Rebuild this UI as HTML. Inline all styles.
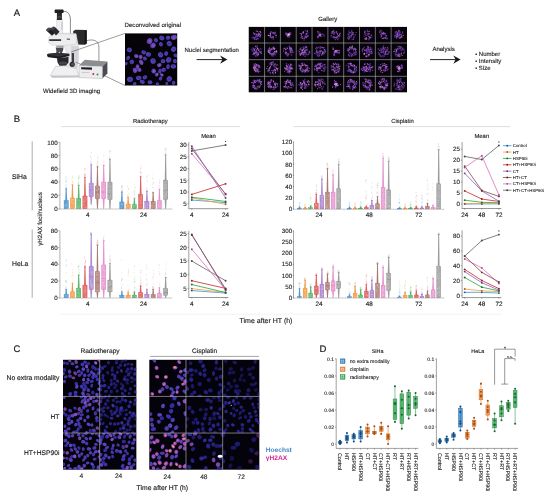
<!DOCTYPE html>
<html><head><meta charset="utf-8"><title>Figure</title>
<style>
html,body{margin:0;padding:0;background:#fff;}
svg{display:block;font-family:"Liberation Sans", sans-serif;text-rendering:geometricPrecision;}
</style></head>
<body>
<svg width="550" height="497" viewBox="0 0 550 497">
<defs>
<filter id="b1" x="-20%" y="-20%" width="140%" height="140%"><feGaussianBlur stdDeviation="0.45"/></filter>
<filter id="b2" x="-20%" y="-20%" width="140%" height="140%"><feGaussianBlur stdDeviation="0.7"/></filter>
<filter id="b3" x="-20%" y="-20%" width="140%" height="140%"><feGaussianBlur stdDeviation="0.3"/></filter>
</defs>
<rect x="0" y="0" width="550" height="497" fill="#fff"/>
<g id="panelA">
<text x="13.7" y="15.9" font-size="9.5" text-anchor="start" fill="#202020" stroke="#202020" stroke-width="0.19" >A</text>
<g id="scope">
<path d="M62.5 11.6 C67.5 10.5 70.4 14 70.4 20 L70.4 34" fill="none" stroke="#3a3a3a" stroke-width="0.6"/>
<path d="M86 41 C93 38.5 98.9 40.5 98.9 47 L98.9 61" fill="none" stroke="#6a6a6a" stroke-width="0.7"/>
<path d="M73.2 31 L75.6 29.7 L86.7 30 L86.7 43.6 L84.6 44.8 L73.2 44.4 Z" fill="#2a2a2c"/>
<path d="M84.6 31.2 L86.7 30 L86.7 43.6 L84.6 44.8 Z" fill="#18181a"/>
<path d="M62 33 L76 33.5 L78.6 46 L78.4 60 L76.8 70 L78.6 77 L52 77.3 L50.6 75.3 L55.6 66.5 L66 66 L68 56 L64.6 47 L60 45.6 Z" fill="#e9e9ec" stroke="#b9b9bf" stroke-width="0.35"/>
<path d="M71 46 L78.6 46 L78.4 60 L76.8 70 L73 70 Z" fill="#d4d4da"/>
<path d="M55.6 66.5 L66 66 L76.8 69 L78.8 77 L52 77.4 L50.4 75.4 Z" fill="#f0f0f2" stroke="#b5b5bb" stroke-width="0.35"/>
<path d="M50.4 75.4 L52 77.4 L78.8 77 L78.6 75.6 Z" fill="#c4c4ca"/>
<path d="M51 35.2 Q54 33.6 60 33.8 L76.2 34.2 L76.6 44 L62 45.8 L51 45 Q48.2 43.6 48.4 39.8 Q48.4 36.6 51 35.2 Z" fill="#ededf0" stroke="#b9b9bf" stroke-width="0.35"/>
<rect x="49.3" y="39.2" width="11.8" height="1.8" fill="#35353a"/>
<rect x="66.8" y="38.6" width="3.2" height="1.2" fill="#55555c"/>
<rect x="56.8" y="19.6" width="5.8" height="13.6" fill="#efeff2" stroke="#b9b9bf" stroke-width="0.35"/>
<rect x="61.3" y="22" width="1.3" height="8" fill="#c9c9cf"/>
<rect x="56.9" y="13" width="5" height="7" fill="#2b2b2e"/>
<rect x="54.6" y="9.6" width="9" height="3.4" rx="0.8" fill="#1f1f22"/>
<rect x="57.6" y="16.4" width="3.6" height="1.2" fill="#55555a"/>
<path d="M46 30.2 L50.4 27.8 L55.4 32.4 L52 35.8 Z" fill="#202024"/>
<path d="M50.6 29 L55 27 L59.6 31.8 L56 35.4 Z" fill="#2a2a2f"/>
<ellipse cx="48.4" cy="29.4" rx="2.3" ry="1.5" fill="#48484f" transform="rotate(-28 48.4 29.4)"/>
<ellipse cx="52.9" cy="28.2" rx="2.3" ry="1.5" fill="#48484f" transform="rotate(-28 52.9 28.2)"/>
<path d="M55.6 47.4 L63.4 47.6 L63.2 50 L61.8 53.6 L60 53.6 L59.6 51.4 L57.8 53.4 L56.2 53 L56.4 50.4 Z" fill="#4a4a50"/>
<rect x="56.2" y="45.6" width="7.4" height="2" fill="#a6a6ac"/>
<path d="M47 54.8 Q47 53.6 49 53.4 L58 52.8 L69.4 53.8 L69.4 56 L58.6 58.6 L48.4 57.2 Q46.8 56.6 47 54.8 Z" fill="#1f1f23"/>
<path d="M47.4 54.6 L58 52.9 L69.2 53.9 L58.8 56.6 Z" fill="#34343a"/>
<path d="M57 58 L68.6 57 L68.4 62.4 L66 65.6 L59.6 65.8 L57.6 62.6 Z" fill="#26262a"/>
<ellipse cx="62.8" cy="63" rx="4.2" ry="1.5" fill="#45454c"/>
<rect x="71.6" y="53" width="2.4" height="9" fill="#3c3c42"/>
<circle cx="72.2" cy="64.3" r="2.6" fill="#2a2a2e"/>
<circle cx="72.6" cy="64.3" r="1.4" fill="#55555c"/>
</g>
<line x1="71" y1="52" x2="125" y2="33.4" stroke="#4a4a4a" stroke-width="0.55" />
<line x1="75.7" y1="62" x2="125" y2="85.5" stroke="#4a4a4a" stroke-width="0.55" />
<g id="ctrl">
<path d="M79 65.6 L84.8 59.8 L107.4 61.4 L102.4 66.4 Z" fill="#8e8e92"/>
<path d="M102.4 66.4 L107.4 61.4 L107.4 73.4 L102.4 78.6 Z" fill="#4c4c50"/>
<path d="M79 65.6 L102.4 66.4 L102.4 78.6 L79 77.6 Z" fill="#ececee" stroke="#8a8a8e" stroke-width="0.35"/>
<rect x="81.2" y="67.2" width="10.8" height="2.1" fill="#1c1c1f" transform="rotate(2 81 67)"/>
<circle cx="93.3" cy="74" r="1" fill="#d02626"/>
<circle cx="97.5" cy="74.4" r="1" fill="#2d9a3c"/>
<rect x="81.6" y="72" width="8" height="0.5" fill="#aaa" transform="rotate(2 81 72)"/>
</g>
<text x="71.6" y="92.9" font-size="6.05" text-anchor="middle" fill="#202020" stroke="#202020" stroke-width="0.12" >Widefield 3D imaging</text>
<text x="152.8" y="26.8" font-size="6.08" text-anchor="middle" fill="#202020" stroke="#202020" stroke-width="0.12" >Deconvolved original</text>
<rect x="125" y="33.4" width="52.2" height="52.1" fill="#050208"/>
<g filter="url(#b1)" clip-path="url(#clipA)">
<ellipse cx="149.57" cy="41.1" rx="3.13" ry="2.68" fill="#6648be" opacity="0.92" transform="rotate(119 149.57 41.1)"/>
<circle cx="149.87" cy="41.3" r="1.47" fill="#a058c0" opacity="0.6"/>
<ellipse cx="155.93" cy="40.23" rx="2.19" ry="2" fill="#5444c0" opacity="0.92" transform="rotate(48 155.93 40.23)"/>
<circle cx="155.54" cy="40.24" r="0.78" fill="#2a1e80" opacity="0.4"/>
<ellipse cx="161.79" cy="37.98" rx="2.61" ry="2.26" fill="#5444c0" opacity="0.92" transform="rotate(24 161.79 37.98)"/>
<circle cx="161.72" cy="37.47" r="0.9" fill="#2a1e80" opacity="0.4"/>
<ellipse cx="168.03" cy="37.73" rx="2.24" ry="2.02" fill="#5444c0" opacity="0.92" transform="rotate(162 168.03 37.73)"/>
<circle cx="167.46" cy="38.33" r="0.78" fill="#2a1e80" opacity="0.4"/>
<ellipse cx="173.89" cy="37.36" rx="3.16" ry="2.47" fill="#6648be" opacity="0.92" transform="rotate(157 173.89 37.36)"/>
<circle cx="174.19" cy="37.56" r="1.32" fill="#a058c0" opacity="0.6"/>
<ellipse cx="153.06" cy="45.47" rx="2.95" ry="2.45" fill="#6648be" opacity="0.92" transform="rotate(135 153.06 45.47)"/>
<circle cx="153.36" cy="45.67" r="1.32" fill="#a058c0" opacity="0.6"/>
<ellipse cx="160.92" cy="44.22" rx="2.27" ry="1.9" fill="#5444c0" opacity="0.92" transform="rotate(61 160.92 44.22)"/>
<circle cx="161.06" cy="44.61" r="0.9" fill="#2a1e80" opacity="0.4"/>
<ellipse cx="169.28" cy="43.59" rx="2.73" ry="2.43" fill="#5444c0" opacity="0.92" transform="rotate(50 169.28 43.59)"/>
<circle cx="169.31" cy="43.82" r="1.01" fill="#2a1e80" opacity="0.4"/>
<ellipse cx="173.64" cy="49.21" rx="2.85" ry="2.47" fill="#5444c0" opacity="0.92" transform="rotate(117 173.64 49.21)"/>
<circle cx="173.89" cy="49.06" r="1.01" fill="#2a1e80" opacity="0.4"/>
<ellipse cx="129.36" cy="49.83" rx="2.56" ry="2.32" fill="#5444c0" opacity="0.92" transform="rotate(21 129.36 49.83)"/>
<circle cx="129.65" cy="49.57" r="0.9" fill="#2a1e80" opacity="0.4"/>
<ellipse cx="143.7" cy="52.33" rx="2.37" ry="2.02" fill="#5444c0" opacity="0.92" transform="rotate(17 143.7 52.33)"/>
<circle cx="143.79" cy="51.77" r="0.9" fill="#2a1e80" opacity="0.4"/>
<ellipse cx="148.44" cy="54.45" rx="2.59" ry="2.27" fill="#5444c0" opacity="0.92" transform="rotate(17 148.44 54.45)"/>
<circle cx="149.17" cy="55" r="1.01" fill="#2a1e80" opacity="0.4"/>
<ellipse cx="136.22" cy="56.07" rx="2.24" ry="1.98" fill="#6648be" opacity="0.92" transform="rotate(13 136.22 56.07)"/>
<circle cx="136.52" cy="56.27" r="1.18" fill="#a058c0" opacity="0.6"/>
<ellipse cx="140.58" cy="56.94" rx="2.2" ry="2.05" fill="#6648be" opacity="0.92" transform="rotate(101 140.58 56.94)"/>
<circle cx="140.88" cy="57.14" r="1.03" fill="#a058c0" opacity="0.6"/>
<ellipse cx="160.54" cy="54.82" rx="2.8" ry="2.42" fill="#5444c0" opacity="0.92" transform="rotate(50 160.54 54.82)"/>
<circle cx="160.99" cy="54.46" r="1.01" fill="#2a1e80" opacity="0.4"/>
<ellipse cx="166.16" cy="53.57" rx="2.29" ry="2.04" fill="#5444c0" opacity="0.92" transform="rotate(104 166.16 53.57)"/>
<circle cx="166.52" cy="53.03" r="0.9" fill="#2a1e80" opacity="0.4"/>
<ellipse cx="175.51" cy="55.45" rx="2.08" ry="1.69" fill="#5444c0" opacity="0.92" transform="rotate(15 175.51 55.45)"/>
<circle cx="175.47" cy="55.43" r="0.78" fill="#2a1e80" opacity="0.4"/>
<ellipse cx="128.11" cy="57.94" rx="2.31" ry="1.73" fill="#5444c0" opacity="0.92" transform="rotate(130 128.11 57.94)"/>
<circle cx="127.73" cy="58.23" r="0.78" fill="#2a1e80" opacity="0.4"/>
<ellipse cx="144.95" cy="58.56" rx="2.03" ry="1.91" fill="#5444c0" opacity="0.92" transform="rotate(29 144.95 58.56)"/>
<circle cx="144.82" cy="59.17" r="0.78" fill="#2a1e80" opacity="0.4"/>
<ellipse cx="131.85" cy="61.93" rx="2.24" ry="2.29" fill="#5444c0" opacity="0.92" transform="rotate(151 131.85 61.93)"/>
<circle cx="131.57" cy="62.48" r="0.9" fill="#2a1e80" opacity="0.4"/>
<ellipse cx="125.99" cy="63.55" rx="1.77" ry="1.55" fill="#5444c0" opacity="0.92" transform="rotate(154 125.99 63.55)"/>
<circle cx="126.14" cy="63.13" r="0.67" fill="#2a1e80" opacity="0.4"/>
<ellipse cx="141.21" cy="62.31" rx="2.82" ry="1.98" fill="#6648be" opacity="0.92" transform="rotate(66 141.21 62.31)"/>
<circle cx="141.51" cy="62.51" r="1.18" fill="#a058c0" opacity="0.6"/>
<ellipse cx="153.06" cy="61.06" rx="2.8" ry="2.71" fill="#5444c0" opacity="0.92" transform="rotate(75 153.06 61.06)"/>
<circle cx="152.86" cy="60.31" r="1.12" fill="#2a1e80" opacity="0.4"/>
<ellipse cx="163.04" cy="61.06" rx="2.36" ry="2.18" fill="#5444c0" opacity="0.92" transform="rotate(3 163.04 61.06)"/>
<circle cx="163.18" cy="60.88" r="0.9" fill="#2a1e80" opacity="0.4"/>
<ellipse cx="168.65" cy="59.81" rx="2.82" ry="2.63" fill="#5444c0" opacity="0.92" transform="rotate(123 168.65 59.81)"/>
<circle cx="169.18" cy="59.23" r="1.01" fill="#2a1e80" opacity="0.4"/>
<ellipse cx="174.89" cy="61.06" rx="2.16" ry="1.91" fill="#5444c0" opacity="0.92" transform="rotate(79 174.89 61.06)"/>
<circle cx="175.4" cy="61.45" r="0.78" fill="#2a1e80" opacity="0.4"/>
<ellipse cx="159.3" cy="65.05" rx="2.38" ry="1.97" fill="#6648be" opacity="0.92" transform="rotate(161 159.3 65.05)"/>
<circle cx="159.6" cy="65.25" r="1.18" fill="#a058c0" opacity="0.6"/>
<ellipse cx="168.03" cy="66.67" rx="2.44" ry="1.73" fill="#5444c0" opacity="0.92" transform="rotate(99 168.03 66.67)"/>
<circle cx="168.5" cy="66.8" r="0.78" fill="#2a1e80" opacity="0.4"/>
<ellipse cx="173.39" cy="66.42" rx="2.8" ry="2.17" fill="#5444c0" opacity="0.92" transform="rotate(9 173.39 66.42)"/>
<circle cx="173.41" cy="66.03" r="1.01" fill="#2a1e80" opacity="0.4"/>
<ellipse cx="137.47" cy="66.67" rx="2.34" ry="1.81" fill="#6648be" opacity="0.92" transform="rotate(107 137.47 66.67)"/>
<circle cx="137.77" cy="66.87" r="1.03" fill="#a058c0" opacity="0.6"/>
<ellipse cx="134.97" cy="70.42" rx="2.72" ry="2.17" fill="#6648be" opacity="0.92" transform="rotate(75 134.97 70.42)"/>
<circle cx="135.27" cy="70.62" r="1.18" fill="#a058c0" opacity="0.6"/>
<ellipse cx="139.34" cy="69.79" rx="2.23" ry="2.03" fill="#6648be" opacity="0.92" transform="rotate(17 139.34 69.79)"/>
<circle cx="139.64" cy="69.99" r="1.03" fill="#a058c0" opacity="0.6"/>
<ellipse cx="163.66" cy="69.79" rx="2.31" ry="2.11" fill="#5444c0" opacity="0.92" transform="rotate(167 163.66 69.79)"/>
<circle cx="164.16" cy="69.95" r="0.9" fill="#2a1e80" opacity="0.4"/>
<ellipse cx="153.68" cy="71.04" rx="2.4" ry="2.32" fill="#6648be" opacity="0.92" transform="rotate(52 153.68 71.04)"/>
<circle cx="153.98" cy="71.24" r="1.18" fill="#a058c0" opacity="0.6"/>
<ellipse cx="159.92" cy="71.04" rx="2.34" ry="1.68" fill="#5444c0" opacity="0.92" transform="rotate(105 159.92 71.04)"/>
<circle cx="159.85" cy="70.5" r="0.78" fill="#2a1e80" opacity="0.4"/>
<ellipse cx="156.8" cy="74.41" rx="2.05" ry="1.8" fill="#6648be" opacity="0.92" transform="rotate(146 156.8 74.41)"/>
<circle cx="157.1" cy="74.61" r="1.03" fill="#a058c0" opacity="0.6"/>
<ellipse cx="161.79" cy="74.78" rx="2.11" ry="1.45" fill="#6648be" opacity="0.92" transform="rotate(35 161.79 74.78)"/>
<circle cx="162.09" cy="74.98" r="0.88" fill="#a058c0" opacity="0.6"/>
<ellipse cx="129.98" cy="79.4" rx="3.11" ry="2.64" fill="#5444c0" opacity="0.92" transform="rotate(168 129.98 79.4)"/>
<circle cx="130.35" cy="79.43" r="1.01" fill="#2a1e80" opacity="0.4"/>
<ellipse cx="138.71" cy="77.9" rx="2.8" ry="2.16" fill="#5444c0" opacity="0.92" transform="rotate(4 138.71 77.9)"/>
<circle cx="138.68" cy="77.7" r="0.9" fill="#2a1e80" opacity="0.4"/>
<ellipse cx="144.95" cy="77.28" rx="2.42" ry="1.9" fill="#5444c0" opacity="0.92" transform="rotate(153 144.95 77.28)"/>
<circle cx="145.14" cy="77.25" r="0.9" fill="#2a1e80" opacity="0.4"/>
<ellipse cx="142.21" cy="81.89" rx="2.67" ry="2.03" fill="#5444c0" opacity="0.92" transform="rotate(18 142.21 81.89)"/>
<circle cx="141.61" cy="81.96" r="0.9" fill="#2a1e80" opacity="0.4"/>
<ellipse cx="149.94" cy="82.27" rx="2.34" ry="2.02" fill="#5444c0" opacity="0.92" transform="rotate(180 149.94 82.27)"/>
<circle cx="149.48" cy="82.84" r="0.78" fill="#2a1e80" opacity="0.4"/>
<ellipse cx="160.54" cy="78.52" rx="2.13" ry="1.68" fill="#5444c0" opacity="0.92" transform="rotate(121 160.54 78.52)"/>
<circle cx="161.04" cy="78.98" r="0.78" fill="#2a1e80" opacity="0.4"/>
<ellipse cx="169.28" cy="78.9" rx="2.79" ry="2.54" fill="#5444c0" opacity="0.92" transform="rotate(127 169.28 78.9)"/>
<circle cx="169.39" cy="79.1" r="1.01" fill="#2a1e80" opacity="0.4"/>
<ellipse cx="134.72" cy="83.76" rx="1.85" ry="1.62" fill="#5444c0" opacity="0.92" transform="rotate(155 134.72 83.76)"/>
<circle cx="134.27" cy="83.33" r="0.67" fill="#2a1e80" opacity="0.4"/>
<ellipse cx="173.64" cy="82.89" rx="2.02" ry="1.75" fill="#5444c0" opacity="0.92" transform="rotate(106 173.64 82.89)"/>
<circle cx="173.92" cy="82.75" r="0.78" fill="#2a1e80" opacity="0.4"/>
<ellipse cx="166.78" cy="83.51" rx="1.67" ry="1.35" fill="#5444c0" opacity="0.92" transform="rotate(112 166.78 83.51)"/>
<circle cx="166.75" cy="83.55" r="0.56" fill="#2a1e80" opacity="0.4"/>
<ellipse cx="157.43" cy="84.14" rx="1.91" ry="1.59" fill="#5444c0" opacity="0.92" transform="rotate(79 157.43 84.14)"/>
<circle cx="157.53" cy="84.12" r="0.67" fill="#2a1e80" opacity="0.4"/>
</g>
<defs><clipPath id="clipA"><rect x="125" y="33.4" width="52.2" height="52.1"/></clipPath></defs>
<text x="211.7" y="51.7" font-size="6" text-anchor="middle" fill="#202020" stroke="#202020" stroke-width="0.12" >Nuclei segmentation</text>
<line x1="196.6" y1="59.6" x2="224.4" y2="59.6" stroke="#1a1a1a" stroke-width="0.95" />
<path d="M227.4 59.6 L220.1 55.5 L222.4 59.6 L220.1 63.7 Z" fill="#1a1a1a"/>
<text x="443.6" y="51.2" font-size="6" text-anchor="middle" fill="#202020" stroke="#202020" stroke-width="0.12" >Analysis</text>
<line x1="430" y1="59.6" x2="457.6" y2="59.6" stroke="#1a1a1a" stroke-width="0.95" />
<path d="M460.6 59.6 L453.3 55.5 L455.6 59.6 L453.3 63.7 Z" fill="#1a1a1a"/>
<text x="475.2" y="55.5" font-size="5.5" text-anchor="start" fill="#202020" stroke="#202020" stroke-width="0.11" >•</text>
<text x="478.8" y="55.5" font-size="6" text-anchor="start" fill="#202020" stroke="#202020" stroke-width="0.12" >Number</text>
<text x="475.2" y="62.5" font-size="5.5" text-anchor="start" fill="#202020" stroke="#202020" stroke-width="0.11" >•</text>
<text x="478.8" y="62.5" font-size="6" text-anchor="start" fill="#202020" stroke="#202020" stroke-width="0.12" >Intensity</text>
<text x="475.2" y="69.5" font-size="5.5" text-anchor="start" fill="#202020" stroke="#202020" stroke-width="0.11" >•</text>
<text x="478.8" y="69.5" font-size="6" text-anchor="start" fill="#202020" stroke="#202020" stroke-width="0.12" >Size</text>
<text x="327.8" y="20.6" font-size="6" text-anchor="middle" fill="#202020" stroke="#202020" stroke-width="0.12" >Gallery</text>
<rect x="248.75" y="26.9" width="158.25" height="65.4" fill="#060309"/>
<g filter="url(#b3)" stroke-linecap="round" fill="none">
<path d="M258.29 35.43h0M259.2 34.17h0M254.16 37.39h0M252.27 37.64h0M256.79 35.32h0M255.76 34.08h0M257.96 38.68h0M254.28 38.71h0M252.49 37.58h0M257.12 36.15h0M255.9 35.96h0M256.38 39.28h0" stroke="#4a2a98" stroke-width="1.7" opacity="0.9"/>
<path d="M256.5 34.73h0M254.99 38.64h0M254.45 39.3h0M260.12 37.05h0M253.95 34.34h0M259.25 36.45h0M258.23 35.49h0M256.38 34.87h0M257.91 35.75h0M260.87 34.4h0M257.85 38.85h0M256.75 33.91h0M260.87 32.86h0M257.06 36.38h0M260.55 36.46h0M259.14 33.86h0" stroke="#6a3cb4" stroke-width="1.4" opacity="0.85"/>
<path d="M255.77 37.39h0M254.6 33.63h0M259.66 34.82h0M256.92 31.23h0M256.2 39.51h0M258.59 34.25h0" stroke="#9a55cc" stroke-width="1.15" opacity="0.85"/>
<path d="M254.35 33.85h0M260.51 31.65h0M258.78 33.09h0M257.04 34.48h0M257.58 31.56h0M258.45 35.12h0M257.09 38.28h0M253.96 37.71h0M256.2 30.82h0M260.44 32.27h0M258.91 33.51h0M259.9 35h0" stroke="#d070c4" stroke-width="1.0" opacity="0.9"/>
<path d="M260.7 35.44h0M259.24 31.67h0" stroke="#f09aa8" stroke-width="0.9" opacity="0.9"/>
<path d="M253.36 32.87h0" stroke="#fbd6dc" stroke-width="0.7" opacity="0.9"/>
<path d="M271.91 37.06h0M271.06 31.49h0M270.78 31.91h0M270.6 35.43h0M273.61 33.19h0M273.17 36.78h0M271.41 31.88h0" stroke="#4a2a98" stroke-width="1.7" opacity="0.9"/>
<path d="M270.88 37.58h0M273.15 38.95h0M272.37 32.93h0M276.08 36.99h0M275.01 34.28h0M270.07 36.82h0M269.39 35.57h0M275.43 32.32h0M272.66 36.94h0" stroke="#6a3cb4" stroke-width="1.4" opacity="0.85"/>
<path d="M273.99 32.39h0M270.53 33.81h0M270.72 32.77h0M270.41 35.9h0M275.55 35.47h0M271.38 37.85h0M270 33.3h0" stroke="#9a55cc" stroke-width="1.15" opacity="0.85"/>
<path d="M273.09 32.3h0M273.22 36.86h0M274.05 33.69h0M275.13 33.29h0M270.52 36.26h0M270.49 34.59h0M273.05 37.78h0" stroke="#d070c4" stroke-width="1.0" opacity="0.9"/>
<path d="M276.4 35.2h0M270.24 33.67h0M268.09 35.27h0M268.98 35.58h0" stroke="#f09aa8" stroke-width="0.9" opacity="0.9"/>
<path d="M268.55 35.58h0" stroke="#fbd6dc" stroke-width="0.7" opacity="0.9"/>
<path d="M289.56 34.48h0M287.99 35.3h0M286.45 33.38h0M286.43 34.37h0M288.01 35.31h0M288.13 34.38h0M289.31 34.4h0M288.24 34.98h0M288.99 35.04h0M289.01 33.6h0M288.25 37h0" stroke="#4a2a98" stroke-width="1.7" opacity="0.9"/>
<path d="M288.82 35.18h0M289.11 34.65h0M288.3 35.72h0M288.6 34.07h0M289.71 33.19h0M287.43 33.76h0M286.94 35.24h0M289.61 36.93h0" stroke="#6a3cb4" stroke-width="1.4" opacity="0.85"/>
<path d="M289.23 35.61h0M285.82 33.94h0M286.99 35.52h0M285.66 34.21h0M288.35 35.03h0M288.52 33.34h0M288.41 34.96h0M289.05 35.97h0" stroke="#9a55cc" stroke-width="1.15" opacity="0.85"/>
<path d="M290.64 34.16h0M286 33h0M290.85 33.04h0M289.79 32.75h0M287.57 36.64h0" stroke="#d070c4" stroke-width="1.0" opacity="0.9"/>
<path d="M288.67 34.97h0M288.11 35.56h0M288.32 34.34h0M288.43 34.92h0M289.39 34.66h0M288.44 35.13h0M287.4 35.26h0" stroke="#f09aa8" stroke-width="0.9" opacity="0.9"/>
<path d="M288.73 33.72h0M288.28 34.58h0M288.46 34.9h0M287.48 34h0M289.87 34.17h0M289.43 34.83h0" stroke="#fbd6dc" stroke-width="0.7" opacity="0.9"/>
<path d="M307.74 32.92h0M304.75 36.95h0M301.31 37.31h0M305.23 36.71h0M305.78 35.95h0M303.51 31.81h0M305.98 37.83h0M305.71 36.13h0M308.05 35.91h0M306.51 33.91h0" stroke="#4a2a98" stroke-width="1.7" opacity="0.9"/>
<path d="M306.77 33.42h0M301.29 34.8h0M308.02 36.2h0M305.32 30.67h0M306.11 34.29h0M307.63 35.46h0M302.26 33.12h0M304.06 39.92h0M302.97 32.2h0M307.78 36.56h0" stroke="#6a3cb4" stroke-width="1.4" opacity="0.85"/>
<path d="M301.68 33.57h0M301.18 37.91h0M306.05 36.96h0M303.2 38.07h0M302.55 36.69h0M303.31 32.82h0M307.01 31.27h0M302.44 38.43h0M307.41 30.93h0M305.53 36.3h0" stroke="#9a55cc" stroke-width="1.15" opacity="0.85"/>
<path d="M301.49 34.87h0M306.53 37.44h0M303.36 32.86h0M301.49 36.23h0M304.47 38.37h0M306.2 33.81h0M306.87 36.33h0" stroke="#d070c4" stroke-width="1.0" opacity="0.9"/>
<path d="M300.14 33.56h0M307.35 31.08h0" stroke="#f09aa8" stroke-width="0.9" opacity="0.9"/>
<path d="M303.52 31.97h0" stroke="#fbd6dc" stroke-width="0.7" opacity="0.9"/>
<path d="M318.81 35.87h0M323.73 34.68h0M319.79 34.94h0M320.16 34.77h0M320.42 33.93h0" stroke="#4a2a98" stroke-width="1.7" opacity="0.9"/>
<path d="M321.67 36.39h0M321.4 36.19h0M319 34.17h0M319.79 35.13h0M319.85 34.89h0M319.5 34.48h0M318.72 34.3h0M322.45 34.17h0M317.9 37.86h0M321.13 34.41h0M317.95 36.57h0M318.6 35.77h0M319.75 34.87h0M324.16 36.07h0M319.98 35.06h0M320.12 35.09h0" stroke="#6a3cb4" stroke-width="1.4" opacity="0.85"/>
<path d="M318.18 37.15h0M318.16 32.82h0M320.19 35.61h0M317.94 31.7h0M320.62 34.25h0M320.01 35.26h0" stroke="#9a55cc" stroke-width="1.15" opacity="0.85"/>
<path d="M320.11 35.93h0M320.03 34.8h0M319.38 34.88h0M320.34 34.79h0M317.5 36.65h0M319.93 35.68h0" stroke="#d070c4" stroke-width="1.0" opacity="0.9"/>
<path d="M320.21 35.82h0M317.91 31.61h0M319.87 33.03h0" stroke="#f09aa8" stroke-width="0.9" opacity="0.9"/>
<path d="M337.44 37.27h0M334.99 37.15h0M337.8 36.02h0M338.19 38.06h0M331.93 31.78h0M333.84 34.16h0" stroke="#4a2a98" stroke-width="1.7" opacity="0.9"/>
<path d="M336.36 32.72h0M339.68 33.61h0M336.92 37.06h0M337.13 36.55h0M336.33 31.88h0M339.77 36.17h0M334.26 33.05h0M331.33 33.27h0M334.78 38.05h0M337.38 33.64h0M338.77 35.56h0M334.82 32.83h0M339.59 36.49h0M333.2 36.64h0M332.25 32.1h0" stroke="#6a3cb4" stroke-width="1.4" opacity="0.85"/>
<path d="M336.77 37.59h0M335.3 37.62h0M336.2 31.73h0M332.22 33h0M336.93 32.05h0M333.13 33.23h0M335.25 39.56h0M333.69 30.41h0M333.09 37.42h0M331.43 35.68h0M333.84 36.89h0M334.83 37.4h0M331.1 35.9h0" stroke="#9a55cc" stroke-width="1.15" opacity="0.85"/>
<path d="M340.34 33.2h0M334.09 32.11h0M339.7 34.8h0M337.86 39.63h0M339.9 34.91h0" stroke="#d070c4" stroke-width="1.0" opacity="0.9"/>
<path d="M336.48 37.98h0M333.05 31.49h0M338.47 35.72h0" stroke="#f09aa8" stroke-width="0.9" opacity="0.9"/>
<path d="M337.66 34.18h0M332.84 31.92h0" stroke="#fbd6dc" stroke-width="0.7" opacity="0.9"/>
<path d="M349.25 33.06h0M351.33 36.34h0M348.55 36.46h0M355.39 34.87h0M354.12 36.73h0M348.07 34.47h0M351.65 30.75h0M351.94 32.37h0" stroke="#4a2a98" stroke-width="1.7" opacity="0.9"/>
<path d="M353.08 34.76h0M352.02 33.48h0M353.66 38.84h0M352.91 34.53h0M351.65 31.15h0M349.03 39.03h0M353.53 39.2h0M349.62 38.12h0M349.35 32.78h0M350.59 32.68h0" stroke="#6a3cb4" stroke-width="1.4" opacity="0.85"/>
<path d="M348.6 38.9h0M355.99 32.48h0M349.46 36.63h0M349.16 37.67h0M353.25 34.76h0M348.96 31.14h0M351.34 35.29h0M353.76 37.83h0" stroke="#9a55cc" stroke-width="1.15" opacity="0.85"/>
<path d="M350.92 35.54h0M352.94 32.67h0M350.91 37.04h0M352.13 39.28h0M348.96 34.8h0" stroke="#d070c4" stroke-width="1.0" opacity="0.9"/>
<path d="M353.23 33.09h0M352.02 34.55h0" stroke="#f09aa8" stroke-width="0.9" opacity="0.9"/>
<path d="M347.71 37.94h0" stroke="#fbd6dc" stroke-width="0.7" opacity="0.9"/>
<path d="M368.88 34.05h0M370.84 37.75h0M369.02 39.61h0M368.43 38.99h0M371.59 35.69h0M365.73 37.7h0M364.65 32.05h0M366.07 33.34h0M367.47 30.31h0" stroke="#4a2a98" stroke-width="1.7" opacity="0.9"/>
<path d="M369.59 38.14h0M367.41 31.59h0M369.33 38.25h0M368.21 34.91h0M364.84 31.67h0M364.98 34.37h0" stroke="#6a3cb4" stroke-width="1.4" opacity="0.85"/>
<path d="M366.17 39.24h0M367.65 34.84h0M364.96 33.84h0M364.91 31.15h0M365.72 39.14h0M371.22 35.1h0M363.97 36h0M369.38 33.46h0M368.44 36.32h0M364.53 32.45h0M369.8 36.35h0M368.24 31.69h0" stroke="#9a55cc" stroke-width="1.15" opacity="0.85"/>
<path d="M366.57 37.85h0M364.56 38.83h0M365.97 35.62h0M366.64 39.05h0M366.7 38.42h0M369.62 31.39h0" stroke="#d070c4" stroke-width="1.0" opacity="0.9"/>
<path d="M365.41 38.93h0M368.05 33.44h0M370.69 37.21h0" stroke="#f09aa8" stroke-width="0.9" opacity="0.9"/>
<path d="M369.32 37.56h0" stroke="#fbd6dc" stroke-width="0.7" opacity="0.9"/>
<path d="M387.17 38.45h0M385.74 38.19h0M383.37 34.07h0M381.07 32.84h0M384.96 33.27h0M382.27 33.96h0M386.49 38.41h0M380.04 31.15h0M385.92 35.73h0M384.06 34.49h0" stroke="#4a2a98" stroke-width="1.7" opacity="0.9"/>
<path d="M380.49 34.45h0M384.83 38.01h0M386.63 35.62h0M384.77 33.36h0M381.08 36.76h0M383.95 37.55h0M383.73 38.42h0M385.23 33.91h0" stroke="#6a3cb4" stroke-width="1.4" opacity="0.85"/>
<path d="M381.89 31.93h0M381.78 36.04h0M382.37 38.4h0M387.09 38.74h0M381.97 33.66h0M381.31 36.7h0M385.2 33.79h0M383.42 32.4h0" stroke="#9a55cc" stroke-width="1.15" opacity="0.85"/>
<path d="M382.54 33.64h0M383.46 33.29h0M386.07 36.01h0M384 33.19h0" stroke="#d070c4" stroke-width="1.0" opacity="0.9"/>
<path d="M381.01 30.35h0M383 38.62h0M379.44 32.18h0M381.71 35.23h0" stroke="#f09aa8" stroke-width="0.9" opacity="0.9"/>
<path d="M385.65 37.84h0" stroke="#fbd6dc" stroke-width="0.7" opacity="0.9"/>
<path d="M397.45 35.84h0M398.58 30.57h0M396.95 34.01h0M396.01 35.37h0M398.79 33h0M396.66 36.32h0M394.71 36.12h0M394.78 36.75h0M398.14 37.05h0M397.82 34.25h0" stroke="#4a2a98" stroke-width="1.7" opacity="0.9"/>
<path d="M400.91 34.26h0M402.44 31.91h0M400.8 37.33h0M401.08 36.9h0M399.13 34.48h0M398.25 35.28h0M396.62 34.31h0M397.9 32.4h0M400.14 37.92h0M397.07 35.33h0M399.74 38.4h0M397.18 33.01h0M400.36 32.12h0M399.86 34.68h0M395.19 32.96h0" stroke="#6a3cb4" stroke-width="1.4" opacity="0.85"/>
<path d="M402.29 36.99h0M400.96 34.27h0M396.64 31.84h0M401.49 37.15h0M397.55 33.36h0M399.12 37.87h0M401.76 35.41h0M403.31 35.38h0M399.03 36.84h0M399.07 35.02h0M398.28 31.77h0M396.22 37.39h0M399.94 35.87h0M399.47 33h0M402.73 32.91h0M395.1 35.06h0" stroke="#9a55cc" stroke-width="1.15" opacity="0.85"/>
<path d="M396.76 38.27h0M399.05 30.45h0M400.48 37.59h0M397.49 34.42h0M397.13 36.33h0" stroke="#d070c4" stroke-width="1.0" opacity="0.9"/>
<path d="M399.12 31.35h0M401.33 36.37h0M397.01 36.28h0" stroke="#f09aa8" stroke-width="0.9" opacity="0.9"/>
<path d="M395.92 31.84h0" stroke="#fbd6dc" stroke-width="0.7" opacity="0.9"/>
<path d="M255.16 52.21h0M260.8 48.89h0M255.91 46.31h0M253.76 52.47h0M255.89 51.57h0M258.89 52.87h0M260.75 52.29h0M257.16 53.28h0M253.34 51.11h0M253 54.35h0M257.77 55.39h0M255.98 46.77h0M252.47 50.72h0M258.46 53.64h0M251.83 49.36h0M254.35 49.14h0" stroke="#4a2a98" stroke-width="1.7" opacity="0.9"/>
<path d="M255.2 55.31h0M256.46 52.11h0M255.18 48.43h0M261.09 51.3h0M255.07 54.94h0M254.02 52.98h0M253.37 54.39h0M252.99 48.02h0M261.45 53.55h0M255.85 56.62h0M255.46 51.15h0M256.35 53.01h0M256.43 51.07h0M260.34 52.8h0M257.63 55.63h0" stroke="#6a3cb4" stroke-width="1.4" opacity="0.85"/>
<path d="M257.07 52.19h0M256.1 51.21h0M258.22 54.27h0M256.2 51.25h0M257.01 55.33h0M254.15 49.68h0M259.37 51.51h0M254.46 49.58h0M254.36 52.97h0M255.27 53.17h0M257.7 48.55h0M258.72 49.03h0M257.26 47.41h0" stroke="#9a55cc" stroke-width="1.15" opacity="0.85"/>
<path d="M253.27 49.01h0M256.65 54.4h0M255.4 46.32h0M259.1 50h0M258.36 50.5h0M257.99 53.13h0M256.61 49.77h0" stroke="#d070c4" stroke-width="1.0" opacity="0.9"/>
<path d="M257.67 48.44h0M255.89 52.39h0M257.36 48.93h0M258.25 49.91h0M254.39 50.45h0M258.21 54.51h0M253.82 53.6h0" stroke="#f09aa8" stroke-width="0.9" opacity="0.9"/>
<path d="M257.02 45.92h0M254.63 53.84h0M260.9 52.14h0" stroke="#fbd6dc" stroke-width="0.7" opacity="0.9"/>
<path d="M268.53 49.64h0M276.23 53.02h0M270.37 50.95h0M272.94 55.94h0M273.97 49.46h0M274.46 48.82h0M269.51 51.85h0M269.96 53h0M272.56 47.92h0M269.06 49.89h0M271.85 54.45h0M269.27 52.07h0M272.21 49.11h0M269.93 52.97h0M269.41 48.38h0" stroke="#4a2a98" stroke-width="1.7" opacity="0.9"/>
<path d="M274.36 53.98h0M272.04 53.67h0M270.1 54.22h0M273.73 53.86h0M274.89 48.19h0M269.64 49.96h0M269.69 53.43h0M270.91 50.01h0M274.9 52.23h0M274.47 52.09h0M273.92 54.68h0M269.34 50.85h0M275.48 54.89h0M273.59 53.06h0M273.91 53.33h0M273.36 47.47h0" stroke="#6a3cb4" stroke-width="1.4" opacity="0.85"/>
<path d="M276.6 51.1h0M270.81 53.39h0M276.5 51.76h0M273.18 48.76h0M271.68 55.77h0M274.75 53.05h0M268.72 50.11h0M268.81 52.39h0M268.69 50.44h0M276.18 51.11h0M272.55 53.66h0M273.6 53.96h0M270.19 53.48h0" stroke="#9a55cc" stroke-width="1.15" opacity="0.85"/>
<path d="M269.32 47.91h0M273.63 53.03h0M274.3 49.49h0M269.97 49.07h0M272.79 54.74h0M271.03 49.24h0M268.19 51.11h0M273.61 47.14h0M273.32 48.37h0M275.1 51.9h0M268.31 51.23h0M271.47 54.13h0M276.36 50.67h0M271.76 49.27h0M271.26 48.93h0" stroke="#d070c4" stroke-width="1.0" opacity="0.9"/>
<path d="M276.18 51.38h0M276.09 51.58h0M274.16 48.65h0M269.57 52.41h0M268.09 51.16h0M276.97 51.94h0" stroke="#f09aa8" stroke-width="0.9" opacity="0.9"/>
<path d="M268.59 51.94h0M270.08 51.03h0M274.28 48.23h0M274.79 51.5h0" stroke="#fbd6dc" stroke-width="0.7" opacity="0.9"/>
<path d="M289.86 49.96h0M286 48.23h0M291.51 54.95h0M291.07 49.41h0M291.4 52.02h0M292.48 51.32h0M287.9 55.67h0M291.21 49.78h0M289.55 46.9h0M290.57 51.85h0M292.71 51.96h0M286.31 54.3h0M291.15 47.84h0M287.06 48.2h0M290.87 52.44h0" stroke="#4a2a98" stroke-width="1.7" opacity="0.9"/>
<path d="M290.04 49.86h0M284.39 48.33h0M285.08 53.08h0M286.01 53.63h0M288.85 54.38h0M291.12 49.34h0M285.62 49.59h0M290.25 50.92h0M290.93 52.78h0M285.89 49.9h0M291.95 49.15h0M286.22 52.96h0M290.22 47.82h0" stroke="#6a3cb4" stroke-width="1.4" opacity="0.85"/>
<path d="M287.11 55.77h0M287.47 53.54h0M286.45 52.02h0M285.5 52.5h0M289.95 48.74h0M290.36 49.23h0M288.41 53.72h0M292.9 52.52h0M284.67 48.38h0M289.46 46.1h0M290.91 49.56h0M285.47 53.37h0M288.75 54.08h0M290.06 47.68h0M285.49 52.06h0" stroke="#9a55cc" stroke-width="1.15" opacity="0.85"/>
<path d="M290.87 50.72h0M287.82 54.92h0M283.86 48.99h0M289.32 48.28h0M283.62 51.12h0M290.15 52.2h0M286.59 52.78h0M290.76 48.34h0M287.68 48.28h0" stroke="#d070c4" stroke-width="1.0" opacity="0.9"/>
<path d="M285.91 49.52h0M292.11 50.57h0" stroke="#f09aa8" stroke-width="0.9" opacity="0.9"/>
<path d="M291.46 48.73h0" stroke="#fbd6dc" stroke-width="0.7" opacity="0.9"/>
<path d="M304.14 48.37h0M307.05 50.48h0M301.66 50.02h0M309.52 52.72h0M302.93 51.5h0M309.65 51.53h0M301.99 53.77h0M303.38 52.8h0M300.39 54.33h0M305.94 52.76h0M302.68 49.9h0M304.29 53.91h0M303.51 47.03h0M304.08 53.59h0M303.78 55h0M305.03 50.61h0M304.8 51.95h0M305.72 54.04h0" stroke="#4a2a98" stroke-width="1.7" opacity="0.9"/>
<path d="M303.7 53.16h0M302.42 50.64h0M301.66 50.24h0M305.71 47.54h0M307.05 54.69h0M301.44 52.89h0M306.68 54.01h0M301.86 51.73h0M305.5 46.53h0M305.16 52.31h0M298.5 50.88h0M301.12 52.62h0M302.05 50.51h0M307.26 49.25h0M309.53 52.88h0M303.7 53.03h0" stroke="#6a3cb4" stroke-width="1.4" opacity="0.85"/>
<path d="M300.58 53.65h0M309.16 51.34h0M306.19 49.64h0M300.2 48.53h0M300.58 54.43h0M301.15 47.85h0M304.41 47.96h0M302.04 50.58h0M303.03 54.87h0M300.6 55.35h0M305.19 50.57h0M302.72 52.78h0M308.6 52.95h0M300.14 49.19h0M300.4 53.81h0M305.76 47.83h0M299.31 53.71h0" stroke="#9a55cc" stroke-width="1.15" opacity="0.85"/>
<path d="M300.11 55.13h0M303.35 52.35h0M306.83 46.88h0M301.42 54.05h0M301.72 53.65h0" stroke="#d070c4" stroke-width="1.0" opacity="0.9"/>
<path d="M302.37 50.54h0M299.42 51.77h0M305.1 56.23h0M304.73 50.97h0M305.13 52.11h0M303.12 54.09h0M300.15 49.72h0M303.03 49.51h0" stroke="#f09aa8" stroke-width="0.9" opacity="0.9"/>
<path d="M303.79 49.69h0M303.24 48.24h0M302.48 52.35h0M308.21 54.73h0M306.49 47.22h0M305.97 49.87h0M304.73 52.19h0" stroke="#fbd6dc" stroke-width="0.7" opacity="0.9"/>
<path d="M319.51 53.94h0M321.56 55.09h0M319.56 53.64h0M320.8 51.08h0M315.86 53.18h0M316.79 51.61h0M320.43 53.02h0M323.52 53.61h0M318.2 54.8h0M321.11 47.42h0M317.17 51.18h0M323.25 52.11h0M317.63 48.07h0M320.45 50.45h0M320.53 47.25h0M320.6 46.51h0M324.62 49.63h0" stroke="#4a2a98" stroke-width="1.7" opacity="0.9"/>
<path d="M318.68 47.36h0M321.09 47.64h0M325.31 50.78h0M324.41 49.53h0M323.91 52.3h0M319.37 51.59h0M324.7 51.87h0M324.25 52.25h0M316.93 54.59h0M323.4 48.13h0M322.3 53.4h0M319.03 52.85h0M323.55 53.89h0M318.94 47.19h0M318.06 52.01h0M320.14 48.37h0M324.5 53.21h0" stroke="#6a3cb4" stroke-width="1.4" opacity="0.85"/>
<path d="M317.58 55.84h0M314.49 53.32h0M316.68 47.31h0M324.62 50.07h0M317.48 52.94h0M319.35 55.33h0M319.44 50.97h0M318.89 56.35h0M324.3 49.62h0" stroke="#9a55cc" stroke-width="1.15" opacity="0.85"/>
<path d="M316.48 51.24h0M317.02 52.46h0M325.6 51.96h0M321.51 50.8h0M323.96 47.44h0M321.99 54.8h0" stroke="#d070c4" stroke-width="1.0" opacity="0.9"/>
<path d="M322.58 47.52h0M320.33 51.61h0M316.48 50.01h0M322.46 51.98h0M322.59 53.75h0" stroke="#f09aa8" stroke-width="0.9" opacity="0.9"/>
<path d="M315.83 48.38h0M322.9 52.29h0" stroke="#fbd6dc" stroke-width="0.7" opacity="0.9"/>
<path d="M336.73 50.75h0M336.13 51.68h0M336.39 50.5h0M334.19 52.81h0M335.84 51.39h0M333.8 55.1h0M334.06 51.98h0M334.73 51.65h0" stroke="#4a2a98" stroke-width="1.7" opacity="0.9"/>
<path d="M336.16 50.95h0M337.52 52.43h0M339.3 53.35h0M334.6 55.44h0M336.03 51.68h0M336 52.86h0M336.86 51.21h0M335.69 51.34h0M335.91 50.69h0M339.35 52.47h0M335.83 51.21h0M335.84 51.19h0M338.86 50.81h0M335.1 51.44h0M336.28 50.78h0M335.44 51.73h0M332.96 48.95h0M335.94 51h0M333.6 54.18h0M339.01 52.85h0" stroke="#6a3cb4" stroke-width="1.4" opacity="0.85"/>
<path d="M339.53 50.59h0M335.15 50.43h0M337.79 50.19h0M335.67 52.38h0M335.3 51.41h0M339.2 52.47h0M332.97 47.92h0M335.93 51.05h0M337.76 53.04h0M337.72 52.21h0M333.2 49.04h0M334.81 52.52h0" stroke="#9a55cc" stroke-width="1.15" opacity="0.85"/>
<path d="M335.32 51.61h0M333.56 49.3h0M336.04 50.57h0M336.66 51.03h0M336.42 51.89h0M334.7 51.26h0M335.87 50.82h0M336 50.92h0" stroke="#d070c4" stroke-width="1.0" opacity="0.9"/>
<path d="M334.45 53.99h0M337.94 50.67h0M335.9 50.65h0M335.96 51.01h0" stroke="#f09aa8" stroke-width="0.9" opacity="0.9"/>
<path d="M349.77 53.02h0M350.22 46.67h0M356.3 52.57h0M354.61 54.86h0M347.66 49.17h0M355.66 54.55h0M351.48 56.13h0M351.31 54h0M348.72 51.12h0M353.86 53.34h0" stroke="#4a2a98" stroke-width="1.7" opacity="0.9"/>
<path d="M352.81 48.58h0M349.09 55.39h0M356.23 49.37h0M352.19 47.19h0M352.47 45.74h0M353.88 50.94h0M349.12 49.4h0M351.55 48.88h0M353.29 49.29h0M355.98 54.38h0M355.99 51.7h0M355.23 49.03h0M353.98 53.11h0M348.42 55.58h0M350.89 53.65h0M353.78 49.8h0M354.61 48.13h0M348.66 49.7h0M347.71 50.53h0M349.58 56.01h0M354.56 49.12h0M348.63 48.72h0" stroke="#6a3cb4" stroke-width="1.4" opacity="0.85"/>
<path d="M354.78 52.6h0M352.27 48.21h0M349.85 49.13h0M349.09 52.46h0M355.21 52.88h0M350.26 48.21h0M355.52 50.53h0" stroke="#9a55cc" stroke-width="1.15" opacity="0.85"/>
<path d="M351.18 55.69h0M355.51 49.17h0M353.67 49.03h0M355.03 48.75h0M348.19 50.55h0M349.56 48.07h0M349.1 49.76h0M353.01 55.62h0M351.3 47.08h0" stroke="#d070c4" stroke-width="1.0" opacity="0.9"/>
<path d="M352.42 54.3h0M348.77 54.35h0M351.03 47.89h0" stroke="#f09aa8" stroke-width="0.9" opacity="0.9"/>
<path d="M352.06 47.11h0M349.78 47.51h0M352.3 46.93h0" stroke="#fbd6dc" stroke-width="0.7" opacity="0.9"/>
<path d="M371.78 49.32h0M362.38 50.1h0M367.83 51.36h0M364.05 53.68h0M367.17 50.92h0M366.53 49.33h0M367.61 50.33h0M368.11 49.74h0M364.14 47.3h0M366.81 55.89h0M366.63 51.05h0M368.49 55.8h0M367.95 50.83h0M371.62 53.46h0M367.73 52.04h0M369.79 49.39h0M368.11 51.01h0M366.75 53.29h0M368.15 55.55h0M364.62 53.33h0M370.57 47.85h0" stroke="#4a2a98" stroke-width="1.7" opacity="0.9"/>
<path d="M367.76 47.83h0M363.08 48.69h0M366.73 49.22h0M369.11 51.89h0M370.06 50.9h0M362.33 50.86h0M369.07 52.36h0M363.9 54.01h0M370.43 53.04h0M370.32 51.35h0M368.47 54.85h0M368.29 47.42h0M368.77 54.9h0M369.22 54.81h0M366.16 49.76h0M369.71 52.29h0M369.23 50.61h0" stroke="#6a3cb4" stroke-width="1.4" opacity="0.85"/>
<path d="M370.04 47.77h0M366.86 56.83h0M368.23 47.29h0M364.94 50.22h0M366.28 50.66h0M368.54 49.64h0M365.9 56.44h0M365.67 56.08h0M371.55 51.27h0M362.72 51.77h0M371.75 53.34h0M372.22 52.23h0M369.12 53.89h0M368.04 46.49h0" stroke="#9a55cc" stroke-width="1.15" opacity="0.85"/>
<path d="M366.76 53.29h0M364.91 50.75h0M366.47 56.21h0M364.9 49.78h0M367.91 46.56h0M371.81 51.26h0" stroke="#d070c4" stroke-width="1.0" opacity="0.9"/>
<path d="M368.57 54.64h0M368 48.46h0M369.29 54.89h0M364.34 53.41h0M364.11 54.23h0M364.56 54.17h0M370.72 49.29h0" stroke="#f09aa8" stroke-width="0.9" opacity="0.9"/>
<path d="M363.1 49.07h0" stroke="#fbd6dc" stroke-width="0.7" opacity="0.9"/>
<path d="M383.03 47.62h0M382.86 51.91h0M379.05 54.28h0M380.91 56.32h0M385.88 53.92h0M388.19 53.37h0M385.11 52.94h0M383.64 47.96h0M387.03 49.45h0M383.31 51.5h0M381.84 50.01h0M381.24 49.15h0M380.57 51.98h0M384.65 54.42h0M381.22 56.33h0M380.86 48.65h0" stroke="#4a2a98" stroke-width="1.7" opacity="0.9"/>
<path d="M383.03 55.71h0M386.8 54h0M383.94 51.27h0M383.24 47.32h0M385.7 47.62h0M383.05 48.84h0M380.2 55.88h0M385.5 53.58h0M386.27 51.66h0M388.03 48.86h0M381.75 52.52h0M386.45 51.67h0M379.11 49.96h0M388.98 52.43h0M386.15 50.87h0M383.07 56.83h0M378.21 52.78h0" stroke="#6a3cb4" stroke-width="1.4" opacity="0.85"/>
<path d="M385.11 49.44h0M387.64 50.93h0M383.13 48.16h0M383.62 52.83h0M386.82 50.03h0M384.71 55.99h0M387.82 54.41h0M381.67 51.95h0M385.46 51.65h0M381.7 52.23h0M383.94 50.12h0M383.64 45.81h0M381.74 50.75h0M382.81 49.59h0M380.17 55.02h0" stroke="#9a55cc" stroke-width="1.15" opacity="0.85"/>
<path d="M385.04 54.22h0M378.15 48.8h0M379.27 53.77h0M387.44 47.66h0" stroke="#d070c4" stroke-width="1.0" opacity="0.9"/>
<path d="M385.42 52.11h0M389.04 51.75h0M384.13 48.24h0M379.87 50.51h0" stroke="#f09aa8" stroke-width="0.9" opacity="0.9"/>
<path d="M397.98 48.32h0M397.07 49.76h0M395.87 52.51h0M396.33 51.9h0M398.53 56.11h0M398.31 48.96h0M402.92 49.19h0M403.52 49.24h0M398.54 53.6h0M399.55 56.36h0M400.13 49.02h0M404.17 49.99h0M398.87 54.03h0" stroke="#4a2a98" stroke-width="1.7" opacity="0.9"/>
<path d="M402.61 48.24h0M397.23 55.85h0M399.86 48.04h0M404.41 51.91h0M399.95 48.03h0M394.79 51.13h0M401.15 46.82h0M399.74 48.39h0M395.67 55.07h0M396.97 49.46h0M396.86 51.89h0M393.73 51.51h0M402.57 48.78h0M401.66 53.2h0M395.95 48.83h0M397 54.39h0M404.06 52.64h0M398.67 54.63h0" stroke="#6a3cb4" stroke-width="1.4" opacity="0.85"/>
<path d="M396.85 56.22h0M398.5 55.76h0M399.25 46.63h0M399.99 56h0M401.1 54.36h0M403.7 53.27h0M397.43 48.22h0M401.82 47.81h0M401.15 50.58h0M395.13 53.88h0M400.37 48.03h0M396.98 54.65h0" stroke="#9a55cc" stroke-width="1.15" opacity="0.85"/>
<path d="M394.97 49.66h0M394.14 51.54h0M399.53 54.3h0M396.26 50.09h0M401.08 55.08h0M401.96 49.75h0M402.39 55.57h0M396.41 50.97h0M401.11 53.19h0M400.24 46.93h0" stroke="#d070c4" stroke-width="1.0" opacity="0.9"/>
<path d="M399.3 56.1h0M398.17 55.49h0M398.14 46.31h0" stroke="#f09aa8" stroke-width="0.9" opacity="0.9"/>
<path d="M396.54 50.47h0" stroke="#fbd6dc" stroke-width="0.7" opacity="0.9"/>
<path d="M254.9 70.42h0M254.69 66.12h0M257.95 64.93h0M258.44 72.35h0M256.5 65.17h0M255.85 64.85h0M257.88 70.56h0M253.53 67.85h0M257.77 71.51h0M256.65 71.16h0M258.39 65.14h0M259.13 67.33h0M254.51 67.33h0M254.81 64.56h0M255.49 70.76h0M256.3 70.96h0" stroke="#4a2a98" stroke-width="1.7" opacity="0.9"/>
<path d="M256.17 66.32h0M256.85 68.68h0M256.42 68.7h0M253.75 68.22h0M257.16 70.65h0M256.98 64.91h0M259.07 65.93h0M258.6 67.22h0M257.7 69.3h0M254.12 66.74h0M256.65 65.99h0M255.54 69.88h0M254.2 68.15h0M253.61 66.32h0M258.92 67.29h0M257.7 69.12h0" stroke="#6a3cb4" stroke-width="1.4" opacity="0.85"/>
<path d="M260.12 66.99h0M253.62 68.62h0M256.48 68.06h0M256.42 71.79h0M257.78 71.11h0M255.82 70.74h0M256.6 65.04h0M259.89 71.32h0M258.63 65.71h0M255.34 70.45h0" stroke="#9a55cc" stroke-width="1.15" opacity="0.85"/>
<path d="M259.5 65.81h0M255.65 67.03h0M254.23 67.97h0M254.04 68.83h0M258.26 71.25h0M254.96 70.47h0M254.22 70.5h0M253.93 64.07h0M253.41 67.42h0M256.47 64.43h0M255.71 67.78h0M255.74 63.68h0M256.07 69.18h0" stroke="#d070c4" stroke-width="1.0" opacity="0.9"/>
<path d="M259 66.76h0M257.15 70.31h0M254.33 65.81h0M255.01 68.7h0M255.27 65.98h0M254.56 67.23h0M254.53 69.56h0M257.27 66.03h0M258.15 69.16h0M255.46 71.73h0" stroke="#f09aa8" stroke-width="0.9" opacity="0.9"/>
<path d="M255.62 67.96h0" stroke="#fbd6dc" stroke-width="0.7" opacity="0.9"/>
<path d="M272.72 72.47h0M273.18 72.04h0M270.83 65.17h0M273.07 64.34h0M268.99 70.18h0M276.18 68.73h0M270.82 63.31h0M271.91 64.14h0M272.88 61.98h0M275.61 66.98h0M273.88 70.21h0M276.96 69.25h0M269.34 70.22h0M275.36 69.77h0M267.76 70.51h0M269.46 68.31h0M271.8 64.76h0M274.49 70.63h0" stroke="#4a2a98" stroke-width="1.7" opacity="0.9"/>
<path d="M270.07 67.54h0M273.51 65.71h0M273.33 61.97h0M271.5 62.36h0M276.16 65.61h0M275.07 67.22h0M269.18 70.75h0M271.71 63.39h0M270.35 73.39h0M270.56 73.06h0M273.16 62.76h0M270.17 66.94h0M275.04 67.34h0" stroke="#6a3cb4" stroke-width="1.4" opacity="0.85"/>
<path d="M275.8 64.33h0M275.34 70.45h0M275.91 64.41h0M277.53 68.9h0M274.76 69.3h0M270.08 72.23h0M273.49 70.81h0M272.58 70.74h0M267.64 66.51h0M274.2 66.08h0M276.45 67.94h0M275.32 73.28h0M271.96 62.55h0M269.96 67.61h0M271.75 70.49h0" stroke="#9a55cc" stroke-width="1.15" opacity="0.85"/>
<path d="M275.65 72.45h0M269.89 68.58h0M266.76 68.42h0M274.55 69.41h0M273.28 73.86h0M277.16 68.99h0M278.04 68.44h0M276.45 68.42h0M270.98 62.78h0M275.83 71.15h0M274.82 69.63h0M275.11 70.49h0M269.65 63.93h0" stroke="#d070c4" stroke-width="1.0" opacity="0.9"/>
<path d="M275.07 63.7h0M268.97 70.17h0M269.68 68.05h0M268.25 69.08h0M271.33 64.69h0M270.61 66.42h0M277.11 68.92h0M274.54 64.78h0M268.07 71.74h0" stroke="#f09aa8" stroke-width="0.9" opacity="0.9"/>
<path d="M277.29 64.86h0M272.45 72.69h0M275.19 72.76h0M277.44 70.88h0" stroke="#fbd6dc" stroke-width="0.7" opacity="0.9"/>
<path d="M291.66 64.96h0M290.88 71.6h0M290.7 65.61h0M290.29 67.99h0M286.58 63.68h0M285.45 68.4h0M286.47 67.98h0M289.14 68.92h0M290.71 68.68h0M288.51 66.46h0M288.58 70.93h0M286.57 69.91h0M288.64 71.49h0M286.7 66.67h0M288.21 71.77h0M287.54 65.99h0" stroke="#4a2a98" stroke-width="1.7" opacity="0.9"/>
<path d="M288.34 70.71h0M286.7 69.29h0M291.45 68.14h0M288.03 71.19h0M291.2 64.61h0M288.68 67.92h0M287.35 69.63h0M289.1 69.8h0M290.44 65.42h0M288.33 64.39h0M289.45 71.4h0M290.56 71.66h0" stroke="#6a3cb4" stroke-width="1.4" opacity="0.85"/>
<path d="M287 68.34h0M289.52 66.07h0M291.74 68.43h0M285.63 68.5h0M290.22 66.56h0M292.69 68.19h0M286.24 65.24h0M289.62 67.68h0M290 70.79h0M290.7 69.7h0M290.81 63.94h0M291.61 67.16h0M289.92 65.58h0M289.1 72.88h0" stroke="#9a55cc" stroke-width="1.15" opacity="0.85"/>
<path d="M290.28 67.54h0M289.02 68.98h0M286.63 65.39h0M284.43 67.65h0M287.61 69.72h0M284.71 71.29h0M285.77 69.98h0M290.43 64.62h0M289.05 72.12h0M287.85 67.71h0M291.95 69.45h0M291.84 68.47h0M286.93 68.88h0" stroke="#d070c4" stroke-width="1.0" opacity="0.9"/>
<path d="M290.3 68.58h0M287.43 66.6h0M287.15 72.14h0M289.15 71.84h0M286.58 68.13h0" stroke="#f09aa8" stroke-width="0.9" opacity="0.9"/>
<path d="M289.87 70.77h0M285.03 68.64h0M286.76 66.31h0" stroke="#fbd6dc" stroke-width="0.7" opacity="0.9"/>
<path d="M308.09 70.54h0M301.53 65.91h0M301.62 65.45h0M304.68 71.3h0M307.84 67.15h0M304.08 71.6h0M302.65 63.17h0M300.57 68.04h0M300.47 67.6h0M301.54 71.44h0M302.68 70.84h0M308.89 70.54h0M302.64 71.55h0" stroke="#4a2a98" stroke-width="1.7" opacity="0.9"/>
<path d="M307.38 65.38h0M307.39 68.62h0M305.46 65.92h0M300.57 65.74h0M299.51 68.97h0M299.93 68.09h0M301.26 70.4h0M307.25 67.18h0M301.27 63.5h0M300.78 69.1h0M303.59 70.47h0M307.83 68.35h0M304.64 70.57h0M306.73 68.41h0M302.33 63.84h0M304.78 72.24h0M306.51 70.5h0M306.93 65.72h0" stroke="#6a3cb4" stroke-width="1.4" opacity="0.85"/>
<path d="M302.52 65.23h0M298.86 65.77h0M305.1 64.56h0M305.1 71.51h0M299.39 65.55h0M305.85 67.01h0M304.2 65.02h0M307.82 67.8h0M302.45 63.97h0M299.04 65.03h0M307.41 69.17h0M305.18 70.02h0M303.35 69.85h0M299.1 66.13h0M305.71 65.35h0M305.86 70.44h0" stroke="#9a55cc" stroke-width="1.15" opacity="0.85"/>
<path d="M304.54 64.09h0M300.51 70.02h0M299.68 65.87h0M306.4 69.78h0M305.53 71.53h0M309.59 68.32h0M300.41 68.09h0M300.82 66.5h0M303.13 65.23h0M308.36 71.07h0" stroke="#d070c4" stroke-width="1.0" opacity="0.9"/>
<path d="M302.21 69.15h0M307.14 70.23h0M306.08 65.37h0M302 65.84h0M305.21 69.94h0M305.91 69.65h0" stroke="#f09aa8" stroke-width="0.9" opacity="0.9"/>
<path d="M302.65 71.71h0M307.07 71.94h0M306.79 65.49h0M301.26 67.52h0M300.78 68.71h0M302.89 64.85h0" stroke="#fbd6dc" stroke-width="0.7" opacity="0.9"/>
<path d="M316.58 67.31h0M325.07 69.32h0M317.38 65.11h0M323.73 68.36h0M314.89 66.13h0M320.18 68.14h0M318.47 64.93h0M321.61 63.3h0M320.32 63.56h0M324.64 68.1h0M320.82 65.87h0M318.95 67.2h0M317.4 67.8h0" stroke="#4a2a98" stroke-width="1.7" opacity="0.9"/>
<path d="M315.29 66.24h0M320.39 68.22h0M317.27 70.93h0M324.88 66.32h0M316.65 70.4h0M319.7 67.57h0M315.07 69.75h0M323.93 67.94h0M322.71 64.94h0M317.77 63.96h0M320.4 66.99h0M321.19 66.63h0M317.6 68.06h0M314.86 69.56h0M324.34 64.49h0M323.17 65.22h0M318.71 72.61h0M318.7 63.1h0M317.18 71.08h0M317.78 70.27h0M322.03 67.04h0M316.67 67.78h0M318.55 68.63h0M316.55 68.34h0" stroke="#6a3cb4" stroke-width="1.4" opacity="0.85"/>
<path d="M323.57 68.75h0M319.74 63.83h0M319.8 65.19h0M320.54 66.15h0M324.22 70.89h0M320.87 63.23h0M316.66 65.27h0M314.62 68.23h0M320.22 69.03h0M321.59 70.2h0M325.96 67.24h0M318.99 67.43h0M314.64 69.72h0M317.02 69.67h0" stroke="#9a55cc" stroke-width="1.15" opacity="0.85"/>
<path d="M316.45 68.46h0M318.96 64.37h0M315.91 65.14h0M318.76 68.59h0M324.03 71.07h0M317 69.02h0M322.06 70.8h0M320.5 64.96h0M317.78 64.43h0M324.91 64.75h0M322.1 66.21h0" stroke="#d070c4" stroke-width="1.0" opacity="0.9"/>
<path d="M316.12 66.52h0M319.83 64.17h0M317.83 68.27h0" stroke="#f09aa8" stroke-width="0.9" opacity="0.9"/>
<path d="M319.59 68.04h0" stroke="#fbd6dc" stroke-width="0.7" opacity="0.9"/>
<path d="M333.52 63.71h0M336.45 67.51h0M333.32 67.56h0M336.21 67.48h0M335.02 70.15h0M337.39 71.42h0M336.87 66.89h0M334.94 72.69h0M338.27 63.97h0M336.84 72.23h0" stroke="#4a2a98" stroke-width="1.7" opacity="0.9"/>
<path d="M336.79 64.2h0M337.32 66.14h0M339.6 69.71h0M337.95 68.55h0M335.03 72.97h0M335.57 63.26h0M333.72 67.77h0M338.04 66.98h0M331.96 66.44h0M335.24 72.92h0M338.27 64.4h0M338.42 71.89h0M331.9 65.98h0M331.2 67.73h0M331.45 65.42h0M333.54 69.93h0M336.03 69.93h0M335.48 63.88h0M331.79 65.78h0" stroke="#6a3cb4" stroke-width="1.4" opacity="0.85"/>
<path d="M337.71 69.92h0M333.4 69.44h0M333.94 64.66h0M334.34 70.63h0M338.29 71.43h0M335.78 63.29h0M332.18 70.21h0M338.83 71.89h0M334.72 68.17h0M334.71 71.95h0" stroke="#9a55cc" stroke-width="1.15" opacity="0.85"/>
<path d="M334.16 71.17h0M332.94 69.46h0M339.48 68.37h0M339.76 68.36h0M332.08 66.3h0M336.57 72.71h0M334.51 64.5h0M336.49 64.81h0M336.67 72.73h0M336.01 70.11h0M340.07 66.1h0M332.03 69.42h0" stroke="#d070c4" stroke-width="1.0" opacity="0.9"/>
<path d="M339.02 66.25h0M339.02 70.69h0M336.87 66.71h0M335.02 68.09h0M338.14 69.02h0M334.93 71.46h0M338.74 64.95h0M333.28 63.69h0" stroke="#f09aa8" stroke-width="0.9" opacity="0.9"/>
<path d="M333.42 66.38h0M338.06 67.53h0M338.92 66.3h0" stroke="#fbd6dc" stroke-width="0.7" opacity="0.9"/>
<path d="M354.96 67.94h0M356.1 66.68h0M354.21 66.99h0M349.36 66.96h0M349.13 69.31h0M348.58 71.17h0M351.28 65.38h0M348.53 68.77h0M352.1 65.65h0M355.57 68.85h0M351.29 63.94h0M347.41 70.85h0M353.31 66.2h0M350.21 63.2h0M354.51 70.86h0M350 70.94h0M346.57 65.52h0M350.05 70.33h0M353.82 71.64h0" stroke="#4a2a98" stroke-width="1.7" opacity="0.9"/>
<path d="M355.97 66.57h0M354.91 70.08h0M351.01 72.21h0M350.29 70.61h0M353.74 64.82h0M348.8 70.13h0M354.32 66.22h0M353.03 72.18h0M352.76 72.97h0M355.8 71.86h0M355.28 72.06h0M351.67 70.41h0M350.27 64.63h0M351.79 72.42h0M351.15 65.16h0M349.93 71.52h0M348.97 66.83h0" stroke="#6a3cb4" stroke-width="1.4" opacity="0.85"/>
<path d="M356.31 70.74h0M353.38 72.39h0M351.32 63.22h0M350.55 63.87h0M353.5 71.71h0M348.67 65.94h0M352.15 65.01h0M356.46 69.21h0M353.15 71.52h0M354.52 68.74h0M351.83 71.81h0M350.82 71.76h0M351.68 70.86h0M350.34 69.73h0M350.3 70.75h0M350.78 63.76h0" stroke="#9a55cc" stroke-width="1.15" opacity="0.85"/>
<path d="M349.91 69.55h0M349.17 63.88h0M354.24 72.21h0M350.1 63.5h0M354.47 65.66h0M352.44 65.86h0M356.44 67.62h0" stroke="#d070c4" stroke-width="1.0" opacity="0.9"/>
<path d="M354.62 69.12h0M350.41 63.84h0M353.4 72.56h0M348.27 67.08h0M351.31 65.48h0" stroke="#f09aa8" stroke-width="0.9" opacity="0.9"/>
<path d="M348.11 63.79h0M354.3 65.72h0" stroke="#fbd6dc" stroke-width="0.7" opacity="0.9"/>
<path d="M364.83 69.56h0M363.35 67.57h0M369.89 65.47h0M370.01 68.05h0M370.51 67.58h0M370.32 70.71h0M365.71 67.66h0M370.19 69.4h0M370.12 65.68h0M363.1 66.57h0M366.68 68.69h0M364.49 71.79h0M368.73 69.64h0M361.52 68.84h0M368.98 68.41h0M363.59 66.86h0M368.07 69.78h0M370.06 71.41h0M367.1 68.16h0M364.52 64.22h0" stroke="#4a2a98" stroke-width="1.7" opacity="0.9"/>
<path d="M370.7 69.14h0M369.17 64.12h0M365.06 63.62h0M366.3 70.79h0M364.18 69.69h0M369.72 68.64h0M370.35 63.83h0M369.12 64.83h0M367.31 63.58h0M371.43 67.27h0M366 70.12h0M372.64 67.87h0M366.96 68.5h0M366.61 68.09h0M365.12 71.31h0M361.4 68.9h0M364.3 70.26h0M366.72 67.9h0M365.91 70.77h0M366.72 67.96h0M363.09 68.29h0" stroke="#6a3cb4" stroke-width="1.4" opacity="0.85"/>
<path d="M367.69 67.92h0M366.63 69.5h0M364.06 67.71h0M366.07 66.73h0M364.76 68.93h0M367.85 71.26h0M362.49 70.21h0M368.26 64.67h0M364.61 67.1h0M363.69 69.94h0M372.59 70.36h0M369.01 67.59h0M372.03 67.06h0" stroke="#9a55cc" stroke-width="1.15" opacity="0.85"/>
<path d="M364.83 64.49h0M366.19 67.01h0M363.53 67.79h0M372.86 66.69h0M366.54 71.12h0M365.97 66.46h0M371.51 67.69h0M366.22 68.06h0M368.32 69.57h0M365.58 70.43h0M370.03 67.73h0M366.79 66.14h0M369.11 66.49h0" stroke="#d070c4" stroke-width="1.0" opacity="0.9"/>
<path d="M367.38 64.09h0M367.03 71.52h0M366.16 69.19h0" stroke="#f09aa8" stroke-width="0.9" opacity="0.9"/>
<path d="M362.12 70.07h0" stroke="#fbd6dc" stroke-width="0.7" opacity="0.9"/>
<path d="M379.46 67.26h0M384.04 65.01h0M379.01 67.32h0M381.91 70.37h0M385.35 65.16h0M380.57 66.56h0M388.13 69.1h0M380.78 67.66h0M386.24 67.41h0M382.73 65.79h0M384.95 69.57h0M384.97 69.15h0M381.22 67.13h0M385.57 70.17h0M379.01 66.79h0" stroke="#4a2a98" stroke-width="1.7" opacity="0.9"/>
<path d="M384.67 65.42h0M386.88 67.26h0M387.36 70.06h0M384.97 71.16h0M383.21 63.88h0M385.77 70.19h0M381.49 70.67h0M382.47 63.77h0M380.84 68.82h0" stroke="#6a3cb4" stroke-width="1.4" opacity="0.85"/>
<path d="M382.18 72.47h0M386.84 64.57h0M385.09 67.05h0M387.49 66.52h0M380.68 64.48h0M384 70.73h0M380.24 69.76h0M385.46 70.74h0M385.95 64.94h0M380.48 68.66h0M385.54 68.23h0M382.64 72.38h0M379.11 69.03h0" stroke="#9a55cc" stroke-width="1.15" opacity="0.85"/>
<path d="M381.6 70.34h0M385.69 66.25h0M378.51 69.11h0M386.4 66.75h0M380.31 71.81h0M386.23 68.6h0M380.42 67.84h0M384.5 63.52h0M385.35 67.16h0M386.36 66.47h0" stroke="#d070c4" stroke-width="1.0" opacity="0.9"/>
<path d="M383.51 70.07h0M382.77 65.93h0M383.96 65.57h0M380.09 67.36h0" stroke="#f09aa8" stroke-width="0.9" opacity="0.9"/>
<path d="M379.2 67.74h0" stroke="#fbd6dc" stroke-width="0.7" opacity="0.9"/>
<path d="M400.14 69.87h0M396.96 67.59h0M399.16 67.74h0M398.29 71.46h0M402.16 67.57h0M399.43 68.25h0M399.08 68.01h0M399.39 66.7h0M399.45 67.23h0M399.07 67.9h0M399.05 67.81h0M398.09 68.17h0M400.17 68.1h0M399.63 68.38h0M399.15 67.29h0M401.61 65.39h0M396.43 66.81h0M397.48 66.45h0" stroke="#4a2a98" stroke-width="1.7" opacity="0.9"/>
<path d="M401.08 67.36h0M399.35 67.71h0M401.43 65.12h0M399.3 67.36h0M402.12 66.06h0M399.73 71.15h0M398.18 68.29h0M402.52 67.77h0M398.72 66.71h0M398.87 68.72h0" stroke="#6a3cb4" stroke-width="1.4" opacity="0.85"/>
<path d="M401.33 65.7h0M400.12 68.32h0M399.39 66.72h0M399.2 66.92h0M399.34 67.97h0M402.04 65.82h0M401.18 67.82h0M398.93 68.16h0M399.12 68.02h0M400.06 68.45h0M399.2 68.36h0M399.08 67.83h0" stroke="#9a55cc" stroke-width="1.15" opacity="0.85"/>
<path d="M399.88 66.94h0M399.25 68.47h0M399.78 68.63h0M398.55 68.12h0M397.87 71.37h0M398.9 69.26h0M398.99 67.32h0M399.37 67.17h0M398.12 69.29h0M399.57 66.94h0" stroke="#d070c4" stroke-width="1.0" opacity="0.9"/>
<path d="M399.07 68.51h0M397.24 66.49h0M399.08 67.48h0M401.01 68.42h0M398.1 65.92h0" stroke="#f09aa8" stroke-width="0.9" opacity="0.9"/>
<path d="M399.5 68.31h0M398.14 67.94h0M397.99 71.34h0M399.21 69.67h0M399.37 70.24h0" stroke="#fbd6dc" stroke-width="0.7" opacity="0.9"/>
<path d="M254.26 87.59h0M257.21 80.64h0M255.73 89.12h0M258.74 80.77h0M259.54 81.03h0M254.37 81.9h0M259.39 86.08h0M261.1 81.65h0M253.16 86.73h0M257.63 79.49h0M253.34 87.48h0M253.55 80.56h0M254.58 81.53h0M258.12 87.74h0" stroke="#4a2a98" stroke-width="1.7" opacity="0.9"/>
<path d="M254.38 81.8h0M261.73 81.69h0M254.46 80.12h0M253.68 83.86h0M258.61 86.84h0M255.2 88.1h0M259.14 80.11h0M259.82 81.17h0M253.1 87.15h0M253.49 85.66h0M255.39 80.69h0M259.73 82.06h0M259.16 79.9h0M260.48 85.81h0M259.98 79.63h0M260.39 82.68h0M258.84 82.06h0" stroke="#6a3cb4" stroke-width="1.4" opacity="0.85"/>
<path d="M257.63 80.68h0M252.45 85.57h0M252.32 82.53h0M253.35 82.73h0M253.4 85.39h0M254.51 86.56h0M260.44 81.57h0M256.43 81.73h0M254.97 85.99h0M253.36 87.14h0M256.18 80.87h0M256.71 88.09h0M258.01 86.16h0M259.75 86.74h0M259.64 79.91h0M255.35 82.61h0M254.9 80.48h0" stroke="#9a55cc" stroke-width="1.15" opacity="0.85"/>
<path d="M253.33 83.94h0M261.56 81.78h0M256.96 89.15h0M261.71 84.17h0M257.1 86.77h0M255.38 87.99h0M259.32 87.63h0M255.57 82.32h0M254.39 85.66h0" stroke="#d070c4" stroke-width="1.0" opacity="0.9"/>
<path d="M259.06 81.09h0M254.72 88.58h0M251.84 82.69h0" stroke="#f09aa8" stroke-width="0.9" opacity="0.9"/>
<path d="M260.97 84.22h0M254.36 82.04h0M260.65 83.65h0" stroke="#fbd6dc" stroke-width="0.7" opacity="0.9"/>
<path d="M275.85 83.52h0M271.27 86.74h0M268.2 81.62h0M277.43 86.13h0M270.11 84.68h0M277.48 83.97h0M268.43 82.3h0M270.27 81.03h0M275.51 87.23h0M271.29 79.91h0M273.46 81.72h0M274.91 84.64h0" stroke="#4a2a98" stroke-width="1.7" opacity="0.9"/>
<path d="M271.05 86.07h0M268.62 85.69h0M275.34 82.97h0M267.82 84.16h0M273.48 87.3h0M267.38 84.71h0M267.9 86.63h0M273.16 87.29h0M274.05 88.88h0M269.18 86.52h0M274.87 83.25h0M268.48 83.25h0M274.57 87.17h0M270.51 87.89h0M270.31 86.13h0M270.46 85.12h0M269.24 87.52h0M275.24 87.93h0M275.88 87.26h0" stroke="#6a3cb4" stroke-width="1.4" opacity="0.85"/>
<path d="M270.46 82.93h0M270.4 86.02h0M269.43 84.25h0M270.69 82.57h0M270.01 82.25h0M273.16 80.27h0M273.17 89.36h0M270.63 86.87h0M268.75 84.17h0M275.05 84.09h0M274.99 84.31h0M277.27 84.59h0" stroke="#9a55cc" stroke-width="1.15" opacity="0.85"/>
<path d="M276.04 87.09h0M273.82 81.99h0M269.51 85.95h0M269.25 82.28h0M273.55 81.19h0M267.9 82.53h0M275.01 86.91h0M271.59 86.64h0M273.4 86.98h0M276.94 83.36h0M274.99 84.09h0M269.79 82.57h0M271.19 81.17h0M268.12 83.68h0M274.66 83.79h0M275.34 85.5h0M271.35 79.99h0M271.95 87.63h0" stroke="#d070c4" stroke-width="1.0" opacity="0.9"/>
<path d="M268.5 87.04h0M275.52 84.59h0M269.18 83.67h0M271.04 87.1h0M268.51 83.23h0" stroke="#f09aa8" stroke-width="0.9" opacity="0.9"/>
<path d="M289.09 81.89h0M287.97 80.19h0M291.3 82.99h0M292.36 83.89h0M287.41 87.44h0M290.87 85.04h0M293.07 85.8h0M286 82.19h0M285.78 82.9h0M290.48 83.03h0M287.62 86.87h0" stroke="#4a2a98" stroke-width="1.7" opacity="0.9"/>
<path d="M288.46 81.89h0M286.33 83.77h0M286.14 83.36h0M288.09 81.84h0M289.81 87.75h0M291.62 87.83h0M286.62 81.22h0M285.27 86.42h0M289.88 81.54h0M286.27 87.33h0M284.2 86.79h0M284.04 86.44h0M289.8 80.88h0M287.68 80.23h0M287.67 80.05h0M288.43 81.71h0M288.59 86.56h0M292.64 82.61h0" stroke="#6a3cb4" stroke-width="1.4" opacity="0.85"/>
<path d="M288.36 82.08h0M285.95 84.48h0M286.4 86.84h0M287.6 80.11h0M289.51 82.55h0M284.33 87.03h0M285.11 83.08h0" stroke="#9a55cc" stroke-width="1.15" opacity="0.85"/>
<path d="M290.4 83.22h0M285.8 83.74h0M287.85 88.39h0M286.59 81.68h0M285.24 87.72h0M288.73 86.82h0M285.01 81.52h0M286.53 81.42h0M285.47 85.72h0M290.99 87.45h0M291.08 84.26h0M290.6 84.33h0M290.53 81.85h0M287.23 80.83h0M289.4 82.5h0M291.14 85.59h0" stroke="#d070c4" stroke-width="1.0" opacity="0.9"/>
<path d="M293.03 84.75h0M287.97 82.24h0M286.68 82.79h0" stroke="#f09aa8" stroke-width="0.9" opacity="0.9"/>
<path d="M290.31 80.44h0M284.13 86.51h0" stroke="#fbd6dc" stroke-width="0.7" opacity="0.9"/>
<path d="M298.94 84.62h0M305.86 86.11h0M300.87 86.77h0M302.18 86.03h0M304.63 83.29h0M304.72 88.1h0M301.88 83.52h0M305.02 83.64h0M302.54 84.69h0M301.11 83.17h0M307.84 85.78h0M300.23 84.61h0M300.05 84.81h0" stroke="#4a2a98" stroke-width="1.7" opacity="0.9"/>
<path d="M300.54 82.95h0M301.66 85.46h0M302.23 83.81h0M303.73 82.02h0M301.45 88.29h0M308.07 81.38h0M309.1 81.74h0M301.37 85.02h0M301.1 85.02h0M301.63 87.55h0M306.05 81.76h0M304.35 83.2h0M303.2 80.79h0M300.21 82.53h0M305.76 84.78h0M304.79 85.67h0M304.91 79.21h0M304.73 83.83h0M306.55 84.69h0" stroke="#6a3cb4" stroke-width="1.4" opacity="0.85"/>
<path d="M303.66 81.05h0M300.44 82.88h0M300.48 87.56h0M307.65 82.42h0M304.2 85.08h0M308.3 80.44h0M307.65 81.43h0M304.99 86.82h0" stroke="#9a55cc" stroke-width="1.15" opacity="0.85"/>
<path d="M303.9 82.42h0M308.61 84.56h0M301.23 88.2h0M308.94 82.12h0M309.31 84.34h0M303.68 82.85h0M304.6 80.99h0M304.9 88.07h0M302.51 83.5h0M304.44 83.83h0M302.69 83.8h0" stroke="#d070c4" stroke-width="1.0" opacity="0.9"/>
<path d="M306.32 84.74h0M305.96 87.85h0M301.95 87.14h0M304.74 82.9h0M300.25 82.95h0M308.53 83.99h0M302.4 89.39h0M301.73 84.19h0" stroke="#f09aa8" stroke-width="0.9" opacity="0.9"/>
<path d="M322.35 82.3h0M315.12 84.78h0M323.92 82.07h0M322.12 88.3h0M318.73 81.33h0M317.67 81.94h0M318.48 79.42h0M318.03 84.9h0M319.94 83.35h0M319.13 79.76h0M317.72 84.96h0" stroke="#4a2a98" stroke-width="1.7" opacity="0.9"/>
<path d="M320.2 87.5h0M315.78 86.64h0M322.44 81.61h0M320.36 84.92h0M318.81 87.01h0M315.87 84.91h0M322.23 89.21h0M318.22 85.36h0M324.96 84.16h0M322.62 82.45h0M321.9 79.29h0M323.31 86.89h0" stroke="#6a3cb4" stroke-width="1.4" opacity="0.85"/>
<path d="M319.83 85.09h0M315.48 81.9h0M316.2 82.19h0M317.13 81.45h0M319.7 87.82h0M320.41 84.34h0M322.03 81.77h0M315.55 81.66h0M319.28 80.55h0M319.59 80.03h0M318.05 84.36h0M320.12 80.86h0M320.57 80.98h0" stroke="#9a55cc" stroke-width="1.15" opacity="0.85"/>
<path d="M318.12 84.05h0M321.04 79.14h0M321.21 80.82h0M323.09 79.94h0M315.16 85.36h0M314.95 84.39h0M324.9 83.81h0M318.07 82.42h0M317.58 88.61h0M315.22 84.85h0M323.02 83.55h0M320 83.12h0M315.04 84.09h0M321.48 86.39h0" stroke="#d070c4" stroke-width="1.0" opacity="0.9"/>
<path d="M315.45 82.4h0M318.86 83.59h0M315.94 84.51h0M320.27 85.25h0M317.72 84.62h0" stroke="#f09aa8" stroke-width="0.9" opacity="0.9"/>
<path d="M320.65 83.07h0" stroke="#fbd6dc" stroke-width="0.7" opacity="0.9"/>
<path d="M336.92 85.13h0M335.65 84.26h0M336.33 83.56h0M335.42 85.68h0M336.9 85.49h0M335.92 84.65h0M335.39 84.16h0M337.5 83.74h0M334.63 83.85h0M335.39 87.6h0M337.85 85.31h0M335.35 84.4h0M335.68 86.48h0M335.4 84.28h0M335.72 84.68h0M334.49 83.82h0M337.77 85.55h0M335.98 84.09h0" stroke="#4a2a98" stroke-width="1.7" opacity="0.9"/>
<path d="M337.1 85.59h0M335.56 84.51h0M335.73 84.31h0M337.3 83.35h0M335.33 84.16h0M335.22 84.54h0M336.74 85.5h0M334.96 83.17h0M335.5 84.35h0M335.79 84.28h0M335.65 84.26h0M336.7 84.99h0M334.85 82.45h0M335.23 84.24h0M335.78 81.66h0M334.77 81.96h0M336.05 84.95h0" stroke="#6a3cb4" stroke-width="1.4" opacity="0.85"/>
<path d="M336.24 83.38h0M336.01 84.06h0M335.54 85.24h0M335.84 85.59h0M335.8 86.69h0M337.13 85.59h0M336.94 83.36h0M337.85 84.82h0M335.96 84.78h0M332.83 86.26h0M334.39 80.4h0M334.99 84.19h0" stroke="#9a55cc" stroke-width="1.15" opacity="0.85"/>
<path d="M335.86 84.19h0M335.22 84.68h0M332.59 87.39h0M336.26 83.73h0M336.51 83.77h0M336.95 84.41h0M337.09 83.56h0M335.73 84.23h0M335.95 81.62h0M335.89 84.04h0M336.86 83.35h0M336.11 85.36h0M340.48 84.42h0M335.59 84.27h0M335.75 83.62h0" stroke="#d070c4" stroke-width="1.0" opacity="0.9"/>
<path d="M336.3 83.86h0M335.86 84.54h0M335.64 84.32h0" stroke="#f09aa8" stroke-width="0.9" opacity="0.9"/>
<path d="M337.88 85.5h0M336.56 84.87h0M335.13 83.76h0M334.52 84.49h0" stroke="#fbd6dc" stroke-width="0.7" opacity="0.9"/>
<path d="M349.27 86.11h0M355.11 87.54h0M347.86 82.15h0M354.3 82h0M351.38 81.53h0M353.67 86.44h0M347.87 84.62h0M355.75 87.54h0M353.83 83.33h0M348.97 85.19h0M349.81 79.66h0M347.75 82.37h0M353.06 87.23h0M348.95 82.09h0M353.85 88.34h0M352.47 86.6h0M349.55 87.9h0" stroke="#4a2a98" stroke-width="1.7" opacity="0.9"/>
<path d="M351.01 79.45h0M352.4 89.45h0M356.84 83.25h0M348.52 85.71h0M356.76 82.05h0M350.53 88.09h0M346.98 86.55h0M352.24 81.98h0M353.72 81.76h0M347.61 86.56h0M354.48 81.22h0M354.46 84.06h0M353.86 80.72h0M348.79 81.44h0M355.81 83.93h0M356.35 84.33h0M350.9 82.09h0M347.89 83.26h0M352.96 86.71h0" stroke="#6a3cb4" stroke-width="1.4" opacity="0.85"/>
<path d="M350.39 79.68h0M348.9 86.4h0M350.42 79.29h0M350.98 81.39h0M353.84 82.49h0M349.32 84.7h0M355.64 86.19h0M351.33 79.92h0M352.81 82.17h0" stroke="#9a55cc" stroke-width="1.15" opacity="0.85"/>
<path d="M353.82 87.68h0M351.97 80.11h0M346.96 86.57h0M350.31 80.74h0M352.52 81.01h0M348.49 80.39h0M353.58 85.72h0M350.54 80.14h0M355.29 83.05h0M349.73 86.92h0" stroke="#d070c4" stroke-width="1.0" opacity="0.9"/>
<path d="M354.69 84.32h0M352.81 88.93h0M355.2 86.09h0M349.82 82.76h0M356.29 81.53h0" stroke="#f09aa8" stroke-width="0.9" opacity="0.9"/>
<path d="M354.47 87.18h0M348.41 86.61h0" stroke="#fbd6dc" stroke-width="0.7" opacity="0.9"/>
<path d="M370.4 83.95h0M369.98 86.37h0M365.7 86.66h0M364.78 85.51h0M366.53 88.74h0M363 82.49h0M363.07 84.07h0M365.41 87.14h0M368.39 86.6h0M364.89 83.17h0M368.6 79.9h0M366.71 80.51h0M369.48 88.54h0M368.92 86.51h0M369 83.2h0" stroke="#4a2a98" stroke-width="1.7" opacity="0.9"/>
<path d="M364.59 85.72h0M368.73 82.5h0M365.97 80.42h0M368.36 87.6h0M363.73 85.25h0M365.66 78.77h0M370.5 83.83h0M371.39 82.48h0M365.24 85.83h0M369.68 85.74h0M370.48 85.25h0M367.8 89.03h0" stroke="#6a3cb4" stroke-width="1.4" opacity="0.85"/>
<path d="M369.2 89.92h0M369.15 82.8h0M372.06 85.07h0M370.25 80.24h0M368.01 87.34h0M367.32 81.84h0M368.43 80.28h0M370.04 87.68h0M370.12 82.04h0M364.18 87h0M365.22 83.98h0M370.85 83.07h0M370.94 81.05h0M370.73 83.04h0M368.47 81.28h0M365.52 85.32h0" stroke="#9a55cc" stroke-width="1.15" opacity="0.85"/>
<path d="M369.51 80.16h0M366.56 86.92h0M367.34 81.69h0M366.99 81.81h0M367.86 82.01h0M369.72 89.74h0M369.76 85.26h0M367.01 87.09h0M365.6 86.69h0M366.96 87.2h0M369.67 89.6h0" stroke="#d070c4" stroke-width="1.0" opacity="0.9"/>
<path d="M363.13 85.82h0M365.9 82h0M368.94 82.85h0M364.97 79.29h0M369.92 84.93h0M371.97 85.14h0M366.81 79.61h0M370.41 85.91h0" stroke="#f09aa8" stroke-width="0.9" opacity="0.9"/>
<path d="M365.54 81.58h0" stroke="#fbd6dc" stroke-width="0.7" opacity="0.9"/>
<path d="M381.12 84.97h0M382.85 87.49h0M382.53 87.26h0M379.99 82.58h0M385.71 83.48h0M384.96 82.7h0M383.47 88.3h0M383.95 81.51h0M387.3 85.66h0M386.7 81.45h0M381.32 79.85h0M379.64 83.44h0M384.85 87.11h0M385.65 85.68h0" stroke="#4a2a98" stroke-width="1.7" opacity="0.9"/>
<path d="M380.72 83.54h0M383.62 87.07h0M381.4 86.1h0M386.35 85.36h0M382.35 86.93h0M387.6 85.48h0M380.04 83.34h0M387.87 83.57h0M384.14 78.78h0M381.3 82.04h0M380.24 87.64h0M382.9 78.76h0M386.3 80.87h0M384.45 80.2h0M378.65 82.93h0M386.42 81.74h0M383.38 78.91h0" stroke="#6a3cb4" stroke-width="1.4" opacity="0.85"/>
<path d="M383.88 88.3h0M380.13 87.53h0M387.01 84.07h0M383.05 80.68h0M386.15 80.17h0M386.29 87.36h0M385.98 88.13h0M385.34 87.55h0M385.31 84.61h0M382.13 86.63h0M382.22 87.29h0M386.65 85.54h0M378.78 83.17h0M382.05 79.11h0M382.53 86.48h0M387.32 83.46h0" stroke="#9a55cc" stroke-width="1.15" opacity="0.85"/>
<path d="M379.91 86.57h0M380.76 87.93h0M383.9 87.72h0M380.67 82.45h0M380.78 86.25h0M385.68 85.14h0M381.03 81.88h0M384.31 87.84h0M383.69 81.67h0M384.03 89.38h0M379.43 86.72h0M384.75 88.47h0M384.33 89.51h0" stroke="#d070c4" stroke-width="1.0" opacity="0.9"/>
<path d="M381.96 87.64h0M379.57 81.31h0M378.54 83.26h0M384.16 79.13h0M382.76 78.99h0" stroke="#f09aa8" stroke-width="0.9" opacity="0.9"/>
<path d="M382.13 81.86h0M380.64 86.52h0M382.02 87.15h0M386.52 85h0M387.3 85.05h0M386.92 85.92h0M379.7 84.47h0" stroke="#fbd6dc" stroke-width="0.7" opacity="0.9"/>
<path d="M394.38 83.28h0M398.04 87.7h0M398.97 87.36h0M402.83 82.81h0M400.04 86.55h0M400.67 81.01h0M398.08 81.97h0M399.74 79.37h0M399.48 88.61h0M402.53 83.67h0M395.64 88.73h0M402.25 86.51h0M397.22 81.42h0M397.33 81.07h0M397.43 79.62h0M398.34 87.68h0" stroke="#4a2a98" stroke-width="1.7" opacity="0.9"/>
<path d="M396.51 85.16h0M394.18 85.98h0M397.06 80.17h0M400.57 78.77h0M402.1 87.36h0M399.63 86.41h0M397.92 86.61h0M400.95 79.02h0M404.46 85.72h0M399.85 84.78h0M399.82 87.58h0M402.98 84.57h0M399.56 86.89h0M403.01 88.24h0M400.09 80.7h0M404.27 82.89h0M398.4 89.79h0M398.41 87.54h0M400.1 88.21h0" stroke="#6a3cb4" stroke-width="1.4" opacity="0.85"/>
<path d="M401.81 89.25h0M396.87 89.24h0M403.2 84.63h0M397.11 87.63h0M402.21 83.02h0M397.59 82.03h0M399.49 82.72h0M398.87 86.25h0M401.93 85.21h0M396.73 83.1h0" stroke="#9a55cc" stroke-width="1.15" opacity="0.85"/>
<path d="M398.78 85.61h0M400.89 89.95h0M394.27 84.66h0M399.68 82.51h0M397.31 83.84h0M401.64 85.75h0M398.68 80.61h0M399.53 89.55h0" stroke="#d070c4" stroke-width="1.0" opacity="0.9"/>
<path d="M397.22 84.97h0" stroke="#f09aa8" stroke-width="0.9" opacity="0.9"/>
<path d="M404.43 82.88h0M399.89 81.68h0M403.83 87.02h0M401.31 82.4h0M398.4 86.96h0" stroke="#fbd6dc" stroke-width="0.7" opacity="0.9"/>
</g>
<line x1="264.57" y1="26.9" x2="264.57" y2="92.3" stroke="#b4b4b6" stroke-width="0.6" />
<line x1="280.4" y1="26.9" x2="280.4" y2="92.3" stroke="#b4b4b6" stroke-width="0.6" />
<line x1="296.23" y1="26.9" x2="296.23" y2="92.3" stroke="#b4b4b6" stroke-width="0.6" />
<line x1="312.05" y1="26.9" x2="312.05" y2="92.3" stroke="#b4b4b6" stroke-width="0.6" />
<line x1="327.88" y1="26.9" x2="327.88" y2="92.3" stroke="#b4b4b6" stroke-width="0.6" />
<line x1="343.7" y1="26.9" x2="343.7" y2="92.3" stroke="#b4b4b6" stroke-width="0.6" />
<line x1="359.52" y1="26.9" x2="359.52" y2="92.3" stroke="#b4b4b6" stroke-width="0.6" />
<line x1="375.35" y1="26.9" x2="375.35" y2="92.3" stroke="#b4b4b6" stroke-width="0.6" />
<line x1="391.17" y1="26.9" x2="391.17" y2="92.3" stroke="#b4b4b6" stroke-width="0.6" />
<line x1="248.75" y1="43" x2="407" y2="43" stroke="#b4b4b6" stroke-width="0.6" />
<line x1="248.75" y1="59.65" x2="407" y2="59.65" stroke="#b4b4b6" stroke-width="0.6" />
<line x1="248.75" y1="76.3" x2="407" y2="76.3" stroke="#b4b4b6" stroke-width="0.6" />
</g>
<g id="panelB">
<text x="13.7" y="122.4" font-size="9.5" text-anchor="start" fill="#202020" stroke="#202020" stroke-width="0.19" >B</text>
<text x="150.3" y="123.2" font-size="5.85" text-anchor="middle" fill="#202020" stroke="#202020" stroke-width="0.12" >Radiotherapy</text>
<line x1="61" y1="126.6" x2="240" y2="126.6" stroke="#d0d0d0" stroke-width="0.7" />
<text x="402.5" y="123.2" font-size="5.85" text-anchor="middle" fill="#202020" stroke="#202020" stroke-width="0.12" >Cisplatin</text>
<line x1="293.5" y1="126.6" x2="510" y2="126.6" stroke="#d0d0d0" stroke-width="0.7" />
<text x="12" y="178.7" font-size="6.8" text-anchor="start" fill="#202020" stroke="#202020" stroke-width="0.14" >SiHa</text>
<text x="12" y="266.3" font-size="6.8" text-anchor="start" fill="#202020" stroke="#202020" stroke-width="0.14" >HeLa</text>
<line x1="32.2" y1="141.3" x2="32.2" y2="210.5" stroke="#999" stroke-width="0.8" />
<line x1="32.2" y1="229.4" x2="32.2" y2="297.8" stroke="#999" stroke-width="0.8" />
<text x="42.4" y="219" font-size="6.2" text-anchor="middle" fill="#202020" stroke="#202020" stroke-width="0.12" transform="rotate(-90 42.4 219)" >γH2AX foci/nucleus</text>
<text x="266" y="322.9" font-size="7" text-anchor="middle" fill="#202020" stroke="#202020" stroke-width="0.14" >Time after HT (h)</text>
<line x1="60" y1="314.2" x2="502" y2="314.2" stroke="#ececec" stroke-width="0.7" />
<line x1="59.5" y1="209" x2="172.3" y2="209" stroke="#c8c8c8" stroke-width="1.1" />
<line x1="59.9" y1="142" x2="59.9" y2="209.5" stroke="#a8a8a8" stroke-width="0.9" />
<line x1="58.3" y1="208.7" x2="59.5" y2="208.7" stroke="#555" stroke-width="0.45" />
<text x="57.7" y="210.9" font-size="6.2" text-anchor="end" fill="#202020" stroke="#202020" stroke-width="0.12" >0</text>
<line x1="58.3" y1="195.42" x2="59.5" y2="195.42" stroke="#555" stroke-width="0.45" />
<text x="57.7" y="197.62" font-size="6.2" text-anchor="end" fill="#202020" stroke="#202020" stroke-width="0.12" >20</text>
<line x1="58.3" y1="182.14" x2="59.5" y2="182.14" stroke="#555" stroke-width="0.45" />
<text x="57.7" y="184.34" font-size="6.2" text-anchor="end" fill="#202020" stroke="#202020" stroke-width="0.12" >40</text>
<line x1="58.3" y1="168.86" x2="59.5" y2="168.86" stroke="#555" stroke-width="0.45" />
<text x="57.7" y="171.06" font-size="6.2" text-anchor="end" fill="#202020" stroke="#202020" stroke-width="0.12" >60</text>
<line x1="58.3" y1="155.58" x2="59.5" y2="155.58" stroke="#555" stroke-width="0.45" />
<text x="57.7" y="157.78" font-size="6.2" text-anchor="end" fill="#202020" stroke="#202020" stroke-width="0.12" >80</text>
<line x1="58.3" y1="142.3" x2="59.5" y2="142.3" stroke="#555" stroke-width="0.45" />
<text x="57.7" y="144.5" font-size="6.2" text-anchor="end" fill="#202020" stroke="#202020" stroke-width="0.12" >100</text>
<path d="M66.25 188.53h0M66.21 188.61h0M65.62 184.42h0M66.64 184.57h0M66.69 188.66h0M65.68 188.03h0M65.6 188.58h0M66.1 179.82h0M66.14 181.73h0M66.47 177.29h0" stroke="#2b7fc4" stroke-width="0.76" stroke-linecap="round" opacity="0.2"/>
<path d="M65.73 186.05h0M66.37 187.27h0M66.06 181.89h0M65.77 176.79h0M66.03 180.67h0M66.23 181.94h0M65.91 178.76h0M66.09 188.24h0" stroke="#2b7fc4" stroke-width="0.76" stroke-linecap="round" opacity="0.34"/>
<path d="M64.76 200.73 Q65.4 199.94 65.25 198.1 L65.85 188.78 L66.55 188.78 L67.15 198.1 Q67 199.94 67.64 200.73 Z" fill="#2b7fc4" opacity="0.6"/>
<line x1="66.2" y1="188.78" x2="66.2" y2="200.73" stroke="#1f6fb0" stroke-width="0.45" />
<line x1="65.3" y1="188.78" x2="67.1" y2="188.78" stroke="#1f6fb0" stroke-width="0.5" />
<rect x="64.08" y="200.73" width="4.25" height="7.97" fill="#2b7fc4" fill-opacity="0.72" stroke="#1f6fb0" stroke-width="0.4" stroke-opacity="0.8"/>
<path d="M65.09 204.63h0M64.73 206.06h0M67.04 205.3h0M67.4 203.23h0M66.82 205.47h0M66.45 204.37h0M67.28 208.26h0M66.12 206.02h0M64.8 206.32h0M66.67 208.64h0" stroke="#fff" stroke-width="0.64" stroke-linecap="round" opacity="0.4"/>
<path d="M72.16 178h0M71.8 179.91h0M71.93 184.26h0M71.95 178.7h0M72.96 182.73h0M72.95 178.04h0M71.98 176.12h0M72.09 183.9h0M72.13 180.81h0M72.69 180.5h0M72.3 178.32h0M72.63 184.55h0M72.05 184.67h0" stroke="#f58a1f" stroke-width="0.76" stroke-linecap="round" opacity="0.2"/>
<path d="M72.52 182.21h0M72.26 182.52h0M72.27 182.49h0M72.71 176.19h0M72.83 176.95h0" stroke="#f58a1f" stroke-width="0.76" stroke-linecap="round" opacity="0.34"/>
<path d="M71.01 198.08 Q71.65 197.2 71.5 195.15 L72.1 184.8 L72.8 184.8 L73.4 195.15 Q73.25 197.2 73.89 198.08 Z" fill="#f58a1f" opacity="0.6"/>
<line x1="72.45" y1="184.8" x2="72.45" y2="198.08" stroke="#e07410" stroke-width="0.45" />
<line x1="71.55" y1="184.8" x2="73.35" y2="184.8" stroke="#e07410" stroke-width="0.5" />
<rect x="70.33" y="198.08" width="4.25" height="10.62" fill="#f58a1f" fill-opacity="0.72" stroke="#e07410" stroke-width="0.4" stroke-opacity="0.8"/>
<path d="M71.94 198.63h0M70.86 199.68h0M71.18 201.94h0M70.94 207.36h0M72.81 199.65h0M71.66 201.77h0M72.02 199.38h0M73.56 208.63h0M72.34 203.22h0M71.13 199.16h0M71.95 200.89h0M73.5 199.79h0M70.93 208.18h0" stroke="#fff" stroke-width="0.64" stroke-linecap="round" opacity="0.4"/>
<path d="M78.97 177.59h0M79.08 181.83h0M78.06 183.56h0M79.32 175.69h0M78.33 184.57h0" stroke="#2fa84a" stroke-width="0.76" stroke-linecap="round" opacity="0.2"/>
<path d="M78.22 181.87h0M78.74 185.43h0M78.25 183.46h0M79.12 184.56h0M79.12 177.74h0M78.33 179.31h0M78.37 184.17h0M78.63 176.18h0M78.87 184.67h0M78.67 177.92h0M78.14 178.5h0M79.08 176.9h0M78.26 182.4h0" stroke="#2fa84a" stroke-width="0.76" stroke-linecap="round" opacity="0.34"/>
<path d="M77.26 198.74 Q77.9 197.86 77.75 195.82 L78.35 185.46 L79.05 185.46 L79.65 195.82 Q79.5 197.86 80.14 198.74 Z" fill="#2fa84a" opacity="0.6"/>
<line x1="78.7" y1="185.46" x2="78.7" y2="198.74" stroke="#1f9038" stroke-width="0.45" />
<line x1="77.8" y1="185.46" x2="79.6" y2="185.46" stroke="#1f9038" stroke-width="0.5" />
<rect x="76.58" y="198.74" width="4.25" height="9.96" fill="#2fa84a" fill-opacity="0.72" stroke="#1f9038" stroke-width="0.4" stroke-opacity="0.8"/>
<path d="M78.17 206.72h0M80.2 202.68h0M78.39 208.17h0M79.42 200.43h0M77.51 200.25h0M79.99 206.77h0M77.57 206.97h0M80.23 205.29h0M78.22 204.2h0M77.52 198.88h0M80.2 205.21h0M78.78 208.04h0" stroke="#fff" stroke-width="0.64" stroke-linecap="round" opacity="0.4"/>
<path d="M84.61 176.67h0M85.07 176.47h0M84.87 177.47h0M85.36 177.49h0M85 174.69h0" stroke="#dc3a3a" stroke-width="0.76" stroke-linecap="round" opacity="0.2"/>
<path d="M85.46 174.87h0M84.45 175.02h0M84.89 175.6h0M84.84 169.01h0M84.99 174.19h0M85.26 174.48h0M84.97 175.83h0M84.41 170.74h0M84.65 176.42h0M85.03 174.12h0M84.87 168.89h0M84.97 174.15h0M85.22 168.45h0" stroke="#dc3a3a" stroke-width="0.76" stroke-linecap="round" opacity="0.34"/>
<path d="M83.51 196.08 Q84.15 195.18 84 193.08 L84.6 177.49 L85.3 177.49 L85.9 193.08 Q85.75 195.18 86.39 196.08 Z" fill="#dc3a3a" opacity="0.6"/>
<line x1="84.95" y1="177.49" x2="84.95" y2="196.08" stroke="#c82424" stroke-width="0.45" />
<line x1="84.05" y1="177.49" x2="85.85" y2="177.49" stroke="#c82424" stroke-width="0.5" />
<rect x="82.83" y="196.08" width="4.25" height="12.62" fill="#dc3a3a" fill-opacity="0.72" stroke="#c82424" stroke-width="0.4" stroke-opacity="0.8"/>
<path d="M86.36 199.36h0M85.14 207.98h0M86.03 197.81h0M83.74 201.66h0M83.59 199.12h0M83.59 204.53h0M85.86 207.4h0M83.85 205.12h0M85.46 197.89h0M86.17 208.29h0M84.06 208.1h0M84.63 202.23h0M86.51 206.59h0M83.87 201.53h0M85 200.36h0M83.98 200.1h0" stroke="#fff" stroke-width="0.64" stroke-linecap="round" opacity="0.4"/>
<path d="M90.54 161.48h0M91.22 158.94h0M90.88 164.53h0M90.89 156.42h0M91.47 159.74h0M91.46 164.75h0M91.69 164.71h0M90.67 163.6h0M90.79 164.77h0M91.55 162.99h0" stroke="#9b6cc8" stroke-width="0.76" stroke-linecap="round" opacity="0.2"/>
<path d="M90.55 157.38h0M91.59 152.56h0M91.76 161.7h0M90.72 163.43h0M91.8 164.69h0M90.63 156.02h0M91.27 162.64h0M90.7 163.34h0" stroke="#9b6cc8" stroke-width="0.76" stroke-linecap="round" opacity="0.34"/>
<path d="M89.76 183.47 Q90.4 182.57 90.25 180.47 L90.85 164.88 L91.55 164.88 L92.15 180.47 Q92 182.57 92.64 183.47 Z" fill="#9b6cc8" opacity="0.6"/>
<path d="M89.76 196.75 Q90.4 197.47 90.25 199.14 L90.85 204.72 L91.55 204.72 L92.15 199.14 Q92 197.47 92.64 196.75 Z" fill="#9b6cc8" opacity="0.6"/>
<line x1="91.2" y1="164.88" x2="91.2" y2="183.47" stroke="#8455b5" stroke-width="0.45" />
<line x1="91.2" y1="196.75" x2="91.2" y2="204.72" stroke="#8455b5" stroke-width="0.45" />
<line x1="90.3" y1="164.88" x2="92.1" y2="164.88" stroke="#8455b5" stroke-width="0.5" />
<rect x="89.08" y="183.47" width="4.25" height="13.28" fill="#9b6cc8" fill-opacity="0.72" stroke="#8455b5" stroke-width="0.4" stroke-opacity="0.8"/>
<path d="M91.2 185.83h0M90.71 183.71h0M90.4 183.67h0M91.94 190.79h0M90.21 189.77h0M92.59 184.88h0M92.22 189.21h0M91.18 194.55h0M90.86 190.2h0M91.8 196.51h0M90.7 194.52h0M91.86 191.91h0M90.9 188.08h0M89.78 185.19h0M89.83 193.31h0M90.42 185.64h0M89.88 194.64h0" stroke="#fff" stroke-width="0.64" stroke-linecap="round" opacity="0.4"/>
<line x1="89.08" y1="190.11" x2="93.33" y2="190.11" stroke="#8455b5" stroke-width="0.5" stroke-opacity="0.65"/>
<path d="M97.68 157.83h0M97.17 165.7h0M97.38 166.28h0M98.08 165.68h0M96.77 164.7h0M97.45 163.44h0M96.78 163.09h0M97.31 166.63h0M97.18 166.84h0" stroke="#9a6358" stroke-width="0.76" stroke-linecap="round" opacity="0.2"/>
<path d="M98.09 156.26h0M97.49 162.07h0M97.74 161.1h0M97.21 164.37h0M97.75 166.33h0M97.91 166.79h0M97.77 161.51h0M97.48 166.39h0M97.86 158.41h0" stroke="#9a6358" stroke-width="0.76" stroke-linecap="round" opacity="0.34"/>
<path d="M96.01 186.12 Q96.65 185.22 96.5 183.12 L97.1 166.87 L97.8 166.87 L98.4 183.12 Q98.25 185.22 98.89 186.12 Z" fill="#9a6358" opacity="0.6"/>
<path d="M96.01 198.74 Q96.65 199.64 96.5 201.73 L97.1 208.7 L97.8 208.7 L98.4 201.73 Q98.25 199.64 98.89 198.74 Z" fill="#9a6358" opacity="0.6"/>
<line x1="97.45" y1="166.87" x2="97.45" y2="186.12" stroke="#84483c" stroke-width="0.45" />
<line x1="97.45" y1="198.74" x2="97.45" y2="208.7" stroke="#84483c" stroke-width="0.45" />
<line x1="96.55" y1="166.87" x2="98.35" y2="166.87" stroke="#84483c" stroke-width="0.5" />
<rect x="95.33" y="186.12" width="4.25" height="12.62" fill="#9a6358" fill-opacity="0.72" stroke="#84483c" stroke-width="0.4" stroke-opacity="0.8"/>
<path d="M97.72 197.39h0M98.03 194.87h0M96.59 186.52h0M96.28 190.67h0M96.19 196.67h0M97.64 194.04h0M97.85 194.71h0M97.42 186.17h0M98.4 195.56h0M97.46 192.88h0M97.96 186.96h0M98.2 189.31h0M96.09 189.47h0M98.18 188.71h0M98.21 198.43h0M97.43 190.95h0" stroke="#fff" stroke-width="0.64" stroke-linecap="round" opacity="0.4"/>
<line x1="95.33" y1="192.1" x2="99.58" y2="192.1" stroke="#84483c" stroke-width="0.5" stroke-opacity="0.65"/>
<path d="M103.89 160.33h0M103.79 163.86h0M103.94 159.27h0M103.65 161.62h0M104.24 165.17h0M104.29 154.64h0M103.39 162.4h0M103.98 156.22h0M103.68 156.04h0M103.69 165.54h0M103.21 163.88h0" stroke="#e57fc6" stroke-width="0.76" stroke-linecap="round" opacity="0.2"/>
<path d="M103.95 162.06h0M103.37 165.01h0M103.39 165.41h0M104.14 162.29h0M103.31 155.22h0M103.73 165.04h0M104.14 165.09h0" stroke="#e57fc6" stroke-width="0.76" stroke-linecap="round" opacity="0.34"/>
<path d="M102.26 182.14 Q102.9 181.24 102.75 179.14 L103.35 165.54 L104.05 165.54 L104.65 179.14 Q104.5 181.24 105.14 182.14 Z" fill="#e57fc6" opacity="0.6"/>
<path d="M102.26 198.74 Q102.9 199.64 102.75 201.73 L103.35 208.7 L104.05 208.7 L104.65 201.73 Q104.5 199.64 105.14 198.74 Z" fill="#e57fc6" opacity="0.6"/>
<line x1="103.7" y1="165.54" x2="103.7" y2="182.14" stroke="#d660b5" stroke-width="0.45" />
<line x1="103.7" y1="198.74" x2="103.7" y2="208.7" stroke="#d660b5" stroke-width="0.45" />
<line x1="102.8" y1="165.54" x2="104.6" y2="165.54" stroke="#d660b5" stroke-width="0.5" />
<rect x="101.58" y="182.14" width="4.25" height="16.6" fill="#e57fc6" fill-opacity="0.72" stroke="#d660b5" stroke-width="0.4" stroke-opacity="0.8"/>
<path d="M103.11 196.09h0M102.11 194.6h0M104.78 184.13h0M105.06 193.98h0M104.98 186.95h0M103.29 188.66h0M105.29 191.92h0M103.26 189.25h0M102.98 182.94h0M102.43 196h0M103.02 197.67h0M102.9 186.55h0M103.73 185.29h0M103.3 198.01h0M104.92 195.62h0M104.12 197.3h0M105.1 191.26h0M104.4 182.96h0M104.44 189.62h0M104.51 192.84h0M103.02 182.95h0" stroke="#fff" stroke-width="0.64" stroke-linecap="round" opacity="0.4"/>
<line x1="101.58" y1="192.1" x2="105.83" y2="192.1" stroke="#d660b5" stroke-width="0.5" stroke-opacity="0.65"/>
<path d="M109.44 151.33h0M110.03 158.2h0M109.49 159.03h0M109.95 151.63h0M110.63 151.62h0M109.53 159.17h0M109.39 157.89h0M109.83 153.7h0M109.78 156.26h0M109.56 152.22h0M109.81 158.56h0" stroke="#8a8a8a" stroke-width="0.76" stroke-linecap="round" opacity="0.2"/>
<path d="M109.67 157.88h0M109.62 150.62h0M110.04 158.5h0M109.65 159.46h0M109.95 159.23h0M110.42 150.94h0M109.31 159.54h0" stroke="#8a8a8a" stroke-width="0.76" stroke-linecap="round" opacity="0.34"/>
<path d="M108.51 182.14 Q109.15 181.24 109 179.14 L109.6 159.56 L110.3 159.56 L110.9 179.14 Q110.75 181.24 111.39 182.14 Z" fill="#8a8a8a" opacity="0.6"/>
<path d="M108.51 199.4 Q109.15 200.24 109 202.19 L109.6 208.7 L110.3 208.7 L110.9 202.19 Q110.75 200.24 111.39 199.4 Z" fill="#8a8a8a" opacity="0.6"/>
<line x1="109.95" y1="159.56" x2="109.95" y2="182.14" stroke="#6e6e6e" stroke-width="0.45" />
<line x1="109.95" y1="199.4" x2="109.95" y2="208.7" stroke="#6e6e6e" stroke-width="0.45" />
<line x1="109.05" y1="159.56" x2="110.85" y2="159.56" stroke="#6e6e6e" stroke-width="0.5" />
<rect x="107.83" y="182.14" width="4.25" height="17.26" fill="#8a8a8a" fill-opacity="0.72" stroke="#6e6e6e" stroke-width="0.4" stroke-opacity="0.8"/>
<path d="M111.21 190.31h0M110.23 182.14h0M109.6 198.14h0M110.99 196.91h0M111.46 186.43h0M108.7 184.81h0M110.02 193.92h0M111.36 194.6h0M110.42 195.34h0M109.81 191.66h0M108.48 195.65h0M109.1 198.02h0M110.41 187.38h0M108.76 186.49h0M110.38 194.2h0M108.71 183.35h0M110.03 192.2h0M109.59 186h0M110.27 182.32h0M109.32 190.09h0M111.41 193.27h0M111.17 190.35h0" stroke="#fff" stroke-width="0.64" stroke-linecap="round" opacity="0.4"/>
<line x1="107.83" y1="194.09" x2="112.08" y2="194.09" stroke="#6e6e6e" stroke-width="0.5" stroke-opacity="0.65"/>
<path d="M121.64 187.93h0M122.14 189.7h0M121.27 191.42h0M122.15 190.27h0M122.54 191.52h0M121.53 186.78h0M121.47 189.72h0M121.76 191.76h0M121.41 185.1h0M121.67 185.58h0M122.23 185.53h0" stroke="#2b7fc4" stroke-width="0.76" stroke-linecap="round" opacity="0.2"/>
<path d="M121.56 191.38h0M122.13 191.27h0M122.23 187.02h0M121.62 187.39h0M122.12 190.3h0M121.75 192.02h0M122.22 186.11h0" stroke="#2b7fc4" stroke-width="0.76" stroke-linecap="round" opacity="0.34"/>
<path d="M120.46 202.06 Q121.1 201.4 120.95 199.87 L121.55 192.1 L122.25 192.1 L122.85 199.87 Q122.7 201.4 123.34 202.06 Z" fill="#2b7fc4" opacity="0.6"/>
<line x1="121.9" y1="192.1" x2="121.9" y2="202.06" stroke="#1f6fb0" stroke-width="0.45" />
<line x1="121" y1="192.1" x2="122.8" y2="192.1" stroke="#1f6fb0" stroke-width="0.5" />
<rect x="119.78" y="202.06" width="4.25" height="6.64" fill="#2b7fc4" fill-opacity="0.72" stroke="#1f6fb0" stroke-width="0.4" stroke-opacity="0.8"/>
<path d="M122.42 204.57h0M121.5 204.26h0M120.85 202.08h0M121.2 204.39h0M123.35 202.88h0M123.38 203.44h0M121.44 207.52h0M122.93 204.93h0" stroke="#fff" stroke-width="0.64" stroke-linecap="round" opacity="0.4"/>
<path d="M128.11 197.31h0M127.73 186.38h0M127.51 186.81h0M128.51 188.37h0M127.84 195.41h0M127.5 185.92h0M127.81 194.66h0M128.73 193.34h0M128.3 189.06h0" stroke="#f58a1f" stroke-width="0.76" stroke-linecap="round" opacity="0.2"/>
<path d="M127.56 197.35h0M128.49 195.98h0M127.84 195.18h0M127.83 191.59h0M128.72 189.35h0M128.77 193.58h0M128.47 188.54h0M127.96 195.38h0M127.74 197.19h0" stroke="#f58a1f" stroke-width="0.76" stroke-linecap="round" opacity="0.34"/>
<path d="M126.71 204.05 Q127.35 203.61 127.2 202.59 L127.8 197.41 L128.5 197.41 L129.1 202.59 Q128.95 203.61 129.59 204.05 Z" fill="#f58a1f" opacity="0.6"/>
<line x1="128.15" y1="197.41" x2="128.15" y2="204.05" stroke="#e07410" stroke-width="0.45" />
<line x1="127.25" y1="197.41" x2="129.05" y2="197.41" stroke="#e07410" stroke-width="0.5" />
<rect x="126.03" y="204.05" width="4.25" height="4.65" fill="#f58a1f" fill-opacity="0.72" stroke="#e07410" stroke-width="0.4" stroke-opacity="0.8"/>
<path d="M127.34 204.35h0M126.66 206.62h0M127.59 208.61h0M129.37 208.64h0M127.4 204.44h0M126.86 206.37h0" stroke="#fff" stroke-width="0.64" stroke-linecap="round" opacity="0.4"/>
<path d="M134.33 188.38h0M134.86 198.13h0M134.06 197.38h0M135.07 189.67h0M133.77 183.2h0M134.99 191.17h0M134.33 184.49h0M135.01 186.75h0M134.56 190.9h0M133.91 195.11h0" stroke="#2fa84a" stroke-width="0.76" stroke-linecap="round" opacity="0.2"/>
<path d="M134.56 194.32h0M134.87 187.47h0M134.23 191.51h0M134.92 197.85h0M134.26 195.75h0M134.03 192.69h0M134.83 193.3h0M133.98 198.14h0" stroke="#2fa84a" stroke-width="0.76" stroke-linecap="round" opacity="0.34"/>
<path d="M132.96 204.72 Q133.6 204.32 133.45 203.4 L134.05 198.74 L134.75 198.74 L135.35 203.4 Q135.2 204.32 135.84 204.72 Z" fill="#2fa84a" opacity="0.6"/>
<line x1="134.4" y1="198.74" x2="134.4" y2="204.72" stroke="#1f9038" stroke-width="0.45" />
<line x1="133.5" y1="198.74" x2="135.3" y2="198.74" stroke="#1f9038" stroke-width="0.5" />
<rect x="132.28" y="204.72" width="4.25" height="3.98" fill="#2fa84a" fill-opacity="0.72" stroke="#1f9038" stroke-width="0.4" stroke-opacity="0.8"/>
<path d="M133.62 207.1h0M134.88 205.53h0M132.84 206.02h0M134.97 205.45h0M133.8 205.53h0" stroke="#fff" stroke-width="0.64" stroke-linecap="round" opacity="0.4"/>
<path d="M140.72 168.54h0M140.09 170.99h0M140.53 170.14h0M141.27 175.02h0M140.46 172.01h0M141.33 167.36h0M140.96 175.94h0M141.2 176.82h0M140.19 173.37h0M140.82 176.58h0M140.17 172.83h0M141.23 172.61h0M140.63 165.34h0" stroke="#dc3a3a" stroke-width="0.76" stroke-linecap="round" opacity="0.2"/>
<path d="M140.51 176.52h0M140.52 168.12h0M140.84 172.22h0M141.06 173h0M140.14 175.94h0" stroke="#dc3a3a" stroke-width="0.76" stroke-linecap="round" opacity="0.34"/>
<path d="M139.21 194.76 Q139.85 193.86 139.7 191.76 L140.3 176.83 L141 176.83 L141.6 191.76 Q141.45 193.86 142.09 194.76 Z" fill="#dc3a3a" opacity="0.6"/>
<line x1="140.65" y1="176.83" x2="140.65" y2="194.76" stroke="#c82424" stroke-width="0.45" />
<line x1="139.75" y1="176.83" x2="141.55" y2="176.83" stroke="#c82424" stroke-width="0.5" />
<rect x="138.53" y="194.76" width="4.25" height="13.94" fill="#dc3a3a" fill-opacity="0.72" stroke="#c82424" stroke-width="0.4" stroke-opacity="0.8"/>
<path d="M142.01 200.16h0M141.94 203.41h0M141.68 196.99h0M141.56 197.85h0M140.35 206.56h0M141.7 197.31h0M139.75 200.33h0M140.71 200.1h0M139.45 198.2h0M141.37 207.27h0M139.19 202.6h0M141.47 195.29h0M141.73 196.4h0M140.97 202.43h0M141.05 199.03h0M140.4 202.88h0M140.41 203.94h0M140.48 200.87h0" stroke="#fff" stroke-width="0.64" stroke-linecap="round" opacity="0.4"/>
<path d="M147.06 191.4h0M146.46 186.86h0M146.39 190.99h0M147.09 191.34h0M146.91 191.29h0M147.56 190.28h0M147.47 176.59h0M147.49 180.54h0M147.25 188.45h0M146.27 188.87h0" stroke="#9b6cc8" stroke-width="0.76" stroke-linecap="round" opacity="0.2"/>
<path d="M147.26 189.86h0M146.82 191.09h0M147.28 181.73h0M146.41 176.73h0M147.22 175.6h0M146.59 178.05h0M146.9 190.72h0M146.58 190.14h0" stroke="#9b6cc8" stroke-width="0.76" stroke-linecap="round" opacity="0.34"/>
<path d="M145.46 201.4 Q146.1 200.74 145.95 199.2 L146.55 191.44 L147.25 191.44 L147.85 199.2 Q147.7 200.74 148.34 201.4 Z" fill="#9b6cc8" opacity="0.6"/>
<line x1="146.9" y1="191.44" x2="146.9" y2="201.4" stroke="#8455b5" stroke-width="0.45" />
<line x1="146" y1="191.44" x2="147.8" y2="191.44" stroke="#8455b5" stroke-width="0.5" />
<rect x="144.78" y="201.4" width="4.25" height="7.3" fill="#9b6cc8" fill-opacity="0.72" stroke="#8455b5" stroke-width="0.4" stroke-opacity="0.8"/>
<path d="M145.82 208.24h0M147.47 207.94h0M145.84 207.13h0M145.67 205.27h0M147.33 204.02h0M148.09 205.45h0M147.16 207.84h0M145.64 208.65h0M147.31 204.28h0" stroke="#fff" stroke-width="0.64" stroke-linecap="round" opacity="0.4"/>
<path d="M153.58 192.6h0M152.9 182.08h0M152.47 192.72h0M152.96 192.19h0M153.27 184.07h0M153.12 183.09h0M152.8 174.23h0M153.02 178.87h0M153.35 188.92h0" stroke="#9a6358" stroke-width="0.76" stroke-linecap="round" opacity="0.2"/>
<path d="M152.83 178.43h0M152.96 184.22h0M152.71 187.18h0M153.81 182.7h0M152.67 192.67h0M153.17 187.39h0M152.78 191.96h0M153.34 192.28h0M153.35 192.75h0" stroke="#9a6358" stroke-width="0.76" stroke-linecap="round" opacity="0.34"/>
<path d="M151.71 201.4 Q152.35 200.83 152.2 199.5 L152.8 192.76 L153.5 192.76 L154.1 199.5 Q153.95 200.83 154.59 201.4 Z" fill="#9a6358" opacity="0.6"/>
<line x1="153.15" y1="192.76" x2="153.15" y2="201.4" stroke="#84483c" stroke-width="0.45" />
<line x1="152.25" y1="192.76" x2="154.05" y2="192.76" stroke="#84483c" stroke-width="0.5" />
<rect x="151.03" y="201.4" width="4.25" height="7.3" fill="#9a6358" fill-opacity="0.72" stroke="#84483c" stroke-width="0.4" stroke-opacity="0.8"/>
<path d="M154.54 206.75h0M152.35 208h0M151.7 205.28h0M152.85 203.13h0M151.74 207.08h0M151.6 205.42h0M154.56 202.44h0M152.19 205.84h0M153.17 206.08h0" stroke="#fff" stroke-width="0.64" stroke-linecap="round" opacity="0.4"/>
<path d="M158.96 181.81h0M159.69 182.26h0M159.73 181.34h0M159.34 182.86h0M159.04 189.15h0M159.69 181.32h0M159.07 189.43h0M159.92 187.67h0" stroke="#e57fc6" stroke-width="0.76" stroke-linecap="round" opacity="0.2"/>
<path d="M158.79 187.89h0M159.74 187.59h0M159.31 185.32h0M159.08 185.68h0M159.02 179.41h0M160 182.83h0M159.95 188.37h0M159.62 183.54h0M159.86 186.28h0M159.31 181.14h0" stroke="#e57fc6" stroke-width="0.76" stroke-linecap="round" opacity="0.34"/>
<path d="M157.96 200.73 Q158.6 199.99 158.45 198.25 L159.05 189.44 L159.75 189.44 L160.35 198.25 Q160.2 199.99 160.84 200.73 Z" fill="#e57fc6" opacity="0.6"/>
<line x1="159.4" y1="189.44" x2="159.4" y2="200.73" stroke="#d660b5" stroke-width="0.45" />
<line x1="158.5" y1="189.44" x2="160.3" y2="189.44" stroke="#d660b5" stroke-width="0.5" />
<rect x="157.28" y="200.73" width="4.25" height="7.97" fill="#e57fc6" fill-opacity="0.72" stroke="#d660b5" stroke-width="0.4" stroke-opacity="0.8"/>
<path d="M159.62 203.18h0M158.48 205.69h0M158.05 207.99h0M158.27 200.95h0M158.15 208.13h0M158.91 201.86h0M157.9 201.06h0M160.01 205.78h0M160.03 206.6h0M158.02 205.44h0" stroke="#fff" stroke-width="0.64" stroke-linecap="round" opacity="0.4"/>
<path d="M166.25 148.59h0M165.12 154.33h0M165.83 149.55h0M165.4 154.34h0M165.32 154.9h0M165.47 150.64h0M165.01 151.53h0M166.02 152.98h0M165.7 150.74h0M164.97 154.49h0M166.3 150.19h0" stroke="#8a8a8a" stroke-width="0.76" stroke-linecap="round" opacity="0.2"/>
<path d="M166.08 153.47h0M165.06 148.84h0M166.07 149.31h0M165.1 154.73h0M165.66 148.03h0M165.09 149.15h0M165.64 152.58h0" stroke="#8a8a8a" stroke-width="0.76" stroke-linecap="round" opacity="0.34"/>
<path d="M164.21 180.15 Q164.85 179.25 164.7 177.15 L165.3 154.92 L166 154.92 L166.6 177.15 Q166.45 179.25 167.09 180.15 Z" fill="#8a8a8a" opacity="0.6"/>
<path d="M164.21 199.4 Q164.85 200.24 164.7 202.19 L165.3 208.7 L166 208.7 L166.6 202.19 Q166.45 200.24 167.09 199.4 Z" fill="#8a8a8a" opacity="0.6"/>
<line x1="165.65" y1="154.92" x2="165.65" y2="180.15" stroke="#6e6e6e" stroke-width="0.45" />
<line x1="165.65" y1="199.4" x2="165.65" y2="208.7" stroke="#6e6e6e" stroke-width="0.45" />
<line x1="164.75" y1="154.92" x2="166.55" y2="154.92" stroke="#6e6e6e" stroke-width="0.5" />
<rect x="163.53" y="180.15" width="4.25" height="19.26" fill="#8a8a8a" fill-opacity="0.72" stroke="#6e6e6e" stroke-width="0.4" stroke-opacity="0.8"/>
<path d="M164.64 189.67h0M165.16 196.17h0M164.89 198.32h0M164.96 184.28h0M166.29 189.74h0M164.41 192.41h0M164.31 195.32h0M166.28 195.3h0M166.06 187h0M165.34 187.75h0M166.89 181.81h0M166.89 180.63h0M164.71 185.22h0M166.93 189.8h0M165.27 197.17h0M164.8 189.02h0M165.75 194.68h0M166.46 192.59h0M165.17 186.44h0M164.55 196.38h0M166.17 194.44h0M164.6 188.6h0M166.52 191.3h0M164.46 189.04h0M166.88 184.73h0" stroke="#fff" stroke-width="0.64" stroke-linecap="round" opacity="0.4"/>
<line x1="163.53" y1="190.11" x2="167.78" y2="190.11" stroke="#6e6e6e" stroke-width="0.5" stroke-opacity="0.65"/>
<text x="87.8" y="217.3" font-size="6.3" text-anchor="middle" fill="#202020" stroke="#202020" stroke-width="0.13" >4</text>
<text x="143.6" y="217.3" font-size="6.3" text-anchor="middle" fill="#202020" stroke="#202020" stroke-width="0.13" >24</text>
<line x1="59.5" y1="298" x2="172.3" y2="298" stroke="#c8c8c8" stroke-width="1.1" />
<line x1="59.9" y1="230.5" x2="59.9" y2="298.5" stroke="#a8a8a8" stroke-width="0.9" />
<line x1="58.3" y1="297.7" x2="59.5" y2="297.7" stroke="#555" stroke-width="0.45" />
<text x="57.7" y="299.9" font-size="6.2" text-anchor="end" fill="#202020" stroke="#202020" stroke-width="0.12" >0</text>
<line x1="58.3" y1="280.98" x2="59.5" y2="280.98" stroke="#555" stroke-width="0.45" />
<text x="57.7" y="283.18" font-size="6.2" text-anchor="end" fill="#202020" stroke="#202020" stroke-width="0.12" >20</text>
<line x1="58.3" y1="264.25" x2="59.5" y2="264.25" stroke="#555" stroke-width="0.45" />
<text x="57.7" y="266.45" font-size="6.2" text-anchor="end" fill="#202020" stroke="#202020" stroke-width="0.12" >40</text>
<line x1="58.3" y1="247.53" x2="59.5" y2="247.53" stroke="#555" stroke-width="0.45" />
<text x="57.7" y="249.72" font-size="6.2" text-anchor="end" fill="#202020" stroke="#202020" stroke-width="0.12" >60</text>
<line x1="58.3" y1="230.8" x2="59.5" y2="230.8" stroke="#555" stroke-width="0.45" />
<text x="57.7" y="233" font-size="6.2" text-anchor="end" fill="#202020" stroke="#202020" stroke-width="0.12" >80</text>
<path d="M65.73 266.4h0M65.97 287.72h0M66.51 260.42h0M65.66 261.02h0M65.8 288.5h0" stroke="#2b7fc4" stroke-width="0.76" stroke-linecap="round" opacity="0.2"/>
<path d="M65.93 287.2h0M65.96 286.11h0M66.6 260.01h0M65.79 281.39h0M66.06 289.2h0M66.2 272.58h0M65.71 280.55h0M66.53 282.26h0M66.3 281.53h0M65.83 281.79h0M66.57 264.8h0M66.44 266.02h0M65.95 280.83h0" stroke="#2b7fc4" stroke-width="0.76" stroke-linecap="round" opacity="0.34"/>
<path d="M64.76 294.36 Q65.4 294.02 65.25 293.25 L65.85 289.34 L66.55 289.34 L67.15 293.25 Q67 294.02 67.64 294.36 Z" fill="#2b7fc4" opacity="0.6"/>
<line x1="66.2" y1="289.34" x2="66.2" y2="294.36" stroke="#1f6fb0" stroke-width="0.45" />
<line x1="65.3" y1="289.34" x2="67.1" y2="289.34" stroke="#1f6fb0" stroke-width="0.5" />
<rect x="64.08" y="294.36" width="4.25" height="3.34" fill="#2b7fc4" fill-opacity="0.72" stroke="#1f6fb0" stroke-width="0.4" stroke-opacity="0.8"/>
<path d="M64.92 295.76h0M67.1 296.74h0M66.61 295.19h0M65.96 295.88h0" stroke="#fff" stroke-width="0.64" stroke-linecap="round" opacity="0.4"/>
<path d="M72.3 269.49h0M73.06 278.46h0M73.11 282.76h0M72.14 283.27h0M72.34 283.46h0M72.25 271.72h0M72.06 278.81h0" stroke="#f58a1f" stroke-width="0.76" stroke-linecap="round" opacity="0.2"/>
<path d="M72.33 273.71h0M72.02 264.86h0M71.82 263.42h0M72.83 282.36h0M71.91 276.16h0M72.75 275.66h0M72.9 273.27h0M72.3 272.09h0M72.78 281.57h0M72.07 275.98h0M72.87 269.53h0" stroke="#f58a1f" stroke-width="0.76" stroke-linecap="round" opacity="0.34"/>
<path d="M71.01 291.85 Q71.65 291.29 71.5 290.01 L72.1 283.48 L72.8 283.48 L73.4 290.01 Q73.25 291.29 73.89 291.85 Z" fill="#f58a1f" opacity="0.6"/>
<line x1="72.45" y1="283.48" x2="72.45" y2="291.85" stroke="#e07410" stroke-width="0.45" />
<line x1="71.55" y1="283.48" x2="73.35" y2="283.48" stroke="#e07410" stroke-width="0.5" />
<rect x="70.33" y="291.85" width="4.25" height="5.85" fill="#f58a1f" fill-opacity="0.72" stroke="#e07410" stroke-width="0.4" stroke-opacity="0.8"/>
<path d="M72.35 295.14h0M71.58 297.49h0M71.98 295.59h0M73.47 296.62h0M72.35 293.57h0M72.6 292.58h0M73.51 293.92h0" stroke="#fff" stroke-width="0.64" stroke-linecap="round" opacity="0.4"/>
<path d="M78.38 266.73h0M78.6 273.91h0M79 275.12h0M78.43 273.98h0M78.04 269.89h0M78.91 265.08h0M78.21 274.84h0M78.49 267.87h0M79.1 265.87h0M79.03 271.18h0M78.77 266.22h0" stroke="#2fa84a" stroke-width="0.76" stroke-linecap="round" opacity="0.2"/>
<path d="M78.89 272.32h0M79.28 272.98h0M79.15 275.01h0M78.21 267.76h0M78.85 266.08h0M79.24 269.41h0M78.29 266.92h0" stroke="#2fa84a" stroke-width="0.76" stroke-linecap="round" opacity="0.34"/>
<path d="M77.26 288.5 Q77.9 287.62 77.75 285.56 L78.35 275.12 L79.05 275.12 L79.65 285.56 Q79.5 287.62 80.14 288.5 Z" fill="#2fa84a" opacity="0.6"/>
<line x1="78.7" y1="275.12" x2="78.7" y2="288.5" stroke="#1f9038" stroke-width="0.45" />
<line x1="77.8" y1="275.12" x2="79.6" y2="275.12" stroke="#1f9038" stroke-width="0.5" />
<rect x="76.58" y="288.5" width="4.25" height="9.2" fill="#2fa84a" fill-opacity="0.72" stroke="#1f9038" stroke-width="0.4" stroke-opacity="0.8"/>
<path d="M77.85 289.78h0M78.68 289.04h0M78.6 289.83h0M78.67 293.08h0M78.83 296.44h0M77.13 296.24h0M78.6 293.68h0M79.23 296.23h0M78.3 292.35h0M80.17 289.19h0M79.14 294.35h0" stroke="#fff" stroke-width="0.64" stroke-linecap="round" opacity="0.4"/>
<path d="M85.44 264.84h0M84.86 265.86h0M85.39 262.53h0M85.35 261.24h0M85.34 261.5h0M84.68 266.67h0" stroke="#dc3a3a" stroke-width="0.76" stroke-linecap="round" opacity="0.2"/>
<path d="M85.1 266.72h0M84.72 257.05h0M84.93 263.05h0M85.25 266.71h0M84.98 263.46h0M84.82 258.73h0M84.96 265.41h0M84.68 265.03h0M85.47 260.29h0M85.52 266h0M85.34 261.19h0M85.11 261.81h0" stroke="#dc3a3a" stroke-width="0.76" stroke-linecap="round" opacity="0.34"/>
<path d="M83.51 285.16 Q84.15 284.26 84 282.16 L84.6 266.76 L85.3 266.76 L85.9 282.16 Q85.75 284.26 86.39 285.16 Z" fill="#dc3a3a" opacity="0.6"/>
<line x1="84.95" y1="266.76" x2="84.95" y2="285.16" stroke="#c82424" stroke-width="0.45" />
<line x1="84.05" y1="266.76" x2="85.85" y2="266.76" stroke="#c82424" stroke-width="0.5" />
<rect x="82.83" y="285.16" width="4.25" height="12.54" fill="#dc3a3a" fill-opacity="0.72" stroke="#c82424" stroke-width="0.4" stroke-opacity="0.8"/>
<path d="M85.58 292.64h0M85.53 287.82h0M85.48 290.9h0M85.79 286.43h0M83.93 285.62h0M85.83 296.62h0M85.45 289.78h0M85.98 295.02h0M85.15 288.39h0M84.32 290.45h0M84.37 290.56h0M85.4 296.87h0M83.53 292.27h0M83.48 286.65h0M85.94 292.37h0M86.28 290.76h0" stroke="#fff" stroke-width="0.64" stroke-linecap="round" opacity="0.4"/>
<path d="M91.85 232.64h0M90.73 234h0M91.45 234.14h0M91.52 233.97h0M91.51 232.84h0M91.48 233.35h0M90.54 233.16h0M91.63 233.3h0M91.51 233.89h0M91.18 232.83h0M91.3 233.81h0" stroke="#9b6cc8" stroke-width="0.76" stroke-linecap="round" opacity="0.2"/>
<path d="M91.05 234.14h0M90.66 233.74h0M90.64 232.56h0M90.54 234.08h0M91.57 234.13h0M90.87 232.65h0M90.72 233.25h0" stroke="#9b6cc8" stroke-width="0.76" stroke-linecap="round" opacity="0.34"/>
<path d="M89.76 266.76 Q90.4 265.86 90.25 263.76 L90.85 234.15 L91.55 234.15 L92.15 263.76 Q92 265.86 92.64 266.76 Z" fill="#9b6cc8" opacity="0.6"/>
<path d="M89.76 289.34 Q90.4 290.09 90.25 291.85 L90.85 297.7 L91.55 297.7 L92.15 291.85 Q92 290.09 92.64 289.34 Z" fill="#9b6cc8" opacity="0.6"/>
<line x1="91.2" y1="234.15" x2="91.2" y2="266.76" stroke="#8455b5" stroke-width="0.45" />
<line x1="91.2" y1="289.34" x2="91.2" y2="297.7" stroke="#8455b5" stroke-width="0.45" />
<line x1="90.3" y1="234.15" x2="92.1" y2="234.15" stroke="#8455b5" stroke-width="0.5" />
<rect x="89.08" y="266.76" width="4.25" height="22.58" fill="#9b6cc8" fill-opacity="0.72" stroke="#8455b5" stroke-width="0.4" stroke-opacity="0.8"/>
<path d="M90.76 281.32h0M91.61 276.2h0M90.84 284.51h0M92.62 284.47h0M91.41 273.36h0M89.8 288.75h0M91.85 285.44h0M90.66 280.44h0M92.72 285.53h0M91.52 273.73h0M90.97 286.81h0M90.81 282.22h0M91.52 286.99h0M92.18 273.16h0M89.61 272.7h0M90.95 280h0M92.21 286.8h0M89.74 285.57h0M92.19 286.34h0M91.43 272.94h0M92.32 284.98h0M91.79 287.39h0M90.71 268.68h0M91.37 284.76h0M90.25 283.7h0M92.58 272.04h0M91.54 282.06h0M91.09 271.42h0M90.42 283.72h0" stroke="#fff" stroke-width="0.64" stroke-linecap="round" opacity="0.4"/>
<line x1="89.08" y1="276.79" x2="93.33" y2="276.79" stroke="#8455b5" stroke-width="0.5" stroke-opacity="0.65"/>
<path d="M97.4 240.99h0M97.82 240.87h0M97.03 244.61h0M97.47 243.65h0M98.13 244.98h0M97.58 244.72h0M96.8 242.96h0M97.95 239.25h0M98.08 240.76h0M97.04 244.99h0" stroke="#9a6358" stroke-width="0.76" stroke-linecap="round" opacity="0.2"/>
<path d="M97.99 242.57h0M97.42 242.95h0M97.26 241.7h0M97.63 244.85h0M97.13 242.65h0M98.06 243.52h0M96.84 244.91h0M97.39 240.33h0" stroke="#9a6358" stroke-width="0.76" stroke-linecap="round" opacity="0.34"/>
<path d="M96.01 271.78 Q96.65 270.88 96.5 268.78 L97.1 245.02 L97.8 245.02 L98.4 268.78 Q98.25 270.88 98.89 271.78 Z" fill="#9a6358" opacity="0.6"/>
<path d="M96.01 291.85 Q96.65 292.37 96.5 293.6 L97.1 297.7 L97.8 297.7 L98.4 293.6 Q98.25 292.37 98.89 291.85 Z" fill="#9a6358" opacity="0.6"/>
<line x1="97.45" y1="245.02" x2="97.45" y2="271.78" stroke="#84483c" stroke-width="0.45" />
<line x1="97.45" y1="291.85" x2="97.45" y2="297.7" stroke="#84483c" stroke-width="0.45" />
<line x1="96.55" y1="245.02" x2="98.35" y2="245.02" stroke="#84483c" stroke-width="0.5" />
<rect x="95.33" y="271.78" width="4.25" height="20.07" fill="#9a6358" fill-opacity="0.72" stroke="#84483c" stroke-width="0.4" stroke-opacity="0.8"/>
<path d="M98.76 273.06h0M97.76 279.75h0M96.24 291.03h0M96.68 283.11h0M97.9 290.97h0M97.99 279.67h0M97.29 274.98h0M98.93 291.68h0M96.56 272.55h0M96.67 278.84h0M98.73 289.93h0M98.52 272.72h0M98.36 286.02h0M97.92 291.55h0M96.03 274.68h0M98.26 290.63h0M98.01 277.77h0M97.74 286.99h0M96.19 278.28h0M96.68 274.27h0M97.39 275.16h0M96.62 274.65h0M98.02 272.03h0M98.14 275.69h0M95.97 290.39h0M96.56 290.52h0" stroke="#fff" stroke-width="0.64" stroke-linecap="round" opacity="0.4"/>
<line x1="95.33" y1="282.65" x2="99.58" y2="282.65" stroke="#84483c" stroke-width="0.5" stroke-opacity="0.65"/>
<path d="M104.23 236.84h0M103.87 237.02h0M104.14 239.94h0M103.21 238.45h0M104.2 240.61h0M103.23 239.62h0M103.47 237.04h0M104.35 240.68h0M103.93 236.63h0M103.41 239.3h0M104.28 235.83h0M104.24 240.14h0M104.12 240.83h0" stroke="#e57fc6" stroke-width="0.76" stroke-linecap="round" opacity="0.2"/>
<path d="M103.15 239.45h0M103.99 240.78h0M103.45 239.23h0M103.52 240.45h0M103.42 237.83h0" stroke="#e57fc6" stroke-width="0.76" stroke-linecap="round" opacity="0.34"/>
<path d="M102.26 265.09 Q102.9 264.19 102.75 262.09 L103.35 240.84 L104.05 240.84 L104.65 262.09 Q104.5 264.19 105.14 265.09 Z" fill="#e57fc6" opacity="0.6"/>
<path d="M102.26 289.34 Q102.9 290.09 102.75 291.85 L103.35 297.7 L104.05 297.7 L104.65 291.85 Q104.5 290.09 105.14 289.34 Z" fill="#e57fc6" opacity="0.6"/>
<line x1="103.7" y1="240.84" x2="103.7" y2="265.09" stroke="#d660b5" stroke-width="0.45" />
<line x1="103.7" y1="289.34" x2="103.7" y2="297.7" stroke="#d660b5" stroke-width="0.45" />
<line x1="102.8" y1="240.84" x2="104.6" y2="240.84" stroke="#d660b5" stroke-width="0.5" />
<rect x="101.58" y="265.09" width="4.25" height="24.25" fill="#e57fc6" fill-opacity="0.72" stroke="#d660b5" stroke-width="0.4" stroke-opacity="0.8"/>
<path d="M102.55 265.13h0M104.76 277.86h0M102.7 275.64h0M105.01 270.38h0M103.93 268.43h0M102.68 283.77h0M104.37 269.86h0M102.36 267.21h0M104.05 277.1h0M102.98 270.08h0M104.06 282.25h0M104.69 279.22h0M102.75 266.68h0M104.44 274.98h0M104.41 266.43h0M104.69 273.22h0M104.79 286.05h0M103.68 265.46h0M105.01 276.64h0M104.89 271.54h0M102.7 285.25h0M103.28 269.05h0M103.29 279.51h0M102.12 277.69h0M103.53 277.59h0M102.49 282.42h0M104.71 286.08h0M103.13 282.33h0M103.32 283.31h0M102.3 286.25h0M105.15 277.09h0" stroke="#fff" stroke-width="0.64" stroke-linecap="round" opacity="0.4"/>
<line x1="101.58" y1="278.47" x2="105.83" y2="278.47" stroke="#d660b5" stroke-width="0.5" stroke-opacity="0.65"/>
<path d="M110.59 263.4h0M109.41 262.81h0M109.31 256.75h0M109.54 258.23h0M109.33 258.01h0M109.95 260.44h0M109.82 263.1h0M110.44 259.44h0M110.29 259.64h0M110.55 256.64h0M109.6 261.79h0" stroke="#8a8a8a" stroke-width="0.76" stroke-linecap="round" opacity="0.2"/>
<path d="M109.99 260.25h0M110.05 259.36h0M109.41 258.18h0M110.41 261.11h0M110.55 261.33h0M110.6 260.98h0M110.38 255.46h0" stroke="#8a8a8a" stroke-width="0.76" stroke-linecap="round" opacity="0.34"/>
<path d="M108.51 280.14 Q109.15 279.24 109 277.14 L109.6 263.41 L110.3 263.41 L110.9 277.14 Q110.75 279.24 111.39 280.14 Z" fill="#8a8a8a" opacity="0.6"/>
<path d="M108.51 291.85 Q109.15 292.37 109 293.6 L109.6 297.7 L110.3 297.7 L110.9 293.6 Q110.75 292.37 111.39 291.85 Z" fill="#8a8a8a" opacity="0.6"/>
<line x1="109.95" y1="263.41" x2="109.95" y2="280.14" stroke="#6e6e6e" stroke-width="0.45" />
<line x1="109.95" y1="291.85" x2="109.95" y2="297.7" stroke="#6e6e6e" stroke-width="0.45" />
<line x1="109.05" y1="263.41" x2="110.85" y2="263.41" stroke="#6e6e6e" stroke-width="0.5" />
<rect x="107.83" y="280.14" width="4.25" height="11.71" fill="#8a8a8a" fill-opacity="0.72" stroke="#6e6e6e" stroke-width="0.4" stroke-opacity="0.8"/>
<path d="M108.53 286.2h0M111.41 291.08h0M109.15 285.08h0M110.37 284.41h0M110.05 280.95h0M109.74 286.05h0M108.42 281.77h0M111.45 289.23h0M111.34 287.55h0M110.94 290.49h0M111.18 280.54h0M110.4 283.25h0M110.52 283.34h0M110.08 290.96h0M110.34 283.07h0" stroke="#fff" stroke-width="0.64" stroke-linecap="round" opacity="0.4"/>
<line x1="107.83" y1="286.83" x2="112.08" y2="286.83" stroke="#6e6e6e" stroke-width="0.5" stroke-opacity="0.65"/>
<path d="M121.59 280.61h0M121.42 279.9h0M121.62 290.58h0M121.55 287.39h0M122.1 278.57h0M121.86 276.95h0M122.02 284.82h0M122.39 285.69h0M121.89 279.07h0M121.3 283.08h0" stroke="#2b7fc4" stroke-width="0.76" stroke-linecap="round" opacity="0.2"/>
<path d="M121.81 280.38h0M121.64 287.41h0M122.03 290.74h0M122.36 279.45h0M121.85 272.98h0M121.52 288.47h0M121.62 259.88h0M121.31 290.13h0" stroke="#2b7fc4" stroke-width="0.76" stroke-linecap="round" opacity="0.34"/>
<path d="M120.46 295.19 Q121.1 294.97 120.95 294.46 L121.55 291.85 L122.25 291.85 L122.85 294.46 Q122.7 294.97 123.34 295.19 Z" fill="#2b7fc4" opacity="0.6"/>
<line x1="121.9" y1="291.85" x2="121.9" y2="295.19" stroke="#1f6fb0" stroke-width="0.45" />
<line x1="121" y1="291.85" x2="122.8" y2="291.85" stroke="#1f6fb0" stroke-width="0.5" />
<rect x="119.78" y="295.19" width="4.25" height="2.51" fill="#2b7fc4" fill-opacity="0.72" stroke="#1f6fb0" stroke-width="0.4" stroke-opacity="0.8"/>
<path d="M121.71 297.04h0M120.65 295.76h0M123.36 297.04h0" stroke="#fff" stroke-width="0.64" stroke-linecap="round" opacity="0.4"/>
<path d="M127.93 290.37h0M128.5 273.64h0M128.65 290.76h0M128.27 272.75h0M128.25 264.3h0M128.09 285.63h0M127.87 274.42h0M127.99 280.43h0M128.63 271.89h0M127.72 283.86h0M128.72 291.25h0" stroke="#f58a1f" stroke-width="0.76" stroke-linecap="round" opacity="0.2"/>
<path d="M128.31 276.23h0M128.17 270.49h0M128.43 271.98h0M128.66 272.03h0M128.25 290.51h0M128.61 269.56h0M128.05 289.54h0" stroke="#f58a1f" stroke-width="0.76" stroke-linecap="round" opacity="0.34"/>
<path d="M126.71 295.19 Q127.35 294.97 127.2 294.46 L127.8 291.85 L128.5 291.85 L129.1 294.46 Q128.95 294.97 129.59 295.19 Z" fill="#f58a1f" opacity="0.6"/>
<line x1="128.15" y1="291.85" x2="128.15" y2="295.19" stroke="#e07410" stroke-width="0.45" />
<line x1="127.25" y1="291.85" x2="129.05" y2="291.85" stroke="#e07410" stroke-width="0.5" />
<rect x="126.03" y="295.19" width="4.25" height="2.51" fill="#f58a1f" fill-opacity="0.72" stroke="#e07410" stroke-width="0.4" stroke-opacity="0.8"/>
<path d="M126.59 295.31h0M128.36 296.44h0M129.49 297.13h0" stroke="#fff" stroke-width="0.64" stroke-linecap="round" opacity="0.4"/>
<path d="M134.65 282.23h0M134.53 286.52h0M134.23 291.16h0M134.38 265.8h0M135.07 278.85h0M134.83 281.85h0M134.29 269.02h0M133.78 278.45h0" stroke="#2fa84a" stroke-width="0.76" stroke-linecap="round" opacity="0.2"/>
<path d="M135.08 281.6h0M134.64 266.51h0M134.5 280.89h0M135.05 287.43h0M133.87 282.37h0M134.84 276.61h0M134.42 288.04h0M133.97 289.94h0M134.2 279.56h0M134.14 273.01h0" stroke="#2fa84a" stroke-width="0.76" stroke-linecap="round" opacity="0.34"/>
<path d="M132.96 295.19 Q133.6 294.97 133.45 294.46 L134.05 291.85 L134.75 291.85 L135.35 294.46 Q135.2 294.97 135.84 295.19 Z" fill="#2fa84a" opacity="0.6"/>
<line x1="134.4" y1="291.85" x2="134.4" y2="295.19" stroke="#1f9038" stroke-width="0.45" />
<line x1="133.5" y1="291.85" x2="135.3" y2="291.85" stroke="#1f9038" stroke-width="0.5" />
<rect x="132.28" y="295.19" width="4.25" height="2.51" fill="#2fa84a" fill-opacity="0.72" stroke="#1f9038" stroke-width="0.4" stroke-opacity="0.8"/>
<path d="M132.82 295.96h0M135.49 296.66h0M134.94 295.68h0" stroke="#fff" stroke-width="0.64" stroke-linecap="round" opacity="0.4"/>
<path d="M140.72 279.97h0M140.53 278.41h0M141 285.04h0M140.94 282.98h0M140.33 284.92h0M140.76 270.34h0M140.49 280.87h0M140.81 281.05h0M141.26 280.01h0M140.95 281.92h0" stroke="#dc3a3a" stroke-width="0.76" stroke-linecap="round" opacity="0.2"/>
<path d="M140.69 276.83h0M140.2 285.53h0M140.8 272.52h0M139.99 285.78h0M140.76 270.71h0M141.24 285.87h0M141.19 283.1h0M140.79 283.26h0" stroke="#dc3a3a" stroke-width="0.76" stroke-linecap="round" opacity="0.34"/>
<path d="M139.21 292.68 Q139.85 292.24 139.7 291.21 L140.3 285.99 L141 285.99 L141.6 291.21 Q141.45 292.24 142.09 292.68 Z" fill="#dc3a3a" opacity="0.6"/>
<line x1="140.65" y1="285.99" x2="140.65" y2="292.68" stroke="#c82424" stroke-width="0.45" />
<line x1="139.75" y1="285.99" x2="141.55" y2="285.99" stroke="#c82424" stroke-width="0.5" />
<rect x="138.53" y="292.68" width="4.25" height="5.02" fill="#dc3a3a" fill-opacity="0.72" stroke="#c82424" stroke-width="0.4" stroke-opacity="0.8"/>
<path d="M140.04 297.07h0M140.6 296.66h0M139.83 293.55h0M140.2 293.62h0M142.15 294.14h0M140.85 293.26h0" stroke="#fff" stroke-width="0.64" stroke-linecap="round" opacity="0.4"/>
<path d="M146.74 279.54h0M146.55 284.32h0M146.54 285.77h0M146.68 275.43h0M146.35 274.01h0M146.39 269.28h0M147.31 269.23h0M147.2 284.28h0M146.53 280.37h0M147.18 288.3h0M147.02 266.74h0M147.05 286.5h0M146.75 285.21h0" stroke="#9b6cc8" stroke-width="0.76" stroke-linecap="round" opacity="0.2"/>
<path d="M146.39 289h0M146.5 264.34h0M146.39 267.83h0M146.59 279.28h0M147.11 283.53h0" stroke="#9b6cc8" stroke-width="0.76" stroke-linecap="round" opacity="0.34"/>
<path d="M145.46 294.36 Q146.1 294.02 145.95 293.25 L146.55 289.34 L147.25 289.34 L147.85 293.25 Q147.7 294.02 148.34 294.36 Z" fill="#9b6cc8" opacity="0.6"/>
<line x1="146.9" y1="289.34" x2="146.9" y2="294.36" stroke="#8455b5" stroke-width="0.45" />
<line x1="146" y1="289.34" x2="147.8" y2="289.34" stroke="#8455b5" stroke-width="0.5" />
<rect x="144.78" y="294.36" width="4.25" height="3.34" fill="#9b6cc8" fill-opacity="0.72" stroke="#8455b5" stroke-width="0.4" stroke-opacity="0.8"/>
<path d="M145.87 297.2h0M146.33 296.57h0M145.65 296.23h0M146.46 296.03h0" stroke="#fff" stroke-width="0.64" stroke-linecap="round" opacity="0.4"/>
<path d="M152.56 286.22h0M152.85 288.48h0M153.37 277.62h0M153.62 287h0M152.72 278.99h0M152.52 289.21h0M152.88 287.71h0M152.82 276.58h0M152.94 277.49h0M153.53 273.07h0" stroke="#9a6358" stroke-width="0.76" stroke-linecap="round" opacity="0.2"/>
<path d="M152.64 287.32h0M153.02 286.46h0M153.67 274.88h0M153.37 284.06h0M153.47 270.55h0M152.89 289.22h0M153.61 287.94h0M153.63 289.2h0" stroke="#9a6358" stroke-width="0.76" stroke-linecap="round" opacity="0.34"/>
<path d="M151.71 294.36 Q152.35 294.02 152.2 293.25 L152.8 289.34 L153.5 289.34 L154.1 293.25 Q153.95 294.02 154.59 294.36 Z" fill="#9a6358" opacity="0.6"/>
<line x1="153.15" y1="289.34" x2="153.15" y2="294.36" stroke="#84483c" stroke-width="0.45" />
<line x1="152.25" y1="289.34" x2="154.05" y2="289.34" stroke="#84483c" stroke-width="0.5" />
<rect x="151.03" y="294.36" width="4.25" height="3.34" fill="#9a6358" fill-opacity="0.72" stroke="#84483c" stroke-width="0.4" stroke-opacity="0.8"/>
<path d="M151.71 295.17h0M151.91 297h0M152.23 297.41h0M153.95 294.64h0" stroke="#fff" stroke-width="0.64" stroke-linecap="round" opacity="0.4"/>
<path d="M159.1 269.09h0M159.34 275.74h0M159.46 275.46h0M159.21 287.39h0M159.14 285.73h0M159.63 273.26h0M159.42 285.08h0M159.2 265.1h0" stroke="#e57fc6" stroke-width="0.76" stroke-linecap="round" opacity="0.2"/>
<path d="M159.26 273.66h0M159.3 264.7h0M159.72 273.76h0M159.3 273.54h0M158.89 265.4h0M159.68 287.5h0M159.46 284.74h0M158.91 267.04h0M159.83 283.33h0M158.95 271.48h0" stroke="#e57fc6" stroke-width="0.76" stroke-linecap="round" opacity="0.34"/>
<path d="M157.96 293.52 Q158.6 293.13 158.45 292.23 L159.05 287.66 L159.75 287.66 L160.35 292.23 Q160.2 293.13 160.84 293.52 Z" fill="#e57fc6" opacity="0.6"/>
<line x1="159.4" y1="287.66" x2="159.4" y2="293.52" stroke="#d660b5" stroke-width="0.45" />
<line x1="158.5" y1="287.66" x2="160.3" y2="287.66" stroke="#d660b5" stroke-width="0.5" />
<rect x="157.28" y="293.52" width="4.25" height="4.18" fill="#e57fc6" fill-opacity="0.72" stroke="#d660b5" stroke-width="0.4" stroke-opacity="0.8"/>
<path d="M159.71 295.45h0M160.25 296.99h0M158.17 294.73h0M158.96 294.38h0M158 294.69h0" stroke="#fff" stroke-width="0.64" stroke-linecap="round" opacity="0.4"/>
<path d="M165.92 276.14h0M165.41 277.02h0M165.2 273.66h0M165.12 269.61h0M165.3 275.43h0M166.23 262.28h0M166.1 273.55h0" stroke="#8a8a8a" stroke-width="0.76" stroke-linecap="round" opacity="0.2"/>
<path d="M166.32 277.62h0M165.95 277.25h0M165.23 272.35h0M166.22 277.62h0M166.24 268.1h0M166.02 277.57h0M165.22 274.76h0M166.1 264.02h0M165.22 274.28h0M165.47 274.39h0M165.74 277.51h0" stroke="#8a8a8a" stroke-width="0.76" stroke-linecap="round" opacity="0.34"/>
<path d="M164.21 288.5 Q164.85 287.78 164.7 286.11 L165.3 277.63 L166 277.63 L166.6 286.11 Q166.45 287.78 167.09 288.5 Z" fill="#8a8a8a" opacity="0.6"/>
<path d="M164.21 295.19 Q164.85 295.42 164.7 295.94 L165.3 297.7 L166 297.7 L166.6 295.94 Q166.45 295.42 167.09 295.19 Z" fill="#8a8a8a" opacity="0.6"/>
<line x1="165.65" y1="277.63" x2="165.65" y2="288.5" stroke="#6e6e6e" stroke-width="0.45" />
<line x1="165.65" y1="295.19" x2="165.65" y2="297.7" stroke="#6e6e6e" stroke-width="0.45" />
<line x1="164.75" y1="277.63" x2="166.55" y2="277.63" stroke="#6e6e6e" stroke-width="0.5" />
<rect x="163.53" y="288.5" width="4.25" height="6.69" fill="#8a8a8a" fill-opacity="0.72" stroke="#6e6e6e" stroke-width="0.4" stroke-opacity="0.8"/>
<path d="M166.67 293.22h0M166.94 294.82h0M165.63 291.84h0M164.56 290.51h0M165.91 289.04h0M166.25 289.6h0M165.47 294.99h0M164.34 288.77h0" stroke="#fff" stroke-width="0.64" stroke-linecap="round" opacity="0.4"/>
<line x1="163.53" y1="292.68" x2="167.78" y2="292.68" stroke="#6e6e6e" stroke-width="0.5" stroke-opacity="0.65"/>
<text x="87.8" y="306.3" font-size="6.3" text-anchor="middle" fill="#202020" stroke="#202020" stroke-width="0.13" >4</text>
<text x="143.6" y="306.3" font-size="6.3" text-anchor="middle" fill="#202020" stroke="#202020" stroke-width="0.13" >24</text>
<line x1="293.9" y1="209.2" x2="444.4" y2="209.2" stroke="#c8c8c8" stroke-width="1.1" />
<line x1="293.5" y1="141.7" x2="293.5" y2="209.7" stroke="#6a6a6a" stroke-width="0.6" />
<line x1="292.7" y1="208.9" x2="293.9" y2="208.9" stroke="#555" stroke-width="0.45" />
<text x="292.1" y="211.1" font-size="6.2" text-anchor="end" fill="#202020" stroke="#202020" stroke-width="0.12" >0</text>
<line x1="292.7" y1="197.75" x2="293.9" y2="197.75" stroke="#555" stroke-width="0.45" />
<text x="292.1" y="199.95" font-size="6.2" text-anchor="end" fill="#202020" stroke="#202020" stroke-width="0.12" >20</text>
<line x1="292.7" y1="186.6" x2="293.9" y2="186.6" stroke="#555" stroke-width="0.45" />
<text x="292.1" y="188.8" font-size="6.2" text-anchor="end" fill="#202020" stroke="#202020" stroke-width="0.12" >40</text>
<line x1="292.7" y1="175.45" x2="293.9" y2="175.45" stroke="#555" stroke-width="0.45" />
<text x="292.1" y="177.65" font-size="6.2" text-anchor="end" fill="#202020" stroke="#202020" stroke-width="0.12" >60</text>
<line x1="292.7" y1="164.3" x2="293.9" y2="164.3" stroke="#555" stroke-width="0.45" />
<text x="292.1" y="166.5" font-size="6.2" text-anchor="end" fill="#202020" stroke="#202020" stroke-width="0.12" >80</text>
<line x1="292.7" y1="153.15" x2="293.9" y2="153.15" stroke="#555" stroke-width="0.45" />
<text x="292.1" y="155.35" font-size="6.2" text-anchor="end" fill="#202020" stroke="#202020" stroke-width="0.12" >100</text>
<line x1="292.7" y1="142" x2="293.9" y2="142" stroke="#555" stroke-width="0.45" />
<text x="292.1" y="144.2" font-size="6.2" text-anchor="end" fill="#202020" stroke="#202020" stroke-width="0.12" >120</text>
<path d="M299.41 203.9h0M299.52 204.77h0M300 203.61h0M299.12 206.53h0M299.68 205.87h0M299.98 206.55h0M299.72 207.14h0M299.7 207.4h0" stroke="#2b7fc4" stroke-width="0.76" stroke-linecap="round" opacity="0.2"/>
<path d="M299.11 206.08h0M299.93 207.51h0M299.42 206.57h0M299.43 206.75h0M299.45 206.63h0M299.96 202.96h0M299.65 202.53h0M299.72 207.45h0M299.59 206.75h0M299.4 205.29h0" stroke="#2b7fc4" stroke-width="0.76" stroke-linecap="round" opacity="0.34"/>
<path d="M298.17 208.51 Q298.7 208.44 298.55 208.29 L299.15 207.51 L299.85 207.51 L300.45 208.29 Q300.3 208.44 300.83 208.51 Z" fill="#2b7fc4" opacity="0.6"/>
<line x1="299.5" y1="207.51" x2="299.5" y2="208.51" stroke="#1f6fb0" stroke-width="0.45" />
<line x1="298.6" y1="207.51" x2="300.4" y2="207.51" stroke="#1f6fb0" stroke-width="0.5" />
<rect x="297.55" y="208.51" width="3.9" height="0.5" fill="#2b7fc4" fill-opacity="0.72" stroke="#1f6fb0" stroke-width="0.4" stroke-opacity="0.8"/>
<path d="M304.97 205.83h0M305.55 207.38h0M305.14 207.41h0M305.17 206.17h0M304.58 205.72h0M305.51 207.4h0M304.77 207.46h0M305.22 207.5h0M305.36 206.9h0" stroke="#f58a1f" stroke-width="0.76" stroke-linecap="round" opacity="0.2"/>
<path d="M305.59 207.24h0M304.62 205.79h0M305.02 207.44h0M305.37 205.9h0M305.71 207.38h0M305.67 207.26h0M304.65 204.73h0M305.25 204.04h0M305.62 205.84h0" stroke="#f58a1f" stroke-width="0.76" stroke-linecap="round" opacity="0.34"/>
<path d="M303.77 208.51 Q304.3 208.44 304.15 208.29 L304.75 207.51 L305.45 207.51 L306.05 208.29 Q305.9 208.44 306.43 208.51 Z" fill="#f58a1f" opacity="0.6"/>
<line x1="305.1" y1="207.51" x2="305.1" y2="208.51" stroke="#e07410" stroke-width="0.45" />
<line x1="304.2" y1="207.51" x2="306" y2="207.51" stroke="#e07410" stroke-width="0.5" />
<rect x="303.15" y="208.51" width="3.9" height="0.5" fill="#f58a1f" fill-opacity="0.72" stroke="#e07410" stroke-width="0.4" stroke-opacity="0.8"/>
<path d="M311.01 205.37h0M310.98 194.34h0M310.39 199.27h0M310.1 205.72h0M310.93 204.34h0M310.5 206.1h0M310.57 199.2h0M311.13 205.44h0" stroke="#2fa84a" stroke-width="0.76" stroke-linecap="round" opacity="0.2"/>
<path d="M310.93 197.78h0M310.54 205.67h0M310.2 200.39h0M310.22 197.09h0M311.12 202.58h0M310.31 197.13h0M311.17 205.53h0M311.08 199.04h0M311.17 201.86h0M310.3 206.05h0" stroke="#2fa84a" stroke-width="0.76" stroke-linecap="round" opacity="0.34"/>
<path d="M309.37 207.78 Q309.9 207.67 309.75 207.42 L310.35 206.11 L311.05 206.11 L311.65 207.42 Q311.5 207.67 312.03 207.78 Z" fill="#2fa84a" opacity="0.6"/>
<line x1="310.7" y1="206.11" x2="310.7" y2="207.78" stroke="#1f9038" stroke-width="0.45" />
<line x1="309.8" y1="206.11" x2="311.6" y2="206.11" stroke="#1f9038" stroke-width="0.5" />
<rect x="308.75" y="207.78" width="3.9" height="1.12" fill="#2fa84a" fill-opacity="0.72" stroke="#1f9038" stroke-width="0.4" stroke-opacity="0.8"/>
<path d="M311.79 208.47h0" stroke="#fff" stroke-width="0.64" stroke-linecap="round" opacity="0.4"/>
<path d="M316.09 194.23h0M316.41 185.55h0M316.13 193.78h0M316.16 190.01h0M316.4 194.4h0M316.91 184.53h0M316.47 190.81h0M316.18 190.33h0" stroke="#dc3a3a" stroke-width="0.76" stroke-linecap="round" opacity="0.2"/>
<path d="M316.25 194.38h0M315.86 194.33h0M316.02 193.08h0M316.39 193.16h0M316.64 190.21h0M316.47 187.37h0M316.03 192.31h0M316.85 185.88h0M316.63 192.83h0M316.08 192.54h0" stroke="#dc3a3a" stroke-width="0.76" stroke-linecap="round" opacity="0.34"/>
<path d="M314.97 203.33 Q315.5 202.74 315.35 201.36 L315.95 194.41 L316.65 194.41 L317.25 201.36 Q317.1 202.74 317.63 203.33 Z" fill="#dc3a3a" opacity="0.6"/>
<line x1="316.3" y1="194.41" x2="316.3" y2="203.33" stroke="#c82424" stroke-width="0.45" />
<line x1="315.4" y1="194.41" x2="317.2" y2="194.41" stroke="#c82424" stroke-width="0.5" />
<rect x="314.35" y="203.33" width="3.9" height="5.57" fill="#dc3a3a" fill-opacity="0.72" stroke="#c82424" stroke-width="0.4" stroke-opacity="0.8"/>
<path d="M316.25 205.37h0M315.55 204.63h0M315.86 204.08h0M314.86 208.18h0M316.16 205.81h0M316.5 205.01h0M315.33 203.69h0" stroke="#fff" stroke-width="0.64" stroke-linecap="round" opacity="0.4"/>
<path d="M322.45 177.85h0M322 175.93h0M322.24 178.6h0M321.36 176.24h0M321.62 176.06h0M321.48 179.34h0M321.55 177.12h0M322.03 175.68h0M322.37 176.57h0M321.35 178.67h0" stroke="#9b6cc8" stroke-width="0.76" stroke-linecap="round" opacity="0.2"/>
<path d="M321.66 178.78h0M322 179.1h0M322.03 179.05h0M321.52 177.4h0M321.51 179.19h0M322.07 176.2h0M321.68 179.03h0M321.78 177.4h0" stroke="#9b6cc8" stroke-width="0.76" stroke-linecap="round" opacity="0.34"/>
<path d="M320.57 195.52 Q321.1 194.62 320.95 192.52 L321.55 179.35 L322.25 179.35 L322.85 192.52 Q322.7 194.62 323.23 195.52 Z" fill="#9b6cc8" opacity="0.6"/>
<line x1="321.9" y1="179.35" x2="321.9" y2="195.52" stroke="#8455b5" stroke-width="0.45" />
<line x1="321" y1="179.35" x2="322.8" y2="179.35" stroke="#8455b5" stroke-width="0.5" />
<rect x="319.95" y="195.52" width="3.9" height="13.38" fill="#9b6cc8" fill-opacity="0.72" stroke="#8455b5" stroke-width="0.4" stroke-opacity="0.8"/>
<path d="M320.57 203.9h0M321.42 202.13h0M322.19 198.96h0M321.79 195.7h0M323.14 203.07h0M323.33 196.27h0M322.23 205.21h0M321.4 196.77h0M320.89 197.43h0M322.68 196.72h0M322.82 201.18h0M322.01 203.39h0M322.06 204.32h0M322.2 199.95h0M322.61 198.97h0M322.52 205.73h0M322.71 199.66h0" stroke="#fff" stroke-width="0.64" stroke-linecap="round" opacity="0.4"/>
<path d="M328.1 165.07h0M326.89 168.54h0M327.84 165.92h0M326.91 168.64h0M328.05 168.4h0M327.08 163.87h0M327.67 166.93h0M327.45 164.85h0M327.68 168.69h0M327.16 166.12h0" stroke="#9a6358" stroke-width="0.76" stroke-linecap="round" opacity="0.2"/>
<path d="M327.53 168.04h0M327.16 163.28h0M327.5 168.7h0M327.1 168.49h0M327.18 165.03h0M327.01 164.02h0M326.95 164.35h0M328.02 167.42h0" stroke="#9a6358" stroke-width="0.76" stroke-linecap="round" opacity="0.34"/>
<path d="M326.17 192.18 Q326.7 191.28 326.55 189.18 L327.15 168.76 L327.85 168.76 L328.45 189.18 Q328.3 191.28 328.83 192.18 Z" fill="#9a6358" opacity="0.6"/>
<line x1="327.5" y1="168.76" x2="327.5" y2="192.18" stroke="#84483c" stroke-width="0.45" />
<line x1="326.6" y1="168.76" x2="328.4" y2="168.76" stroke="#84483c" stroke-width="0.5" />
<rect x="325.55" y="192.18" width="3.9" height="16.72" fill="#9a6358" fill-opacity="0.72" stroke="#84483c" stroke-width="0.4" stroke-opacity="0.8"/>
<path d="M326.8 199.43h0M326.71 195.57h0M328.26 202.92h0M326.91 208.8h0M326.67 201.7h0M326.5 206.61h0M328.58 196.65h0M328.24 205.94h0M326.86 197.72h0M327.46 207.08h0M326.51 203.59h0M327.79 199.75h0M327.73 206.94h0M326.65 206.95h0M327.09 205.22h0M328.56 195.22h0M328.56 208.81h0M326.91 192.58h0M326.36 208.47h0M326.07 207.42h0M326.48 204.48h0" stroke="#fff" stroke-width="0.64" stroke-linecap="round" opacity="0.4"/>
<path d="M333.01 174.14h0M333.71 174.88h0M332.63 168.55h0M333.01 174.57h0M332.62 172.31h0M333.62 172.35h0M332.82 170.16h0M332.56 173.96h0" stroke="#e57fc6" stroke-width="0.76" stroke-linecap="round" opacity="0.2"/>
<path d="M332.69 174.7h0M332.9 174.73h0M333.58 170.32h0M332.77 174.86h0M332.52 170.59h0M332.66 170.63h0M333.68 174.22h0M332.99 172.25h0M332.49 173.35h0M333.15 170.94h0" stroke="#e57fc6" stroke-width="0.76" stroke-linecap="round" opacity="0.34"/>
<path d="M331.77 192.18 Q332.3 191.28 332.15 189.18 L332.75 174.89 L333.45 174.89 L334.05 189.18 Q333.9 191.28 334.43 192.18 Z" fill="#e57fc6" opacity="0.6"/>
<line x1="333.1" y1="174.89" x2="333.1" y2="192.18" stroke="#d660b5" stroke-width="0.45" />
<line x1="332.2" y1="174.89" x2="334" y2="174.89" stroke="#d660b5" stroke-width="0.5" />
<rect x="331.15" y="192.18" width="3.9" height="16.72" fill="#e57fc6" fill-opacity="0.72" stroke="#d660b5" stroke-width="0.4" stroke-opacity="0.8"/>
<path d="M333.66 208.6h0M334.19 204.18h0M332.81 197.5h0M332.86 208.45h0M332.77 198.62h0M332.84 194.57h0M334.56 192.26h0M333.42 207.67h0M332.38 202.39h0M332.74 196.2h0M332.22 194.12h0M334.1 205.29h0M334.29 193h0M333.67 197.6h0M333.53 201.36h0M332.56 208.43h0M331.64 204.66h0M334.13 200.71h0M333.37 208.81h0M332.32 202.7h0M333.81 198.51h0" stroke="#fff" stroke-width="0.64" stroke-linecap="round" opacity="0.4"/>
<path d="M338.92 161.75h0M338.75 161.65h0M338.35 162.6h0M339.09 162.3h0M339.1 163.97h0M338.13 159.86h0M339.1 160.15h0M338.39 164.02h0M338.19 162.73h0M338.94 158.75h0M338.92 164.03h0" stroke="#8a8a8a" stroke-width="0.76" stroke-linecap="round" opacity="0.2"/>
<path d="M338.57 161.06h0M338.41 161.76h0M338.98 162.62h0M338.74 159.36h0M339.11 161.57h0M339.08 163.23h0M339.07 162.59h0" stroke="#8a8a8a" stroke-width="0.76" stroke-linecap="round" opacity="0.34"/>
<path d="M337.37 188.83 Q337.9 187.93 337.75 185.83 L338.35 164.3 L339.05 164.3 L339.65 185.83 Q339.5 187.93 340.03 188.83 Z" fill="#8a8a8a" opacity="0.6"/>
<line x1="338.7" y1="164.3" x2="338.7" y2="188.83" stroke="#6e6e6e" stroke-width="0.45" />
<line x1="337.8" y1="164.3" x2="339.6" y2="164.3" stroke="#6e6e6e" stroke-width="0.5" />
<rect x="336.75" y="188.83" width="3.9" height="20.07" fill="#8a8a8a" fill-opacity="0.72" stroke="#6e6e6e" stroke-width="0.4" stroke-opacity="0.8"/>
<path d="M338.76 193.6h0M338.32 195.66h0M338.35 189.19h0M337.82 200.28h0M337.41 192.41h0M339.34 194.34h0M338.19 193.68h0M339.68 190.66h0M339.1 206.07h0M337.83 197.32h0M339.56 201.23h0M338.32 189.71h0M338.53 196.2h0M339.32 194.76h0M338.43 201.84h0M339.61 195.9h0M338.36 200.44h0M339.94 192.68h0M340.08 203.12h0M338.33 202.19h0M338.2 190.25h0M339.45 196.44h0M338.78 198.8h0M339.87 204.02h0M337.31 200.73h0M338.59 198.11h0" stroke="#fff" stroke-width="0.64" stroke-linecap="round" opacity="0.4"/>
<path d="M349.39 202.66h0M349.42 202.18h0M349.38 203.54h0M349.02 203.29h0M349.9 207.4h0M349.96 202.87h0M349.52 206.4h0M349.22 201.21h0M349.51 205h0M349.95 203h0" stroke="#2b7fc4" stroke-width="0.76" stroke-linecap="round" opacity="0.2"/>
<path d="M349.91 205.31h0M349.57 204.05h0M349.82 207.37h0M349.73 207.44h0M348.94 205.51h0M349.6 205.92h0M349.19 206.51h0M349.26 207.45h0" stroke="#2b7fc4" stroke-width="0.76" stroke-linecap="round" opacity="0.34"/>
<path d="M348.17 208.51 Q348.7 208.44 348.55 208.29 L349.15 207.51 L349.85 207.51 L350.45 208.29 Q350.3 208.44 350.83 208.51 Z" fill="#2b7fc4" opacity="0.6"/>
<line x1="349.5" y1="207.51" x2="349.5" y2="208.51" stroke="#1f6fb0" stroke-width="0.45" />
<line x1="348.6" y1="207.51" x2="350.4" y2="207.51" stroke="#1f6fb0" stroke-width="0.5" />
<rect x="347.55" y="208.51" width="3.9" height="0.5" fill="#2b7fc4" fill-opacity="0.72" stroke="#1f6fb0" stroke-width="0.4" stroke-opacity="0.8"/>
<path d="M355.06 206.41h0M355.18 206.24h0M355.47 206.84h0M355.64 206.01h0M354.55 203.2h0M355.22 207.43h0M355.62 207.26h0" stroke="#f58a1f" stroke-width="0.76" stroke-linecap="round" opacity="0.2"/>
<path d="M354.54 207.1h0M354.93 205.27h0M355.62 207.1h0M354.87 207.46h0M355.48 204.44h0M354.54 204.92h0M355.18 202.85h0M355.32 205.77h0M354.74 206.76h0M354.59 207.37h0M354.99 202.62h0" stroke="#f58a1f" stroke-width="0.76" stroke-linecap="round" opacity="0.34"/>
<path d="M353.77 208.51 Q354.3 208.44 354.15 208.29 L354.75 207.51 L355.45 207.51 L356.05 208.29 Q355.9 208.44 356.43 208.51 Z" fill="#f58a1f" opacity="0.6"/>
<line x1="355.1" y1="207.51" x2="355.1" y2="208.51" stroke="#e07410" stroke-width="0.45" />
<line x1="354.2" y1="207.51" x2="356" y2="207.51" stroke="#e07410" stroke-width="0.5" />
<rect x="353.15" y="208.51" width="3.9" height="0.5" fill="#f58a1f" fill-opacity="0.72" stroke="#e07410" stroke-width="0.4" stroke-opacity="0.8"/>
<path d="M361.12 207.19h0M360.8 206.63h0M361.13 206.22h0M361.3 202.94h0M360.76 206.67h0M360.98 205.43h0M360.73 201.68h0M361.01 206.09h0M360.19 201.77h0M360.25 207.1h0M361.13 202.11h0" stroke="#2fa84a" stroke-width="0.76" stroke-linecap="round" opacity="0.2"/>
<path d="M361.21 206.53h0M360.15 206.92h0M360.27 204.8h0M360.55 207.2h0M360.22 203.93h0M361.23 207.02h0M360.82 202.37h0" stroke="#2fa84a" stroke-width="0.76" stroke-linecap="round" opacity="0.34"/>
<path d="M359.37 208.23 Q359.9 208.16 359.75 208.01 L360.35 207.23 L361.05 207.23 L361.65 208.01 Q361.5 208.16 362.03 208.23 Z" fill="#2fa84a" opacity="0.6"/>
<line x1="360.7" y1="207.23" x2="360.7" y2="208.23" stroke="#1f9038" stroke-width="0.45" />
<line x1="359.8" y1="207.23" x2="361.6" y2="207.23" stroke="#1f9038" stroke-width="0.5" />
<rect x="358.75" y="208.23" width="3.9" height="0.67" fill="#2fa84a" fill-opacity="0.72" stroke="#1f9038" stroke-width="0.4" stroke-opacity="0.8"/>
<path d="M365.74 191.89h0M366.66 204.34h0M366.37 205.72h0M366.48 205.44h0M366.12 194.52h0M365.88 191.67h0M366.28 183.66h0M366.77 205.48h0M366.34 197.03h0M366.13 196.72h0M365.93 199.58h0" stroke="#dc3a3a" stroke-width="0.76" stroke-linecap="round" opacity="0.2"/>
<path d="M365.72 181.52h0M366.11 179.68h0M365.98 198.35h0M366.66 195.35h0M365.72 198.03h0M366.09 180.8h0M365.88 197.85h0" stroke="#dc3a3a" stroke-width="0.76" stroke-linecap="round" opacity="0.34"/>
<path d="M364.97 207.67 Q365.5 207.57 365.35 207.33 L365.95 206.11 L366.65 206.11 L367.25 207.33 Q367.1 207.57 367.63 207.67 Z" fill="#dc3a3a" opacity="0.6"/>
<line x1="366.3" y1="206.11" x2="366.3" y2="207.67" stroke="#c82424" stroke-width="0.45" />
<line x1="365.4" y1="206.11" x2="367.2" y2="206.11" stroke="#c82424" stroke-width="0.5" />
<rect x="364.35" y="207.67" width="3.9" height="1.23" fill="#dc3a3a" fill-opacity="0.72" stroke="#c82424" stroke-width="0.4" stroke-opacity="0.8"/>
<path d="M365.54 208.74h0" stroke="#fff" stroke-width="0.64" stroke-linecap="round" opacity="0.4"/>
<path d="M372.39 194.06h0M372.14 192.59h0M371.47 188.22h0M372.39 197.82h0M372.16 187.32h0M372.43 194.87h0M371.79 182.85h0M371.46 190.04h0M371.52 199.69h0M371.87 187.11h0" stroke="#9b6cc8" stroke-width="0.76" stroke-linecap="round" opacity="0.2"/>
<path d="M371.89 182.76h0M371.77 200.46h0M371.57 192.41h0M372.02 198.47h0M372.05 200.42h0M371.7 186.48h0M371.58 200.14h0M372.49 197.21h0" stroke="#9b6cc8" stroke-width="0.76" stroke-linecap="round" opacity="0.34"/>
<path d="M370.57 205.56 Q371.1 205.22 370.95 204.45 L371.55 200.54 L372.25 200.54 L372.85 204.45 Q372.7 205.22 373.23 205.56 Z" fill="#9b6cc8" opacity="0.6"/>
<line x1="371.9" y1="200.54" x2="371.9" y2="205.56" stroke="#8455b5" stroke-width="0.45" />
<line x1="371" y1="200.54" x2="372.8" y2="200.54" stroke="#8455b5" stroke-width="0.5" />
<rect x="369.95" y="205.56" width="3.9" height="3.34" fill="#9b6cc8" fill-opacity="0.72" stroke="#8455b5" stroke-width="0.4" stroke-opacity="0.8"/>
<path d="M372.72 208.59h0M372.64 207.68h0M371.02 207.65h0M372.91 208.19h0" stroke="#fff" stroke-width="0.64" stroke-linecap="round" opacity="0.4"/>
<path d="M377.77 196.31h0M378.06 191.36h0M377.86 182.86h0M377.17 185.7h0M377.17 192.48h0M377.87 185.75h0M376.9 192.02h0" stroke="#9a6358" stroke-width="0.76" stroke-linecap="round" opacity="0.2"/>
<path d="M378.08 195.85h0M377.04 187.57h0M378.01 183.57h0M377.88 185.83h0M377.91 192.8h0M377.25 185.02h0M377.73 184.21h0M377.85 193.4h0M378.05 188.76h0M376.98 193.21h0M377.3 185.75h0" stroke="#9a6358" stroke-width="0.76" stroke-linecap="round" opacity="0.34"/>
<path d="M376.17 203.88 Q376.7 203.4 376.55 202.29 L377.15 196.63 L377.85 196.63 L378.45 202.29 Q378.3 203.4 378.83 203.88 Z" fill="#9a6358" opacity="0.6"/>
<line x1="377.5" y1="196.63" x2="377.5" y2="203.88" stroke="#84483c" stroke-width="0.45" />
<line x1="376.6" y1="196.63" x2="378.4" y2="196.63" stroke="#84483c" stroke-width="0.5" />
<rect x="375.55" y="203.88" width="3.9" height="5.02" fill="#9a6358" fill-opacity="0.72" stroke="#84483c" stroke-width="0.4" stroke-opacity="0.8"/>
<path d="M378.41 205.98h0M377.81 206.18h0M377.02 204.95h0M377.07 208.12h0M377.85 205.35h0M376.29 205.24h0" stroke="#fff" stroke-width="0.64" stroke-linecap="round" opacity="0.4"/>
<path d="M383.5 158.14h0M383.67 157.54h0M382.97 153.97h0M383.51 157.82h0M382.48 156.37h0M382.92 157.62h0M383.67 156.8h0M383.26 155.58h0" stroke="#e57fc6" stroke-width="0.76" stroke-linecap="round" opacity="0.2"/>
<path d="M383.03 155.32h0M382.63 154.61h0M383.59 157.71h0M383.11 153.5h0M383.04 153.58h0M383.55 156.22h0M383.63 157.12h0M382.57 155.55h0M383.32 156.39h0M382.93 156.52h0" stroke="#e57fc6" stroke-width="0.76" stroke-linecap="round" opacity="0.34"/>
<path d="M381.77 187.72 Q382.3 186.81 382.15 184.72 L382.75 158.17 L383.45 158.17 L384.05 184.72 Q383.9 186.81 384.43 187.72 Z" fill="#e57fc6" opacity="0.6"/>
<line x1="383.1" y1="158.17" x2="383.1" y2="187.72" stroke="#d660b5" stroke-width="0.45" />
<line x1="382.2" y1="158.17" x2="384" y2="158.17" stroke="#d660b5" stroke-width="0.5" />
<rect x="381.15" y="187.72" width="3.9" height="21.19" fill="#e57fc6" fill-opacity="0.72" stroke="#d660b5" stroke-width="0.4" stroke-opacity="0.8"/>
<path d="M381.8 205.4h0M383.64 199.52h0M382.95 203.63h0M384.24 203.16h0M383.83 188.46h0M382.59 190.62h0M384.42 206.6h0M382.06 200.16h0M383.32 188.7h0M382.78 203.55h0M383.51 193.67h0M383.87 193.88h0M383.23 196.63h0M384.5 201.46h0M383.99 202.05h0M382.75 208.12h0M383.71 202.35h0M382.45 191.14h0M383.32 205.21h0M383.96 195.07h0M382.05 198.65h0M384.2 191.15h0M383.8 191.33h0M382.55 188.85h0M382.51 195.83h0M384.47 208.1h0M382.18 194.27h0" stroke="#fff" stroke-width="0.64" stroke-linecap="round" opacity="0.4"/>
<path d="M388.32 155.92h0M388.21 159.87h0M388.47 157.4h0M389.02 158.28h0M388.86 160.67h0M388.38 160.78h0M389.08 160.02h0" stroke="#8a8a8a" stroke-width="0.76" stroke-linecap="round" opacity="0.2"/>
<path d="M388.56 160.13h0M388.33 160.77h0M389.12 159.8h0M388.66 157.58h0M389.22 160.3h0M388.13 157.46h0M388.52 159.04h0M389.02 159.17h0M388.88 160.59h0M388.94 158.56h0M389.25 160.13h0" stroke="#8a8a8a" stroke-width="0.76" stroke-linecap="round" opacity="0.34"/>
<path d="M387.37 189.94 Q387.9 189.04 387.75 186.94 L388.35 161.51 L389.05 161.51 L389.65 186.94 Q389.5 189.04 390.03 189.94 Z" fill="#8a8a8a" opacity="0.6"/>
<line x1="388.7" y1="161.51" x2="388.7" y2="189.94" stroke="#6e6e6e" stroke-width="0.45" />
<line x1="387.8" y1="161.51" x2="389.6" y2="161.51" stroke="#6e6e6e" stroke-width="0.5" />
<rect x="386.75" y="189.94" width="3.9" height="18.96" fill="#8a8a8a" fill-opacity="0.72" stroke="#6e6e6e" stroke-width="0.4" stroke-opacity="0.8"/>
<path d="M388.24 197.39h0M389.59 196.57h0M387.78 206.47h0M388.79 199.82h0M389.2 207.03h0M387.63 196.37h0M387.43 197.78h0M388.71 206.09h0M389.19 200.9h0M388.42 200.82h0M388.04 205.96h0M389.54 205.84h0M387.68 202.67h0M389.44 199.43h0M389.87 206.98h0M389.41 205.51h0M389.14 206.6h0M387.62 203.29h0M389.3 201.55h0M388.04 191.22h0M389 205.57h0M388.04 193.98h0M387.89 191.72h0M389.21 208.42h0" stroke="#fff" stroke-width="0.64" stroke-linecap="round" opacity="0.4"/>
<path d="M399.92 207.6h0M399.66 207.78h0M398.95 206.23h0M399.88 203.01h0M399.01 198.73h0M399.3 201.94h0M399.51 207.74h0M400.11 205.71h0M399.04 204.02h0M399.76 201.13h0" stroke="#2b7fc4" stroke-width="0.76" stroke-linecap="round" opacity="0.2"/>
<path d="M399.32 199.17h0M399.15 202.82h0M399.92 206.78h0M398.91 203.25h0M399.66 207.64h0M399.38 202.58h0M399.16 202.53h0M399.88 195.6h0" stroke="#2b7fc4" stroke-width="0.76" stroke-linecap="round" opacity="0.34"/>
<path d="M398.17 208.51 Q398.7 208.46 398.55 208.35 L399.15 207.78 L399.85 207.78 L400.45 208.35 Q400.3 208.46 400.83 208.51 Z" fill="#2b7fc4" opacity="0.6"/>
<line x1="399.5" y1="207.78" x2="399.5" y2="208.51" stroke="#1f6fb0" stroke-width="0.45" />
<line x1="398.6" y1="207.78" x2="400.4" y2="207.78" stroke="#1f6fb0" stroke-width="0.5" />
<rect x="397.55" y="208.51" width="3.9" height="0.5" fill="#2b7fc4" fill-opacity="0.72" stroke="#1f6fb0" stroke-width="0.4" stroke-opacity="0.8"/>
<path d="M404.71 206.98h0M405.02 206.24h0M404.72 205.24h0M405.37 205.13h0M405.26 205.14h0M404.86 203.39h0M405.04 204.64h0M404.74 206.28h0" stroke="#f58a1f" stroke-width="0.76" stroke-linecap="round" opacity="0.2"/>
<path d="M404.72 207.19h0M405.35 206.02h0M405.66 204.98h0M404.49 207.43h0M404.68 206.93h0M404.92 207.51h0M404.67 207.66h0M405.71 206.45h0M405.07 204.7h0M404.61 207.62h0" stroke="#f58a1f" stroke-width="0.76" stroke-linecap="round" opacity="0.34"/>
<path d="M403.77 208.51 Q404.3 208.46 404.15 208.35 L404.75 207.78 L405.45 207.78 L406.05 208.35 Q405.9 208.46 406.43 208.51 Z" fill="#f58a1f" opacity="0.6"/>
<line x1="405.1" y1="207.78" x2="405.1" y2="208.51" stroke="#e07410" stroke-width="0.45" />
<line x1="404.2" y1="207.78" x2="406" y2="207.78" stroke="#e07410" stroke-width="0.5" />
<rect x="403.15" y="208.51" width="3.9" height="0.5" fill="#f58a1f" fill-opacity="0.72" stroke="#e07410" stroke-width="0.4" stroke-opacity="0.8"/>
<path d="M411.3 201.65h0M410.24 202.64h0M410.81 206.96h0M410.16 205.16h0M411.18 204.49h0M410.33 204.37h0M410.55 202.03h0M410.23 204.74h0M410.62 203.82h0M410.14 203.68h0" stroke="#2fa84a" stroke-width="0.76" stroke-linecap="round" opacity="0.2"/>
<path d="M411.21 207.49h0M410.56 203.61h0M411.11 207.5h0M410.13 205.63h0M410.81 205.68h0M410.92 206.03h0M410.89 206.85h0M410.25 205.58h0" stroke="#2fa84a" stroke-width="0.76" stroke-linecap="round" opacity="0.34"/>
<path d="M409.37 208.4 Q409.9 208.34 409.75 208.2 L410.35 207.51 L411.05 207.51 L411.65 208.2 Q411.5 208.34 412.03 208.4 Z" fill="#2fa84a" opacity="0.6"/>
<line x1="410.7" y1="207.51" x2="410.7" y2="208.4" stroke="#1f9038" stroke-width="0.45" />
<line x1="409.8" y1="207.51" x2="411.6" y2="207.51" stroke="#1f9038" stroke-width="0.5" />
<rect x="408.75" y="208.4" width="3.9" height="0.5" fill="#2fa84a" fill-opacity="0.72" stroke="#1f9038" stroke-width="0.4" stroke-opacity="0.8"/>
<path d="M415.75 200.28h0M415.96 192.48h0M415.72 197.69h0M416.68 192.72h0M416.82 199.6h0M416.68 205.68h0M416.82 194.65h0M415.77 196.54h0M416.04 201.17h0M416.61 206.66h0" stroke="#dc3a3a" stroke-width="0.76" stroke-linecap="round" opacity="0.2"/>
<path d="M416.7 196.77h0M415.98 206.55h0M416.51 205.39h0M415.7 205.95h0M416.89 206.28h0M415.81 201.7h0M416.37 195.46h0M416.45 201.85h0" stroke="#dc3a3a" stroke-width="0.76" stroke-linecap="round" opacity="0.34"/>
<path d="M414.97 208.01 Q415.5 207.92 415.35 207.71 L415.95 206.67 L416.65 206.67 L417.25 207.71 Q417.1 207.92 417.63 208.01 Z" fill="#dc3a3a" opacity="0.6"/>
<line x1="416.3" y1="206.67" x2="416.3" y2="208.01" stroke="#c82424" stroke-width="0.45" />
<line x1="415.4" y1="206.67" x2="417.2" y2="206.67" stroke="#c82424" stroke-width="0.5" />
<rect x="414.35" y="208.01" width="3.9" height="0.89" fill="#dc3a3a" fill-opacity="0.72" stroke="#c82424" stroke-width="0.4" stroke-opacity="0.8"/>
<path d="M417.26 208.73h0" stroke="#fff" stroke-width="0.64" stroke-linecap="round" opacity="0.4"/>
<path d="M421.81 205.5h0M421.96 192.72h0M421.4 195.53h0M422.23 204.53h0M421.37 206.66h0M422.45 205.74h0M421.59 198.36h0M421.68 203.99h0" stroke="#9b6cc8" stroke-width="0.76" stroke-linecap="round" opacity="0.2"/>
<path d="M421.43 202.51h0M422.19 206.34h0M422.5 200.16h0M422.02 198.62h0M421.78 202.55h0M422.42 199.42h0M422.42 196.6h0M421.31 198.16h0M421.81 195.49h0M422.5 202.73h0" stroke="#9b6cc8" stroke-width="0.76" stroke-linecap="round" opacity="0.34"/>
<path d="M420.57 208.01 Q421.1 207.92 420.95 207.71 L421.55 206.67 L422.25 206.67 L422.85 207.71 Q422.7 207.92 423.23 208.01 Z" fill="#9b6cc8" opacity="0.6"/>
<line x1="421.9" y1="206.67" x2="421.9" y2="208.01" stroke="#8455b5" stroke-width="0.45" />
<line x1="421" y1="206.67" x2="422.8" y2="206.67" stroke="#8455b5" stroke-width="0.5" />
<rect x="419.95" y="208.01" width="3.9" height="0.89" fill="#9b6cc8" fill-opacity="0.72" stroke="#8455b5" stroke-width="0.4" stroke-opacity="0.8"/>
<path d="M423.16 208.69h0" stroke="#fff" stroke-width="0.64" stroke-linecap="round" opacity="0.4"/>
<path d="M427.19 200.09h0M427.66 199.31h0M428.08 193.83h0M428.08 189.17h0M427.1 178.1h0M427.19 187.03h0M427.74 203.24h0" stroke="#9a6358" stroke-width="0.76" stroke-linecap="round" opacity="0.2"/>
<path d="M428.12 184.04h0M427.16 203.27h0M427.29 180.85h0M427.99 186.27h0M427.01 193.98h0M427.69 194.01h0M427.38 180.18h0M427.23 201.18h0M427.2 203.3h0M427.74 189.26h0M428.08 200.36h0" stroke="#9a6358" stroke-width="0.76" stroke-linecap="round" opacity="0.34"/>
<path d="M426.17 206.67 Q426.7 206.45 426.55 205.93 L427.15 203.33 L427.85 203.33 L428.45 205.93 Q428.3 206.45 428.83 206.67 Z" fill="#9a6358" opacity="0.6"/>
<line x1="427.5" y1="203.33" x2="427.5" y2="206.67" stroke="#84483c" stroke-width="0.45" />
<line x1="426.6" y1="203.33" x2="428.4" y2="203.33" stroke="#84483c" stroke-width="0.5" />
<rect x="425.55" y="206.67" width="3.9" height="2.23" fill="#9a6358" fill-opacity="0.72" stroke="#84483c" stroke-width="0.4" stroke-opacity="0.8"/>
<path d="M427.77 208.13h0M427.79 208.22h0" stroke="#fff" stroke-width="0.64" stroke-linecap="round" opacity="0.4"/>
<path d="M432.56 201.08h0M432.93 205.52h0M432.6 203.65h0M433.34 198.36h0M433.51 200.14h0M433.31 184.37h0M432.7 190.02h0M433.7 204.83h0M433.19 190.36h0M433.68 204.4h0" stroke="#e57fc6" stroke-width="0.76" stroke-linecap="round" opacity="0.2"/>
<path d="M433.09 204.64h0M432.82 189.02h0M432.59 187.43h0M432.76 183.26h0M432.71 205.54h0M433.3 203.98h0M432.49 205.18h0M432.65 187.65h0" stroke="#e57fc6" stroke-width="0.76" stroke-linecap="round" opacity="0.34"/>
<path d="M431.77 207.67 Q432.3 207.53 432.15 207.21 L432.75 205.56 L433.45 205.56 L434.05 207.21 Q433.9 207.53 434.43 207.67 Z" fill="#e57fc6" opacity="0.6"/>
<line x1="433.1" y1="205.56" x2="433.1" y2="207.67" stroke="#d660b5" stroke-width="0.45" />
<line x1="432.2" y1="205.56" x2="434" y2="205.56" stroke="#d660b5" stroke-width="0.5" />
<rect x="431.15" y="207.67" width="3.9" height="1.23" fill="#e57fc6" fill-opacity="0.72" stroke="#d660b5" stroke-width="0.4" stroke-opacity="0.8"/>
<path d="M432.37 208.12h0" stroke="#fff" stroke-width="0.64" stroke-linecap="round" opacity="0.4"/>
<path d="M438.22 147.04h0M438.43 144.39h0M438.36 144.72h0M438.56 149.12h0M438.11 149.04h0M438.22 149.63h0M438.36 149.33h0M438.16 149.55h0M438.38 147.02h0M438.34 143.62h0M439.23 148.87h0" stroke="#8a8a8a" stroke-width="0.76" stroke-linecap="round" opacity="0.2"/>
<path d="M438.66 145.97h0M438.9 149.74h0M438.65 149.56h0M439.24 147.48h0M438.35 149.69h0M439.16 146.69h0M438.21 143.7h0" stroke="#8a8a8a" stroke-width="0.76" stroke-linecap="round" opacity="0.34"/>
<path d="M437.37 183.81 Q437.9 182.91 437.75 180.81 L438.35 149.81 L439.05 149.81 L439.65 180.81 Q439.5 182.91 440.03 183.81 Z" fill="#8a8a8a" opacity="0.6"/>
<line x1="438.7" y1="149.81" x2="438.7" y2="183.81" stroke="#6e6e6e" stroke-width="0.45" />
<line x1="437.8" y1="149.81" x2="439.6" y2="149.81" stroke="#6e6e6e" stroke-width="0.5" />
<rect x="436.75" y="183.81" width="3.9" height="25.09" fill="#8a8a8a" fill-opacity="0.72" stroke="#6e6e6e" stroke-width="0.4" stroke-opacity="0.8"/>
<path d="M439.38 185.68h0M438.56 191.79h0M437.84 200.44h0M438.29 186.82h0M440.12 195.89h0M437.76 184.09h0M439.15 196.72h0M437.31 195.61h0M439.4 197.29h0M437.92 196.33h0M439.01 200.15h0M437.66 203.97h0M440 202.39h0M439.75 193.04h0M439.88 188.37h0M437.9 198.81h0M439.87 185.87h0M437.87 184.71h0M438.52 187.34h0M437.8 202.6h0M438.94 207.38h0M438.41 200.85h0M437.27 207.61h0M437.92 195.78h0M438.73 207.6h0M438.68 208.7h0M439.05 189.24h0M439.68 188.88h0M440.16 195.27h0M437.9 207.93h0M438.18 194.02h0M438.24 200.59h0" stroke="#fff" stroke-width="0.64" stroke-linecap="round" opacity="0.4"/>
<text x="318.9" y="217.3" font-size="6.3" text-anchor="middle" fill="#202020" stroke="#202020" stroke-width="0.13" >24</text>
<text x="369.2" y="217.3" font-size="6.3" text-anchor="middle" fill="#202020" stroke="#202020" stroke-width="0.13" >48</text>
<text x="418.8" y="217.3" font-size="6.3" text-anchor="middle" fill="#202020" stroke="#202020" stroke-width="0.13" >72</text>
<line x1="293.9" y1="298" x2="444.4" y2="298" stroke="#c8c8c8" stroke-width="1.1" />
<line x1="293.5" y1="230.5" x2="293.5" y2="298.5" stroke="#6a6a6a" stroke-width="0.6" />
<line x1="292.7" y1="297.7" x2="293.9" y2="297.7" stroke="#555" stroke-width="0.45" />
<text x="292.1" y="299.9" font-size="6.2" text-anchor="end" fill="#202020" stroke="#202020" stroke-width="0.12" >0</text>
<line x1="292.7" y1="286.55" x2="293.9" y2="286.55" stroke="#555" stroke-width="0.45" />
<text x="292.1" y="288.75" font-size="6.2" text-anchor="end" fill="#202020" stroke="#202020" stroke-width="0.12" >50</text>
<line x1="292.7" y1="275.4" x2="293.9" y2="275.4" stroke="#555" stroke-width="0.45" />
<text x="292.1" y="277.6" font-size="6.2" text-anchor="end" fill="#202020" stroke="#202020" stroke-width="0.12" >100</text>
<line x1="292.7" y1="264.25" x2="293.9" y2="264.25" stroke="#555" stroke-width="0.45" />
<text x="292.1" y="266.45" font-size="6.2" text-anchor="end" fill="#202020" stroke="#202020" stroke-width="0.12" >150</text>
<line x1="292.7" y1="253.1" x2="293.9" y2="253.1" stroke="#555" stroke-width="0.45" />
<text x="292.1" y="255.3" font-size="6.2" text-anchor="end" fill="#202020" stroke="#202020" stroke-width="0.12" >200</text>
<line x1="292.7" y1="241.95" x2="293.9" y2="241.95" stroke="#555" stroke-width="0.45" />
<text x="292.1" y="244.15" font-size="6.2" text-anchor="end" fill="#202020" stroke="#202020" stroke-width="0.12" >250</text>
<line x1="292.7" y1="230.8" x2="293.9" y2="230.8" stroke="#555" stroke-width="0.45" />
<text x="292.1" y="233" font-size="6.2" text-anchor="end" fill="#202020" stroke="#202020" stroke-width="0.12" >300</text>
<path d="M299.34 288.76h0M299.05 284.9h0M300.07 288.55h0M298.95 283.26h0M299.61 288.4h0M300.07 283.52h0M299.38 282.7h0M299.01 282.98h0M299.02 286.48h0M300.08 283.14h0" stroke="#2b7fc4" stroke-width="0.76" stroke-linecap="round" opacity="0.2"/>
<path d="M298.88 283.83h0M299.44 288.02h0M299.53 288.5h0M299.98 287.18h0M299.24 287.86h0M299.4 283.42h0M299.88 283.63h0M299.61 285.35h0" stroke="#2b7fc4" stroke-width="0.76" stroke-linecap="round" opacity="0.34"/>
<path d="M298.17 296.58 Q298.7 296.07 298.55 294.87 L299.15 288.78 L299.85 288.78 L300.45 294.87 Q300.3 296.07 300.83 296.58 Z" fill="#2b7fc4" opacity="0.6"/>
<line x1="299.5" y1="288.78" x2="299.5" y2="296.58" stroke="#1f6fb0" stroke-width="0.45" />
<line x1="298.6" y1="288.78" x2="300.4" y2="288.78" stroke="#1f6fb0" stroke-width="0.5" />
<rect x="297.55" y="296.58" width="3.9" height="1.12" fill="#2b7fc4" fill-opacity="0.72" stroke="#1f6fb0" stroke-width="0.4" stroke-opacity="0.8"/>
<path d="M298.26 297.59h0" stroke="#fff" stroke-width="0.64" stroke-linecap="round" opacity="0.4"/>
<path d="M304.77 280h0M305.32 279.35h0M305.26 278.65h0M305.47 278.89h0M304.77 278.49h0M304.73 277.81h0M305.6 277.79h0M304.64 278.56h0M304.81 280.08h0M304.98 280.2h0M304.69 279.59h0M305.32 280.3h0" stroke="#f58a1f" stroke-width="0.76" stroke-linecap="round" opacity="0.2"/>
<path d="M304.7 279.22h0M305.32 279.49h0M304.7 278.97h0M304.92 278.67h0M305.2 280.26h0M304.92 279.2h0" stroke="#f58a1f" stroke-width="0.76" stroke-linecap="round" opacity="0.34"/>
<path d="M303.77 288.33 Q304.3 287.8 304.15 286.57 L304.75 280.31 L305.45 280.31 L306.05 286.57 Q305.9 287.8 306.43 288.33 Z" fill="#f58a1f" opacity="0.6"/>
<line x1="305.1" y1="280.31" x2="305.1" y2="288.33" stroke="#e07410" stroke-width="0.45" />
<line x1="304.2" y1="280.31" x2="306" y2="280.31" stroke="#e07410" stroke-width="0.5" />
<rect x="303.15" y="288.33" width="3.9" height="9.37" fill="#f58a1f" fill-opacity="0.72" stroke="#e07410" stroke-width="0.4" stroke-opacity="0.8"/>
<path d="M304.72 297.35h0M305.88 296.16h0M305.52 294.28h0M305.7 297.38h0M304.21 295.51h0M304.52 290.73h0M306.04 293.96h0M306.12 296.53h0M305.36 290.19h0M303.68 293.34h0M305.76 290.89h0M303.84 288.38h0" stroke="#fff" stroke-width="0.64" stroke-linecap="round" opacity="0.4"/>
<path d="M310.94 286.81h0M310.1 283.94h0M311.29 284.19h0M310.73 286.45h0M310.67 286.22h0M310.18 286.97h0M310.69 286.44h0M310.78 284.22h0M310.94 286.84h0M310.36 284.85h0M310.78 285.38h0M310.8 286.77h0" stroke="#2fa84a" stroke-width="0.76" stroke-linecap="round" opacity="0.2"/>
<path d="M310.41 286.7h0M310.85 286.93h0M311.06 286.63h0M310.36 285.16h0M310.19 284.8h0M310.96 286.77h0" stroke="#2fa84a" stroke-width="0.76" stroke-linecap="round" opacity="0.34"/>
<path d="M309.37 293.24 Q309.9 292.83 309.75 291.87 L310.35 287 L311.05 287 L311.65 291.87 Q311.5 292.83 312.03 293.24 Z" fill="#2fa84a" opacity="0.6"/>
<line x1="310.7" y1="287" x2="310.7" y2="293.24" stroke="#1f9038" stroke-width="0.45" />
<line x1="309.8" y1="287" x2="311.6" y2="287" stroke="#1f9038" stroke-width="0.5" />
<rect x="308.75" y="293.24" width="3.9" height="4.46" fill="#2fa84a" fill-opacity="0.72" stroke="#1f9038" stroke-width="0.4" stroke-opacity="0.8"/>
<path d="M311.09 294.31h0M309.99 295.13h0M310.8 296.47h0M309.33 296.47h0M309.88 294.54h0" stroke="#fff" stroke-width="0.64" stroke-linecap="round" opacity="0.4"/>
<path d="M315.93 273.51h0M316 274.25h0M316.44 275.38h0M316.32 275.38h0M316.77 273.41h0M316.64 274.59h0M316.16 275.37h0M316.51 275.15h0M316.14 273.93h0" stroke="#dc3a3a" stroke-width="0.76" stroke-linecap="round" opacity="0.2"/>
<path d="M316.54 274.31h0M316.64 275.19h0M316.87 274.09h0M316.07 275.06h0M315.83 275.23h0M316.13 274.61h0M316.27 275.04h0M316.84 273.42h0M316.24 275.34h0" stroke="#dc3a3a" stroke-width="0.76" stroke-linecap="round" opacity="0.34"/>
<path d="M314.97 286.1 Q315.5 285.4 315.35 283.75 L315.95 275.4 L316.65 275.4 L317.25 283.75 Q317.1 285.4 317.63 286.1 Z" fill="#dc3a3a" opacity="0.6"/>
<path d="M314.97 294.36 Q315.5 294.66 315.35 295.36 L315.95 297.7 L316.65 297.7 L317.25 295.36 Q317.1 294.66 317.63 294.36 Z" fill="#dc3a3a" opacity="0.6"/>
<line x1="316.3" y1="275.4" x2="316.3" y2="286.1" stroke="#c82424" stroke-width="0.45" />
<line x1="316.3" y1="294.36" x2="316.3" y2="297.7" stroke="#c82424" stroke-width="0.45" />
<line x1="315.4" y1="275.4" x2="317.2" y2="275.4" stroke="#c82424" stroke-width="0.5" />
<rect x="314.35" y="286.1" width="3.9" height="8.25" fill="#dc3a3a" fill-opacity="0.72" stroke="#c82424" stroke-width="0.4" stroke-opacity="0.8"/>
<path d="M315.65 286.41h0M317.71 293.61h0M315.21 289.95h0M316.65 288.58h0M315.04 292.3h0M317.09 289.71h0M315.09 289.35h0M315.11 294.05h0M314.99 288.48h0M317.08 287.22h0" stroke="#fff" stroke-width="0.64" stroke-linecap="round" opacity="0.4"/>
<line x1="314.35" y1="289.89" x2="318.25" y2="289.89" stroke="#c82424" stroke-width="0.5" stroke-opacity="0.65"/>
<path d="M321.36 269.76h0M322.32 269.01h0M322.23 269.69h0M321.43 269.43h0M321.42 267.69h0M321.44 268.47h0M321.59 269.43h0M322.51 269.16h0M321.68 268.09h0M321.7 268.43h0" stroke="#9b6cc8" stroke-width="0.76" stroke-linecap="round" opacity="0.2"/>
<path d="M322.39 268.45h0M322.47 269.15h0M321.86 269.52h0M321.41 267.74h0M322.3 269.27h0M321.29 268.91h0M322.4 268.82h0M322.33 269.45h0" stroke="#9b6cc8" stroke-width="0.76" stroke-linecap="round" opacity="0.34"/>
<path d="M320.57 284.32 Q321.1 283.42 320.95 281.32 L321.55 269.82 L322.25 269.82 L322.85 281.32 Q322.7 283.42 323.23 284.32 Z" fill="#9b6cc8" opacity="0.6"/>
<line x1="321.9" y1="269.82" x2="321.9" y2="284.32" stroke="#8455b5" stroke-width="0.45" />
<line x1="321" y1="269.82" x2="322.8" y2="269.82" stroke="#8455b5" stroke-width="0.5" />
<rect x="319.95" y="284.32" width="3.9" height="13.38" fill="#9b6cc8" fill-opacity="0.72" stroke="#8455b5" stroke-width="0.4" stroke-opacity="0.8"/>
<path d="M321.22 289.21h0M321.53 289.04h0M321.54 285.8h0M321.1 296.49h0M321.64 292.83h0M323.03 294.43h0M321.15 296.62h0M322.79 297.57h0M322.57 294.42h0M322.82 287.71h0M322.36 289.41h0M322.89 286.11h0M322.01 288.82h0M322.84 288.94h0M322.91 295.66h0M323.01 286.18h0M323.18 294.28h0" stroke="#fff" stroke-width="0.64" stroke-linecap="round" opacity="0.4"/>
<path d="M327.69 272.73h0M327.56 271.96h0M327.14 271.97h0M327 273.97h0M327.87 274.28h0M327.45 274.07h0M328.07 272.25h0M327.99 272.89h0M327.79 271.84h0M327.59 271.95h0M327.14 272.77h0M328.02 274.18h0" stroke="#9a6358" stroke-width="0.76" stroke-linecap="round" opacity="0.2"/>
<path d="M327.85 273.77h0M326.96 274.24h0M327.91 273.05h0M327.4 273.38h0M328.07 273.71h0M327.42 273.04h0" stroke="#9a6358" stroke-width="0.76" stroke-linecap="round" opacity="0.34"/>
<path d="M326.17 282.54 Q326.7 281.99 326.55 280.72 L327.15 274.28 L327.85 274.28 L328.45 280.72 Q328.3 281.99 328.83 282.54 Z" fill="#9a6358" opacity="0.6"/>
<path d="M326.17 289.89 Q326.7 290.6 326.55 292.24 L327.15 297.7 L327.85 297.7 L328.45 292.24 Q328.3 290.6 328.83 289.89 Z" fill="#9a6358" opacity="0.6"/>
<line x1="327.5" y1="274.28" x2="327.5" y2="282.54" stroke="#84483c" stroke-width="0.45" />
<line x1="327.5" y1="289.89" x2="327.5" y2="297.7" stroke="#84483c" stroke-width="0.45" />
<line x1="326.6" y1="274.28" x2="328.4" y2="274.28" stroke="#84483c" stroke-width="0.5" />
<rect x="325.55" y="282.54" width="3.9" height="7.36" fill="#9a6358" fill-opacity="0.72" stroke="#84483c" stroke-width="0.4" stroke-opacity="0.8"/>
<path d="M327.29 283.22h0M327.57 288.57h0M328.34 285.16h0M326.69 288.02h0M328.38 284.15h0M328.62 289.84h0M327.31 285.34h0M328.11 289.38h0M326.63 284.76h0" stroke="#fff" stroke-width="0.64" stroke-linecap="round" opacity="0.4"/>
<line x1="325.55" y1="285.44" x2="329.45" y2="285.44" stroke="#84483c" stroke-width="0.5" stroke-opacity="0.65"/>
<path d="M333.39 266.47h0M333.47 265.86h0M333.23 266.25h0M332.59 266.13h0" stroke="#e57fc6" stroke-width="0.76" stroke-linecap="round" opacity="0.2"/>
<path d="M333.1 265.91h0M333.67 266.81h0M333.16 264.62h0M332.93 264.79h0M332.51 266.71h0M333.6 264.67h0M333.64 266.01h0M333.26 266.81h0M333 266.58h0M333.37 266.45h0M332.8 266.66h0M333.23 266.76h0M333.21 266.72h0M333.36 265.24h0" stroke="#e57fc6" stroke-width="0.76" stroke-linecap="round" opacity="0.34"/>
<path d="M331.77 280.98 Q332.3 280.08 332.15 277.98 L332.75 266.93 L333.45 266.93 L334.05 277.98 Q333.9 280.08 334.43 280.98 Z" fill="#e57fc6" opacity="0.6"/>
<path d="M331.77 291.01 Q332.3 291.61 332.15 293.02 L332.75 297.7 L333.45 297.7 L334.05 293.02 Q333.9 291.61 334.43 291.01 Z" fill="#e57fc6" opacity="0.6"/>
<line x1="333.1" y1="266.93" x2="333.1" y2="280.98" stroke="#d660b5" stroke-width="0.45" />
<line x1="333.1" y1="291.01" x2="333.1" y2="297.7" stroke="#d660b5" stroke-width="0.45" />
<line x1="332.2" y1="266.93" x2="334" y2="266.93" stroke="#d660b5" stroke-width="0.5" />
<rect x="331.15" y="280.98" width="3.9" height="10.03" fill="#e57fc6" fill-opacity="0.72" stroke="#d660b5" stroke-width="0.4" stroke-opacity="0.8"/>
<path d="M332.43 289.39h0M334.34 281.5h0M334.4 285.42h0M331.89 281.67h0M333.97 287.78h0M332.05 285.59h0M333.51 290.99h0M332.62 288.67h0M332.35 282.97h0M332.11 285.09h0M333.45 284.02h0M332.11 283.17h0M331.89 282.91h0" stroke="#fff" stroke-width="0.64" stroke-linecap="round" opacity="0.4"/>
<line x1="331.15" y1="285.44" x2="335.05" y2="285.44" stroke="#d660b5" stroke-width="0.5" stroke-opacity="0.65"/>
<path d="M338.71 272.27h0M339.26 271.81h0M338.81 272.51h0M338.58 269.98h0M338.58 270.19h0M339.26 270.95h0M338.92 271.48h0M338.76 270.08h0M338.11 270.69h0" stroke="#8a8a8a" stroke-width="0.76" stroke-linecap="round" opacity="0.2"/>
<path d="M338.62 271.83h0M338.17 272.56h0M338.52 271.99h0M338.27 272.08h0M338.08 271.54h0M338.52 270.98h0M338.77 272.31h0M339.14 272.14h0M338.22 272.53h0" stroke="#8a8a8a" stroke-width="0.76" stroke-linecap="round" opacity="0.34"/>
<path d="M337.37 281.64 Q337.9 281.06 337.75 279.68 L338.35 272.72 L339.05 272.72 L339.65 279.68 Q339.5 281.06 340.03 281.64 Z" fill="#8a8a8a" opacity="0.6"/>
<path d="M337.37 288.33 Q337.9 289.18 337.75 291.14 L338.35 297.7 L339.05 297.7 L339.65 291.14 Q339.5 289.18 340.03 288.33 Z" fill="#8a8a8a" opacity="0.6"/>
<line x1="338.7" y1="272.72" x2="338.7" y2="281.64" stroke="#6e6e6e" stroke-width="0.45" />
<line x1="338.7" y1="288.33" x2="338.7" y2="297.7" stroke="#6e6e6e" stroke-width="0.45" />
<line x1="337.8" y1="272.72" x2="339.6" y2="272.72" stroke="#6e6e6e" stroke-width="0.5" />
<rect x="336.75" y="281.64" width="3.9" height="6.69" fill="#8a8a8a" fill-opacity="0.72" stroke="#6e6e6e" stroke-width="0.4" stroke-opacity="0.8"/>
<path d="M338.64 284.96h0M338.3 287.63h0M338.26 285.2h0M339.96 285.92h0M338.63 283.87h0M338.37 285.72h0M339.54 283.39h0M338.32 284.24h0" stroke="#fff" stroke-width="0.64" stroke-linecap="round" opacity="0.4"/>
<line x1="336.75" y1="284.77" x2="340.65" y2="284.77" stroke="#6e6e6e" stroke-width="0.5" stroke-opacity="0.65"/>
<path d="M349.74 294.33h0M349.16 294.42h0M349.36 284.89h0M348.92 282.57h0M349.02 288.85h0M349.36 291.62h0" stroke="#2b7fc4" stroke-width="0.76" stroke-linecap="round" opacity="0.2"/>
<path d="M350.02 292.47h0M349.29 293.38h0M348.95 294.09h0M349.79 293.49h0M350.06 283.9h0M348.99 283.67h0M349.12 291.62h0M349.82 284.62h0M348.9 294.56h0M349.64 294.19h0M349.33 282.71h0M350.09 293.77h0" stroke="#2b7fc4" stroke-width="0.76" stroke-linecap="round" opacity="0.34"/>
<path d="M348.17 296.58 Q348.7 296.48 348.55 296.24 L349.15 295.02 L349.85 295.02 L350.45 296.24 Q350.3 296.48 350.83 296.58 Z" fill="#2b7fc4" opacity="0.6"/>
<line x1="349.5" y1="295.02" x2="349.5" y2="296.58" stroke="#1f6fb0" stroke-width="0.45" />
<line x1="348.6" y1="295.02" x2="350.4" y2="295.02" stroke="#1f6fb0" stroke-width="0.5" />
<rect x="347.55" y="296.58" width="3.9" height="1.12" fill="#2b7fc4" fill-opacity="0.72" stroke="#1f6fb0" stroke-width="0.4" stroke-opacity="0.8"/>
<path d="M350.1 296.78h0" stroke="#fff" stroke-width="0.64" stroke-linecap="round" opacity="0.4"/>
<path d="M354.67 286.26h0M354.52 284.14h0M355.19 283.49h0M355.23 282.91h0M355.18 282.68h0M354.95 285.84h0M355.42 285.84h0" stroke="#f58a1f" stroke-width="0.76" stroke-linecap="round" opacity="0.2"/>
<path d="M354.55 283.81h0M355.65 285.54h0M354.95 286.28h0M355.48 286.55h0M354.48 285.01h0M355.31 285.46h0M354.99 283.86h0M355.64 282.4h0M355.46 282.76h0M355.71 283.3h0M354.67 284.52h0" stroke="#f58a1f" stroke-width="0.76" stroke-linecap="round" opacity="0.34"/>
<path d="M353.77 293.24 Q354.3 292.8 354.15 291.77 L354.75 286.55 L355.45 286.55 L356.05 291.77 Q355.9 292.8 356.43 293.24 Z" fill="#f58a1f" opacity="0.6"/>
<line x1="355.1" y1="286.55" x2="355.1" y2="293.24" stroke="#e07410" stroke-width="0.45" />
<line x1="354.2" y1="286.55" x2="356" y2="286.55" stroke="#e07410" stroke-width="0.5" />
<rect x="353.15" y="293.24" width="3.9" height="4.46" fill="#f58a1f" fill-opacity="0.72" stroke="#e07410" stroke-width="0.4" stroke-opacity="0.8"/>
<path d="M355.07 294.47h0M356.34 293.61h0M356.36 296.62h0M354.07 296.63h0M355.31 297.29h0" stroke="#fff" stroke-width="0.64" stroke-linecap="round" opacity="0.4"/>
<path d="M361.05 289.83h0M360.98 288.99h0M360.89 287.87h0M360.98 288.81h0M360.42 288.2h0M361.26 289.12h0M361.01 289.78h0M361 288.64h0M360.55 288.27h0M360.12 287.48h0M360.66 289.88h0" stroke="#2fa84a" stroke-width="0.76" stroke-linecap="round" opacity="0.2"/>
<path d="M360.61 288.47h0M360.22 289.47h0M361.25 286.97h0M360.79 289.04h0M360.65 287.75h0M360.14 288.09h0M361.14 289.83h0" stroke="#2fa84a" stroke-width="0.76" stroke-linecap="round" opacity="0.34"/>
<path d="M359.37 295.02 Q359.9 294.69 359.75 293.9 L360.35 289.89 L361.05 289.89 L361.65 293.9 Q361.5 294.69 362.03 295.02 Z" fill="#2fa84a" opacity="0.6"/>
<line x1="360.7" y1="289.89" x2="360.7" y2="295.02" stroke="#1f9038" stroke-width="0.45" />
<line x1="359.8" y1="289.89" x2="361.6" y2="289.89" stroke="#1f9038" stroke-width="0.5" />
<rect x="358.75" y="295.02" width="3.9" height="2.68" fill="#2fa84a" fill-opacity="0.72" stroke="#1f9038" stroke-width="0.4" stroke-opacity="0.8"/>
<path d="M361.34 296.98h0M360.24 297.52h0M359.78 295.39h0" stroke="#fff" stroke-width="0.64" stroke-linecap="round" opacity="0.4"/>
<path d="M365.83 276.29h0M366.1 280.64h0M366.81 283.11h0M366.23 275.64h0M365.97 277.36h0M365.89 281.69h0M366.29 280.99h0M366.36 281.9h0" stroke="#dc3a3a" stroke-width="0.76" stroke-linecap="round" opacity="0.2"/>
<path d="M366.27 274.39h0M366.44 274.79h0M366.46 276.96h0M366.68 274.67h0M366.88 276.16h0M366.53 283.72h0M366.37 282.07h0M365.88 279.53h0M366.87 282.07h0M366.4 283.84h0" stroke="#dc3a3a" stroke-width="0.76" stroke-linecap="round" opacity="0.34"/>
<path d="M364.97 291.46 Q365.5 290.99 365.35 289.89 L365.95 284.32 L366.65 284.32 L367.25 289.89 Q367.1 290.99 367.63 291.46 Z" fill="#dc3a3a" opacity="0.6"/>
<line x1="366.3" y1="284.32" x2="366.3" y2="291.46" stroke="#c82424" stroke-width="0.45" />
<line x1="365.4" y1="284.32" x2="367.2" y2="284.32" stroke="#c82424" stroke-width="0.5" />
<rect x="364.35" y="291.46" width="3.9" height="6.24" fill="#dc3a3a" fill-opacity="0.72" stroke="#c82424" stroke-width="0.4" stroke-opacity="0.8"/>
<path d="M364.92 292.73h0M365.2 293.23h0M366.68 294.97h0M367.61 295.74h0M365.9 297.38h0M366.69 294.85h0M367.36 295.64h0M365.89 295.23h0" stroke="#fff" stroke-width="0.64" stroke-linecap="round" opacity="0.4"/>
<path d="M372.49 279.75h0M371.36 276.68h0M372.17 278.27h0M371.99 279.71h0M371.29 277.52h0M372.31 280.06h0M372.15 279.41h0M372.5 277.49h0M371.61 277.93h0" stroke="#9b6cc8" stroke-width="0.76" stroke-linecap="round" opacity="0.2"/>
<path d="M371.53 278.84h0M372.32 280.18h0M372.43 278.24h0M371.81 280.28h0M372.4 279.38h0M371.61 276.92h0M371.68 278.99h0M372.1 279.55h0M372.52 276.55h0" stroke="#9b6cc8" stroke-width="0.76" stroke-linecap="round" opacity="0.34"/>
<path d="M370.57 290.56 Q371.1 289.89 370.95 288.31 L371.55 280.31 L372.25 280.31 L372.85 288.31 Q372.7 289.89 373.23 290.56 Z" fill="#9b6cc8" opacity="0.6"/>
<line x1="371.9" y1="280.31" x2="371.9" y2="290.56" stroke="#8455b5" stroke-width="0.45" />
<line x1="371" y1="280.31" x2="372.8" y2="280.31" stroke="#8455b5" stroke-width="0.5" />
<rect x="369.95" y="290.56" width="3.9" height="7.14" fill="#9b6cc8" fill-opacity="0.72" stroke="#8455b5" stroke-width="0.4" stroke-opacity="0.8"/>
<path d="M372.35 291.71h0M372.56 294.5h0M371.49 296.99h0M371.18 291.57h0M370.9 291.63h0M372.16 296.28h0M370.91 294.15h0M372.12 294.56h0M371.64 294.44h0" stroke="#fff" stroke-width="0.64" stroke-linecap="round" opacity="0.4"/>
<path d="M376.95 263.8h0M377.82 263.63h0M377.18 262.5h0M377.36 263.26h0M377.63 262.23h0M376.98 263.78h0M377.69 263.77h0M377.07 263.62h0M377.08 263.34h0M377.66 263.71h0M377.29 263.2h0M377.71 263.7h0" stroke="#9a6358" stroke-width="0.76" stroke-linecap="round" opacity="0.2"/>
<path d="M377.15 262.64h0M377.44 262.47h0M377.52 263.53h0M378.01 263.51h0M377.93 263.74h0M377.77 262.7h0" stroke="#9a6358" stroke-width="0.76" stroke-linecap="round" opacity="0.34"/>
<path d="M376.17 283.2 Q376.7 282.31 376.55 280.2 L377.15 263.8 L377.85 263.8 L378.45 280.2 Q378.3 282.31 378.83 283.2 Z" fill="#9a6358" opacity="0.6"/>
<line x1="377.5" y1="263.8" x2="377.5" y2="283.2" stroke="#84483c" stroke-width="0.45" />
<line x1="376.6" y1="263.8" x2="378.4" y2="263.8" stroke="#84483c" stroke-width="0.5" />
<rect x="375.55" y="283.2" width="3.9" height="14.5" fill="#9a6358" fill-opacity="0.72" stroke="#84483c" stroke-width="0.4" stroke-opacity="0.8"/>
<path d="M377.97 284.53h0M378.68 283.26h0M376.69 288.98h0M376.62 284.48h0M378.05 297.61h0M377.02 287.06h0M378 286.43h0M377.21 293.18h0M377.3 285.46h0M376.24 291.08h0M378.94 296.54h0M376.33 290.49h0M377.47 286.02h0M378 290.39h0M378.4 287.44h0M378.77 295.01h0M377.42 285.25h0M377.45 285.05h0" stroke="#fff" stroke-width="0.64" stroke-linecap="round" opacity="0.4"/>
<path d="M382.62 266.03h0M383.34 267.18h0M382.48 267h0M382.53 267.59h0M383.72 265.8h0M383.18 265.55h0M383.08 266.81h0" stroke="#e57fc6" stroke-width="0.76" stroke-linecap="round" opacity="0.2"/>
<path d="M383.35 266.38h0M382.53 265.45h0M383.2 267.57h0M382.82 266.3h0M383.56 266.26h0M383.56 267.48h0M382.95 267.52h0M383.46 265.68h0M383.69 266.64h0M383.11 267.13h0M382.82 267.39h0" stroke="#e57fc6" stroke-width="0.76" stroke-linecap="round" opacity="0.34"/>
<path d="M381.77 285.44 Q382.3 284.54 382.15 282.44 L382.75 267.6 L383.45 267.6 L384.05 282.44 Q383.9 284.54 384.43 285.44 Z" fill="#e57fc6" opacity="0.6"/>
<line x1="383.1" y1="267.6" x2="383.1" y2="285.44" stroke="#d660b5" stroke-width="0.45" />
<line x1="382.2" y1="267.6" x2="384" y2="267.6" stroke="#d660b5" stroke-width="0.5" />
<rect x="381.15" y="285.44" width="3.9" height="12.26" fill="#e57fc6" fill-opacity="0.72" stroke="#d660b5" stroke-width="0.4" stroke-opacity="0.8"/>
<path d="M383.11 290.57h0M383.58 287.71h0M383.19 288.82h0M383.89 294.07h0M383.92 291.78h0M382.37 296.79h0M383.13 290.04h0M382.49 290.37h0M383.71 295.47h0M383.05 294.4h0M382.26 290.98h0M382.68 289.19h0M382.69 294.69h0M383.78 287.98h0M382.32 295.06h0" stroke="#fff" stroke-width="0.64" stroke-linecap="round" opacity="0.4"/>
<path d="M388.42 255.7h0M388.36 255.2h0M388.54 256.5h0M389.16 254.99h0M388.27 257.34h0M389.14 254.62h0M389.19 254.97h0M389.04 257.32h0M389.2 257.45h0M388.82 256.8h0M388.56 257.55h0" stroke="#8a8a8a" stroke-width="0.76" stroke-linecap="round" opacity="0.2"/>
<path d="M388.92 255.86h0M388.12 256.91h0M388.91 256.37h0M389.07 257.46h0M388.96 256.5h0M388.47 256.72h0M388.54 257.56h0" stroke="#8a8a8a" stroke-width="0.76" stroke-linecap="round" opacity="0.34"/>
<path d="M387.37 273.17 Q387.9 272.27 387.75 270.17 L388.35 257.56 L389.05 257.56 L389.65 270.17 Q389.5 272.27 390.03 273.17 Z" fill="#8a8a8a" opacity="0.6"/>
<path d="M387.37 290.56 Q387.9 291.21 387.75 292.7 L388.35 297.7 L389.05 297.7 L389.65 292.7 Q389.5 291.21 390.03 290.56 Z" fill="#8a8a8a" opacity="0.6"/>
<line x1="388.7" y1="257.56" x2="388.7" y2="273.17" stroke="#6e6e6e" stroke-width="0.45" />
<line x1="388.7" y1="290.56" x2="388.7" y2="297.7" stroke="#6e6e6e" stroke-width="0.45" />
<line x1="387.8" y1="257.56" x2="389.6" y2="257.56" stroke="#6e6e6e" stroke-width="0.5" />
<rect x="386.75" y="273.17" width="3.9" height="17.39" fill="#8a8a8a" fill-opacity="0.72" stroke="#6e6e6e" stroke-width="0.4" stroke-opacity="0.8"/>
<path d="M388.21 284.99h0M389.06 276.45h0M387.3 284.9h0M389.02 278.28h0M387.82 288.05h0M389.9 277.23h0M388.95 283.17h0M388.18 273.8h0M388.19 284.38h0M389 282.04h0M387.6 276.87h0M388.15 280.41h0M388.3 288.86h0M387.58 290.33h0M387.94 288.07h0M387.95 283.38h0M388.34 273.83h0M389.57 287.27h0M388.02 286.67h0M388.64 290.34h0M387.4 279.79h0M387.9 284.04h0" stroke="#fff" stroke-width="0.64" stroke-linecap="round" opacity="0.4"/>
<line x1="386.75" y1="279.41" x2="390.65" y2="279.41" stroke="#6e6e6e" stroke-width="0.5" stroke-opacity="0.65"/>
<path d="M399.87 292.64h0M399.82 294.18h0M398.99 281.14h0M398.88 294.66h0M399.34 295.59h0M400.1 290.73h0M399.49 290.82h0M399.23 289.95h0M399.34 282.03h0M399.54 288.3h0M399.93 293.4h0M400.07 292.22h0M399.43 288.14h0" stroke="#2b7fc4" stroke-width="0.76" stroke-linecap="round" opacity="0.2"/>
<path d="M399.93 285.92h0M399.24 290.86h0M399.14 284.15h0M399.29 293.03h0M399.08 292.44h0" stroke="#2b7fc4" stroke-width="0.76" stroke-linecap="round" opacity="0.34"/>
<path d="M398.17 297.03 Q398.7 296.96 398.55 296.79 L399.15 295.92 L399.85 295.92 L400.45 296.79 Q400.3 296.96 400.83 297.03 Z" fill="#2b7fc4" opacity="0.6"/>
<line x1="399.5" y1="295.92" x2="399.5" y2="297.03" stroke="#1f6fb0" stroke-width="0.45" />
<line x1="398.6" y1="295.92" x2="400.4" y2="295.92" stroke="#1f6fb0" stroke-width="0.5" />
<rect x="397.55" y="297.03" width="3.9" height="0.67" fill="#2b7fc4" fill-opacity="0.72" stroke="#1f6fb0" stroke-width="0.4" stroke-opacity="0.8"/>
<path d="M405.46 290.93h0M405.32 285.47h0M404.72 288.43h0M405.34 286.04h0M405.11 291.39h0M404.64 287.4h0M404.64 286.47h0M405.19 283.88h0M404.93 284.33h0M405.24 291.78h0M405.53 290.64h0" stroke="#f58a1f" stroke-width="0.76" stroke-linecap="round" opacity="0.2"/>
<path d="M404.94 282.99h0M404.75 292.08h0M404.65 286.05h0M405.16 285.53h0M405.51 288.8h0M405.5 280.45h0M405.69 281.13h0" stroke="#f58a1f" stroke-width="0.76" stroke-linecap="round" opacity="0.34"/>
<path d="M403.77 295.47 Q404.3 295.25 404.15 294.73 L404.75 292.12 L405.45 292.12 L406.05 294.73 Q405.9 295.25 406.43 295.47 Z" fill="#f58a1f" opacity="0.6"/>
<line x1="405.1" y1="292.12" x2="405.1" y2="295.47" stroke="#e07410" stroke-width="0.45" />
<line x1="404.2" y1="292.12" x2="406" y2="292.12" stroke="#e07410" stroke-width="0.5" />
<rect x="403.15" y="295.47" width="3.9" height="2.23" fill="#f58a1f" fill-opacity="0.72" stroke="#e07410" stroke-width="0.4" stroke-opacity="0.8"/>
<path d="M406.06 296.63h0M403.68 297.46h0" stroke="#fff" stroke-width="0.64" stroke-linecap="round" opacity="0.4"/>
<path d="M411.15 290.09h0M410.5 287.43h0M410.16 291.15h0M410.23 289.5h0M411.07 290.63h0M410.95 291.88h0M410.65 288.33h0M410.36 290.86h0" stroke="#2fa84a" stroke-width="0.76" stroke-linecap="round" opacity="0.2"/>
<path d="M411.11 290.63h0M410.42 291.34h0M411.16 287.37h0M411.09 287.19h0M410.19 291.6h0M410.84 289.97h0M410.43 286.93h0M410.39 287.98h0M410.54 286.95h0M410.11 290.28h0" stroke="#2fa84a" stroke-width="0.76" stroke-linecap="round" opacity="0.34"/>
<path d="M409.37 295.47 Q409.9 295.25 409.75 294.73 L410.35 292.12 L411.05 292.12 L411.65 294.73 Q411.5 295.25 412.03 295.47 Z" fill="#2fa84a" opacity="0.6"/>
<line x1="410.7" y1="292.12" x2="410.7" y2="295.47" stroke="#1f9038" stroke-width="0.45" />
<line x1="409.8" y1="292.12" x2="411.6" y2="292.12" stroke="#1f9038" stroke-width="0.5" />
<rect x="408.75" y="295.47" width="3.9" height="2.23" fill="#2fa84a" fill-opacity="0.72" stroke="#1f9038" stroke-width="0.4" stroke-opacity="0.8"/>
<path d="M411.42 297.42h0M410.28 295.94h0" stroke="#fff" stroke-width="0.64" stroke-linecap="round" opacity="0.4"/>
<path d="M416.33 289.43h0M416.69 289.74h0M416.47 290.16h0M416.4 289.61h0M416.46 288.04h0M415.8 290.54h0M415.86 288.74h0M416.16 285.69h0M416.4 290.57h0M416.35 288.98h0" stroke="#dc3a3a" stroke-width="0.76" stroke-linecap="round" opacity="0.2"/>
<path d="M416.59 289.78h0M416.26 285.17h0M415.92 286.45h0M415.68 289.23h0M416.71 290.26h0M416.04 286.54h0M416.52 286.46h0M416.52 289.23h0" stroke="#dc3a3a" stroke-width="0.76" stroke-linecap="round" opacity="0.34"/>
<path d="M414.97 295.02 Q415.5 294.76 415.35 294.14 L415.95 291.01 L416.65 291.01 L417.25 294.14 Q417.1 294.76 417.63 295.02 Z" fill="#dc3a3a" opacity="0.6"/>
<line x1="416.3" y1="291.01" x2="416.3" y2="295.02" stroke="#c82424" stroke-width="0.45" />
<line x1="415.4" y1="291.01" x2="417.2" y2="291.01" stroke="#c82424" stroke-width="0.5" />
<rect x="414.35" y="295.02" width="3.9" height="2.68" fill="#dc3a3a" fill-opacity="0.72" stroke="#c82424" stroke-width="0.4" stroke-opacity="0.8"/>
<path d="M416.31 297.26h0M414.89 297.51h0M415.42 295.13h0" stroke="#fff" stroke-width="0.64" stroke-linecap="round" opacity="0.4"/>
<path d="M422.25 293.67h0M421.74 290.45h0M421.59 294.29h0M421.38 293.49h0M421.65 293.5h0M421.55 294.11h0M422.52 289.11h0M422.22 294.32h0M421.77 287.39h0" stroke="#9b6cc8" stroke-width="0.76" stroke-linecap="round" opacity="0.2"/>
<path d="M421.99 289.24h0M421.56 289.67h0M422.08 294.26h0M421.96 293.97h0M422.32 294.16h0M422.26 292.75h0M421.41 293.04h0M422.46 294.24h0M421.82 292.25h0" stroke="#9b6cc8" stroke-width="0.76" stroke-linecap="round" opacity="0.34"/>
<path d="M420.57 296.36 Q421.1 296.23 420.95 295.92 L421.55 294.36 L422.25 294.36 L422.85 295.92 Q422.7 296.23 423.23 296.36 Z" fill="#9b6cc8" opacity="0.6"/>
<line x1="421.9" y1="294.36" x2="421.9" y2="296.36" stroke="#8455b5" stroke-width="0.45" />
<line x1="421" y1="294.36" x2="422.8" y2="294.36" stroke="#8455b5" stroke-width="0.5" />
<rect x="419.95" y="296.36" width="3.9" height="1.34" fill="#9b6cc8" fill-opacity="0.72" stroke="#8455b5" stroke-width="0.4" stroke-opacity="0.8"/>
<path d="M422.87 297h0" stroke="#fff" stroke-width="0.64" stroke-linecap="round" opacity="0.4"/>
<path d="M427.59 285.84h0M427.96 284.01h0M427.46 277.43h0M426.9 281.88h0M427.62 288.06h0M427.71 290.34h0M428.04 290.77h0M427.34 280.37h0M427.5 286.97h0M427.53 290.39h0" stroke="#9a6358" stroke-width="0.76" stroke-linecap="round" opacity="0.2"/>
<path d="M427.38 289.88h0M427.7 286.76h0M427.98 287.39h0M427.66 290.99h0M427.77 288.41h0M427.68 289.6h0M427.26 278.76h0M427.02 278.32h0" stroke="#9a6358" stroke-width="0.76" stroke-linecap="round" opacity="0.34"/>
<path d="M426.17 295.02 Q426.7 294.76 426.55 294.14 L427.15 291.01 L427.85 291.01 L428.45 294.14 Q428.3 294.76 428.83 295.02 Z" fill="#9a6358" opacity="0.6"/>
<line x1="427.5" y1="291.01" x2="427.5" y2="295.02" stroke="#84483c" stroke-width="0.45" />
<line x1="426.6" y1="291.01" x2="428.4" y2="291.01" stroke="#84483c" stroke-width="0.5" />
<rect x="425.55" y="295.02" width="3.9" height="2.68" fill="#9a6358" fill-opacity="0.72" stroke="#84483c" stroke-width="0.4" stroke-opacity="0.8"/>
<path d="M428.87 296.05h0M427.31 295.63h0M428.87 295.89h0" stroke="#fff" stroke-width="0.64" stroke-linecap="round" opacity="0.4"/>
<path d="M433.52 277.08h0M432.82 276.61h0M433.18 278.41h0M433.63 278.7h0M433.37 278.25h0M432.63 278.05h0M432.66 278.74h0M432.59 278.68h0M432.79 277.92h0M433.65 278.66h0" stroke="#e57fc6" stroke-width="0.76" stroke-linecap="round" opacity="0.2"/>
<path d="M433.04 278.72h0M433.03 278.48h0M432.67 278.32h0M433.65 277.89h0M433.03 278.73h0M433.21 278.25h0M432.65 277.58h0M432.53 276.22h0" stroke="#e57fc6" stroke-width="0.76" stroke-linecap="round" opacity="0.34"/>
<path d="M431.77 289.89 Q432.3 289.16 432.15 287.44 L432.75 278.75 L433.45 278.75 L434.05 287.44 Q433.9 289.16 434.43 289.89 Z" fill="#e57fc6" opacity="0.6"/>
<line x1="433.1" y1="278.75" x2="433.1" y2="289.89" stroke="#d660b5" stroke-width="0.45" />
<line x1="432.2" y1="278.75" x2="434" y2="278.75" stroke="#d660b5" stroke-width="0.5" />
<rect x="431.15" y="289.89" width="3.9" height="7.81" fill="#e57fc6" fill-opacity="0.72" stroke="#d660b5" stroke-width="0.4" stroke-opacity="0.8"/>
<path d="M433.39 296.63h0M431.93 290.39h0M433.67 294.48h0M433.75 292.06h0M433.09 291.35h0M432.92 292.09h0M433.35 292.23h0M432.44 294.91h0M431.89 296.15h0M433.09 291.68h0" stroke="#fff" stroke-width="0.64" stroke-linecap="round" opacity="0.4"/>
<path d="M438.54 233.67h0M438.77 233.48h0M438.29 233.36h0M438.32 233.87h0M438.13 233.73h0M438.56 233.13h0M439.12 234.13h0" stroke="#8a8a8a" stroke-width="0.76" stroke-linecap="round" opacity="0.2"/>
<path d="M438.71 234.54h0M438.42 233.29h0M439.31 233.29h0M439.09 234.41h0M439.32 234.47h0M438.2 233.68h0M438.67 234.55h0M438.94 234.27h0M438.58 233.81h0M438.31 234.05h0M439.05 233.12h0" stroke="#8a8a8a" stroke-width="0.76" stroke-linecap="round" opacity="0.34"/>
<path d="M437.37 266.48 Q437.9 265.58 437.75 263.48 L438.35 234.59 L439.05 234.59 L439.65 263.48 Q439.5 265.58 440.03 266.48 Z" fill="#8a8a8a" opacity="0.6"/>
<line x1="438.7" y1="234.59" x2="438.7" y2="266.48" stroke="#6e6e6e" stroke-width="0.45" />
<line x1="437.8" y1="234.59" x2="439.6" y2="234.59" stroke="#6e6e6e" stroke-width="0.5" />
<rect x="436.75" y="266.48" width="3.9" height="31.22" fill="#8a8a8a" fill-opacity="0.72" stroke="#6e6e6e" stroke-width="0.4" stroke-opacity="0.8"/>
<path d="M439.41 288.8h0M439.98 292.5h0M439.81 274.84h0M439.54 281.32h0M438.15 277.98h0M439.57 292.79h0M439.71 287.38h0M437.74 271.34h0M438.9 273.1h0M438.22 269.68h0M437.69 288.87h0M437.89 292.95h0M438.2 292.98h0M438.12 274.83h0M438.39 266.86h0M438.51 278.34h0M437.27 293.38h0M438.33 266.49h0M440.05 273.61h0M437.98 267.24h0M437.53 288.64h0M438.94 282.22h0M437.96 275.43h0M440.08 278.1h0M440.13 294.16h0M437.6 292.96h0M437.3 288.68h0M439.61 288.19h0M438.85 291.86h0M437.69 283.33h0M438.02 278.94h0M437.8 288.59h0M438.91 290.81h0M439.08 285.19h0M439.93 291.85h0M438.9 276.66h0M439.95 278.07h0M437.54 276.89h0M439.3 295.56h0M439.13 287.16h0" stroke="#fff" stroke-width="0.64" stroke-linecap="round" opacity="0.4"/>
<text x="318.9" y="306.3" font-size="6.3" text-anchor="middle" fill="#202020" stroke="#202020" stroke-width="0.13" >24</text>
<text x="369.2" y="306.3" font-size="6.3" text-anchor="middle" fill="#202020" stroke="#202020" stroke-width="0.13" >48</text>
<text x="418.8" y="306.3" font-size="6.3" text-anchor="middle" fill="#202020" stroke="#202020" stroke-width="0.13" >72</text>
<line x1="188.8" y1="142" x2="188.8" y2="208.5" stroke="#8a8a8a" stroke-width="0.8" />
<line x1="188.4" y1="208.7" x2="228.4" y2="208.7" stroke="#8a8a8a" stroke-width="0.9" />
<line x1="187.5" y1="203.8" x2="188.8" y2="203.8" stroke="#444" stroke-width="0.45" />
<text x="186.6" y="206" font-size="6.2" text-anchor="end" fill="#202020" stroke="#202020" stroke-width="0.12" >5</text>
<line x1="187.5" y1="192.05" x2="188.8" y2="192.05" stroke="#444" stroke-width="0.45" />
<text x="186.6" y="194.25" font-size="6.2" text-anchor="end" fill="#202020" stroke="#202020" stroke-width="0.12" >10</text>
<line x1="187.5" y1="180.3" x2="188.8" y2="180.3" stroke="#444" stroke-width="0.45" />
<text x="186.6" y="182.5" font-size="6.2" text-anchor="end" fill="#202020" stroke="#202020" stroke-width="0.12" >15</text>
<line x1="187.5" y1="168.55" x2="188.8" y2="168.55" stroke="#444" stroke-width="0.45" />
<text x="186.6" y="170.75" font-size="6.2" text-anchor="end" fill="#202020" stroke="#202020" stroke-width="0.12" >20</text>
<line x1="187.5" y1="156.8" x2="188.8" y2="156.8" stroke="#444" stroke-width="0.45" />
<text x="186.6" y="159" font-size="6.2" text-anchor="end" fill="#202020" stroke="#202020" stroke-width="0.12" >25</text>
<line x1="187.5" y1="145.05" x2="188.8" y2="145.05" stroke="#444" stroke-width="0.45" />
<text x="186.6" y="147.25" font-size="6.2" text-anchor="end" fill="#202020" stroke="#202020" stroke-width="0.12" >30</text>
<line x1="191.8" y1="208.5" x2="191.8" y2="209.8" stroke="#444" stroke-width="0.45" />
<text x="191.8" y="217.3" font-size="6.3" text-anchor="middle" fill="#202020" stroke="#202020" stroke-width="0.13" >4</text>
<line x1="225.6" y1="208.5" x2="225.6" y2="209.8" stroke="#444" stroke-width="0.45" />
<text x="225.6" y="217.3" font-size="6.3" text-anchor="middle" fill="#202020" stroke="#202020" stroke-width="0.13" >24</text>
<polyline points="191.8,200.04 225.6,202.62" fill="none" stroke="#4a98d8" stroke-width="0.85"/>
<circle cx="191.8" cy="200.04" r="0.95" fill="#1a5a92"/>
<circle cx="225.6" cy="202.62" r="0.95" fill="#1a5a92"/>
<polyline points="191.8,197.93 225.6,204.27" fill="none" stroke="#f0a050" stroke-width="0.85"/>
<circle cx="191.8" cy="197.93" r="0.95" fill="#b85c0c"/>
<circle cx="225.6" cy="204.27" r="0.95" fill="#b85c0c"/>
<polyline points="191.8,197.22 225.6,201.45" fill="none" stroke="#2fa84a" stroke-width="0.85"/>
<circle cx="191.8" cy="197.22" r="0.95" fill="#17702c"/>
<circle cx="225.6" cy="201.45" r="0.95" fill="#17702c"/>
<polyline points="191.8,194.4 225.6,183.83" fill="none" stroke="#d03030" stroke-width="0.85"/>
<circle cx="191.8" cy="194.4" r="0.95" fill="#9c1c1c"/>
<circle cx="225.6" cy="183.83" r="0.95" fill="#9c1c1c"/>
<polyline points="191.8,153.75 225.6,193.69" fill="none" stroke="#dc78c0" stroke-width="0.85"/>
<circle cx="191.8" cy="153.75" r="0.95" fill="#a8488c"/>
<circle cx="225.6" cy="193.69" r="0.95" fill="#a8488c"/>
<polyline points="191.8,148.57 225.6,194.4" fill="none" stroke="#8a5448" stroke-width="0.85"/>
<circle cx="191.8" cy="148.57" r="0.95" fill="#5e3028"/>
<circle cx="225.6" cy="194.4" r="0.95" fill="#5e3028"/>
<polyline points="191.8,146.23 225.6,197.93" fill="none" stroke="#9468c4" stroke-width="0.85"/>
<circle cx="191.8" cy="146.23" r="0.95" fill="#5e3a8c"/>
<circle cx="225.6" cy="197.93" r="0.95" fill="#5e3a8c"/>
<polyline points="191.8,150.93 225.6,145.05" fill="none" stroke="#6a6a6a" stroke-width="0.85"/>
<circle cx="191.8" cy="150.93" r="0.95" fill="#444"/>
<circle cx="225.6" cy="145.05" r="0.95" fill="#444"/>
<circle cx="225.6" cy="141.29" r="0.6" fill="#222"/>
<text x="208.5" y="137.8" font-size="5.9" text-anchor="middle" fill="#202020" stroke="#202020" stroke-width="0.12" >Mean</text>
<line x1="188.8" y1="230.7" x2="188.8" y2="297.3" stroke="#8a8a8a" stroke-width="0.8" />
<line x1="188.4" y1="297.5" x2="228.4" y2="297.5" stroke="#8a8a8a" stroke-width="0.9" />
<line x1="187.5" y1="288.4" x2="188.8" y2="288.4" stroke="#444" stroke-width="0.45" />
<text x="186.6" y="290.6" font-size="6.2" text-anchor="end" fill="#202020" stroke="#202020" stroke-width="0.12" >5</text>
<line x1="187.5" y1="274.7" x2="188.8" y2="274.7" stroke="#444" stroke-width="0.45" />
<text x="186.6" y="276.9" font-size="6.2" text-anchor="end" fill="#202020" stroke="#202020" stroke-width="0.12" >10</text>
<line x1="187.5" y1="261" x2="188.8" y2="261" stroke="#444" stroke-width="0.45" />
<text x="186.6" y="263.2" font-size="6.2" text-anchor="end" fill="#202020" stroke="#202020" stroke-width="0.12" >15</text>
<line x1="187.5" y1="247.3" x2="188.8" y2="247.3" stroke="#444" stroke-width="0.45" />
<text x="186.6" y="249.5" font-size="6.2" text-anchor="end" fill="#202020" stroke="#202020" stroke-width="0.12" >20</text>
<line x1="187.5" y1="233.6" x2="188.8" y2="233.6" stroke="#444" stroke-width="0.45" />
<text x="186.6" y="235.8" font-size="6.2" text-anchor="end" fill="#202020" stroke="#202020" stroke-width="0.12" >25</text>
<line x1="191.8" y1="297.3" x2="191.8" y2="298.6" stroke="#444" stroke-width="0.45" />
<text x="191.8" y="306.3" font-size="6.3" text-anchor="middle" fill="#202020" stroke="#202020" stroke-width="0.13" >4</text>
<line x1="225.6" y1="297.3" x2="225.6" y2="298.6" stroke="#444" stroke-width="0.45" />
<text x="225.6" y="306.3" font-size="6.3" text-anchor="middle" fill="#202020" stroke="#202020" stroke-width="0.13" >24</text>
<polyline points="191.8,290.59 225.6,293.06" fill="none" stroke="#4a98d8" stroke-width="0.85"/>
<circle cx="191.8" cy="290.59" r="0.95" fill="#1a5a92"/>
<circle cx="225.6" cy="293.06" r="0.95" fill="#1a5a92"/>
<polyline points="191.8,288.67 225.6,292.51" fill="none" stroke="#f0a050" stroke-width="0.85"/>
<circle cx="191.8" cy="288.67" r="0.95" fill="#b85c0c"/>
<circle cx="225.6" cy="292.51" r="0.95" fill="#b85c0c"/>
<polyline points="191.8,284.56 225.6,292.51" fill="none" stroke="#2fa84a" stroke-width="0.85"/>
<circle cx="191.8" cy="284.56" r="0.95" fill="#17702c"/>
<circle cx="225.6" cy="292.51" r="0.95" fill="#17702c"/>
<polyline points="191.8,280.73 225.6,288.4" fill="none" stroke="#d03030" stroke-width="0.85"/>
<circle cx="191.8" cy="280.73" r="0.95" fill="#9c1c1c"/>
<circle cx="225.6" cy="288.4" r="0.95" fill="#9c1c1c"/>
<polyline points="191.8,261 225.6,280.73" fill="none" stroke="#6a6a6a" stroke-width="0.85"/>
<circle cx="191.8" cy="261" r="0.95" fill="#444"/>
<circle cx="225.6" cy="280.73" r="0.95" fill="#444"/>
<polyline points="191.8,249.22 225.6,289.77" fill="none" stroke="#dc78c0" stroke-width="0.85"/>
<circle cx="191.8" cy="249.22" r="0.95" fill="#a8488c"/>
<circle cx="225.6" cy="289.77" r="0.95" fill="#a8488c"/>
<polyline points="191.8,234.42 225.6,290.32" fill="none" stroke="#9468c4" stroke-width="0.85"/>
<circle cx="191.8" cy="234.42" r="0.95" fill="#5e3a8c"/>
<circle cx="225.6" cy="290.32" r="0.95" fill="#5e3a8c"/>
<polyline points="191.8,234.97 225.6,288.95" fill="none" stroke="#8a5448" stroke-width="0.85"/>
<circle cx="191.8" cy="234.97" r="0.95" fill="#5e3028"/>
<circle cx="225.6" cy="288.95" r="0.95" fill="#5e3028"/>
<line x1="462.1" y1="142" x2="462.1" y2="208.3" stroke="#8a8a8a" stroke-width="0.8" />
<line x1="461.7" y1="208.5" x2="501.3" y2="208.5" stroke="#8a8a8a" stroke-width="0.9" />
<line x1="460.8" y1="204.1" x2="462.1" y2="204.1" stroke="#444" stroke-width="0.45" />
<text x="459.9" y="206.3" font-size="6.2" text-anchor="end" fill="#202020" stroke="#202020" stroke-width="0.12" >0</text>
<line x1="460.8" y1="193.12" x2="462.1" y2="193.12" stroke="#444" stroke-width="0.45" />
<text x="459.9" y="195.32" font-size="6.2" text-anchor="end" fill="#202020" stroke="#202020" stroke-width="0.12" >5</text>
<line x1="460.8" y1="182.14" x2="462.1" y2="182.14" stroke="#444" stroke-width="0.45" />
<text x="459.9" y="184.34" font-size="6.2" text-anchor="end" fill="#202020" stroke="#202020" stroke-width="0.12" >10</text>
<line x1="460.8" y1="171.16" x2="462.1" y2="171.16" stroke="#444" stroke-width="0.45" />
<text x="459.9" y="173.36" font-size="6.2" text-anchor="end" fill="#202020" stroke="#202020" stroke-width="0.12" >15</text>
<line x1="460.8" y1="160.18" x2="462.1" y2="160.18" stroke="#444" stroke-width="0.45" />
<text x="459.9" y="162.38" font-size="6.2" text-anchor="end" fill="#202020" stroke="#202020" stroke-width="0.12" >20</text>
<line x1="460.8" y1="149.2" x2="462.1" y2="149.2" stroke="#444" stroke-width="0.45" />
<text x="459.9" y="151.4" font-size="6.2" text-anchor="end" fill="#202020" stroke="#202020" stroke-width="0.12" >25</text>
<line x1="464.7" y1="208.3" x2="464.7" y2="209.6" stroke="#444" stroke-width="0.45" />
<text x="464.7" y="217.3" font-size="6.3" text-anchor="middle" fill="#202020" stroke="#202020" stroke-width="0.13" >24</text>
<line x1="481.8" y1="208.3" x2="481.8" y2="209.6" stroke="#444" stroke-width="0.45" />
<text x="481.8" y="217.3" font-size="6.3" text-anchor="middle" fill="#202020" stroke="#202020" stroke-width="0.13" >48</text>
<line x1="498.9" y1="208.3" x2="498.9" y2="209.6" stroke="#444" stroke-width="0.45" />
<text x="498.9" y="217.3" font-size="6.3" text-anchor="middle" fill="#202020" stroke="#202020" stroke-width="0.13" >72</text>
<polyline points="464.7,204.1 481.8,203.88 498.9,203.88" fill="none" stroke="#4a98d8" stroke-width="0.85"/>
<circle cx="464.7" cy="204.1" r="0.95" fill="#1a5a92"/>
<circle cx="481.8" cy="203.88" r="0.95" fill="#1a5a92"/>
<circle cx="498.9" cy="203.88" r="0.95" fill="#1a5a92"/>
<polyline points="464.7,203.66 481.8,203.44 498.9,203.44" fill="none" stroke="#f0a050" stroke-width="0.85"/>
<circle cx="464.7" cy="203.66" r="0.95" fill="#b85c0c"/>
<circle cx="481.8" cy="203.44" r="0.95" fill="#b85c0c"/>
<circle cx="498.9" cy="203.44" r="0.95" fill="#b85c0c"/>
<polyline points="464.7,200.15 481.8,202.34 498.9,202.78" fill="none" stroke="#2fa84a" stroke-width="0.85"/>
<circle cx="464.7" cy="200.15" r="0.95" fill="#17702c"/>
<circle cx="481.8" cy="202.34" r="0.95" fill="#17702c"/>
<circle cx="498.9" cy="202.78" r="0.95" fill="#17702c"/>
<polyline points="464.7,190.92 481.8,199.05 498.9,201.46" fill="none" stroke="#d03030" stroke-width="0.85"/>
<circle cx="464.7" cy="190.92" r="0.95" fill="#9c1c1c"/>
<circle cx="481.8" cy="199.05" r="0.95" fill="#9c1c1c"/>
<circle cx="498.9" cy="201.46" r="0.95" fill="#9c1c1c"/>
<polyline points="464.7,173.36 481.8,190.92 498.9,201.25" fill="none" stroke="#9468c4" stroke-width="0.85"/>
<circle cx="464.7" cy="173.36" r="0.95" fill="#5e3a8c"/>
<circle cx="481.8" cy="190.92" r="0.95" fill="#5e3a8c"/>
<circle cx="498.9" cy="201.25" r="0.95" fill="#5e3a8c"/>
<polyline points="464.7,166.11 481.8,190.48 498.9,196.41" fill="none" stroke="#8a5448" stroke-width="0.85"/>
<circle cx="464.7" cy="166.11" r="0.95" fill="#5e3028"/>
<circle cx="481.8" cy="190.48" r="0.95" fill="#5e3028"/>
<circle cx="498.9" cy="196.41" r="0.95" fill="#5e3028"/>
<polyline points="464.7,167.43 481.8,155.79 498.9,194.88" fill="none" stroke="#dc78c0" stroke-width="0.85"/>
<circle cx="464.7" cy="167.43" r="0.95" fill="#a8488c"/>
<circle cx="481.8" cy="155.79" r="0.95" fill="#a8488c"/>
<circle cx="498.9" cy="194.88" r="0.95" fill="#a8488c"/>
<polyline points="464.7,156.45 481.8,159.52 498.9,145.47" fill="none" stroke="#6a6a6a" stroke-width="0.85"/>
<circle cx="464.7" cy="156.45" r="0.95" fill="#444"/>
<circle cx="481.8" cy="159.52" r="0.95" fill="#444"/>
<circle cx="498.9" cy="145.47" r="0.95" fill="#444"/>
<circle cx="498.9" cy="141.95" r="0.6" fill="#222"/>
<text x="481.8" y="137.8" font-size="5.9" text-anchor="middle" fill="#202020" stroke="#202020" stroke-width="0.12" >Mean</text>
<line x1="462.1" y1="230.2" x2="462.1" y2="297.4" stroke="#8a8a8a" stroke-width="0.8" />
<line x1="461.7" y1="297.6" x2="501.3" y2="297.6" stroke="#8a8a8a" stroke-width="0.9" />
<line x1="460.8" y1="295.3" x2="462.1" y2="295.3" stroke="#444" stroke-width="0.45" />
<text x="459.9" y="297.5" font-size="6.2" text-anchor="end" fill="#202020" stroke="#202020" stroke-width="0.12" >0</text>
<line x1="460.8" y1="280.5" x2="462.1" y2="280.5" stroke="#444" stroke-width="0.45" />
<text x="459.9" y="282.7" font-size="6.2" text-anchor="end" fill="#202020" stroke="#202020" stroke-width="0.12" >20</text>
<line x1="460.8" y1="265.7" x2="462.1" y2="265.7" stroke="#444" stroke-width="0.45" />
<text x="459.9" y="267.9" font-size="6.2" text-anchor="end" fill="#202020" stroke="#202020" stroke-width="0.12" >40</text>
<line x1="460.8" y1="250.9" x2="462.1" y2="250.9" stroke="#444" stroke-width="0.45" />
<text x="459.9" y="253.1" font-size="6.2" text-anchor="end" fill="#202020" stroke="#202020" stroke-width="0.12" >60</text>
<line x1="460.8" y1="236.1" x2="462.1" y2="236.1" stroke="#444" stroke-width="0.45" />
<text x="459.9" y="238.3" font-size="6.2" text-anchor="end" fill="#202020" stroke="#202020" stroke-width="0.12" >80</text>
<line x1="464.7" y1="297.4" x2="464.7" y2="298.7" stroke="#444" stroke-width="0.45" />
<text x="464.7" y="306.3" font-size="6.3" text-anchor="middle" fill="#202020" stroke="#202020" stroke-width="0.13" >24</text>
<line x1="481.8" y1="297.4" x2="481.8" y2="298.7" stroke="#444" stroke-width="0.45" />
<text x="481.8" y="306.3" font-size="6.3" text-anchor="middle" fill="#202020" stroke="#202020" stroke-width="0.13" >48</text>
<line x1="498.9" y1="297.4" x2="498.9" y2="298.7" stroke="#444" stroke-width="0.45" />
<text x="498.9" y="306.3" font-size="6.3" text-anchor="middle" fill="#202020" stroke="#202020" stroke-width="0.13" >72</text>
<polyline points="464.7,292.34 481.8,292.34 498.9,293.08" fill="none" stroke="#4a98d8" stroke-width="0.85"/>
<circle cx="464.7" cy="292.34" r="0.95" fill="#1a5a92"/>
<circle cx="481.8" cy="292.34" r="0.95" fill="#1a5a92"/>
<circle cx="498.9" cy="293.08" r="0.95" fill="#1a5a92"/>
<polyline points="464.7,289.01 481.8,290.86 498.9,291.6" fill="none" stroke="#f0a050" stroke-width="0.85"/>
<circle cx="464.7" cy="289.01" r="0.95" fill="#b85c0c"/>
<circle cx="481.8" cy="290.86" r="0.95" fill="#b85c0c"/>
<circle cx="498.9" cy="291.6" r="0.95" fill="#b85c0c"/>
<polyline points="464.7,277.54 481.8,287.16 498.9,290.86" fill="none" stroke="#2fa84a" stroke-width="0.85"/>
<circle cx="464.7" cy="277.54" r="0.95" fill="#17702c"/>
<circle cx="481.8" cy="287.16" r="0.95" fill="#17702c"/>
<circle cx="498.9" cy="290.86" r="0.95" fill="#17702c"/>
<polyline points="464.7,271.62 481.8,282.72 498.9,290.12" fill="none" stroke="#9468c4" stroke-width="0.85"/>
<circle cx="464.7" cy="271.62" r="0.95" fill="#5e3a8c"/>
<circle cx="481.8" cy="282.72" r="0.95" fill="#5e3a8c"/>
<circle cx="498.9" cy="290.12" r="0.95" fill="#5e3a8c"/>
<polyline points="464.7,269.4 481.8,280.5 498.9,288.64" fill="none" stroke="#d03030" stroke-width="0.85"/>
<circle cx="464.7" cy="269.4" r="0.95" fill="#9c1c1c"/>
<circle cx="481.8" cy="280.5" r="0.95" fill="#9c1c1c"/>
<circle cx="498.9" cy="288.64" r="0.95" fill="#9c1c1c"/>
<polyline points="464.7,259.04 481.8,267.92 498.9,283.46" fill="none" stroke="#dc78c0" stroke-width="0.85"/>
<circle cx="464.7" cy="259.04" r="0.95" fill="#a8488c"/>
<circle cx="481.8" cy="267.92" r="0.95" fill="#a8488c"/>
<circle cx="498.9" cy="283.46" r="0.95" fill="#a8488c"/>
<polyline points="464.7,256.08 481.8,272.36 498.9,281.98" fill="none" stroke="#8a5448" stroke-width="0.85"/>
<circle cx="464.7" cy="256.08" r="0.95" fill="#5e3028"/>
<circle cx="481.8" cy="272.36" r="0.95" fill="#5e3028"/>
<circle cx="498.9" cy="281.98" r="0.95" fill="#5e3028"/>
<polyline points="464.7,256.08 481.8,240.54 498.9,234.62" fill="none" stroke="#6a6a6a" stroke-width="0.85"/>
<circle cx="464.7" cy="256.08" r="0.95" fill="#444"/>
<circle cx="481.8" cy="240.54" r="0.95" fill="#444"/>
<circle cx="498.9" cy="234.62" r="0.95" fill="#444"/>
<circle cx="498.9" cy="230.92" r="0.6" fill="#222"/>
<line x1="503" y1="145.7" x2="511.5" y2="145.7" stroke="#4a98d8" stroke-width="0.85" />
<circle cx="507.25" cy="145.7" r="0.95" fill="#1a5a92"/>
<text x="512.8" y="147.25" font-size="4.3" text-anchor="start" fill="#202020" stroke="#202020" stroke-width="0.09" >Control</text>
<line x1="503" y1="152.06" x2="511.5" y2="152.06" stroke="#f0a050" stroke-width="0.85" />
<circle cx="507.25" cy="152.06" r="0.95" fill="#b85c0c"/>
<text x="512.8" y="153.61" font-size="4.3" text-anchor="start" fill="#202020" stroke="#202020" stroke-width="0.09" >HT</text>
<line x1="503" y1="158.42" x2="511.5" y2="158.42" stroke="#2fa84a" stroke-width="0.85" />
<circle cx="507.25" cy="158.42" r="0.95" fill="#17702c"/>
<text x="512.8" y="159.97" font-size="4.3" text-anchor="start" fill="#202020" stroke="#202020" stroke-width="0.09" >HSP90i</text>
<line x1="503" y1="164.78" x2="511.5" y2="164.78" stroke="#d03030" stroke-width="0.85" />
<circle cx="507.25" cy="164.78" r="0.95" fill="#9c1c1c"/>
<text x="512.8" y="166.33" font-size="4.3" text-anchor="start" fill="#202020" stroke="#202020" stroke-width="0.09" >HT+HSP90i</text>
<line x1="503" y1="171.14" x2="511.5" y2="171.14" stroke="#9468c4" stroke-width="0.85" />
<circle cx="507.25" cy="171.14" r="0.95" fill="#5e3a8c"/>
<text x="512.8" y="172.69" font-size="4.3" text-anchor="start" fill="#202020" stroke="#202020" stroke-width="0.09" >CT</text>
<line x1="503" y1="177.5" x2="511.5" y2="177.5" stroke="#8a5448" stroke-width="0.85" />
<circle cx="507.25" cy="177.5" r="0.95" fill="#5e3028"/>
<text x="512.8" y="179.05" font-size="4.3" text-anchor="start" fill="#202020" stroke="#202020" stroke-width="0.09" >HT+CT</text>
<line x1="503" y1="183.86" x2="511.5" y2="183.86" stroke="#dc78c0" stroke-width="0.85" />
<circle cx="507.25" cy="183.86" r="0.95" fill="#a8488c"/>
<text x="512.8" y="185.41" font-size="4.3" text-anchor="start" fill="#202020" stroke="#202020" stroke-width="0.09" >CT+HSP90i</text>
<line x1="503" y1="190.22" x2="511.5" y2="190.22" stroke="#6a6a6a" stroke-width="0.85" />
<circle cx="507.25" cy="190.22" r="0.95" fill="#444"/>
<text x="512.8" y="191.77" font-size="4.3" text-anchor="start" fill="#202020" stroke="#202020" stroke-width="0.09" >HT+CT+HSP90i</text>
</g>
<g id="panelC">
<text x="13.4" y="351.8" font-size="9.5" text-anchor="start" fill="#202020" stroke="#202020" stroke-width="0.19" >C</text>
<text x="100" y="353.3" font-size="6.6" text-anchor="middle" fill="#202020" stroke="#202020" stroke-width="0.13" >Radiotherapy</text>
<text x="204.6" y="353.3" font-size="6.6" text-anchor="middle" fill="#202020" stroke="#202020" stroke-width="0.13" >Cisplatin</text>
<line x1="150" y1="356.4" x2="258.9" y2="356.4" stroke="#666" stroke-width="0.6" />
<text x="59.4" y="380" font-size="6.8" text-anchor="end" fill="#202020" stroke="#202020" stroke-width="0.14" >No extra modality</text>
<text x="59.4" y="419.3" font-size="6.7" text-anchor="end" fill="#202020" stroke="#202020" stroke-width="0.13" >HT</text>
<text x="59.4" y="455" font-size="6.7" text-anchor="end" fill="#202020" stroke="#202020" stroke-width="0.13" >HT+HSP90i</text>
<text x="81.4" y="478.2" font-size="6.6" text-anchor="middle" fill="#202020" stroke="#202020" stroke-width="0.13" >4</text>
<text x="118.6" y="478.2" font-size="6.6" text-anchor="middle" fill="#202020" stroke="#202020" stroke-width="0.13" >24</text>
<text x="167.2" y="478.9" font-size="6.6" text-anchor="middle" fill="#202020" stroke="#202020" stroke-width="0.13" >24</text>
<text x="203.8" y="478.9" font-size="6.6" text-anchor="middle" fill="#202020" stroke="#202020" stroke-width="0.13" >48</text>
<text x="241.2" y="478.9" font-size="6.6" text-anchor="middle" fill="#202020" stroke="#202020" stroke-width="0.13" >72</text>
<text x="162.3" y="489.8" font-size="6.8" text-anchor="middle" fill="#202020" stroke="#202020" stroke-width="0.14" >Time after HT (h)</text>
<text x="265.8" y="451.9" font-size="6.6" text-anchor="start" fill="#4a86c4" font-weight="bold" >Hoechst</text>
<text x="265.8" y="460" font-size="6.6" text-anchor="start" fill="#e0218a" font-weight="bold" >γH2AX</text>
<rect x="63.0" y="359.8" width="73.36" height="109.89" fill="#04020a"/>
<rect x="149.3" y="359.8" width="110.04" height="109.89" fill="#04020a"/>
<clipPath id="cc1"><rect x="63" y="359.8" width="36.68" height="36.63"/></clipPath>
<g clip-path="url(#cc1)"><g filter="url(#b1)">
<ellipse cx="96.92" cy="394.55" rx="1.72" ry="1.68" fill="#5a46c8" opacity="0.98" transform="rotate(177 96.92 394.55)"/>
<ellipse cx="95.73" cy="362.86" rx="1.78" ry="1.49" fill="#9a58c8" opacity="0.99" transform="rotate(44 95.73 362.86)"/>
<ellipse cx="84.72" cy="375.32" rx="1.75" ry="1.73" fill="#5a46c8" opacity="0.86" transform="rotate(104 84.72 375.32)"/>
<ellipse cx="82.44" cy="364.57" rx="1.99" ry="1.78" fill="#3d36c0" opacity="0.97" transform="rotate(13 82.44 364.57)"/>
<ellipse cx="70.04" cy="376.08" rx="1.99" ry="1.73" fill="#5a46c8" opacity="0.73" transform="rotate(16 70.04 376.08)"/>
<ellipse cx="63.91" cy="362.94" rx="1.73" ry="1.59" fill="#5a46c8" opacity="0.73" transform="rotate(32 63.91 362.94)"/>
<ellipse cx="89.04" cy="375.23" rx="2.04" ry="1.54" fill="#3d36c0" opacity="0.94" transform="rotate(146 89.04 375.23)"/>
<ellipse cx="81.8" cy="386.69" rx="2.17" ry="1.85" fill="#3d36c0" opacity="0.93" transform="rotate(52 81.8 386.69)"/>
<ellipse cx="76.17" cy="361.91" rx="2.17" ry="1.73" fill="#9a58c8" opacity="0.71" transform="rotate(72 76.17 361.91)"/>
<ellipse cx="91.72" cy="381.38" rx="2.03" ry="1.46" fill="#3d36c0" opacity="0.95" transform="rotate(163 91.72 381.38)"/>
<ellipse cx="87.13" cy="382.55" rx="1.97" ry="1.68" fill="#5a46c8" opacity="0.7" transform="rotate(11 87.13 382.55)"/>
<ellipse cx="98.61" cy="373.09" rx="1.87" ry="1.75" fill="#5a46c8" opacity="0.77" transform="rotate(163 98.61 373.09)"/>
<ellipse cx="83.98" cy="384" rx="2.16" ry="1.69" fill="#3d36c0" opacity="0.78" transform="rotate(49 83.98 384)"/>
<ellipse cx="86.56" cy="366.47" rx="2.11" ry="1.48" fill="#9a58c8" opacity="0.88" transform="rotate(78 86.56 366.47)"/>
<ellipse cx="69.55" cy="371.65" rx="2.09" ry="1.76" fill="#5a46c8" opacity="0.84" transform="rotate(65 69.55 371.65)"/>
<ellipse cx="92.93" cy="366.97" rx="2.14" ry="1.85" fill="#3d36c0" opacity="0.73" transform="rotate(107 92.93 366.97)"/>
<ellipse cx="67.19" cy="363.41" rx="1.78" ry="1.57" fill="#3d36c0" opacity="0.74" transform="rotate(0 67.19 363.41)"/>
<ellipse cx="64.43" cy="369.89" rx="2.07" ry="1.51" fill="#3d36c0" opacity="0.77" transform="rotate(68 64.43 369.89)"/>
<ellipse cx="84.01" cy="389.86" rx="1.8" ry="1.68" fill="#5a46c8" opacity="0.82" transform="rotate(75 84.01 389.86)"/>
<ellipse cx="75.13" cy="373.34" rx="2.2" ry="1.58" fill="#9a58c8" opacity="0.71" transform="rotate(50 75.13 373.34)"/>
<ellipse cx="72.48" cy="363.72" rx="1.96" ry="1.49" fill="#5a46c8" opacity="0.81" transform="rotate(5 72.48 363.72)"/>
<ellipse cx="91.75" cy="385.7" rx="2.07" ry="1.4" fill="#3d36c0" opacity="0.87" transform="rotate(105 91.75 385.7)"/>
<ellipse cx="83.01" cy="393.45" rx="2.15" ry="1.74" fill="#5a46c8" opacity="0.93" transform="rotate(57 83.01 393.45)"/>
<ellipse cx="98.72" cy="389.29" rx="1.74" ry="1.43" fill="#5a46c8" opacity="1" transform="rotate(49 98.72 389.29)"/>
<ellipse cx="97.8" cy="379.53" rx="2.19" ry="1.78" fill="#3d36c0" opacity="0.86" transform="rotate(177 97.8 379.53)"/>
<ellipse cx="75.7" cy="395.49" rx="1.94" ry="1.62" fill="#3d36c0" opacity="0.87" transform="rotate(11 75.7 395.49)"/>
<ellipse cx="76.83" cy="366.88" rx="1.76" ry="1.54" fill="#5a46c8" opacity="0.95" transform="rotate(159 76.83 366.88)"/>
<ellipse cx="65.78" cy="376.87" rx="1.98" ry="1.5" fill="#5a46c8" opacity="0.71" transform="rotate(155 65.78 376.87)"/>
<ellipse cx="70.21" cy="394" rx="2.08" ry="1.83" fill="#3d36c0" opacity="0.98" transform="rotate(140 70.21 394)"/>
<ellipse cx="96.04" cy="376.09" rx="1.94" ry="1.82" fill="#5a46c8" opacity="0.73" transform="rotate(45 96.04 376.09)"/>
<ellipse cx="75.57" cy="392.49" rx="2.11" ry="1.78" fill="#3d36c0" opacity="0.89" transform="rotate(179 75.57 392.49)"/>
<ellipse cx="92.85" cy="392.59" rx="2.03" ry="1.73" fill="#3d36c0" opacity="0.77" transform="rotate(75 92.85 392.59)"/>
<ellipse cx="88.42" cy="390.2" rx="1.8" ry="1.81" fill="#5a46c8" opacity="0.8" transform="rotate(14 88.42 390.2)"/>
<ellipse cx="83.61" cy="379.65" rx="2.02" ry="1.56" fill="#9a58c8" opacity="0.77" transform="rotate(104 83.61 379.65)"/>
<ellipse cx="63.14" cy="373.62" rx="1.72" ry="1.62" fill="#5a46c8" opacity="0.91" transform="rotate(57 63.14 373.62)"/>
<ellipse cx="79.48" cy="375.28" rx="1.97" ry="1.6" fill="#5a46c8" opacity="0.78" transform="rotate(170 79.48 375.28)"/>
<ellipse cx="88.27" cy="379.55" rx="1.88" ry="1.43" fill="#5a46c8" opacity="0.94" transform="rotate(57 88.27 379.55)"/>
<ellipse cx="92.95" cy="377.3" rx="1.76" ry="1.72" fill="#3d36c0" opacity="0.99" transform="rotate(15 92.95 377.3)"/>
<ellipse cx="83.31" cy="369.16" rx="1.95" ry="1.82" fill="#5a46c8" opacity="0.96" transform="rotate(52 83.31 369.16)"/>
<ellipse cx="99.04" cy="383.03" rx="2.1" ry="1.46" fill="#3d36c0" opacity="0.99" transform="rotate(95 99.04 383.03)"/>
<ellipse cx="87.92" cy="370.54" rx="2.2" ry="1.46" fill="#5a46c8" opacity="0.76" transform="rotate(100 87.92 370.54)"/>
<ellipse cx="69.7" cy="360.5" rx="1.96" ry="1.5" fill="#9a58c8" opacity="0.74" transform="rotate(55 69.7 360.5)"/>
<ellipse cx="78.65" cy="371.4" rx="2.18" ry="1.4" fill="#5a46c8" opacity="0.84" transform="rotate(142 78.65 371.4)"/>
<ellipse cx="76.27" cy="383.65" rx="1.79" ry="1.77" fill="#3d36c0" opacity="0.84" transform="rotate(139 76.27 383.65)"/>
<ellipse cx="93.82" cy="374.14" rx="1.97" ry="1.42" fill="#5a46c8" opacity="0.94" transform="rotate(117 93.82 374.14)"/>
<ellipse cx="85.09" cy="362.13" rx="1.97" ry="1.58" fill="#3d36c0" opacity="0.96" transform="rotate(21 85.09 362.13)"/>
<ellipse cx="85.77" cy="387.28" rx="2.2" ry="1.7" fill="#3d36c0" opacity="0.76" transform="rotate(84 85.77 387.28)"/>
<ellipse cx="98.87" cy="369.64" rx="1.86" ry="1.7" fill="#3d36c0" opacity="0.89" transform="rotate(74 98.87 369.64)"/>
<ellipse cx="73.43" cy="377.87" rx="1.78" ry="1.46" fill="#9a58c8" opacity="0.72" transform="rotate(9 73.43 377.87)"/>
<ellipse cx="88.28" cy="394.5" rx="2.2" ry="1.42" fill="#5a46c8" opacity="0.76" transform="rotate(18 88.28 394.5)"/>
<ellipse cx="84.01" cy="396.15" rx="1.96" ry="1.55" fill="#5a46c8" opacity="0.73" transform="rotate(81 84.01 396.15)"/>
<ellipse cx="98.79" cy="359.8" rx="1.87" ry="1.45" fill="#9a58c8" opacity="0.75" transform="rotate(63 98.79 359.8)"/>
<ellipse cx="81.64" cy="372.9" rx="1.84" ry="1.51" fill="#3d36c0" opacity="0.97" transform="rotate(80 81.64 372.9)"/>
<ellipse cx="64.41" cy="381.51" rx="1.8" ry="1.66" fill="#5a46c8" opacity="0.78" transform="rotate(110 64.41 381.51)"/>
<ellipse cx="91.58" cy="372.17" rx="1.77" ry="1.79" fill="#5a46c8" opacity="0.82" transform="rotate(172 91.58 372.17)"/>
<ellipse cx="76.8" cy="386.64" rx="2.1" ry="1.66" fill="#5a46c8" opacity="0.96" transform="rotate(104 76.8 386.64)"/>
<ellipse cx="88.42" cy="363.68" rx="1.88" ry="1.61" fill="#3d36c0" opacity="0.73" transform="rotate(151 88.42 363.68)"/>
<ellipse cx="95.5" cy="368.8" rx="2.07" ry="1.43" fill="#3d36c0" opacity="0.76" transform="rotate(76 95.5 368.8)"/>
</g></g>
<clipPath id="cc2"><rect x="99.68" y="359.8" width="36.68" height="36.63"/></clipPath>
<g clip-path="url(#cc2)"><g filter="url(#b1)">
<ellipse cx="131.64" cy="364.47" rx="1.62" ry="1.4" fill="#3d36c0" opacity="0.68" transform="rotate(38 131.64 364.47)"/>
<ellipse cx="117.4" cy="372.33" rx="1.71" ry="1.53" fill="#2e2aa8" opacity="0.69" transform="rotate(128 117.4 372.33)"/>
<ellipse cx="111.13" cy="384.3" rx="1.73" ry="1.59" fill="#2e2aa8" opacity="0.76" transform="rotate(137 111.13 384.3)"/>
<ellipse cx="127.25" cy="383.2" rx="1.81" ry="1.35" fill="#2e2aa8" opacity="0.53" transform="rotate(33 127.25 383.2)"/>
<ellipse cx="127.95" cy="369.17" rx="1.67" ry="1.47" fill="#3d36c0" opacity="0.64" transform="rotate(54 127.95 369.17)"/>
<ellipse cx="112.55" cy="367.49" rx="1.53" ry="1.44" fill="#2e2aa8" opacity="0.52" transform="rotate(45 112.55 367.49)"/>
<ellipse cx="114.1" cy="383.42" rx="1.65" ry="1.32" fill="#3d36c0" opacity="0.5" transform="rotate(85 114.1 383.42)"/>
<ellipse cx="134.66" cy="373.9" rx="1.91" ry="1.52" fill="#3d36c0" opacity="0.72" transform="rotate(131 134.66 373.9)"/>
<ellipse cx="104.53" cy="385.61" rx="1.96" ry="1.69" fill="#3d36c0" opacity="0.78" transform="rotate(147 104.53 385.61)"/>
<ellipse cx="114.75" cy="378.81" rx="1.78" ry="1.55" fill="#2e2aa8" opacity="0.76" transform="rotate(21 114.75 378.81)"/>
<ellipse cx="135.08" cy="385.77" rx="1.56" ry="1.33" fill="#3d36c0" opacity="0.73" transform="rotate(166 135.08 385.77)"/>
<ellipse cx="129.2" cy="393.37" rx="1.61" ry="1.41" fill="#2e2aa8" opacity="0.7" transform="rotate(89 129.2 393.37)"/>
<ellipse cx="105.58" cy="396.34" rx="1.57" ry="1.28" fill="#2e2aa8" opacity="0.58" transform="rotate(74 105.58 396.34)"/>
<ellipse cx="116.44" cy="362.77" rx="1.77" ry="1.48" fill="#2e2aa8" opacity="0.76" transform="rotate(28 116.44 362.77)"/>
<ellipse cx="120.41" cy="365.24" rx="1.7" ry="1.59" fill="#2e2aa8" opacity="0.69" transform="rotate(97 120.41 365.24)"/>
<ellipse cx="121.42" cy="370.89" rx="1.91" ry="1.41" fill="#3d36c0" opacity="0.71" transform="rotate(84 121.42 370.89)"/>
<ellipse cx="103.86" cy="380.69" rx="1.6" ry="1.36" fill="#3d36c0" opacity="0.63" transform="rotate(48 103.86 380.69)"/>
<ellipse cx="117.13" cy="391.11" rx="1.63" ry="1.32" fill="#2e2aa8" opacity="0.74" transform="rotate(114 117.13 391.11)"/>
<ellipse cx="99.82" cy="366.79" rx="1.8" ry="1.55" fill="#3d36c0" opacity="0.53" transform="rotate(107 99.82 366.79)"/>
<ellipse cx="102.49" cy="368.13" rx="1.9" ry="1.57" fill="#3d36c0" opacity="0.7" transform="rotate(80 102.49 368.13)"/>
<ellipse cx="125" cy="365.06" rx="1.89" ry="1.34" fill="#3d36c0" opacity="0.69" transform="rotate(99 125 365.06)"/>
<ellipse cx="101.31" cy="385.91" rx="1.54" ry="1.57" fill="#3d36c0" opacity="0.78" transform="rotate(162 101.31 385.91)"/>
<ellipse cx="125.63" cy="360.41" rx="1.62" ry="1.35" fill="#2e2aa8" opacity="0.64" transform="rotate(174 125.63 360.41)"/>
<ellipse cx="128.12" cy="364.08" rx="1.76" ry="1.3" fill="#3d36c0" opacity="0.55" transform="rotate(164 128.12 364.08)"/>
<ellipse cx="122.48" cy="393.63" rx="1.9" ry="1.46" fill="#3d36c0" opacity="0.61" transform="rotate(63 122.48 393.63)"/>
<ellipse cx="135.59" cy="392" rx="1.68" ry="1.54" fill="#3d36c0" opacity="0.71" transform="rotate(29 135.59 392)"/>
<ellipse cx="125.06" cy="390.42" rx="1.92" ry="1.52" fill="#2e2aa8" opacity="0.68" transform="rotate(41 125.06 390.42)"/>
<ellipse cx="100.11" cy="371.12" rx="1.88" ry="1.67" fill="#2e2aa8" opacity="0.68" transform="rotate(67 100.11 371.12)"/>
<ellipse cx="100.02" cy="394.99" rx="1.7" ry="1.29" fill="#2e2aa8" opacity="0.66" transform="rotate(180 100.02 394.99)"/>
<ellipse cx="130.42" cy="388.93" rx="1.57" ry="1.63" fill="#2e2aa8" opacity="0.71" transform="rotate(32 130.42 388.93)"/>
<ellipse cx="124.48" cy="379.34" rx="1.84" ry="1.53" fill="#3d36c0" opacity="0.73" transform="rotate(37 124.48 379.34)"/>
<ellipse cx="130.11" cy="372.25" rx="1.64" ry="1.47" fill="#2e2aa8" opacity="0.53" transform="rotate(17 130.11 372.25)"/>
<ellipse cx="121.13" cy="383.68" rx="1.55" ry="1.36" fill="#2e2aa8" opacity="0.51" transform="rotate(147 121.13 383.68)"/>
<ellipse cx="118.34" cy="367.4" rx="1.6" ry="1.42" fill="#2e2aa8" opacity="0.62" transform="rotate(38 118.34 367.4)"/>
<ellipse cx="104.88" cy="366.44" rx="1.95" ry="1.35" fill="#2e2aa8" opacity="0.69" transform="rotate(147 104.88 366.44)"/>
<ellipse cx="109.42" cy="395.95" rx="1.9" ry="1.61" fill="#3d36c0" opacity="0.51" transform="rotate(77 109.42 395.95)"/>
<ellipse cx="117.64" cy="381.11" rx="1.62" ry="1.59" fill="#3d36c0" opacity="0.66" transform="rotate(132 117.64 381.11)"/>
<ellipse cx="107.78" cy="372.63" rx="1.75" ry="1.42" fill="#2e2aa8" opacity="0.68" transform="rotate(54 107.78 372.63)"/>
<ellipse cx="127.48" cy="379.93" rx="1.78" ry="1.65" fill="#2e2aa8" opacity="0.65" transform="rotate(120 127.48 379.93)"/>
<ellipse cx="116.14" cy="385.17" rx="1.68" ry="1.48" fill="#2e2aa8" opacity="0.6" transform="rotate(98 116.14 385.17)"/>
<ellipse cx="102.7" cy="378.14" rx="1.61" ry="1.49" fill="#2e2aa8" opacity="0.75" transform="rotate(75 102.7 378.14)"/>
<ellipse cx="111.21" cy="380.56" rx="1.89" ry="1.44" fill="#2e2aa8" opacity="0.62" transform="rotate(74 111.21 380.56)"/>
<ellipse cx="122.99" cy="385.84" rx="2" ry="1.38" fill="#3d36c0" opacity="0.5" transform="rotate(65 122.99 385.84)"/>
<ellipse cx="116.9" cy="360.04" rx="1.96" ry="1.64" fill="#2e2aa8" opacity="0.5" transform="rotate(178 116.9 360.04)"/>
<ellipse cx="111.34" cy="391.54" rx="1.91" ry="1.47" fill="#2e2aa8" opacity="0.64" transform="rotate(94 111.34 391.54)"/>
<ellipse cx="99.8" cy="381.32" rx="1.81" ry="1.57" fill="#3d36c0" opacity="0.5" transform="rotate(66 99.8 381.32)"/>
<ellipse cx="124.55" cy="396.25" rx="1.79" ry="1.65" fill="#3d36c0" opacity="0.57" transform="rotate(137 124.55 396.25)"/>
<ellipse cx="125.21" cy="376.67" rx="1.55" ry="1.31" fill="#2e2aa8" opacity="0.59" transform="rotate(6 125.21 376.67)"/>
<ellipse cx="108.46" cy="362.64" rx="1.76" ry="1.69" fill="#3d36c0" opacity="0.52" transform="rotate(129 108.46 362.64)"/>
<ellipse cx="100.79" cy="389.5" rx="1.67" ry="1.44" fill="#3d36c0" opacity="0.66" transform="rotate(64 100.79 389.5)"/>
<ellipse cx="132.1" cy="381.68" rx="1.59" ry="1.29" fill="#2e2aa8" opacity="0.55" transform="rotate(151 132.1 381.68)"/>
<ellipse cx="108.75" cy="387.59" rx="1.73" ry="1.65" fill="#2e2aa8" opacity="0.75" transform="rotate(92 108.75 387.59)"/>
<ellipse cx="128.52" cy="374.7" rx="1.82" ry="1.51" fill="#3d36c0" opacity="0.69" transform="rotate(109 128.52 374.7)"/>
<ellipse cx="131.75" cy="368.66" rx="1.71" ry="1.67" fill="#3d36c0" opacity="0.67" transform="rotate(69 131.75 368.66)"/>
<ellipse cx="122.14" cy="361.26" rx="1.9" ry="1.48" fill="#2e2aa8" opacity="0.5" transform="rotate(131 122.14 361.26)"/>
<ellipse cx="134.53" cy="379.26" rx="1.94" ry="1.66" fill="#2e2aa8" opacity="0.53" transform="rotate(32 134.53 379.26)"/>
<ellipse cx="112.17" cy="370.22" rx="1.88" ry="1.45" fill="#2e2aa8" opacity="0.71" transform="rotate(82 112.17 370.22)"/>
<ellipse cx="131.57" cy="377.85" rx="1.77" ry="1.5" fill="#3d36c0" opacity="0.59" transform="rotate(175 131.57 377.85)"/>
<ellipse cx="105.87" cy="391.3" rx="1.94" ry="1.51" fill="#3d36c0" opacity="0.59" transform="rotate(177 105.87 391.3)"/>
<ellipse cx="121.65" cy="388.54" rx="1.63" ry="1.68" fill="#3d36c0" opacity="0.6" transform="rotate(63 121.65 388.54)"/>
<ellipse cx="114.8" cy="376" rx="1.75" ry="1.54" fill="#3d36c0" opacity="0.71" transform="rotate(115 114.8 376)"/>
<ellipse cx="114.82" cy="387.61" rx="1.74" ry="1.66" fill="#2e2aa8" opacity="0.5" transform="rotate(128 114.82 387.61)"/>
<ellipse cx="112.45" cy="374.33" rx="1.78" ry="1.42" fill="#3d36c0" opacity="0.63" transform="rotate(148 112.45 374.33)"/>
<ellipse cx="135.43" cy="369.34" rx="1.85" ry="1.58" fill="#3d36c0" opacity="0.68" transform="rotate(151 135.43 369.34)"/>
<ellipse cx="126.49" cy="371.53" rx="1.77" ry="1.47" fill="#3d36c0" opacity="0.52" transform="rotate(117 126.49 371.53)"/>
<ellipse cx="103.08" cy="375.52" rx="1.56" ry="1.34" fill="#3d36c0" opacity="0.71" transform="rotate(22 103.08 375.52)"/>
</g></g>
<clipPath id="cc3"><rect x="63" y="396.43" width="36.68" height="36.63"/></clipPath>
<g clip-path="url(#cc3)"><g filter="url(#b1)">
<ellipse cx="68.48" cy="428.92" rx="2.09" ry="1.6" fill="#5a46c8" opacity="0.8" transform="rotate(177 68.48 428.92)"/>
<ellipse cx="65.78" cy="431.34" rx="2.17" ry="1.61" fill="#5a46c8" opacity="0.93" transform="rotate(39 65.78 431.34)"/>
<ellipse cx="80.62" cy="418.44" rx="1.78" ry="1.6" fill="#5a46c8" opacity="0.92" transform="rotate(7 80.62 418.44)"/>
<ellipse cx="93.84" cy="401.44" rx="1.71" ry="1.66" fill="#3d36c0" opacity="0.93" transform="rotate(117 93.84 401.44)"/>
<ellipse cx="84.75" cy="420.46" rx="1.79" ry="1.47" fill="#5a46c8" opacity="0.92" transform="rotate(90 84.75 420.46)"/>
<ellipse cx="86.12" cy="405.59" rx="2.06" ry="1.77" fill="#5a46c8" opacity="0.89" transform="rotate(104 86.12 405.59)"/>
<ellipse cx="82.17" cy="401.42" rx="2.18" ry="1.39" fill="#5a46c8" opacity="0.86" transform="rotate(119 82.17 401.42)"/>
<ellipse cx="68.6" cy="419.15" rx="2.21" ry="1.73" fill="#5a46c8" opacity="0.89" transform="rotate(57 68.6 419.15)"/>
<ellipse cx="65.94" cy="414.86" rx="1.82" ry="1.65" fill="#3d36c0" opacity="0.8" transform="rotate(45 65.94 414.86)"/>
<ellipse cx="99.28" cy="403.7" rx="1.71" ry="1.67" fill="#5a46c8" opacity="0.83" transform="rotate(43 99.28 403.7)"/>
<ellipse cx="70.11" cy="410.64" rx="2.03" ry="1.74" fill="#5a46c8" opacity="0.76" transform="rotate(16 70.11 410.64)"/>
<ellipse cx="89.72" cy="404.65" rx="1.82" ry="1.66" fill="#9a58c8" opacity="0.8" transform="rotate(144 89.72 404.65)"/>
<ellipse cx="96.7" cy="400.95" rx="2" ry="1.41" fill="#9a58c8" opacity="0.82" transform="rotate(171 96.7 400.95)"/>
<ellipse cx="75.67" cy="424.63" rx="2.02" ry="1.44" fill="#5a46c8" opacity="0.87" transform="rotate(113 75.67 424.63)"/>
<ellipse cx="91.9" cy="424.98" rx="1.7" ry="1.58" fill="#5a46c8" opacity="0.85" transform="rotate(69 91.9 424.98)"/>
<ellipse cx="80.54" cy="426.75" rx="1.84" ry="1.54" fill="#5a46c8" opacity="0.72" transform="rotate(41 80.54 426.75)"/>
<ellipse cx="97.36" cy="428.03" rx="1.85" ry="1.63" fill="#9a58c8" opacity="0.77" transform="rotate(37 97.36 428.03)"/>
<ellipse cx="64.99" cy="426.25" rx="1.81" ry="1.47" fill="#5a46c8" opacity="0.88" transform="rotate(89 64.99 426.25)"/>
<ellipse cx="93.05" cy="408.27" rx="2.12" ry="1.56" fill="#5a46c8" opacity="0.81" transform="rotate(104 93.05 408.27)"/>
<ellipse cx="90.77" cy="398.23" rx="1.88" ry="1.64" fill="#9a58c8" opacity="0.87" transform="rotate(51 90.77 398.23)"/>
<ellipse cx="98.08" cy="396.74" rx="2.03" ry="1.59" fill="#5a46c8" opacity="0.79" transform="rotate(92 98.08 396.74)"/>
<ellipse cx="96.77" cy="418.03" rx="2.08" ry="1.76" fill="#5a46c8" opacity="0.83" transform="rotate(101 96.77 418.03)"/>
<ellipse cx="69.69" cy="416.21" rx="2.08" ry="1.79" fill="#3d36c0" opacity="0.74" transform="rotate(171 69.69 416.21)"/>
<ellipse cx="87.89" cy="416.92" rx="1.89" ry="1.73" fill="#5a46c8" opacity="0.87" transform="rotate(148 87.89 416.92)"/>
<ellipse cx="90.27" cy="430.58" rx="1.69" ry="1.8" fill="#3d36c0" opacity="0.74" transform="rotate(176 90.27 430.58)"/>
<ellipse cx="83.65" cy="407.47" rx="2.05" ry="1.53" fill="#5a46c8" opacity="0.86" transform="rotate(91 83.65 407.47)"/>
<ellipse cx="73.77" cy="432.52" rx="2.03" ry="1.67" fill="#5a46c8" opacity="0.78" transform="rotate(83 73.77 432.52)"/>
<ellipse cx="98.5" cy="410.06" rx="2.2" ry="1.78" fill="#5a46c8" opacity="0.81" transform="rotate(20 98.5 410.06)"/>
<ellipse cx="81.18" cy="411.11" rx="2.03" ry="1.79" fill="#5a46c8" opacity="0.76" transform="rotate(101 81.18 411.11)"/>
<ellipse cx="75.06" cy="408.2" rx="1.71" ry="1.51" fill="#3d36c0" opacity="0.92" transform="rotate(29 75.06 408.2)"/>
<ellipse cx="81.65" cy="396.72" rx="2.1" ry="1.51" fill="#3d36c0" opacity="0.85" transform="rotate(133 81.65 396.72)"/>
<ellipse cx="77.98" cy="420.57" rx="1.79" ry="1.71" fill="#5a46c8" opacity="0.78" transform="rotate(55 77.98 420.57)"/>
<ellipse cx="78.57" cy="413.55" rx="1.9" ry="1.78" fill="#5a46c8" opacity="0.72" transform="rotate(150 78.57 413.55)"/>
<ellipse cx="69.19" cy="423.49" rx="1.93" ry="1.66" fill="#5a46c8" opacity="0.85" transform="rotate(6 69.19 423.49)"/>
<ellipse cx="87.13" cy="432.83" rx="2.12" ry="1.4" fill="#5a46c8" opacity="0.9" transform="rotate(36 87.13 432.83)"/>
<ellipse cx="97.15" cy="420.95" rx="1.87" ry="1.4" fill="#3d36c0" opacity="0.78" transform="rotate(171 97.15 420.95)"/>
<ellipse cx="81.88" cy="414.9" rx="2.07" ry="1.53" fill="#5a46c8" opacity="0.75" transform="rotate(162 81.88 414.9)"/>
<ellipse cx="95.49" cy="413.28" rx="2.12" ry="1.8" fill="#5a46c8" opacity="0.73" transform="rotate(86 95.49 413.28)"/>
<ellipse cx="78.26" cy="429" rx="1.76" ry="1.51" fill="#3d36c0" opacity="0.9" transform="rotate(98 78.26 429)"/>
<ellipse cx="85.45" cy="396.91" rx="1.98" ry="1.75" fill="#5a46c8" opacity="0.91" transform="rotate(95 85.45 396.91)"/>
<ellipse cx="71.79" cy="421.74" rx="2.08" ry="1.67" fill="#5a46c8" opacity="0.95" transform="rotate(85 71.79 421.74)"/>
<ellipse cx="75.21" cy="414.55" rx="2.02" ry="1.71" fill="#9a58c8" opacity="0.9" transform="rotate(168 75.21 414.55)"/>
<ellipse cx="88.63" cy="424.44" rx="2.18" ry="1.56" fill="#5a46c8" opacity="0.95" transform="rotate(29 88.63 424.44)"/>
<ellipse cx="93.92" cy="430.45" rx="2.06" ry="1.82" fill="#5a46c8" opacity="0.86" transform="rotate(17 93.92 430.45)"/>
<ellipse cx="65.04" cy="409.08" rx="1.69" ry="1.71" fill="#9a58c8" opacity="0.79" transform="rotate(109 65.04 409.08)"/>
<ellipse cx="76.87" cy="431.62" rx="1.95" ry="1.71" fill="#5a46c8" opacity="0.71" transform="rotate(62 76.87 431.62)"/>
<ellipse cx="87.62" cy="410.72" rx="1.85" ry="1.61" fill="#3d36c0" opacity="0.9" transform="rotate(140 87.62 410.72)"/>
<ellipse cx="84.62" cy="399.82" rx="1.85" ry="1.72" fill="#5a46c8" opacity="0.83" transform="rotate(37 84.62 399.82)"/>
<ellipse cx="72.51" cy="415.6" rx="1.78" ry="1.82" fill="#5a46c8" opacity="0.97" transform="rotate(149 72.51 415.6)"/>
<ellipse cx="63.29" cy="412.59" rx="2.07" ry="1.76" fill="#3d36c0" opacity="0.9" transform="rotate(86 63.29 412.59)"/>
<ellipse cx="78.81" cy="424.1" rx="2.12" ry="1.69" fill="#3d36c0" opacity="0.98" transform="rotate(109 78.81 424.1)"/>
<ellipse cx="85.13" cy="402.65" rx="1.94" ry="1.4" fill="#9a58c8" opacity="0.9" transform="rotate(153 85.13 402.65)"/>
<ellipse cx="88.05" cy="400.41" rx="2.19" ry="1.68" fill="#5a46c8" opacity="0.93" transform="rotate(103 88.05 400.41)"/>
<ellipse cx="93.5" cy="397.09" rx="2.06" ry="1.42" fill="#5a46c8" opacity="0.94" transform="rotate(43 93.5 397.09)"/>
<ellipse cx="63.96" cy="396.78" rx="2.21" ry="1.75" fill="#5a46c8" opacity="0.84" transform="rotate(78 63.96 396.78)"/>
<ellipse cx="79.16" cy="409.01" rx="2.11" ry="1.58" fill="#9a58c8" opacity="0.72" transform="rotate(116 79.16 409.01)"/>
</g></g>
<clipPath id="cc4"><rect x="99.68" y="396.43" width="36.68" height="36.63"/></clipPath>
<g clip-path="url(#cc4)"><g filter="url(#b1)">
<ellipse cx="101.85" cy="397.92" rx="1.65" ry="1.62" fill="#3d36c0" opacity="0.7" transform="rotate(32 101.85 397.92)"/>
<ellipse cx="117.32" cy="401.84" rx="1.84" ry="1.33" fill="#3d36c0" opacity="0.59" transform="rotate(160 117.32 401.84)"/>
<ellipse cx="132.71" cy="432.59" rx="1.56" ry="1.37" fill="#3d36c0" opacity="0.51" transform="rotate(149 132.71 432.59)"/>
<ellipse cx="130.8" cy="426.62" rx="1.88" ry="1.37" fill="#3d36c0" opacity="0.68" transform="rotate(179 130.8 426.62)"/>
<ellipse cx="103.97" cy="407.61" rx="1.67" ry="1.43" fill="#3d36c0" opacity="0.56" transform="rotate(166 103.97 407.61)"/>
<ellipse cx="132.2" cy="415.84" rx="1.98" ry="1.53" fill="#2e2aa8" opacity="0.85" transform="rotate(49 132.2 415.84)"/>
<ellipse cx="117.84" cy="415.9" rx="1.77" ry="1.45" fill="#5a46c8" opacity="0.63" transform="rotate(166 117.84 415.9)"/>
<ellipse cx="116.88" cy="410.06" rx="2.02" ry="1.32" fill="#2e2aa8" opacity="0.74" transform="rotate(122 116.88 410.06)"/>
<ellipse cx="130.01" cy="412.6" rx="1.57" ry="1.45" fill="#3d36c0" opacity="0.73" transform="rotate(158 130.01 412.6)"/>
<ellipse cx="103.1" cy="423.44" rx="1.93" ry="1.28" fill="#2e2aa8" opacity="0.69" transform="rotate(130 103.1 423.44)"/>
<ellipse cx="105.08" cy="430.79" rx="1.89" ry="1.42" fill="#3d36c0" opacity="0.79" transform="rotate(81 105.08 430.79)"/>
<ellipse cx="119.94" cy="411.2" rx="2.01" ry="1.38" fill="#2e2aa8" opacity="0.69" transform="rotate(114 119.94 411.2)"/>
<ellipse cx="123.5" cy="428.06" rx="1.79" ry="1.61" fill="#3d36c0" opacity="0.85" transform="rotate(21 123.5 428.06)"/>
<ellipse cx="116.7" cy="407.29" rx="1.9" ry="1.58" fill="#2e2aa8" opacity="0.61" transform="rotate(55 116.7 407.29)"/>
<ellipse cx="134.5" cy="404.03" rx="1.94" ry="1.61" fill="#3d36c0" opacity="0.52" transform="rotate(101 134.5 404.03)"/>
<ellipse cx="121.92" cy="422.88" rx="1.65" ry="1.49" fill="#5a46c8" opacity="0.7" transform="rotate(110 121.92 422.88)"/>
<ellipse cx="122.47" cy="399.61" rx="1.71" ry="1.54" fill="#2e2aa8" opacity="0.69" transform="rotate(81 122.47 399.61)"/>
<ellipse cx="99.86" cy="423.71" rx="1.64" ry="1.62" fill="#3d36c0" opacity="0.82" transform="rotate(88 99.86 423.71)"/>
<ellipse cx="113.49" cy="400.24" rx="1.86" ry="1.47" fill="#2e2aa8" opacity="0.68" transform="rotate(124 113.49 400.24)"/>
<ellipse cx="105.75" cy="403.96" rx="1.77" ry="1.61" fill="#2e2aa8" opacity="0.73" transform="rotate(83 105.75 403.96)"/>
<ellipse cx="120.33" cy="413.99" rx="1.71" ry="1.34" fill="#2e2aa8" opacity="0.65" transform="rotate(43 120.33 413.99)"/>
<ellipse cx="107.9" cy="407.82" rx="1.76" ry="1.5" fill="#3d36c0" opacity="0.62" transform="rotate(168 107.9 407.82)"/>
<ellipse cx="126.06" cy="410.11" rx="1.64" ry="1.32" fill="#2e2aa8" opacity="0.71" transform="rotate(156 126.06 410.11)"/>
<ellipse cx="108.59" cy="396.66" rx="1.99" ry="1.43" fill="#2e2aa8" opacity="0.6" transform="rotate(79 108.59 396.66)"/>
<ellipse cx="133.47" cy="413.37" rx="1.71" ry="1.6" fill="#3d36c0" opacity="0.78" transform="rotate(5 133.47 413.37)"/>
<ellipse cx="121.31" cy="408.13" rx="2.01" ry="1.65" fill="#3d36c0" opacity="0.84" transform="rotate(156 121.31 408.13)"/>
<ellipse cx="126.38" cy="414.61" rx="1.77" ry="1.37" fill="#2e2aa8" opacity="0.72" transform="rotate(166 126.38 414.61)"/>
<ellipse cx="127.89" cy="424.06" rx="1.97" ry="1.62" fill="#3d36c0" opacity="0.7" transform="rotate(64 127.89 424.06)"/>
<ellipse cx="103.54" cy="411.34" rx="1.61" ry="1.34" fill="#3d36c0" opacity="0.69" transform="rotate(129 103.54 411.34)"/>
<ellipse cx="135.11" cy="415.57" rx="1.64" ry="1.32" fill="#3d36c0" opacity="0.61" transform="rotate(68 135.11 415.57)"/>
<ellipse cx="112.97" cy="405.61" rx="1.95" ry="1.41" fill="#5a46c8" opacity="0.73" transform="rotate(52 112.97 405.61)"/>
<ellipse cx="124.54" cy="432.25" rx="1.99" ry="1.47" fill="#2e2aa8" opacity="0.7" transform="rotate(5 124.54 432.25)"/>
<ellipse cx="100.73" cy="419.53" rx="1.77" ry="1.61" fill="#3d36c0" opacity="0.51" transform="rotate(62 100.73 419.53)"/>
<ellipse cx="135.46" cy="418.81" rx="1.99" ry="1.48" fill="#2e2aa8" opacity="0.54" transform="rotate(164 135.46 418.81)"/>
<ellipse cx="111.62" cy="418.21" rx="1.89" ry="1.31" fill="#3d36c0" opacity="0.82" transform="rotate(3 111.62 418.21)"/>
<ellipse cx="100.81" cy="401.44" rx="1.82" ry="1.57" fill="#3d36c0" opacity="0.7" transform="rotate(97 100.81 401.44)"/>
<ellipse cx="122.6" cy="410.55" rx="1.69" ry="1.7" fill="#2e2aa8" opacity="0.56" transform="rotate(21 122.6 410.55)"/>
<ellipse cx="130.4" cy="402.05" rx="1.72" ry="1.44" fill="#3d36c0" opacity="0.82" transform="rotate(30 130.4 402.05)"/>
<ellipse cx="115.57" cy="431.77" rx="1.98" ry="1.41" fill="#3d36c0" opacity="0.58" transform="rotate(106 115.57 431.77)"/>
<ellipse cx="118.21" cy="423.65" rx="1.78" ry="1.7" fill="#3d36c0" opacity="0.59" transform="rotate(168 118.21 423.65)"/>
<ellipse cx="105.06" cy="414.92" rx="1.63" ry="1.65" fill="#2e2aa8" opacity="0.64" transform="rotate(1 105.06 414.92)"/>
<ellipse cx="107.44" cy="416.49" rx="2.03" ry="1.4" fill="#2e2aa8" opacity="0.51" transform="rotate(28 107.44 416.49)"/>
<ellipse cx="114.92" cy="412.8" rx="1.91" ry="1.7" fill="#2e2aa8" opacity="0.84" transform="rotate(122 114.92 412.8)"/>
<ellipse cx="135.62" cy="400.03" rx="1.99" ry="1.62" fill="#3d36c0" opacity="0.79" transform="rotate(157 135.62 400.03)"/>
<ellipse cx="128.61" cy="420.84" rx="1.83" ry="1.57" fill="#2e2aa8" opacity="0.82" transform="rotate(14 128.61 420.84)"/>
<ellipse cx="134.67" cy="426" rx="1.61" ry="1.49" fill="#3d36c0" opacity="0.53" transform="rotate(130 134.67 426)"/>
<ellipse cx="110.4" cy="423.54" rx="1.56" ry="1.66" fill="#3d36c0" opacity="0.68" transform="rotate(179 110.4 423.54)"/>
<ellipse cx="116.23" cy="397.87" rx="1.73" ry="1.38" fill="#3d36c0" opacity="0.57" transform="rotate(12 116.23 397.87)"/>
<ellipse cx="111.11" cy="411.16" rx="1.58" ry="1.68" fill="#3d36c0" opacity="0.54" transform="rotate(78 111.11 411.16)"/>
<ellipse cx="120.34" cy="428.97" rx="1.55" ry="1.62" fill="#2e2aa8" opacity="0.7" transform="rotate(48 120.34 428.97)"/>
<ellipse cx="129.98" cy="429.84" rx="1.53" ry="1.54" fill="#2e2aa8" opacity="0.6" transform="rotate(52 129.98 429.84)"/>
<ellipse cx="124.33" cy="425.49" rx="1.98" ry="1.45" fill="#3d36c0" opacity="0.5" transform="rotate(161 124.33 425.49)"/>
<ellipse cx="106.79" cy="426.88" rx="1.6" ry="1.38" fill="#3d36c0" opacity="0.66" transform="rotate(98 106.79 426.88)"/>
<ellipse cx="101.76" cy="409.36" rx="1.95" ry="1.48" fill="#3d36c0" opacity="0.57" transform="rotate(121 101.76 409.36)"/>
<ellipse cx="122.42" cy="396.81" rx="1.68" ry="1.31" fill="#2e2aa8" opacity="0.64" transform="rotate(118 122.42 396.81)"/>
<ellipse cx="127.16" cy="430.09" rx="1.65" ry="1.64" fill="#3d36c0" opacity="0.53" transform="rotate(168 127.16 430.09)"/>
<ellipse cx="107.7" cy="400.6" rx="2.01" ry="1.36" fill="#2e2aa8" opacity="0.65" transform="rotate(25 107.7 400.6)"/>
<ellipse cx="111.99" cy="414.4" rx="1.95" ry="1.54" fill="#3d36c0" opacity="0.57" transform="rotate(75 111.99 414.4)"/>
<ellipse cx="129.82" cy="418.02" rx="1.57" ry="1.49" fill="#2e2aa8" opacity="0.8" transform="rotate(116 129.82 418.02)"/>
<ellipse cx="106.85" cy="432.75" rx="1.6" ry="1.65" fill="#2e2aa8" opacity="0.84" transform="rotate(148 106.85 432.75)"/>
<ellipse cx="101.38" cy="414.94" rx="1.83" ry="1.61" fill="#3d36c0" opacity="0.53" transform="rotate(126 101.38 414.94)"/>
<ellipse cx="120.38" cy="401.81" rx="1.82" ry="1.4" fill="#2e2aa8" opacity="0.6" transform="rotate(105 120.38 401.81)"/>
<ellipse cx="125.02" cy="418.55" rx="1.73" ry="1.48" fill="#3d36c0" opacity="0.7" transform="rotate(26 125.02 418.55)"/>
<ellipse cx="114.69" cy="424.09" rx="1.87" ry="1.55" fill="#3d36c0" opacity="0.61" transform="rotate(9 114.69 424.09)"/>
<ellipse cx="129.1" cy="406.33" rx="1.86" ry="1.67" fill="#3d36c0" opacity="0.73" transform="rotate(69 129.1 406.33)"/>
<ellipse cx="119.26" cy="433.05" rx="1.79" ry="1.41" fill="#5a46c8" opacity="0.63" transform="rotate(17 119.26 433.05)"/>
<ellipse cx="125.55" cy="400.59" rx="1.79" ry="1.7" fill="#2e2aa8" opacity="0.83" transform="rotate(32 125.55 400.59)"/>
<ellipse cx="104.58" cy="396.59" rx="1.94" ry="1.65" fill="#3d36c0" opacity="0.62" transform="rotate(69 104.58 396.59)"/>
</g></g>
<clipPath id="cc5"><rect x="63" y="433.06" width="36.68" height="36.63"/></clipPath>
<g clip-path="url(#cc5)"><g filter="url(#b1)">
<ellipse cx="72.58" cy="435.6" rx="1.85" ry="1.68" fill="#5a46c8" opacity="0.88" transform="rotate(97 72.58 435.6)"/>
<ellipse cx="97.85" cy="440.66" rx="2.13" ry="1.53" fill="#5a46c8" opacity="0.89" transform="rotate(24 97.85 440.66)"/>
<ellipse cx="90.45" cy="452.75" rx="1.68" ry="1.73" fill="#5a46c8" opacity="0.86" transform="rotate(68 90.45 452.75)"/>
<ellipse cx="81.67" cy="454.01" rx="1.78" ry="1.53" fill="#5a46c8" opacity="0.82" transform="rotate(112 81.67 454.01)"/>
<ellipse cx="95.85" cy="451.72" rx="2.04" ry="1.64" fill="#5a46c8" opacity="0.95" transform="rotate(151 95.85 451.72)"/>
<ellipse cx="70.49" cy="445.39" rx="1.94" ry="1.79" fill="#5a46c8" opacity="0.98" transform="rotate(99 70.49 445.39)"/>
<ellipse cx="87.75" cy="455.58" rx="1.69" ry="1.63" fill="#5a46c8" opacity="0.84" transform="rotate(106 87.75 455.58)"/>
<ellipse cx="86.32" cy="438.6" rx="2.21" ry="1.53" fill="#5a46c8" opacity="0.83" transform="rotate(41 86.32 438.6)"/>
<ellipse cx="65.36" cy="440.54" rx="2.01" ry="1.83" fill="#5a46c8" opacity="0.83" transform="rotate(168 65.36 440.54)"/>
<ellipse cx="78.83" cy="447.95" rx="1.87" ry="1.41" fill="#3d36c0" opacity="0.84" transform="rotate(40 78.83 447.95)"/>
<ellipse cx="85.51" cy="433.26" rx="2.12" ry="1.59" fill="#5a46c8" opacity="0.85" transform="rotate(27 85.51 433.26)"/>
<ellipse cx="73.92" cy="445.22" rx="1.97" ry="1.59" fill="#3d36c0" opacity="0.93" transform="rotate(19 73.92 445.22)"/>
<ellipse cx="74.71" cy="456.41" rx="1.92" ry="1.81" fill="#9a58c8" opacity="0.88" transform="rotate(74 74.71 456.41)"/>
<ellipse cx="78.68" cy="434.54" rx="1.94" ry="1.48" fill="#5a46c8" opacity="0.86" transform="rotate(138 78.68 434.54)"/>
<ellipse cx="66.32" cy="434.57" rx="1.8" ry="1.61" fill="#5a46c8" opacity="1" transform="rotate(144 66.32 434.57)"/>
<ellipse cx="70.81" cy="459.99" rx="2.22" ry="1.73" fill="#5a46c8" opacity="0.92" transform="rotate(36 70.81 459.99)"/>
<ellipse cx="85.1" cy="457.39" rx="2.08" ry="1.49" fill="#5a46c8" opacity="0.81" transform="rotate(70 85.1 457.39)"/>
<ellipse cx="64.41" cy="468.75" rx="2.14" ry="1.46" fill="#9a58c8" opacity="0.82" transform="rotate(129 64.41 468.75)"/>
<ellipse cx="81.62" cy="468.91" rx="2" ry="1.54" fill="#9a58c8" opacity="0.99" transform="rotate(155 81.62 468.91)"/>
<ellipse cx="93.42" cy="454.48" rx="1.85" ry="1.69" fill="#5a46c8" opacity="0.76" transform="rotate(74 93.42 454.48)"/>
<ellipse cx="87.73" cy="462.89" rx="1.83" ry="1.46" fill="#5a46c8" opacity="0.89" transform="rotate(170 87.73 462.89)"/>
<ellipse cx="63.06" cy="458.12" rx="1.74" ry="1.57" fill="#9a58c8" opacity="0.97" transform="rotate(142 63.06 458.12)"/>
<ellipse cx="68.82" cy="436.13" rx="2.03" ry="1.76" fill="#5a46c8" opacity="0.94" transform="rotate(56 68.82 436.13)"/>
<ellipse cx="94.42" cy="447.9" rx="2.14" ry="1.82" fill="#5a46c8" opacity="0.81" transform="rotate(162 94.42 447.9)"/>
<ellipse cx="98.17" cy="467.24" rx="2.1" ry="1.62" fill="#5a46c8" opacity="0.89" transform="rotate(105 98.17 467.24)"/>
<ellipse cx="83.29" cy="441.83" rx="2.18" ry="1.74" fill="#5a46c8" opacity="0.96" transform="rotate(11 83.29 441.83)"/>
<ellipse cx="99.23" cy="456.99" rx="1.77" ry="1.66" fill="#5a46c8" opacity="0.81" transform="rotate(97 99.23 456.99)"/>
<ellipse cx="79.01" cy="467.02" rx="2.21" ry="1.74" fill="#5a46c8" opacity="0.94" transform="rotate(66 79.01 467.02)"/>
<ellipse cx="84.3" cy="465.74" rx="1.96" ry="1.81" fill="#5a46c8" opacity="0.88" transform="rotate(112 84.3 465.74)"/>
<ellipse cx="77.43" cy="451.83" rx="1.9" ry="1.85" fill="#5a46c8" opacity="0.89" transform="rotate(96 77.43 451.83)"/>
<ellipse cx="93.5" cy="467.12" rx="1.85" ry="1.69" fill="#3d36c0" opacity="0.85" transform="rotate(122 93.5 467.12)"/>
<ellipse cx="92.05" cy="433.22" rx="2.05" ry="1.56" fill="#5a46c8" opacity="0.82" transform="rotate(46 92.05 433.22)"/>
<ellipse cx="83.73" cy="459.92" rx="2.07" ry="1.4" fill="#5a46c8" opacity="0.78" transform="rotate(127 83.73 459.92)"/>
<ellipse cx="99.47" cy="435.33" rx="2.03" ry="1.78" fill="#5a46c8" opacity="0.97" transform="rotate(159 99.47 435.33)"/>
<ellipse cx="70.05" cy="468.88" rx="1.84" ry="1.74" fill="#5a46c8" opacity="0.98" transform="rotate(6 70.05 468.88)"/>
<ellipse cx="68.43" cy="465.51" rx="1.99" ry="1.42" fill="#5a46c8" opacity="0.8" transform="rotate(139 68.43 465.51)"/>
<ellipse cx="66.01" cy="445.61" rx="1.8" ry="1.49" fill="#3d36c0" opacity="0.84" transform="rotate(166 66.01 445.61)"/>
<ellipse cx="67.87" cy="442.94" rx="1.86" ry="1.42" fill="#5a46c8" opacity="0.88" transform="rotate(129 67.87 442.94)"/>
<ellipse cx="71.52" cy="449.96" rx="2.12" ry="1.53" fill="#5a46c8" opacity="0.81" transform="rotate(37 71.52 449.96)"/>
<ellipse cx="88.97" cy="448.88" rx="2.18" ry="1.75" fill="#5a46c8" opacity="0.91" transform="rotate(11 88.97 448.88)"/>
<ellipse cx="82.89" cy="435.81" rx="1.71" ry="1.48" fill="#5a46c8" opacity="0.81" transform="rotate(46 82.89 435.81)"/>
<ellipse cx="83.23" cy="449" rx="1.78" ry="1.58" fill="#5a46c8" opacity="0.8" transform="rotate(100 83.23 449)"/>
<ellipse cx="75.27" cy="448.89" rx="1.93" ry="1.46" fill="#5a46c8" opacity="0.82" transform="rotate(52 75.27 448.89)"/>
<ellipse cx="71.39" cy="456.89" rx="2.1" ry="1.51" fill="#3d36c0" opacity="0.82" transform="rotate(136 71.39 456.89)"/>
<ellipse cx="86.68" cy="443.53" rx="1.68" ry="1.8" fill="#5a46c8" opacity="0.8" transform="rotate(151 86.68 443.53)"/>
<ellipse cx="67.21" cy="452.85" rx="1.82" ry="1.76" fill="#9a58c8" opacity="0.81" transform="rotate(66 67.21 452.85)"/>
<ellipse cx="63.29" cy="452.27" rx="2.03" ry="1.5" fill="#5a46c8" opacity="0.8" transform="rotate(104 63.29 452.27)"/>
<ellipse cx="94.63" cy="459.16" rx="2.05" ry="1.45" fill="#5a46c8" opacity="0.78" transform="rotate(170 94.63 459.16)"/>
<ellipse cx="99.62" cy="451.7" rx="2.05" ry="1.75" fill="#9a58c8" opacity="0.94" transform="rotate(55 99.62 451.7)"/>
<ellipse cx="92.15" cy="464.2" rx="2.15" ry="1.41" fill="#5a46c8" opacity="1" transform="rotate(41 92.15 464.2)"/>
<ellipse cx="79.67" cy="438.23" rx="2.01" ry="1.69" fill="#9a58c8" opacity="0.77" transform="rotate(97 79.67 438.23)"/>
<ellipse cx="66.9" cy="458.36" rx="1.79" ry="1.43" fill="#5a46c8" opacity="0.79" transform="rotate(9 66.9 458.36)"/>
<ellipse cx="79.19" cy="455.82" rx="2.03" ry="1.43" fill="#5a46c8" opacity="0.87" transform="rotate(70 79.19 455.82)"/>
<ellipse cx="75.31" cy="468.8" rx="2.2" ry="1.81" fill="#5a46c8" opacity="0.92" transform="rotate(172 75.31 468.8)"/>
<ellipse cx="63.55" cy="464.15" rx="1.72" ry="1.63" fill="#3d36c0" opacity="0.89" transform="rotate(105 63.55 464.15)"/>
<ellipse cx="96.22" cy="433.37" rx="1.75" ry="1.62" fill="#5a46c8" opacity="0.8" transform="rotate(88 96.22 433.37)"/>
<ellipse cx="95.95" cy="444.3" rx="1.97" ry="1.4" fill="#5a46c8" opacity="0.85" transform="rotate(7 95.95 444.3)"/>
<ellipse cx="90.38" cy="438.37" rx="1.69" ry="1.6" fill="#5a46c8" opacity="0.93" transform="rotate(116 90.38 438.37)"/>
</g></g>
<clipPath id="cc6"><rect x="99.68" y="433.06" width="36.68" height="36.63"/></clipPath>
<g clip-path="url(#cc6)"><g filter="url(#b1)">
<ellipse cx="129.44" cy="459.37" rx="2.24" ry="1.74" fill="#3d36c0" opacity="0.87" transform="rotate(97 129.44 459.37)"/>
<ellipse cx="112.12" cy="439.45" rx="1.81" ry="1.51" fill="#9a58c8" opacity="0.9" transform="rotate(146 112.12 439.45)"/>
<ellipse cx="105.65" cy="464.52" rx="1.77" ry="1.85" fill="#3d36c0" opacity="0.94" transform="rotate(65 105.65 464.52)"/>
<ellipse cx="131.19" cy="467.49" rx="2.19" ry="1.8" fill="#5a46c8" opacity="0.97" transform="rotate(80 131.19 467.49)"/>
<ellipse cx="119.37" cy="437.29" rx="2.06" ry="1.72" fill="#5a46c8" opacity="0.95" transform="rotate(33 119.37 437.29)"/>
<ellipse cx="123.83" cy="441.69" rx="2.19" ry="1.84" fill="#3d36c0" opacity="0.74" transform="rotate(3 123.83 441.69)"/>
<ellipse cx="132.98" cy="443.08" rx="2.01" ry="1.79" fill="#3d36c0" opacity="0.98" transform="rotate(159 132.98 443.08)"/>
<ellipse cx="127.66" cy="433.71" rx="1.79" ry="1.52" fill="#5a46c8" opacity="0.87" transform="rotate(140 127.66 433.71)"/>
<ellipse cx="122.64" cy="465.96" rx="2.16" ry="1.72" fill="#3d36c0" opacity="0.96" transform="rotate(132 122.64 465.96)"/>
<ellipse cx="116.85" cy="450.86" rx="2.12" ry="1.82" fill="#5a46c8" opacity="0.8" transform="rotate(13 116.85 450.86)"/>
<ellipse cx="134.38" cy="439.7" rx="1.82" ry="1.51" fill="#9a58c8" opacity="0.77" transform="rotate(84 134.38 439.7)"/>
<ellipse cx="103.39" cy="462.27" rx="1.89" ry="1.87" fill="#3d36c0" opacity="0.75" transform="rotate(98 103.39 462.27)"/>
<ellipse cx="127.43" cy="453.49" rx="1.72" ry="1.47" fill="#5a46c8" opacity="0.73" transform="rotate(67 127.43 453.49)"/>
<ellipse cx="123.2" cy="459.27" rx="2.24" ry="1.84" fill="#3d36c0" opacity="0.97" transform="rotate(146 123.2 459.27)"/>
<ellipse cx="124.58" cy="436.51" rx="2.27" ry="1.52" fill="#3d36c0" opacity="0.75" transform="rotate(109 124.58 436.51)"/>
<ellipse cx="107.06" cy="447.54" rx="2.16" ry="1.57" fill="#5a46c8" opacity="0.85" transform="rotate(148 107.06 447.54)"/>
<ellipse cx="126.67" cy="446.15" rx="1.77" ry="1.75" fill="#9a58c8" opacity="0.7" transform="rotate(123 126.67 446.15)"/>
<ellipse cx="112.21" cy="452.35" rx="1.83" ry="1.61" fill="#5a46c8" opacity="0.78" transform="rotate(27 112.21 452.35)"/>
<ellipse cx="108.36" cy="433.55" rx="1.89" ry="1.69" fill="#3d36c0" opacity="0.86" transform="rotate(26 108.36 433.55)"/>
<ellipse cx="100.11" cy="443.09" rx="1.97" ry="1.79" fill="#5a46c8" opacity="0.94" transform="rotate(180 100.11 443.09)"/>
<ellipse cx="120.39" cy="451.74" rx="1.92" ry="1.79" fill="#5a46c8" opacity="0.89" transform="rotate(42 120.39 451.74)"/>
<ellipse cx="110.75" cy="435.6" rx="1.91" ry="1.45" fill="#9a58c8" opacity="0.83" transform="rotate(40 110.75 435.6)"/>
<ellipse cx="100.87" cy="440.1" rx="2.16" ry="1.74" fill="#5a46c8" opacity="0.88" transform="rotate(101 100.87 440.1)"/>
<ellipse cx="120.45" cy="433.71" rx="2.1" ry="1.63" fill="#9a58c8" opacity="0.94" transform="rotate(40 120.45 433.71)"/>
<ellipse cx="133.68" cy="464.78" rx="1.86" ry="1.58" fill="#5a46c8" opacity="0.73" transform="rotate(141 133.68 464.78)"/>
<ellipse cx="101.59" cy="464.85" rx="1.94" ry="1.72" fill="#5a46c8" opacity="0.94" transform="rotate(39 101.59 464.85)"/>
<ellipse cx="123.94" cy="456.01" rx="2.15" ry="1.71" fill="#5a46c8" opacity="0.86" transform="rotate(139 123.94 456.01)"/>
<ellipse cx="115.05" cy="437.41" rx="1.81" ry="1.45" fill="#3d36c0" opacity="0.84" transform="rotate(18 115.05 437.41)"/>
<ellipse cx="129.11" cy="442.15" rx="1.73" ry="1.44" fill="#3d36c0" opacity="0.9" transform="rotate(120 129.11 442.15)"/>
<ellipse cx="107.17" cy="436.69" rx="2.09" ry="1.72" fill="#3d36c0" opacity="0.96" transform="rotate(173 107.17 436.69)"/>
<ellipse cx="123.28" cy="446.97" rx="2.15" ry="1.85" fill="#5a46c8" opacity="0.71" transform="rotate(69 123.28 446.97)"/>
<ellipse cx="134.21" cy="433.83" rx="2.19" ry="1.84" fill="#5a46c8" opacity="0.73" transform="rotate(73 134.21 433.83)"/>
<ellipse cx="112.36" cy="448.59" rx="1.94" ry="1.64" fill="#3d36c0" opacity="0.85" transform="rotate(134 112.36 448.59)"/>
<ellipse cx="112.72" cy="456.48" rx="1.74" ry="1.57" fill="#3d36c0" opacity="0.86" transform="rotate(69 112.72 456.48)"/>
<ellipse cx="132.74" cy="448.13" rx="2" ry="1.45" fill="#5a46c8" opacity="0.94" transform="rotate(7 132.74 448.13)"/>
<ellipse cx="130.17" cy="436.49" rx="2.27" ry="1.58" fill="#5a46c8" opacity="0.86" transform="rotate(107 130.17 436.49)"/>
<ellipse cx="125.52" cy="450.91" rx="1.74" ry="1.55" fill="#3d36c0" opacity="0.9" transform="rotate(143 125.52 450.91)"/>
<ellipse cx="100.47" cy="454.75" rx="2.23" ry="1.81" fill="#3d36c0" opacity="0.95" transform="rotate(140 100.47 454.75)"/>
<ellipse cx="101.98" cy="436.87" rx="2.12" ry="1.76" fill="#3d36c0" opacity="0.77" transform="rotate(27 101.98 436.87)"/>
<ellipse cx="103.87" cy="458.32" rx="1.77" ry="1.66" fill="#3d36c0" opacity="0.99" transform="rotate(116 103.87 458.32)"/>
<ellipse cx="118.12" cy="445.05" rx="1.79" ry="1.6" fill="#5a46c8" opacity="0.72" transform="rotate(37 118.12 445.05)"/>
<ellipse cx="129.24" cy="463.43" rx="1.95" ry="1.76" fill="#5a46c8" opacity="0.91" transform="rotate(102 129.24 463.43)"/>
<ellipse cx="127.16" cy="467.91" rx="2.11" ry="1.68" fill="#9a58c8" opacity="0.88" transform="rotate(121 127.16 467.91)"/>
<ellipse cx="134.97" cy="460.04" rx="1.79" ry="1.62" fill="#5a46c8" opacity="0.79" transform="rotate(46 134.97 460.04)"/>
<ellipse cx="131.99" cy="456.57" rx="1.98" ry="1.66" fill="#3d36c0" opacity="0.8" transform="rotate(141 131.99 456.57)"/>
<ellipse cx="123.55" cy="469.14" rx="1.83" ry="1.85" fill="#3d36c0" opacity="0.88" transform="rotate(57 123.55 469.14)"/>
<ellipse cx="109.04" cy="457.52" rx="1.76" ry="1.67" fill="#5a46c8" opacity="0.82" transform="rotate(136 109.04 457.52)"/>
<ellipse cx="114.06" cy="434.04" rx="2.22" ry="1.46" fill="#5a46c8" opacity="0.93" transform="rotate(112 114.06 434.04)"/>
<ellipse cx="100.2" cy="459.96" rx="2.05" ry="1.83" fill="#9a58c8" opacity="0.73" transform="rotate(137 100.2 459.96)"/>
<ellipse cx="113.23" cy="445.53" rx="1.73" ry="1.49" fill="#5a46c8" opacity="0.85" transform="rotate(125 113.23 445.53)"/>
<ellipse cx="105.76" cy="455.52" rx="2.06" ry="1.77" fill="#5a46c8" opacity="0.82" transform="rotate(57 105.76 455.52)"/>
<ellipse cx="105.2" cy="450.27" rx="1.97" ry="1.79" fill="#3d36c0" opacity="0.83" transform="rotate(165 105.2 450.27)"/>
<ellipse cx="103.72" cy="433.53" rx="2.05" ry="1.58" fill="#5a46c8" opacity="0.97" transform="rotate(98 103.72 433.53)"/>
<ellipse cx="104.57" cy="444.46" rx="2.1" ry="1.67" fill="#5a46c8" opacity="1" transform="rotate(12 104.57 444.46)"/>
</g></g>
<clipPath id="cc7"><rect x="149.3" y="359.8" width="36.68" height="36.63"/></clipPath>
<g clip-path="url(#cc7)"><g filter="url(#b1)">
<ellipse cx="178.96" cy="376.61" rx="1.89" ry="2.03" fill="#5a46c8" opacity="0.89" transform="rotate(116 178.96 376.61)"/>
<ellipse cx="165.97" cy="377.06" rx="2.01" ry="1.92" fill="#8a4cc0" opacity="0.95" transform="rotate(167 165.97 377.06)"/>
<ellipse cx="166.17" cy="377.26" rx="1.24" ry="1.19" fill="#f09060" opacity="0.95" transform="rotate(167 165.97 377.06)"/>
<ellipse cx="162.5" cy="389.23" rx="1.88" ry="1.97" fill="#5a46c8" opacity="0.85" transform="rotate(150 162.5 389.23)"/>
<ellipse cx="173.13" cy="392.65" rx="2.07" ry="1.63" fill="#5a46c8" opacity="0.97" transform="rotate(132 173.13 392.65)"/>
<ellipse cx="185.43" cy="370.16" rx="2.29" ry="1.87" fill="#5a46c8" opacity="1" transform="rotate(151 185.43 370.16)"/>
<ellipse cx="179.19" cy="361.91" rx="2.25" ry="1.61" fill="#8a4cc0" opacity="0.95" transform="rotate(41 179.19 361.91)"/>
<ellipse cx="179.39" cy="362.11" rx="1.39" ry="1" fill="#c050b0" opacity="0.95" transform="rotate(41 179.19 361.91)"/>
<ellipse cx="159.93" cy="391.54" rx="1.98" ry="1.93" fill="#8a4cc0" opacity="0.95" transform="rotate(97 159.93 391.54)"/>
<ellipse cx="160.13" cy="391.74" rx="1.23" ry="1.2" fill="#c050b0" opacity="0.95" transform="rotate(97 159.93 391.54)"/>
<ellipse cx="184.85" cy="375.24" rx="2.02" ry="1.66" fill="#5a46c8" opacity="0.8" transform="rotate(4 184.85 375.24)"/>
<ellipse cx="183.42" cy="384.05" rx="2.29" ry="1.61" fill="#8a4cc0" opacity="0.95" transform="rotate(168 183.42 384.05)"/>
<ellipse cx="183.62" cy="384.25" rx="1.42" ry="1" fill="#e0609a" opacity="0.95" transform="rotate(168 183.42 384.05)"/>
<ellipse cx="181.86" cy="378.57" rx="1.94" ry="2.01" fill="#5a46c8" opacity="0.95" transform="rotate(40 181.86 378.57)"/>
<ellipse cx="177.54" cy="387.63" rx="2.35" ry="1.71" fill="#5a46c8" opacity="0.95" transform="rotate(140 177.54 387.63)"/>
<ellipse cx="171.64" cy="396.11" rx="1.98" ry="1.64" fill="#8a4cc0" opacity="0.95" transform="rotate(21 171.64 396.11)"/>
<ellipse cx="171.84" cy="396.31" rx="1.23" ry="1.01" fill="#c050b0" opacity="0.95" transform="rotate(21 171.64 396.11)"/>
<ellipse cx="157.12" cy="376.72" rx="2.21" ry="1.67" fill="#8a4cc0" opacity="0.95" transform="rotate(13 157.12 376.72)"/>
<ellipse cx="157.32" cy="376.92" rx="1.37" ry="1.03" fill="#e0609a" opacity="0.95" transform="rotate(13 157.12 376.72)"/>
<ellipse cx="154.33" cy="360.42" rx="2.39" ry="1.66" fill="#5a46c8" opacity="0.89" transform="rotate(59 154.33 360.42)"/>
<ellipse cx="166.9" cy="386.97" rx="2.24" ry="1.97" fill="#5a46c8" opacity="0.81" transform="rotate(38 166.9 386.97)"/>
<ellipse cx="171.48" cy="389.05" rx="2.36" ry="1.67" fill="#5a46c8" opacity="0.83" transform="rotate(28 171.48 389.05)"/>
<ellipse cx="152.3" cy="393.88" rx="1.94" ry="1.79" fill="#8a4cc0" opacity="0.95" transform="rotate(23 152.3 393.88)"/>
<ellipse cx="152.5" cy="394.08" rx="1.21" ry="1.11" fill="#e0609a" opacity="0.95" transform="rotate(23 152.3 393.88)"/>
<ellipse cx="164.07" cy="383.96" rx="1.97" ry="2.04" fill="#8a4cc0" opacity="0.95" transform="rotate(64 164.07 383.96)"/>
<ellipse cx="164.27" cy="384.16" rx="1.22" ry="1.26" fill="#e0609a" opacity="0.95" transform="rotate(64 164.07 383.96)"/>
<ellipse cx="175.07" cy="367.51" rx="2.43" ry="1.87" fill="#8a4cc0" opacity="0.95" transform="rotate(180 175.07 367.51)"/>
<ellipse cx="175.27" cy="367.71" rx="1.51" ry="1.16" fill="#f09060" opacity="0.95" transform="rotate(180 175.07 367.51)"/>
<ellipse cx="185.31" cy="381.31" rx="2.1" ry="2" fill="#8a4cc0" opacity="0.95" transform="rotate(37 185.31 381.31)"/>
<ellipse cx="185.51" cy="381.51" rx="1.3" ry="1.24" fill="#c050b0" opacity="0.95" transform="rotate(37 185.31 381.31)"/>
<ellipse cx="180.92" cy="371.58" rx="2.04" ry="1.61" fill="#8a4cc0" opacity="0.95" transform="rotate(140 180.92 371.58)"/>
<ellipse cx="181.12" cy="371.78" rx="1.26" ry="1" fill="#c050b0" opacity="0.95" transform="rotate(140 180.92 371.58)"/>
<ellipse cx="184.57" cy="391.74" rx="2.43" ry="1.55" fill="#5a46c8" opacity="0.87" transform="rotate(43 184.57 391.74)"/>
<ellipse cx="156.6" cy="367.87" rx="2.03" ry="1.9" fill="#8a4cc0" opacity="0.95" transform="rotate(40 156.6 367.87)"/>
<ellipse cx="156.8" cy="368.07" rx="1.26" ry="1.18" fill="#c050b0" opacity="0.95" transform="rotate(40 156.6 367.87)"/>
<ellipse cx="177.14" cy="391.99" rx="1.89" ry="1.58" fill="#8a4cc0" opacity="0.95" transform="rotate(105 177.14 391.99)"/>
<ellipse cx="177.34" cy="392.19" rx="1.17" ry="0.98" fill="#e0609a" opacity="0.95" transform="rotate(105 177.14 391.99)"/>
</g></g>
<clipPath id="cc8"><rect x="185.98" y="359.8" width="36.68" height="36.63"/></clipPath>
<g clip-path="url(#cc8)"><g filter="url(#b1)">
<ellipse cx="191.17" cy="379.63" rx="2.45" ry="2.03" fill="#2e2aa8" opacity="0.78" transform="rotate(66 191.17 379.63)"/>
<ellipse cx="216.37" cy="362.33" rx="2.26" ry="1.62" fill="#2e2aa8" opacity="0.76" transform="rotate(87 216.37 362.33)"/>
<ellipse cx="210.34" cy="390.41" rx="2.4" ry="1.98" fill="#2e2aa8" opacity="0.63" transform="rotate(12 210.34 390.41)"/>
<ellipse cx="200.19" cy="373.75" rx="2.17" ry="1.8" fill="#3d36c0" opacity="0.62" transform="rotate(61 200.19 373.75)"/>
<ellipse cx="204.61" cy="370.25" rx="2.12" ry="1.82" fill="#2e2aa8" opacity="0.65" transform="rotate(137 204.61 370.25)"/>
<ellipse cx="200.5" cy="361.52" rx="2.28" ry="2.06" fill="#2e2aa8" opacity="0.61" transform="rotate(158 200.5 361.52)"/>
<ellipse cx="195.91" cy="370.91" rx="2.04" ry="1.9" fill="#2e2aa8" opacity="0.56" transform="rotate(119 195.91 370.91)"/>
<ellipse cx="216.1" cy="368.32" rx="1.92" ry="1.73" fill="#2e2aa8" opacity="0.51" transform="rotate(98 216.1 368.32)"/>
<ellipse cx="213.43" cy="373.5" rx="2.41" ry="1.61" fill="#2e2aa8" opacity="0.7" transform="rotate(96 213.43 373.5)"/>
<ellipse cx="191.14" cy="370.15" rx="2.51" ry="1.79" fill="#3d36c0" opacity="0.67" transform="rotate(178 191.14 370.15)"/>
<ellipse cx="194.36" cy="392.3" rx="1.99" ry="1.73" fill="#2e2aa8" opacity="0.69" transform="rotate(160 194.36 392.3)"/>
<ellipse cx="203.14" cy="365.94" rx="1.96" ry="2.04" fill="#2e2aa8" opacity="0.78" transform="rotate(60 203.14 365.94)"/>
<ellipse cx="199.78" cy="396.28" rx="2.32" ry="1.8" fill="#3d36c0" opacity="0.63" transform="rotate(179 199.78 396.28)"/>
<ellipse cx="185.99" cy="381.45" rx="1.91" ry="1.9" fill="#2e2aa8" opacity="0.63" transform="rotate(176 185.99 381.45)"/>
<ellipse cx="191.72" cy="394.94" rx="2.23" ry="1.91" fill="#2e2aa8" opacity="0.62" transform="rotate(122 191.72 394.94)"/>
<ellipse cx="192.43" cy="386.25" rx="2.41" ry="1.78" fill="#2e2aa8" opacity="0.54" transform="rotate(80 192.43 386.25)"/>
<ellipse cx="199.66" cy="384.1" rx="2.15" ry="2.07" fill="#2e2aa8" opacity="0.6" transform="rotate(3 199.66 384.1)"/>
<ellipse cx="187.15" cy="388.61" rx="2.32" ry="1.79" fill="#3d36c0" opacity="0.66" transform="rotate(68 187.15 388.61)"/>
<ellipse cx="219.17" cy="393.38" rx="2.48" ry="1.8" fill="#2e2aa8" opacity="0.64" transform="rotate(83 219.17 393.38)"/>
<ellipse cx="216.62" cy="378.66" rx="2.13" ry="1.66" fill="#3d36c0" opacity="0.55" transform="rotate(91 216.62 378.66)"/>
<ellipse cx="221.21" cy="376.72" rx="2.37" ry="2.01" fill="#2e2aa8" opacity="0.71" transform="rotate(171 221.21 376.72)"/>
<ellipse cx="208.73" cy="379.89" rx="2.04" ry="2.01" fill="#2e2aa8" opacity="0.6" transform="rotate(174 208.73 379.89)"/>
<ellipse cx="191.75" cy="375.01" rx="2.09" ry="1.62" fill="#2e2aa8" opacity="0.57" transform="rotate(172 191.75 375.01)"/>
<ellipse cx="222.09" cy="390.81" rx="2.26" ry="2.07" fill="#2e2aa8" opacity="0.58" transform="rotate(138 222.09 390.81)"/>
<ellipse cx="187.06" cy="372.35" rx="2.29" ry="1.75" fill="#3d36c0" opacity="0.58" transform="rotate(169 187.06 372.35)"/>
<ellipse cx="220" cy="368.95" rx="1.97" ry="1.58" fill="#3d36c0" opacity="0.54" transform="rotate(147 220 368.95)"/>
<ellipse cx="220.32" cy="384.83" rx="2.04" ry="1.69" fill="#2e2aa8" opacity="0.7" transform="rotate(17 220.32 384.83)"/>
<ellipse cx="190.54" cy="363.18" rx="1.95" ry="1.88" fill="#2e2aa8" opacity="0.54" transform="rotate(20 190.54 363.18)"/>
<ellipse cx="205.93" cy="392.26" rx="2.44" ry="1.96" fill="#2e2aa8" opacity="0.72" transform="rotate(38 205.93 392.26)"/>
<ellipse cx="204.6" cy="375.11" rx="1.92" ry="2.1" fill="#2e2aa8" opacity="0.75" transform="rotate(147 204.6 375.11)"/>
</g></g>
<clipPath id="cc9"><rect x="222.66" y="359.8" width="36.68" height="36.63"/></clipPath>
<g clip-path="url(#cc9)"><g filter="url(#b1)">
<ellipse cx="248.97" cy="369.31" rx="2.01" ry="1.72" fill="#262290" opacity="0.54" transform="rotate(170 248.97 369.31)"/>
<ellipse cx="228.6" cy="383.54" rx="1.84" ry="1.68" fill="#2e2aa8" opacity="0.58" transform="rotate(4 228.6 383.54)"/>
<ellipse cx="248.45" cy="390.22" rx="2.01" ry="1.96" fill="#2e2aa8" opacity="0.56" transform="rotate(136 248.45 390.22)"/>
<ellipse cx="244.06" cy="380.62" rx="1.91" ry="1.61" fill="#262290" opacity="0.42" transform="rotate(161 244.06 380.62)"/>
<ellipse cx="251.76" cy="384.68" rx="2.25" ry="1.54" fill="#2e2aa8" opacity="0.5" transform="rotate(23 251.76 384.68)"/>
<ellipse cx="241.75" cy="375.42" rx="2.08" ry="1.57" fill="#262290" opacity="0.45" transform="rotate(148 241.75 375.42)"/>
<ellipse cx="240.26" cy="379.41" rx="2.36" ry="1.68" fill="#262290" opacity="0.45" transform="rotate(100 240.26 379.41)"/>
<ellipse cx="237.74" cy="393.7" rx="1.96" ry="1.95" fill="#2e2aa8" opacity="0.59" transform="rotate(40 237.74 393.7)"/>
<ellipse cx="233.08" cy="372.45" rx="2.23" ry="1.68" fill="#262290" opacity="0.57" transform="rotate(179 233.08 372.45)"/>
<ellipse cx="225.76" cy="361.11" rx="1.98" ry="1.58" fill="#262290" opacity="0.59" transform="rotate(61 225.76 361.11)"/>
<ellipse cx="231" cy="386.6" rx="1.97" ry="2" fill="#262290" opacity="0.46" transform="rotate(111 231 386.6)"/>
<ellipse cx="255.32" cy="383.7" rx="2.33" ry="1.57" fill="#2e2aa8" opacity="0.49" transform="rotate(135 255.32 383.7)"/>
<ellipse cx="252.9" cy="367.87" rx="2.32" ry="1.82" fill="#262290" opacity="0.44" transform="rotate(163 252.9 367.87)"/>
<ellipse cx="225.01" cy="395.24" rx="1.87" ry="1.95" fill="#262290" opacity="0.64" transform="rotate(99 225.01 395.24)"/>
<ellipse cx="229.52" cy="373.01" rx="1.8" ry="1.84" fill="#2e2aa8" opacity="0.49" transform="rotate(82 229.52 373.01)"/>
<ellipse cx="223.4" cy="387.21" rx="2.36" ry="1.59" fill="#262290" opacity="0.56" transform="rotate(162 223.4 387.21)"/>
<ellipse cx="258.63" cy="393.93" rx="1.95" ry="1.68" fill="#2e2aa8" opacity="0.48" transform="rotate(134 258.63 393.93)"/>
<ellipse cx="230.75" cy="368.94" rx="2.15" ry="1.72" fill="#2e2aa8" opacity="0.47" transform="rotate(168 230.75 368.94)"/>
<ellipse cx="235.77" cy="391.13" rx="2.24" ry="1.76" fill="#2e2aa8" opacity="0.6" transform="rotate(119 235.77 391.13)"/>
<ellipse cx="253.14" cy="377.73" rx="1.91" ry="1.94" fill="#2e2aa8" opacity="0.49" transform="rotate(171 253.14 377.73)"/>
<ellipse cx="234.72" cy="362.5" rx="2.4" ry="1.59" fill="#2e2aa8" opacity="0.56" transform="rotate(21 234.72 362.5)"/>
<ellipse cx="234.55" cy="380.56" rx="2.23" ry="1.55" fill="#2e2aa8" opacity="0.43" transform="rotate(108 234.55 380.56)"/>
<ellipse cx="236.67" cy="386.17" rx="2.4" ry="1.98" fill="#2e2aa8" opacity="0.47" transform="rotate(9 236.67 386.17)"/>
<ellipse cx="256.06" cy="389.89" rx="2.13" ry="1.82" fill="#262290" opacity="0.45" transform="rotate(136 256.06 389.89)"/>
<ellipse cx="227.71" cy="389.98" rx="1.97" ry="1.63" fill="#262290" opacity="0.56" transform="rotate(168 227.71 389.98)"/>
<ellipse cx="247.65" cy="394.42" rx="1.98" ry="1.87" fill="#262290" opacity="0.55" transform="rotate(24 247.65 394.42)"/>
<ellipse cx="255.21" cy="361.72" rx="2.09" ry="1.57" fill="#2e2aa8" opacity="0.62" transform="rotate(115 255.21 361.72)"/>
<ellipse cx="241.65" cy="369.39" rx="2.08" ry="1.62" fill="#262290" opacity="0.54" transform="rotate(97 241.65 369.39)"/>
<ellipse cx="239.29" cy="390.88" rx="1.97" ry="1.78" fill="#2e2aa8" opacity="0.46" transform="rotate(15 239.29 390.88)"/>
<ellipse cx="250.02" cy="374.29" rx="2.35" ry="1.92" fill="#2e2aa8" opacity="0.45" transform="rotate(174 250.02 374.29)"/>
</g></g>
<clipPath id="cc10"><rect x="149.3" y="396.43" width="36.68" height="36.63"/></clipPath>
<g clip-path="url(#cc10)"><g filter="url(#b1)">
<ellipse cx="172.69" cy="419.9" rx="2.31" ry="2.12" fill="#5a46c8" opacity="0.83" transform="rotate(154 172.69 419.9)"/>
<ellipse cx="158.85" cy="421.71" rx="2.12" ry="1.81" fill="#5a46c8" opacity="0.81" transform="rotate(38 158.85 421.71)"/>
<ellipse cx="159.64" cy="414.8" rx="2.47" ry="1.82" fill="#5a46c8" opacity="0.96" transform="rotate(177 159.64 414.8)"/>
<ellipse cx="174.52" cy="398.05" rx="2.49" ry="2.13" fill="#3d36c0" opacity="0.91" transform="rotate(126 174.52 398.05)"/>
<ellipse cx="178.84" cy="403.71" rx="2.21" ry="1.75" fill="#5a46c8" opacity="0.96" transform="rotate(62 178.84 403.71)"/>
<ellipse cx="176.08" cy="427.79" rx="2.68" ry="1.92" fill="#5a46c8" opacity="0.83" transform="rotate(131 176.08 427.79)"/>
<ellipse cx="172.31" cy="432.75" rx="2.47" ry="1.87" fill="#5a46c8" opacity="0.89" transform="rotate(114 172.31 432.75)"/>
<ellipse cx="151.59" cy="419.64" rx="2.07" ry="2.23" fill="#5a46c8" opacity="0.76" transform="rotate(94 151.59 419.64)"/>
<ellipse cx="172.07" cy="405.69" rx="2.66" ry="2.26" fill="#3d36c0" opacity="0.8" transform="rotate(142 172.07 405.69)"/>
<ellipse cx="184.96" cy="401.22" rx="2.34" ry="2.19" fill="#9a58c8" opacity="0.89" transform="rotate(160 184.96 401.22)"/>
<ellipse cx="152.13" cy="424.97" rx="2.4" ry="1.75" fill="#5a46c8" opacity="0.86" transform="rotate(63 152.13 424.97)"/>
<ellipse cx="168.44" cy="416.54" rx="2.69" ry="1.91" fill="#3d36c0" opacity="0.93" transform="rotate(27 168.44 416.54)"/>
<ellipse cx="185.58" cy="413.53" rx="2.44" ry="2.06" fill="#5a46c8" opacity="0.97" transform="rotate(76 185.58 413.53)"/>
<ellipse cx="171.08" cy="411.23" rx="2.08" ry="2.26" fill="#3d36c0" opacity="0.9" transform="rotate(68 171.08 411.23)"/>
<ellipse cx="166.63" cy="428.41" rx="2.26" ry="2.3" fill="#5a46c8" opacity="0.85" transform="rotate(167 166.63 428.41)"/>
<ellipse cx="149.87" cy="414.1" rx="2.6" ry="2.02" fill="#5a46c8" opacity="0.77" transform="rotate(5 149.87 414.1)"/>
<ellipse cx="162.99" cy="405.98" rx="2.27" ry="1.96" fill="#5a46c8" opacity="0.95" transform="rotate(105 162.99 405.98)"/>
<ellipse cx="153.4" cy="429.15" rx="2.68" ry="1.99" fill="#3d36c0" opacity="0.93" transform="rotate(172 153.4 429.15)"/>
<ellipse cx="170.18" cy="425.64" rx="2.31" ry="2.19" fill="#5a46c8" opacity="0.98" transform="rotate(44 170.18 425.64)"/>
<ellipse cx="161.79" cy="418.24" rx="2.21" ry="1.97" fill="#3d36c0" opacity="0.8" transform="rotate(169 161.79 418.24)"/>
</g></g>
<clipPath id="cc11"><rect x="185.98" y="396.43" width="36.68" height="36.63"/></clipPath>
<g clip-path="url(#cc11)"><g filter="url(#b1)">
<ellipse cx="197.61" cy="422.76" rx="1.91" ry="1.95" fill="#2e2aa8" opacity="0.74" transform="rotate(132 197.61 422.76)"/>
<ellipse cx="220" cy="417.36" rx="1.94" ry="1.96" fill="#2e2aa8" opacity="0.64" transform="rotate(154 220 417.36)"/>
<ellipse cx="214.9" cy="432.53" rx="1.99" ry="1.86" fill="#2e2aa8" opacity="0.56" transform="rotate(143 214.9 432.53)"/>
<ellipse cx="198.57" cy="430.12" rx="2.24" ry="1.7" fill="#2e2aa8" opacity="0.73" transform="rotate(59 198.57 430.12)"/>
<ellipse cx="218.66" cy="396.97" rx="2.14" ry="2" fill="#2e2aa8" opacity="0.72" transform="rotate(97 218.66 396.97)"/>
<ellipse cx="217.91" cy="413.55" rx="2.03" ry="1.54" fill="#2e2aa8" opacity="0.73" transform="rotate(23 217.91 413.55)"/>
<ellipse cx="218.08" cy="424.47" rx="1.91" ry="1.93" fill="#2e2aa8" opacity="0.71" transform="rotate(66 218.08 424.47)"/>
<ellipse cx="202.44" cy="424.1" rx="1.84" ry="1.83" fill="#2e2aa8" opacity="0.66" transform="rotate(61 202.44 424.1)"/>
<ellipse cx="210.07" cy="419.03" rx="2.21" ry="1.72" fill="#3d36c0" opacity="0.5" transform="rotate(90 210.07 419.03)"/>
<ellipse cx="203.8" cy="432.29" rx="2.29" ry="1.88" fill="#2e2aa8" opacity="0.56" transform="rotate(96 203.8 432.29)"/>
<ellipse cx="209.34" cy="423.44" rx="1.99" ry="1.58" fill="#3d36c0" opacity="0.47" transform="rotate(131 209.34 423.44)"/>
<ellipse cx="193.41" cy="422.81" rx="1.88" ry="1.84" fill="#2e2aa8" opacity="0.6" transform="rotate(50 193.41 422.81)"/>
<ellipse cx="200.59" cy="409.64" rx="2.02" ry="1.66" fill="#2e2aa8" opacity="0.52" transform="rotate(179 200.59 409.64)"/>
<ellipse cx="214.19" cy="418.25" rx="1.99" ry="1.99" fill="#2e2aa8" opacity="0.45" transform="rotate(120 214.19 418.25)"/>
<ellipse cx="192.68" cy="411.91" rx="2.08" ry="1.84" fill="#2e2aa8" opacity="0.63" transform="rotate(39 192.68 411.91)"/>
<ellipse cx="207.55" cy="399.96" rx="2.35" ry="1.87" fill="#2e2aa8" opacity="0.72" transform="rotate(158 207.55 399.96)"/>
<ellipse cx="213.46" cy="425.77" rx="2.15" ry="1.84" fill="#3d36c0" opacity="0.65" transform="rotate(68 213.46 425.77)"/>
<ellipse cx="205.73" cy="414.41" rx="2.27" ry="1.82" fill="#2e2aa8" opacity="0.55" transform="rotate(107 205.73 414.41)"/>
<ellipse cx="211.2" cy="407.85" rx="1.89" ry="1.8" fill="#3d36c0" opacity="0.68" transform="rotate(98 211.2 407.85)"/>
<ellipse cx="210.43" cy="429.74" rx="2.15" ry="1.91" fill="#3d36c0" opacity="0.69" transform="rotate(136 210.43 429.74)"/>
<ellipse cx="213.94" cy="397.69" rx="2.04" ry="1.76" fill="#2e2aa8" opacity="0.45" transform="rotate(158 213.94 397.69)"/>
<ellipse cx="189.47" cy="407.94" rx="2.36" ry="1.87" fill="#2e2aa8" opacity="0.6" transform="rotate(86 189.47 407.94)"/>
<ellipse cx="195.8" cy="419.4" rx="2.18" ry="1.7" fill="#2e2aa8" opacity="0.53" transform="rotate(158 195.8 419.4)"/>
<ellipse cx="214.23" cy="413.8" rx="2.21" ry="1.88" fill="#2e2aa8" opacity="0.63" transform="rotate(116 214.23 413.8)"/>
<ellipse cx="206.13" cy="409.56" rx="1.99" ry="1.71" fill="#2e2aa8" opacity="0.5" transform="rotate(175 206.13 409.56)"/>
<ellipse cx="210.86" cy="401.38" rx="2.06" ry="1.91" fill="#3d36c0" opacity="0.49" transform="rotate(20 210.86 401.38)"/>
<ellipse cx="186.04" cy="425.72" rx="2.4" ry="1.6" fill="#2e2aa8" opacity="0.58" transform="rotate(75 186.04 425.72)"/>
<ellipse cx="220.23" cy="429.46" rx="1.98" ry="1.94" fill="#2e2aa8" opacity="0.54" transform="rotate(83 220.23 429.46)"/>
<ellipse cx="187.36" cy="418.96" rx="2.31" ry="1.71" fill="#2e2aa8" opacity="0.5" transform="rotate(150 187.36 418.96)"/>
<ellipse cx="195.6" cy="432.26" rx="2.29" ry="1.64" fill="#3d36c0" opacity="0.7" transform="rotate(35 195.6 432.26)"/>
<ellipse cx="219.7" cy="400.55" rx="2.1" ry="1.5" fill="#2e2aa8" opacity="0.46" transform="rotate(165 219.7 400.55)"/>
<ellipse cx="202.83" cy="428.66" rx="2.12" ry="1.66" fill="#3d36c0" opacity="0.55" transform="rotate(125 202.83 428.66)"/>
<ellipse cx="204.67" cy="418.3" rx="1.82" ry="1.93" fill="#2e2aa8" opacity="0.68" transform="rotate(7 204.67 418.3)"/>
<ellipse cx="220.02" cy="409.03" rx="1.87" ry="1.65" fill="#2e2aa8" opacity="0.58" transform="rotate(128 220.02 409.03)"/>
</g></g>
<clipPath id="cc12"><rect x="222.66" y="396.43" width="36.68" height="36.63"/></clipPath>
<g clip-path="url(#cc12)"><g filter="url(#b1)">
<ellipse cx="223.42" cy="406.06" rx="2.1" ry="1.8" fill="#2e2aa8" opacity="0.65" transform="rotate(53 223.42 406.06)"/>
<ellipse cx="255.4" cy="411.62" rx="1.95" ry="1.68" fill="#3d36c0" opacity="0.59" transform="rotate(63 255.4 411.62)"/>
<ellipse cx="250.65" cy="398.14" rx="2.09" ry="1.5" fill="#2e2aa8" opacity="0.62" transform="rotate(177 250.65 398.14)"/>
<ellipse cx="233.38" cy="401.01" rx="2.07" ry="1.5" fill="#3d36c0" opacity="0.76" transform="rotate(101 233.38 401.01)"/>
<ellipse cx="258.64" cy="404.1" rx="1.74" ry="1.37" fill="#2e2aa8" opacity="0.79" transform="rotate(180 258.64 404.1)"/>
<ellipse cx="242.24" cy="431.88" rx="2.15" ry="1.68" fill="#2e2aa8" opacity="0.53" transform="rotate(179 242.24 431.88)"/>
<ellipse cx="236.37" cy="397.37" rx="2.11" ry="1.46" fill="#3d36c0" opacity="0.55" transform="rotate(53 236.37 397.37)"/>
<ellipse cx="234.87" cy="404.26" rx="1.67" ry="1.41" fill="#2e2aa8" opacity="0.72" transform="rotate(75 234.87 404.26)"/>
<ellipse cx="231.12" cy="413.37" rx="1.71" ry="1.37" fill="#3d36c0" opacity="0.65" transform="rotate(91 231.12 413.37)"/>
<ellipse cx="242.37" cy="424.79" rx="1.96" ry="1.62" fill="#3d36c0" opacity="0.69" transform="rotate(37 242.37 424.79)"/>
<ellipse cx="240.21" cy="413.18" rx="2.11" ry="1.35" fill="#3d36c0" opacity="0.53" transform="rotate(109 240.21 413.18)"/>
<ellipse cx="252.75" cy="404.31" rx="1.96" ry="1.42" fill="#2e2aa8" opacity="0.74" transform="rotate(76 252.75 404.31)"/>
<ellipse cx="240.14" cy="417.91" rx="2.04" ry="1.41" fill="#2e2aa8" opacity="0.63" transform="rotate(149 240.14 417.91)"/>
<ellipse cx="227.73" cy="425.52" rx="1.83" ry="1.62" fill="#2e2aa8" opacity="0.79" transform="rotate(74 227.73 425.52)"/>
<ellipse cx="244.59" cy="397.96" rx="1.99" ry="1.56" fill="#2e2aa8" opacity="0.71" transform="rotate(149 244.59 397.96)"/>
<ellipse cx="254.06" cy="407.62" rx="1.62" ry="1.5" fill="#2e2aa8" opacity="0.51" transform="rotate(50 254.06 407.62)"/>
<ellipse cx="252.95" cy="425.61" rx="1.67" ry="1.55" fill="#2e2aa8" opacity="0.62" transform="rotate(72 252.95 425.61)"/>
<ellipse cx="241.2" cy="407.13" rx="1.84" ry="1.53" fill="#2e2aa8" opacity="0.76" transform="rotate(1 241.2 407.13)"/>
<ellipse cx="243.32" cy="410.74" rx="2.11" ry="1.62" fill="#2e2aa8" opacity="0.52" transform="rotate(158 243.32 410.74)"/>
<ellipse cx="250.94" cy="416.89" rx="1.91" ry="1.6" fill="#2e2aa8" opacity="0.71" transform="rotate(163 250.94 416.89)"/>
<ellipse cx="234.26" cy="415.3" rx="1.91" ry="1.76" fill="#2e2aa8" opacity="0.65" transform="rotate(134 234.26 415.3)"/>
<ellipse cx="225.66" cy="402.79" rx="2.11" ry="1.51" fill="#2e2aa8" opacity="0.8" transform="rotate(91 225.66 402.79)"/>
<ellipse cx="248.81" cy="420.92" rx="2.03" ry="1.7" fill="#2e2aa8" opacity="0.76" transform="rotate(158 248.81 420.92)"/>
<ellipse cx="224.83" cy="420.9" rx="1.88" ry="1.62" fill="#2e2aa8" opacity="0.57" transform="rotate(132 224.83 420.9)"/>
<ellipse cx="245.46" cy="416.93" rx="1.95" ry="1.7" fill="#2e2aa8" opacity="0.57" transform="rotate(84 245.46 416.93)"/>
<ellipse cx="258.81" cy="407.15" rx="1.68" ry="1.54" fill="#3d36c0" opacity="0.56" transform="rotate(72 258.81 407.15)"/>
<ellipse cx="258.59" cy="422.62" rx="2.02" ry="1.62" fill="#2e2aa8" opacity="0.77" transform="rotate(55 258.59 422.62)"/>
<ellipse cx="229.21" cy="402.85" rx="2.04" ry="1.53" fill="#3d36c0" opacity="0.79" transform="rotate(162 229.21 402.85)"/>
<ellipse cx="232.87" cy="424.86" rx="1.86" ry="1.42" fill="#3d36c0" opacity="0.78" transform="rotate(18 232.87 424.86)"/>
<ellipse cx="256.37" cy="415.48" rx="1.81" ry="1.37" fill="#3d36c0" opacity="0.51" transform="rotate(164 256.37 415.48)"/>
<ellipse cx="228.26" cy="397.2" rx="2" ry="1.57" fill="#2e2aa8" opacity="0.77" transform="rotate(163 228.26 397.2)"/>
<ellipse cx="252.66" cy="431.76" rx="1.85" ry="1.65" fill="#2e2aa8" opacity="0.8" transform="rotate(39 252.66 431.76)"/>
<ellipse cx="242.43" cy="428.72" rx="1.69" ry="1.52" fill="#2e2aa8" opacity="0.75" transform="rotate(50 242.43 428.72)"/>
<ellipse cx="236.76" cy="410.38" rx="1.68" ry="1.62" fill="#2e2aa8" opacity="0.68" transform="rotate(138 236.76 410.38)"/>
<ellipse cx="225.97" cy="429.52" rx="1.79" ry="1.57" fill="#2e2aa8" opacity="0.56" transform="rotate(100 225.97 429.52)"/>
<ellipse cx="256.49" cy="420.02" rx="1.94" ry="1.6" fill="#3d36c0" opacity="0.69" transform="rotate(86 256.49 420.02)"/>
<ellipse cx="249.62" cy="413.54" rx="1.64" ry="1.51" fill="#2e2aa8" opacity="0.74" transform="rotate(174 249.62 413.54)"/>
<ellipse cx="225.95" cy="411.55" rx="1.69" ry="1.58" fill="#3d36c0" opacity="0.67" transform="rotate(97 225.95 411.55)"/>
<ellipse cx="238.21" cy="403.01" rx="1.85" ry="1.78" fill="#2e2aa8" opacity="0.57" transform="rotate(76 238.21 403.01)"/>
<ellipse cx="250.32" cy="429.47" rx="1.71" ry="1.77" fill="#3d36c0" opacity="0.71" transform="rotate(131 250.32 429.47)"/>
<ellipse cx="233.62" cy="408.57" rx="1.79" ry="1.46" fill="#2e2aa8" opacity="0.54" transform="rotate(58 233.62 408.57)"/>
<ellipse cx="259.33" cy="399.78" rx="1.79" ry="1.69" fill="#3d36c0" opacity="0.55" transform="rotate(22 259.33 399.78)"/>
<ellipse cx="223.9" cy="431.79" rx="2.08" ry="1.65" fill="#2e2aa8" opacity="0.8" transform="rotate(167 223.9 431.79)"/>
<ellipse cx="238.28" cy="431.2" rx="1.84" ry="1.51" fill="#2e2aa8" opacity="0.77" transform="rotate(43 238.28 431.2)"/>
</g></g>
<clipPath id="cc13"><rect x="149.3" y="433.06" width="36.68" height="36.63"/></clipPath>
<g clip-path="url(#cc13)"><g filter="url(#b1)">
<ellipse cx="184.06" cy="438.91" rx="2.38" ry="1.73" fill="#8a4cc0" opacity="0.95" transform="rotate(171 184.06 438.91)"/>
<ellipse cx="184.26" cy="439.11" rx="1.48" ry="1.07" fill="#f09060" opacity="0.95" transform="rotate(171 184.06 438.91)"/>
<ellipse cx="151.64" cy="437.35" rx="2.28" ry="1.68" fill="#9a58c8" opacity="0.9" transform="rotate(121 151.64 437.35)"/>
<ellipse cx="162.36" cy="453.26" rx="2.45" ry="1.83" fill="#5a46c8" opacity="0.81" transform="rotate(0 162.36 453.26)"/>
<ellipse cx="176.29" cy="451.93" rx="2.1" ry="2.03" fill="#8a4cc0" opacity="0.95" transform="rotate(89 176.29 451.93)"/>
<ellipse cx="176.49" cy="452.13" rx="1.3" ry="1.26" fill="#c050b0" opacity="0.95" transform="rotate(89 176.29 451.93)"/>
<ellipse cx="159.18" cy="457.52" rx="2.32" ry="1.92" fill="#5a46c8" opacity="0.88" transform="rotate(128 159.18 457.52)"/>
<ellipse cx="172.13" cy="457.11" rx="2.37" ry="2.04" fill="#5a46c8" opacity="0.86" transform="rotate(111 172.13 457.11)"/>
<ellipse cx="157.33" cy="440.85" rx="2.41" ry="2.04" fill="#8a4cc0" opacity="0.95" transform="rotate(30 157.33 440.85)"/>
<ellipse cx="157.53" cy="441.05" rx="1.5" ry="1.26" fill="#c050b0" opacity="0.95" transform="rotate(30 157.33 440.85)"/>
<ellipse cx="180.32" cy="447.02" rx="2.38" ry="1.59" fill="#9a58c8" opacity="0.93" transform="rotate(137 180.32 447.02)"/>
<ellipse cx="157.92" cy="469.46" rx="2" ry="1.78" fill="#5a46c8" opacity="0.86" transform="rotate(36 157.92 469.46)"/>
<ellipse cx="166.63" cy="455.28" rx="2.36" ry="1.74" fill="#9a58c8" opacity="0.81" transform="rotate(113 166.63 455.28)"/>
<ellipse cx="151.13" cy="464.05" rx="2.28" ry="1.75" fill="#5a46c8" opacity="0.9" transform="rotate(79 151.13 464.05)"/>
<ellipse cx="171.81" cy="436.52" rx="1.87" ry="1.63" fill="#5a46c8" opacity="0.82" transform="rotate(81 171.81 436.52)"/>
<ellipse cx="153.52" cy="456.5" rx="2.33" ry="2.04" fill="#9a58c8" opacity="0.96" transform="rotate(83 153.52 456.5)"/>
<ellipse cx="153.44" cy="468.17" rx="1.96" ry="1.72" fill="#9a58c8" opacity="0.92" transform="rotate(85 153.44 468.17)"/>
<ellipse cx="183.53" cy="435.26" rx="2.33" ry="1.66" fill="#8a4cc0" opacity="0.95" transform="rotate(148 183.53 435.26)"/>
<ellipse cx="183.73" cy="435.46" rx="1.44" ry="1.03" fill="#e0609a" opacity="0.95" transform="rotate(148 183.53 435.26)"/>
<ellipse cx="181.23" cy="441.74" rx="1.95" ry="1.58" fill="#5a46c8" opacity="0.96" transform="rotate(108 181.23 441.74)"/>
<ellipse cx="154.22" cy="442.37" rx="2.28" ry="1.66" fill="#8a4cc0" opacity="0.95" transform="rotate(17 154.22 442.37)"/>
<ellipse cx="154.42" cy="442.57" rx="1.42" ry="1.03" fill="#e0609a" opacity="0.95" transform="rotate(17 154.22 442.37)"/>
<ellipse cx="170.21" cy="450.72" rx="1.88" ry="1.94" fill="#8a4cc0" opacity="0.95" transform="rotate(140 170.21 450.72)"/>
<ellipse cx="170.41" cy="450.92" rx="1.17" ry="1.2" fill="#f09060" opacity="0.95" transform="rotate(140 170.21 450.72)"/>
<ellipse cx="175.6" cy="435.9" rx="2.34" ry="1.96" fill="#8a4cc0" opacity="0.95" transform="rotate(127 175.6 435.9)"/>
<ellipse cx="175.8" cy="436.1" rx="1.45" ry="1.21" fill="#c050b0" opacity="0.95" transform="rotate(127 175.6 435.9)"/>
<ellipse cx="184.63" cy="466.28" rx="2.23" ry="1.87" fill="#8a4cc0" opacity="0.95" transform="rotate(137 184.63 466.28)"/>
<ellipse cx="184.83" cy="466.48" rx="1.38" ry="1.16" fill="#c050b0" opacity="0.95" transform="rotate(137 184.63 466.28)"/>
<ellipse cx="175.05" cy="443.41" rx="1.87" ry="1.86" fill="#8a4cc0" opacity="0.95" transform="rotate(152 175.05 443.41)"/>
<ellipse cx="175.25" cy="443.61" rx="1.16" ry="1.15" fill="#e0609a" opacity="0.95" transform="rotate(152 175.05 443.41)"/>
<ellipse cx="162.65" cy="446.61" rx="2.41" ry="1.69" fill="#9a58c8" opacity="0.94" transform="rotate(115 162.65 446.61)"/>
<ellipse cx="184.73" cy="443.77" rx="2.23" ry="2.03" fill="#8a4cc0" opacity="0.95" transform="rotate(62 184.73 443.77)"/>
<ellipse cx="184.93" cy="443.97" rx="1.38" ry="1.26" fill="#c050b0" opacity="0.95" transform="rotate(62 184.73 443.77)"/>
<ellipse cx="176.24" cy="456.31" rx="2.18" ry="1.54" fill="#5a46c8" opacity="0.98" transform="rotate(133 176.24 456.31)"/>
<ellipse cx="165.33" cy="435.14" rx="2" ry="2.05" fill="#8a4cc0" opacity="0.95" transform="rotate(13 165.33 435.14)"/>
<ellipse cx="165.53" cy="435.34" rx="1.24" ry="1.27" fill="#e0609a" opacity="0.95" transform="rotate(13 165.33 435.14)"/>
<ellipse cx="156.87" cy="454.08" rx="1.88" ry="2" fill="#8a4cc0" opacity="0.95" transform="rotate(145 156.87 454.08)"/>
<ellipse cx="157.07" cy="454.28" rx="1.16" ry="1.24" fill="#c050b0" opacity="0.95" transform="rotate(145 156.87 454.08)"/>
<ellipse cx="180.01" cy="466.37" rx="1.94" ry="1.77" fill="#8a4cc0" opacity="0.95" transform="rotate(101 180.01 466.37)"/>
<ellipse cx="180.21" cy="466.57" rx="1.2" ry="1.1" fill="#e0609a" opacity="0.95" transform="rotate(101 180.01 466.37)"/>
<ellipse cx="163.92" cy="467.76" rx="2.38" ry="1.74" fill="#8a4cc0" opacity="0.95" transform="rotate(151 163.92 467.76)"/>
<ellipse cx="164.12" cy="467.96" rx="1.48" ry="1.08" fill="#c050b0" opacity="0.95" transform="rotate(151 163.92 467.76)"/>
<ellipse cx="173.11" cy="446.19" rx="2.4" ry="1.75" fill="#8a4cc0" opacity="0.95" transform="rotate(54 173.11 446.19)"/>
<ellipse cx="173.31" cy="446.39" rx="1.49" ry="1.08" fill="#f09060" opacity="0.95" transform="rotate(54 173.11 446.19)"/>
<ellipse cx="154.97" cy="463.87" rx="2.03" ry="1.7" fill="#9a58c8" opacity="0.97" transform="rotate(32 154.97 463.87)"/>
<ellipse cx="149.9" cy="449.98" rx="2.26" ry="1.57" fill="#8a4cc0" opacity="0.95" transform="rotate(116 149.9 449.98)"/>
<ellipse cx="150.1" cy="450.18" rx="1.4" ry="0.97" fill="#c050b0" opacity="0.95" transform="rotate(116 149.9 449.98)"/>
<ellipse cx="159.69" cy="462.58" rx="2.37" ry="2.03" fill="#8a4cc0" opacity="0.95" transform="rotate(56 159.69 462.58)"/>
<ellipse cx="159.89" cy="462.78" rx="1.47" ry="1.26" fill="#e0609a" opacity="0.95" transform="rotate(56 159.69 462.58)"/>
<ellipse cx="177.97" cy="440.51" rx="1.93" ry="2.04" fill="#8a4cc0" opacity="0.95" transform="rotate(99 177.97 440.51)"/>
<ellipse cx="178.17" cy="440.71" rx="1.2" ry="1.26" fill="#c050b0" opacity="0.95" transform="rotate(99 177.97 440.51)"/>
<ellipse cx="150.5" cy="442.36" rx="1.87" ry="1.65" fill="#5a46c8" opacity="0.83" transform="rotate(78 150.5 442.36)"/>
<ellipse cx="170.99" cy="464.08" rx="2.31" ry="1.6" fill="#8a4cc0" opacity="0.95" transform="rotate(103 170.99 464.08)"/>
<ellipse cx="171.19" cy="464.28" rx="1.43" ry="0.99" fill="#c050b0" opacity="0.95" transform="rotate(103 170.99 464.08)"/>
<ellipse cx="176.55" cy="464.19" rx="2.04" ry="1.54" fill="#8a4cc0" opacity="0.95" transform="rotate(41 176.55 464.19)"/>
<ellipse cx="176.75" cy="464.39" rx="1.26" ry="0.95" fill="#f09060" opacity="0.95" transform="rotate(41 176.55 464.19)"/>
<ellipse cx="169.14" cy="434.42" rx="2.1" ry="1.98" fill="#5a46c8" opacity="0.92" transform="rotate(2 169.14 434.42)"/>
<ellipse cx="184.65" cy="448.35" rx="1.93" ry="2.02" fill="#9a58c8" opacity="0.85" transform="rotate(38 184.65 448.35)"/>
<ellipse cx="166.68" cy="450.75" rx="1.96" ry="1.55" fill="#8a4cc0" opacity="0.95" transform="rotate(23 166.68 450.75)"/>
<ellipse cx="166.88" cy="450.95" rx="1.21" ry="0.96" fill="#e0609a" opacity="0.95" transform="rotate(23 166.68 450.75)"/>
<ellipse cx="165.99" cy="463.6" rx="2.42" ry="1.99" fill="#8a4cc0" opacity="0.95" transform="rotate(142 165.99 463.6)"/>
<ellipse cx="166.19" cy="463.8" rx="1.5" ry="1.23" fill="#e0609a" opacity="0.95" transform="rotate(142 165.99 463.6)"/>
</g></g>
<clipPath id="cc14"><rect x="185.98" y="433.06" width="36.68" height="36.63"/></clipPath>
<g clip-path="url(#cc14)"><g filter="url(#b1)">
<ellipse cx="187.54" cy="440.83" rx="2.51" ry="1.69" fill="#9a58c8" opacity="0.73" transform="rotate(161 187.54 440.83)"/>
<ellipse cx="193.34" cy="437.53" rx="2" ry="1.72" fill="#2e2aa8" opacity="0.59" transform="rotate(145 193.34 437.53)"/>
<ellipse cx="205.75" cy="468.23" rx="2.16" ry="1.88" fill="#3d36c0" opacity="0.63" transform="rotate(131 205.75 468.23)"/>
<ellipse cx="222.64" cy="434.89" rx="2.26" ry="1.93" fill="#3d36c0" opacity="0.57" transform="rotate(4 222.64 434.89)"/>
<ellipse cx="218.74" cy="468.87" rx="2.25" ry="2.07" fill="#2e2aa8" opacity="0.83" transform="rotate(124 218.74 468.87)"/>
<ellipse cx="204.75" cy="457.4" rx="2.51" ry="1.7" fill="#2e2aa8" opacity="0.77" transform="rotate(166 204.75 457.4)"/>
<ellipse cx="218.04" cy="464.52" rx="2.28" ry="2.18" fill="#9a58c8" opacity="0.82" transform="rotate(139 218.04 464.52)"/>
<ellipse cx="199.54" cy="436.94" rx="2.52" ry="2.16" fill="#2e2aa8" opacity="0.65" transform="rotate(56 199.54 436.94)"/>
<ellipse cx="220.74" cy="445.67" rx="2.5" ry="1.66" fill="#3d36c0" opacity="0.62" transform="rotate(153 220.74 445.67)"/>
<ellipse cx="189.16" cy="466.94" rx="2.42" ry="1.97" fill="#2e2aa8" opacity="0.76" transform="rotate(42 189.16 466.94)"/>
<ellipse cx="222.48" cy="468.85" rx="2.29" ry="1.8" fill="#3d36c0" opacity="0.74" transform="rotate(103 222.48 468.85)"/>
<ellipse cx="208.1" cy="445.94" rx="2.61" ry="2.04" fill="#2e2aa8" opacity="0.8" transform="rotate(79 208.1 445.94)"/>
<ellipse cx="204.79" cy="440.45" rx="2" ry="1.73" fill="#3d36c0" opacity="0.75" transform="rotate(159 204.79 440.45)"/>
<ellipse cx="192.44" cy="460.58" rx="2.43" ry="1.81" fill="#2e2aa8" opacity="0.78" transform="rotate(74 192.44 460.58)"/>
<ellipse cx="213.63" cy="459.94" rx="2.35" ry="1.83" fill="#9a58c8" opacity="0.78" transform="rotate(76 213.63 459.94)"/>
<ellipse cx="191.59" cy="444.23" rx="2.08" ry="1.92" fill="#9a58c8" opacity="0.78" transform="rotate(162 191.59 444.23)"/>
<ellipse cx="213.18" cy="444.39" rx="2.06" ry="2.04" fill="#3d36c0" opacity="0.59" transform="rotate(36 213.18 444.39)"/>
<ellipse cx="193.09" cy="449.15" rx="2.28" ry="1.87" fill="#2e2aa8" opacity="0.71" transform="rotate(139 193.09 449.15)"/>
<ellipse cx="216.84" cy="445.96" rx="2.63" ry="2" fill="#2e2aa8" opacity="0.61" transform="rotate(3 216.84 445.96)"/>
<ellipse cx="201.31" cy="458.48" rx="2.02" ry="2.09" fill="#3d36c0" opacity="0.76" transform="rotate(97 201.31 458.48)"/>
<ellipse cx="213.96" cy="453.57" rx="2.35" ry="1.82" fill="#3d36c0" opacity="0.55" transform="rotate(108 213.96 453.57)"/>
<ellipse cx="210.28" cy="440.25" rx="2.2" ry="1.7" fill="#3d36c0" opacity="0.76" transform="rotate(3 210.28 440.25)"/>
<ellipse cx="212.52" cy="436.88" rx="2.62" ry="1.65" fill="#3d36c0" opacity="0.58" transform="rotate(12 212.52 436.88)"/>
<ellipse cx="220.45" cy="457.96" rx="2.12" ry="2.08" fill="#2e2aa8" opacity="0.68" transform="rotate(152 220.45 457.96)"/>
<ellipse cx="189.9" cy="434.21" rx="2.49" ry="2.04" fill="#3d36c0" opacity="0.75" transform="rotate(1 189.9 434.21)"/>
<ellipse cx="194.98" cy="433.91" rx="2.32" ry="1.86" fill="#9a58c8" opacity="0.7" transform="rotate(178 194.98 433.91)"/>
</g></g>
<clipPath id="cc15"><rect x="222.66" y="433.06" width="36.68" height="36.63"/></clipPath>
<g clip-path="url(#cc15)"><g filter="url(#b1)">
<ellipse cx="257.27" cy="467.32" rx="2.69" ry="2.09" fill="#2e2aa8" opacity="0.52" transform="rotate(85 257.27 467.32)"/>
<ellipse cx="237.46" cy="444.12" rx="2.71" ry="2.32" fill="#2e2aa8" opacity="0.62" transform="rotate(4 237.46 444.12)"/>
<ellipse cx="239.21" cy="468.32" rx="2.78" ry="2.25" fill="#262290" opacity="0.41" transform="rotate(153 239.21 468.32)"/>
<ellipse cx="222.96" cy="434.75" rx="2.75" ry="2.13" fill="#2e2aa8" opacity="0.54" transform="rotate(91 222.96 434.75)"/>
<ellipse cx="250.48" cy="461.37" rx="2.35" ry="2.24" fill="#70308a" opacity="0.43" transform="rotate(9 250.48 461.37)"/>
<ellipse cx="224.08" cy="452.76" rx="2.43" ry="2.32" fill="#262290" opacity="0.56" transform="rotate(95 224.08 452.76)"/>
<ellipse cx="222.68" cy="460.89" rx="2.83" ry="2.18" fill="#2e2aa8" opacity="0.55" transform="rotate(15 222.68 460.89)"/>
<ellipse cx="258.34" cy="435.32" rx="2.56" ry="2.18" fill="#70308a" opacity="0.59" transform="rotate(90 258.34 435.32)"/>
<ellipse cx="256.61" cy="453.25" rx="2.34" ry="1.91" fill="#70308a" opacity="0.47" transform="rotate(137 256.61 453.25)"/>
<ellipse cx="233.53" cy="447.79" rx="2.9" ry="2.04" fill="#2e2aa8" opacity="0.58" transform="rotate(176 233.53 447.79)"/>
<ellipse cx="231.86" cy="458.34" rx="2.69" ry="2.25" fill="#262290" opacity="0.44" transform="rotate(89 231.86 458.34)"/>
<ellipse cx="253.79" cy="439.66" rx="2.51" ry="2.35" fill="#262290" opacity="0.61" transform="rotate(143 253.79 439.66)"/>
<ellipse cx="230.37" cy="465.93" rx="2.6" ry="2.01" fill="#262290" opacity="0.48" transform="rotate(127 230.37 465.93)"/>
<ellipse cx="251.54" cy="450.22" rx="2.63" ry="2.06" fill="#262290" opacity="0.54" transform="rotate(49 251.54 450.22)"/>
</g></g>
<ellipse cx="220.2" cy="456.2" rx="2.7" ry="1.5" fill="#fff" filter="url(#b1)"/>
<circle cx="231.2" cy="405.3" r="0.6" fill="#ffe8a0"/>
<line x1="63" y1="396.43" x2="136.36" y2="396.43" stroke="#c4c4c4" stroke-width="0.6" />
<line x1="149.3" y1="396.43" x2="259.34" y2="396.43" stroke="#c4c4c4" stroke-width="0.6" />
<line x1="63" y1="433.06" x2="136.36" y2="433.06" stroke="#c4c4c4" stroke-width="0.6" />
<line x1="149.3" y1="433.06" x2="259.34" y2="433.06" stroke="#c4c4c4" stroke-width="0.6" />
<line x1="99.68" y1="359.8" x2="99.68" y2="469.69" stroke="#c4c4c4" stroke-width="0.6" />
<line x1="185.98" y1="359.8" x2="185.98" y2="469.69" stroke="#c4c4c4" stroke-width="0.6" />
<line x1="222.66" y1="359.8" x2="222.66" y2="469.69" stroke="#c4c4c4" stroke-width="0.6" />
</g>
<g id="panelD">
<text x="319.4" y="352.2" font-size="9.5" text-anchor="start" fill="#202020" stroke="#202020" stroke-width="0.19" >D</text>
<text x="377.6" y="352.6" font-size="5.4" text-anchor="middle" fill="#202020" stroke="#202020" stroke-width="0.11" >SiHa</text>
<text x="477.8" y="352.6" font-size="5.4" text-anchor="middle" fill="#202020" stroke="#202020" stroke-width="0.11" >HeLa</text>
<line x1="336.2" y1="358.6" x2="336.2" y2="448.4" stroke="#444" stroke-width="0.5" />
<line x1="335.95" y1="448.4" x2="418.4" y2="448.4" stroke="#444" stroke-width="0.5" />
<line x1="335" y1="444.1" x2="336.2" y2="444.1" stroke="#444" stroke-width="0.45" />
<text x="334" y="445.9" font-size="5" text-anchor="end" fill="#202020" stroke="#202020" stroke-width="0.1" >0</text>
<line x1="335" y1="427.07" x2="336.2" y2="427.07" stroke="#444" stroke-width="0.45" />
<text x="334" y="428.87" font-size="5" text-anchor="end" fill="#202020" stroke="#202020" stroke-width="0.1" >0.02</text>
<line x1="335" y1="410.04" x2="336.2" y2="410.04" stroke="#444" stroke-width="0.45" />
<text x="334" y="411.84" font-size="5" text-anchor="end" fill="#202020" stroke="#202020" stroke-width="0.1" >0.04</text>
<line x1="335" y1="393.01" x2="336.2" y2="393.01" stroke="#444" stroke-width="0.45" />
<text x="334" y="394.81" font-size="5" text-anchor="end" fill="#202020" stroke="#202020" stroke-width="0.1" >0.06</text>
<line x1="335" y1="375.98" x2="336.2" y2="375.98" stroke="#444" stroke-width="0.45" />
<text x="334" y="377.78" font-size="5" text-anchor="end" fill="#202020" stroke="#202020" stroke-width="0.1" >0.08</text>
<line x1="335" y1="358.95" x2="336.2" y2="358.95" stroke="#444" stroke-width="0.45" />
<text x="334" y="360.75" font-size="5" text-anchor="end" fill="#202020" stroke="#202020" stroke-width="0.1" >0.1</text>
<line x1="340.1" y1="448.4" x2="340.1" y2="449.6" stroke="#444" stroke-width="0.45" />
<line x1="340.1" y1="440.69" x2="340.1" y2="444.1" stroke="#1c5f9c" stroke-width="0.5" />
<rect x="338.25" y="441.55" width="3.7" height="2.13" fill="#2b7fc4" fill-opacity="0.85" stroke="#1c5f9c" stroke-width="0.45"/>
<line x1="338.25" y1="442.4" x2="341.95" y2="442.4" stroke="#1c5f9c" stroke-width="0.5" />
<circle cx="340.1" cy="444.1" r="1.02" fill="#154a7c"/>
<circle cx="340.1" cy="440.69" r="1.02" fill="#154a7c"/>
<circle cx="340.1" cy="442.4" r="1.02" fill="#154a7c"/>
<circle cx="340.1" cy="443.04" r="1.02" fill="#154a7c"/>
<circle cx="340.1" cy="441.97" r="1.02" fill="#154a7c"/>
<text x="338.2" y="453" font-size="5.3" text-anchor="start" fill="#202020" stroke="#202020" stroke-width="0.11" transform="rotate(90 338.2 453)" >Control</text>
<line x1="346.96" y1="448.4" x2="346.96" y2="449.6" stroke="#444" stroke-width="0.45" />
<line x1="346.96" y1="433.03" x2="346.96" y2="442.4" stroke="#1c5f9c" stroke-width="0.5" />
<rect x="345.11" y="435.59" width="3.7" height="5.11" fill="#2b7fc4" fill-opacity="0.85" stroke="#1c5f9c" stroke-width="0.45"/>
<rect x="346.01" y="436.49" width="1.9" height="3.31" fill="none" stroke="#fff" stroke-opacity="0.55" stroke-width="0.35" stroke-dasharray="0.5 0.5"/>
<line x1="345.11" y1="438.14" x2="348.81" y2="438.14" stroke="#1c5f9c" stroke-width="0.5" />
<circle cx="346.96" cy="442.4" r="1.02" fill="#154a7c"/>
<circle cx="346.96" cy="433.03" r="1.02" fill="#154a7c"/>
<circle cx="346.96" cy="438.14" r="1.02" fill="#154a7c"/>
<circle cx="346.96" cy="439.16" r="1.02" fill="#154a7c"/>
<circle cx="346.96" cy="436.61" r="1.02" fill="#154a7c"/>
<text x="345.06" y="453" font-size="5.3" text-anchor="start" fill="#202020" stroke="#202020" stroke-width="0.11" transform="rotate(90 345.06 453)" >HT</text>
<line x1="353.82" y1="448.4" x2="353.82" y2="449.6" stroke="#444" stroke-width="0.45" />
<line x1="353.82" y1="433.88" x2="353.82" y2="441.55" stroke="#1c5f9c" stroke-width="0.5" />
<rect x="351.97" y="434.73" width="3.7" height="4.26" fill="#2b7fc4" fill-opacity="0.85" stroke="#1c5f9c" stroke-width="0.45"/>
<rect x="352.87" y="435.63" width="1.9" height="2.46" fill="none" stroke="#fff" stroke-opacity="0.55" stroke-width="0.35" stroke-dasharray="0.5 0.5"/>
<line x1="351.97" y1="436.44" x2="355.67" y2="436.44" stroke="#1c5f9c" stroke-width="0.5" />
<circle cx="353.82" cy="441.55" r="1.02" fill="#154a7c"/>
<circle cx="353.82" cy="433.88" r="1.02" fill="#154a7c"/>
<circle cx="353.82" cy="436.44" r="1.02" fill="#154a7c"/>
<circle cx="353.82" cy="437.71" r="1.02" fill="#154a7c"/>
<circle cx="353.82" cy="435.59" r="1.02" fill="#154a7c"/>
<text x="351.92" y="453" font-size="5.3" text-anchor="start" fill="#202020" stroke="#202020" stroke-width="0.11" transform="rotate(90 351.92 453)" >HSP90i</text>
<line x1="360.68" y1="448.4" x2="360.68" y2="449.6" stroke="#444" stroke-width="0.45" />
<line x1="360.68" y1="427.07" x2="360.68" y2="441.55" stroke="#1c5f9c" stroke-width="0.5" />
<rect x="358.83" y="430.48" width="3.7" height="8.52" fill="#2b7fc4" fill-opacity="0.85" stroke="#1c5f9c" stroke-width="0.45"/>
<rect x="359.73" y="431.38" width="1.9" height="6.72" fill="none" stroke="#fff" stroke-opacity="0.55" stroke-width="0.35" stroke-dasharray="0.5 0.5"/>
<line x1="358.83" y1="433.88" x2="362.53" y2="433.88" stroke="#1c5f9c" stroke-width="0.5" />
<circle cx="360.68" cy="441.55" r="1.02" fill="#154a7c"/>
<circle cx="360.68" cy="427.07" r="1.02" fill="#154a7c"/>
<circle cx="360.68" cy="433.88" r="1.02" fill="#154a7c"/>
<circle cx="360.68" cy="436.44" r="1.02" fill="#154a7c"/>
<circle cx="360.68" cy="432.18" r="1.02" fill="#154a7c"/>
<text x="358.78" y="453" font-size="5.3" text-anchor="start" fill="#202020" stroke="#202020" stroke-width="0.11" transform="rotate(90 358.78 453)" >HT+HSP90i</text>
<line x1="367.54" y1="448.4" x2="367.54" y2="449.6" stroke="#444" stroke-width="0.45" />
<line x1="367.54" y1="424.52" x2="367.54" y2="436.44" stroke="#c8641c" stroke-width="0.5" />
<rect x="365.69" y="427.07" width="3.7" height="6.81" fill="#f0883a" fill-opacity="0.85" stroke="#c8641c" stroke-width="0.45"/>
<rect x="366.59" y="427.97" width="1.9" height="5.01" fill="none" stroke="#fff" stroke-opacity="0.55" stroke-width="0.35" stroke-dasharray="0.5 0.5"/>
<line x1="365.69" y1="431.33" x2="369.39" y2="431.33" stroke="#c8641c" stroke-width="0.5" />
<circle cx="367.54" cy="436.44" r="1.02" fill="#a8500f"/>
<circle cx="367.54" cy="424.52" r="1.02" fill="#a8500f"/>
<circle cx="367.54" cy="431.33" r="1.02" fill="#a8500f"/>
<circle cx="367.54" cy="431.84" r="1.02" fill="#a8500f"/>
<circle cx="367.54" cy="428.43" r="1.02" fill="#a8500f"/>
<text x="365.64" y="453" font-size="5.3" text-anchor="start" fill="#202020" stroke="#202020" stroke-width="0.11" transform="rotate(90 365.64 453)" >CT</text>
<line x1="374.4" y1="448.4" x2="374.4" y2="449.6" stroke="#444" stroke-width="0.45" />
<line x1="374.4" y1="426.22" x2="374.4" y2="433.88" stroke="#c8641c" stroke-width="0.5" />
<rect x="372.55" y="431.33" width="3.7" height="2.55" fill="#f0883a" fill-opacity="0.85" stroke="#c8641c" stroke-width="0.45"/>
<rect x="373.45" y="432.23" width="1.9" height="0.75" fill="none" stroke="#fff" stroke-opacity="0.55" stroke-width="0.35" stroke-dasharray="0.5 0.5"/>
<line x1="372.55" y1="433.03" x2="376.25" y2="433.03" stroke="#c8641c" stroke-width="0.5" />
<circle cx="374.4" cy="433.88" r="1.02" fill="#a8500f"/>
<circle cx="374.4" cy="426.22" r="1.02" fill="#a8500f"/>
<circle cx="374.4" cy="433.03" r="1.02" fill="#a8500f"/>
<circle cx="374.4" cy="433.12" r="1.02" fill="#a8500f"/>
<circle cx="374.4" cy="431.84" r="1.02" fill="#a8500f"/>
<text x="372.5" y="453" font-size="5.3" text-anchor="start" fill="#202020" stroke="#202020" stroke-width="0.11" transform="rotate(90 372.5 453)" >HT+CT</text>
<line x1="381.26" y1="448.4" x2="381.26" y2="449.6" stroke="#444" stroke-width="0.45" />
<line x1="381.26" y1="422.81" x2="381.26" y2="433.88" stroke="#c8641c" stroke-width="0.5" />
<rect x="379.41" y="426.22" width="3.7" height="5.11" fill="#f0883a" fill-opacity="0.85" stroke="#c8641c" stroke-width="0.45"/>
<rect x="380.31" y="427.12" width="1.9" height="3.31" fill="none" stroke="#fff" stroke-opacity="0.55" stroke-width="0.35" stroke-dasharray="0.5 0.5"/>
<line x1="379.41" y1="428.77" x2="383.11" y2="428.77" stroke="#c8641c" stroke-width="0.5" />
<circle cx="381.26" cy="433.88" r="1.02" fill="#a8500f"/>
<circle cx="381.26" cy="422.81" r="1.02" fill="#a8500f"/>
<circle cx="381.26" cy="428.77" r="1.02" fill="#a8500f"/>
<circle cx="381.26" cy="429.79" r="1.02" fill="#a8500f"/>
<circle cx="381.26" cy="427.24" r="1.02" fill="#a8500f"/>
<text x="379.36" y="453" font-size="5.3" text-anchor="start" fill="#202020" stroke="#202020" stroke-width="0.11" transform="rotate(90 379.36 453)" >CT+HSP90i</text>
<line x1="388.12" y1="448.4" x2="388.12" y2="449.6" stroke="#444" stroke-width="0.45" />
<line x1="388.12" y1="426.22" x2="388.12" y2="444.1" stroke="#c8641c" stroke-width="0.5" />
<rect x="386.27" y="433.88" width="3.7" height="5.96" fill="#f0883a" fill-opacity="0.85" stroke="#c8641c" stroke-width="0.45"/>
<rect x="387.17" y="434.78" width="1.9" height="4.16" fill="none" stroke="#fff" stroke-opacity="0.55" stroke-width="0.35" stroke-dasharray="0.5 0.5"/>
<line x1="386.27" y1="436.44" x2="389.97" y2="436.44" stroke="#c8641c" stroke-width="0.5" />
<circle cx="388.12" cy="444.1" r="1.02" fill="#a8500f"/>
<circle cx="388.12" cy="426.22" r="1.02" fill="#a8500f"/>
<circle cx="388.12" cy="436.44" r="1.02" fill="#a8500f"/>
<circle cx="388.12" cy="438.05" r="1.02" fill="#a8500f"/>
<circle cx="388.12" cy="435.07" r="1.02" fill="#a8500f"/>
<text x="386.22" y="453" font-size="5.3" text-anchor="start" fill="#202020" stroke="#202020" stroke-width="0.11" transform="rotate(90 386.22 453)" >HT+CT+HSP90i</text>
<line x1="394.98" y1="448.4" x2="394.98" y2="449.6" stroke="#444" stroke-width="0.45" />
<line x1="394.98" y1="386.2" x2="394.98" y2="421.96" stroke="#1f7f3a" stroke-width="0.5" />
<rect x="393.13" y="398.97" width="3.7" height="20.44" fill="#35a854" fill-opacity="0.85" stroke="#1f7f3a" stroke-width="0.45"/>
<rect x="394.03" y="399.87" width="1.9" height="18.64" fill="none" stroke="#fff" stroke-opacity="0.55" stroke-width="0.35" stroke-dasharray="0.5 0.5"/>
<line x1="393.13" y1="404.08" x2="396.83" y2="404.08" stroke="#1f7f3a" stroke-width="0.5" />
<circle cx="394.98" cy="421.96" r="1.02" fill="#14682c"/>
<circle cx="394.98" cy="386.2" r="1.02" fill="#14682c"/>
<circle cx="394.98" cy="404.08" r="1.02" fill="#14682c"/>
<circle cx="394.98" cy="413.28" r="1.02" fill="#14682c"/>
<circle cx="394.98" cy="403.06" r="1.02" fill="#14682c"/>
<text x="393.08" y="453" font-size="5.3" text-anchor="start" fill="#202020" stroke="#202020" stroke-width="0.11" transform="rotate(90 393.08 453)" >RT</text>
<line x1="401.84" y1="448.4" x2="401.84" y2="449.6" stroke="#444" stroke-width="0.45" />
<line x1="401.84" y1="391.31" x2="401.84" y2="428.77" stroke="#1f7f3a" stroke-width="0.5" />
<rect x="399.99" y="393.86" width="3.7" height="29.8" fill="#35a854" fill-opacity="0.85" stroke="#1f7f3a" stroke-width="0.45"/>
<rect x="400.89" y="394.76" width="1.9" height="28" fill="none" stroke="#fff" stroke-opacity="0.55" stroke-width="0.35" stroke-dasharray="0.5 0.5"/>
<line x1="399.99" y1="408.34" x2="403.69" y2="408.34" stroke="#1f7f3a" stroke-width="0.5" />
<circle cx="401.84" cy="428.77" r="1.02" fill="#14682c"/>
<circle cx="401.84" cy="391.31" r="1.02" fill="#14682c"/>
<circle cx="401.84" cy="408.34" r="1.02" fill="#14682c"/>
<circle cx="401.84" cy="414.72" r="1.02" fill="#14682c"/>
<circle cx="401.84" cy="399.82" r="1.02" fill="#14682c"/>
<text x="399.94" y="453" font-size="5.3" text-anchor="start" fill="#202020" stroke="#202020" stroke-width="0.11" transform="rotate(90 399.94 453)" >HT+RT</text>
<line x1="408.7" y1="448.4" x2="408.7" y2="449.6" stroke="#444" stroke-width="0.45" />
<line x1="408.7" y1="390.46" x2="408.7" y2="418.56" stroke="#1f7f3a" stroke-width="0.5" />
<rect x="406.85" y="392.16" width="3.7" height="22.99" fill="#35a854" fill-opacity="0.85" stroke="#1f7f3a" stroke-width="0.45"/>
<rect x="407.75" y="393.06" width="1.9" height="21.19" fill="none" stroke="#fff" stroke-opacity="0.55" stroke-width="0.35" stroke-dasharray="0.5 0.5"/>
<line x1="406.85" y1="404.93" x2="410.55" y2="404.93" stroke="#1f7f3a" stroke-width="0.5" />
<circle cx="408.7" cy="418.56" r="1.02" fill="#14682c"/>
<circle cx="408.7" cy="390.46" r="1.02" fill="#14682c"/>
<circle cx="408.7" cy="404.93" r="1.02" fill="#14682c"/>
<circle cx="408.7" cy="408.25" r="1.02" fill="#14682c"/>
<circle cx="408.7" cy="396.76" r="1.02" fill="#14682c"/>
<text x="406.8" y="453" font-size="5.3" text-anchor="start" fill="#202020" stroke="#202020" stroke-width="0.11" transform="rotate(90 406.8 453)" >RT+HSP90i</text>
<line x1="415.56" y1="448.4" x2="415.56" y2="449.6" stroke="#444" stroke-width="0.45" />
<line x1="415.56" y1="393.01" x2="415.56" y2="415.15" stroke="#1f7f3a" stroke-width="0.5" />
<rect x="413.71" y="396.42" width="3.7" height="11.92" fill="#35a854" fill-opacity="0.85" stroke="#1f7f3a" stroke-width="0.45"/>
<rect x="414.61" y="397.32" width="1.9" height="10.12" fill="none" stroke="#fff" stroke-opacity="0.55" stroke-width="0.35" stroke-dasharray="0.5 0.5"/>
<line x1="413.71" y1="403.23" x2="417.41" y2="403.23" stroke="#1f7f3a" stroke-width="0.5" />
<circle cx="415.56" cy="415.15" r="1.02" fill="#14682c"/>
<circle cx="415.56" cy="393.01" r="1.02" fill="#14682c"/>
<circle cx="415.56" cy="403.23" r="1.02" fill="#14682c"/>
<circle cx="415.56" cy="404.76" r="1.02" fill="#14682c"/>
<circle cx="415.56" cy="398.8" r="1.02" fill="#14682c"/>
<text x="413.66" y="453" font-size="5.3" text-anchor="start" fill="#202020" stroke="#202020" stroke-width="0.11" transform="rotate(90 413.66 453)" >HT+RT+HSP90i</text>
<line x1="436.4" y1="358.6" x2="436.4" y2="448.4" stroke="#444" stroke-width="0.5" />
<line x1="436.15" y1="448.4" x2="518.2" y2="448.4" stroke="#444" stroke-width="0.5" />
<line x1="435.2" y1="444.1" x2="436.4" y2="444.1" stroke="#444" stroke-width="0.45" />
<text x="434.2" y="445.9" font-size="5" text-anchor="end" fill="#202020" stroke="#202020" stroke-width="0.1" >0</text>
<line x1="435.2" y1="427.07" x2="436.4" y2="427.07" stroke="#444" stroke-width="0.45" />
<text x="434.2" y="428.87" font-size="5" text-anchor="end" fill="#202020" stroke="#202020" stroke-width="0.1" >0.02</text>
<line x1="435.2" y1="410.04" x2="436.4" y2="410.04" stroke="#444" stroke-width="0.45" />
<text x="434.2" y="411.84" font-size="5" text-anchor="end" fill="#202020" stroke="#202020" stroke-width="0.1" >0.04</text>
<line x1="435.2" y1="393.01" x2="436.4" y2="393.01" stroke="#444" stroke-width="0.45" />
<text x="434.2" y="394.81" font-size="5" text-anchor="end" fill="#202020" stroke="#202020" stroke-width="0.1" >0.06</text>
<line x1="435.2" y1="375.98" x2="436.4" y2="375.98" stroke="#444" stroke-width="0.45" />
<text x="434.2" y="377.78" font-size="5" text-anchor="end" fill="#202020" stroke="#202020" stroke-width="0.1" >0.08</text>
<line x1="435.2" y1="358.95" x2="436.4" y2="358.95" stroke="#444" stroke-width="0.45" />
<text x="434.2" y="360.75" font-size="5" text-anchor="end" fill="#202020" stroke="#202020" stroke-width="0.1" >0.1</text>
<line x1="439.9" y1="448.4" x2="439.9" y2="449.6" stroke="#444" stroke-width="0.45" />
<line x1="439.9" y1="438.99" x2="439.9" y2="443.25" stroke="#1c5f9c" stroke-width="0.5" />
<rect x="438.05" y="439.84" width="3.7" height="2.55" fill="#2b7fc4" fill-opacity="0.85" stroke="#1c5f9c" stroke-width="0.45"/>
<rect x="438.95" y="440.74" width="1.9" height="0.75" fill="none" stroke="#fff" stroke-opacity="0.55" stroke-width="0.35" stroke-dasharray="0.5 0.5"/>
<line x1="438.05" y1="441.55" x2="441.75" y2="441.55" stroke="#1c5f9c" stroke-width="0.5" />
<circle cx="439.9" cy="443.25" r="1.02" fill="#154a7c"/>
<circle cx="439.9" cy="438.99" r="1.02" fill="#154a7c"/>
<circle cx="439.9" cy="441.55" r="1.02" fill="#154a7c"/>
<circle cx="439.9" cy="441.63" r="1.02" fill="#154a7c"/>
<circle cx="439.9" cy="440.35" r="1.02" fill="#154a7c"/>
<text x="438" y="453" font-size="5.3" text-anchor="start" fill="#202020" stroke="#202020" stroke-width="0.11" transform="rotate(90 438 453)" >Control</text>
<line x1="446.74" y1="448.4" x2="446.74" y2="449.6" stroke="#444" stroke-width="0.45" />
<line x1="446.74" y1="436.44" x2="446.74" y2="442.4" stroke="#1c5f9c" stroke-width="0.5" />
<rect x="444.89" y="438.14" width="3.7" height="3.41" fill="#2b7fc4" fill-opacity="0.85" stroke="#1c5f9c" stroke-width="0.45"/>
<rect x="445.79" y="439.04" width="1.9" height="1.61" fill="none" stroke="#fff" stroke-opacity="0.55" stroke-width="0.35" stroke-dasharray="0.5 0.5"/>
<line x1="444.89" y1="439.84" x2="448.59" y2="439.84" stroke="#1c5f9c" stroke-width="0.5" />
<circle cx="446.74" cy="442.4" r="1.02" fill="#154a7c"/>
<circle cx="446.74" cy="436.44" r="1.02" fill="#154a7c"/>
<circle cx="446.74" cy="439.84" r="1.02" fill="#154a7c"/>
<circle cx="446.74" cy="440.52" r="1.02" fill="#154a7c"/>
<circle cx="446.74" cy="438.82" r="1.02" fill="#154a7c"/>
<text x="444.84" y="453" font-size="5.3" text-anchor="start" fill="#202020" stroke="#202020" stroke-width="0.11" transform="rotate(90 444.84 453)" >HT</text>
<line x1="453.58" y1="448.4" x2="453.58" y2="449.6" stroke="#444" stroke-width="0.45" />
<line x1="453.58" y1="433.03" x2="453.58" y2="439.84" stroke="#1c5f9c" stroke-width="0.5" />
<rect x="451.73" y="433.88" width="3.7" height="3.41" fill="#2b7fc4" fill-opacity="0.85" stroke="#1c5f9c" stroke-width="0.45"/>
<rect x="452.63" y="434.78" width="1.9" height="1.61" fill="none" stroke="#fff" stroke-opacity="0.55" stroke-width="0.35" stroke-dasharray="0.5 0.5"/>
<line x1="451.73" y1="435.59" x2="455.43" y2="435.59" stroke="#1c5f9c" stroke-width="0.5" />
<circle cx="453.58" cy="439.84" r="1.02" fill="#154a7c"/>
<circle cx="453.58" cy="433.03" r="1.02" fill="#154a7c"/>
<circle cx="453.58" cy="435.59" r="1.02" fill="#154a7c"/>
<circle cx="453.58" cy="436.27" r="1.02" fill="#154a7c"/>
<circle cx="453.58" cy="434.56" r="1.02" fill="#154a7c"/>
<text x="451.68" y="453" font-size="5.3" text-anchor="start" fill="#202020" stroke="#202020" stroke-width="0.11" transform="rotate(90 451.68 453)" >HSP90i</text>
<line x1="460.42" y1="448.4" x2="460.42" y2="449.6" stroke="#444" stroke-width="0.45" />
<line x1="460.42" y1="406.63" x2="460.42" y2="430.48" stroke="#1c5f9c" stroke-width="0.5" />
<rect x="458.57" y="408.34" width="3.7" height="18.73" fill="#2b7fc4" fill-opacity="0.85" stroke="#1c5f9c" stroke-width="0.45"/>
<rect x="459.47" y="409.24" width="1.9" height="16.93" fill="none" stroke="#fff" stroke-opacity="0.55" stroke-width="0.35" stroke-dasharray="0.5 0.5"/>
<line x1="458.57" y1="423.66" x2="462.27" y2="423.66" stroke="#1c5f9c" stroke-width="0.5" />
<circle cx="460.42" cy="430.48" r="1.02" fill="#154a7c"/>
<circle cx="460.42" cy="406.63" r="1.02" fill="#154a7c"/>
<circle cx="460.42" cy="423.66" r="1.02" fill="#154a7c"/>
<circle cx="460.42" cy="421.45" r="1.02" fill="#154a7c"/>
<circle cx="460.42" cy="412.08" r="1.02" fill="#154a7c"/>
<text x="458.52" y="453" font-size="5.3" text-anchor="start" fill="#202020" stroke="#202020" stroke-width="0.11" transform="rotate(90 458.52 453)" >HT+HSP90i</text>
<line x1="467.26" y1="448.4" x2="467.26" y2="449.6" stroke="#444" stroke-width="0.45" />
<line x1="467.26" y1="430.48" x2="467.26" y2="438.99" stroke="#c8641c" stroke-width="0.5" />
<rect x="465.41" y="432.18" width="3.7" height="5.96" fill="#f0883a" fill-opacity="0.85" stroke="#c8641c" stroke-width="0.45"/>
<rect x="466.31" y="433.08" width="1.9" height="4.16" fill="none" stroke="#fff" stroke-opacity="0.55" stroke-width="0.35" stroke-dasharray="0.5 0.5"/>
<line x1="465.41" y1="434.73" x2="469.11" y2="434.73" stroke="#c8641c" stroke-width="0.5" />
<circle cx="467.26" cy="438.99" r="1.02" fill="#a8500f"/>
<circle cx="467.26" cy="430.48" r="1.02" fill="#a8500f"/>
<circle cx="467.26" cy="434.73" r="1.02" fill="#a8500f"/>
<circle cx="467.26" cy="436.35" r="1.02" fill="#a8500f"/>
<circle cx="467.26" cy="433.37" r="1.02" fill="#a8500f"/>
<text x="465.36" y="453" font-size="5.3" text-anchor="start" fill="#202020" stroke="#202020" stroke-width="0.11" transform="rotate(90 465.36 453)" >CT</text>
<line x1="474.1" y1="448.4" x2="474.1" y2="449.6" stroke="#444" stroke-width="0.45" />
<line x1="474.1" y1="417.7" x2="474.1" y2="428.77" stroke="#c8641c" stroke-width="0.5" />
<rect x="472.25" y="420.26" width="3.7" height="5.96" fill="#f0883a" fill-opacity="0.85" stroke="#c8641c" stroke-width="0.45"/>
<rect x="473.15" y="421.16" width="1.9" height="4.16" fill="none" stroke="#fff" stroke-opacity="0.55" stroke-width="0.35" stroke-dasharray="0.5 0.5"/>
<line x1="472.25" y1="423.66" x2="475.95" y2="423.66" stroke="#c8641c" stroke-width="0.5" />
<circle cx="474.1" cy="428.77" r="1.02" fill="#a8500f"/>
<circle cx="474.1" cy="417.7" r="1.02" fill="#a8500f"/>
<circle cx="474.1" cy="423.66" r="1.02" fill="#a8500f"/>
<circle cx="474.1" cy="424.43" r="1.02" fill="#a8500f"/>
<circle cx="474.1" cy="421.45" r="1.02" fill="#a8500f"/>
<text x="472.2" y="453" font-size="5.3" text-anchor="start" fill="#202020" stroke="#202020" stroke-width="0.11" transform="rotate(90 472.2 453)" >HT+CT</text>
<line x1="480.94" y1="448.4" x2="480.94" y2="449.6" stroke="#444" stroke-width="0.45" />
<line x1="480.94" y1="383.64" x2="480.94" y2="404.08" stroke="#c8641c" stroke-width="0.5" />
<rect x="479.09" y="389.6" width="3.7" height="10.22" fill="#f0883a" fill-opacity="0.85" stroke="#c8641c" stroke-width="0.45"/>
<rect x="479.99" y="390.5" width="1.9" height="8.42" fill="none" stroke="#fff" stroke-opacity="0.55" stroke-width="0.35" stroke-dasharray="0.5 0.5"/>
<line x1="479.09" y1="395.56" x2="482.79" y2="395.56" stroke="#c8641c" stroke-width="0.5" />
<circle cx="480.94" cy="404.08" r="1.02" fill="#a8500f"/>
<circle cx="480.94" cy="383.64" r="1.02" fill="#a8500f"/>
<circle cx="480.94" cy="395.56" r="1.02" fill="#a8500f"/>
<circle cx="480.94" cy="396.76" r="1.02" fill="#a8500f"/>
<circle cx="480.94" cy="391.65" r="1.02" fill="#a8500f"/>
<text x="479.04" y="453" font-size="5.3" text-anchor="start" fill="#202020" stroke="#202020" stroke-width="0.11" transform="rotate(90 479.04 453)" >CT+HSP90i</text>
<line x1="487.78" y1="448.4" x2="487.78" y2="449.6" stroke="#444" stroke-width="0.45" />
<line x1="487.78" y1="400.67" x2="487.78" y2="419.41" stroke="#c8641c" stroke-width="0.5" />
<rect x="485.93" y="404.93" width="3.7" height="10.22" fill="#f0883a" fill-opacity="0.85" stroke="#c8641c" stroke-width="0.45"/>
<rect x="486.83" y="405.83" width="1.9" height="8.42" fill="none" stroke="#fff" stroke-opacity="0.55" stroke-width="0.35" stroke-dasharray="0.5 0.5"/>
<line x1="485.93" y1="410.04" x2="489.63" y2="410.04" stroke="#c8641c" stroke-width="0.5" />
<circle cx="487.78" cy="419.41" r="1.02" fill="#a8500f"/>
<circle cx="487.78" cy="400.67" r="1.02" fill="#a8500f"/>
<circle cx="487.78" cy="410.04" r="1.02" fill="#a8500f"/>
<circle cx="487.78" cy="412.08" r="1.02" fill="#a8500f"/>
<circle cx="487.78" cy="406.97" r="1.02" fill="#a8500f"/>
<text x="485.88" y="453" font-size="5.3" text-anchor="start" fill="#202020" stroke="#202020" stroke-width="0.11" transform="rotate(90 485.88 453)" >HT+CT+HSP90i</text>
<line x1="494.62" y1="448.4" x2="494.62" y2="449.6" stroke="#444" stroke-width="0.45" />
<line x1="494.62" y1="413.45" x2="494.62" y2="431.33" stroke="#1f7f3a" stroke-width="0.5" />
<rect x="492.77" y="418.56" width="3.7" height="9.37" fill="#35a854" fill-opacity="0.85" stroke="#1f7f3a" stroke-width="0.45"/>
<rect x="493.67" y="419.45" width="1.9" height="7.57" fill="none" stroke="#fff" stroke-opacity="0.55" stroke-width="0.35" stroke-dasharray="0.5 0.5"/>
<line x1="492.77" y1="424.52" x2="496.47" y2="424.52" stroke="#1f7f3a" stroke-width="0.5" />
<circle cx="494.62" cy="431.33" r="1.02" fill="#14682c"/>
<circle cx="494.62" cy="413.45" r="1.02" fill="#14682c"/>
<circle cx="494.62" cy="424.52" r="1.02" fill="#14682c"/>
<circle cx="494.62" cy="425.11" r="1.02" fill="#14682c"/>
<circle cx="494.62" cy="420.43" r="1.02" fill="#14682c"/>
<text x="492.72" y="453" font-size="5.3" text-anchor="start" fill="#202020" stroke="#202020" stroke-width="0.11" transform="rotate(90 492.72 453)" >RT</text>
<line x1="501.46" y1="448.4" x2="501.46" y2="449.6" stroke="#444" stroke-width="0.45" />
<line x1="501.46" y1="401.53" x2="501.46" y2="420.26" stroke="#1f7f3a" stroke-width="0.5" />
<rect x="499.61" y="405.78" width="3.7" height="11.07" fill="#35a854" fill-opacity="0.85" stroke="#1f7f3a" stroke-width="0.45"/>
<rect x="500.51" y="406.68" width="1.9" height="9.27" fill="none" stroke="#fff" stroke-opacity="0.55" stroke-width="0.35" stroke-dasharray="0.5 0.5"/>
<line x1="499.61" y1="409.19" x2="503.31" y2="409.19" stroke="#1f7f3a" stroke-width="0.5" />
<circle cx="501.46" cy="420.26" r="1.02" fill="#14682c"/>
<circle cx="501.46" cy="401.53" r="1.02" fill="#14682c"/>
<circle cx="501.46" cy="409.19" r="1.02" fill="#14682c"/>
<circle cx="501.46" cy="413.53" r="1.02" fill="#14682c"/>
<circle cx="501.46" cy="408" r="1.02" fill="#14682c"/>
<text x="499.56" y="453" font-size="5.3" text-anchor="start" fill="#202020" stroke="#202020" stroke-width="0.11" transform="rotate(90 499.56 453)" >HT+RT</text>
<line x1="508.3" y1="448.4" x2="508.3" y2="449.6" stroke="#444" stroke-width="0.45" />
<line x1="508.3" y1="400.67" x2="508.3" y2="410.89" stroke="#1f7f3a" stroke-width="0.5" />
<rect x="506.45" y="402.38" width="3.7" height="6.81" fill="#35a854" fill-opacity="0.85" stroke="#1f7f3a" stroke-width="0.45"/>
<rect x="507.35" y="403.28" width="1.9" height="5.01" fill="none" stroke="#fff" stroke-opacity="0.55" stroke-width="0.35" stroke-dasharray="0.5 0.5"/>
<line x1="506.45" y1="404.93" x2="510.15" y2="404.93" stroke="#1f7f3a" stroke-width="0.5" />
<circle cx="508.3" cy="410.89" r="1.02" fill="#14682c"/>
<circle cx="508.3" cy="400.67" r="1.02" fill="#14682c"/>
<circle cx="508.3" cy="404.93" r="1.02" fill="#14682c"/>
<circle cx="508.3" cy="407.14" r="1.02" fill="#14682c"/>
<circle cx="508.3" cy="403.74" r="1.02" fill="#14682c"/>
<text x="506.4" y="453" font-size="5.3" text-anchor="start" fill="#202020" stroke="#202020" stroke-width="0.11" transform="rotate(90 506.4 453)" >RT+HSP90i</text>
<line x1="515.14" y1="448.4" x2="515.14" y2="449.6" stroke="#444" stroke-width="0.45" />
<line x1="515.14" y1="388.75" x2="515.14" y2="423.66" stroke="#1f7f3a" stroke-width="0.5" />
<rect x="513.29" y="390.46" width="3.7" height="17.03" fill="#35a854" fill-opacity="0.85" stroke="#1f7f3a" stroke-width="0.45"/>
<rect x="514.19" y="391.36" width="1.9" height="15.23" fill="none" stroke="#fff" stroke-opacity="0.55" stroke-width="0.35" stroke-dasharray="0.5 0.5"/>
<line x1="513.29" y1="397.27" x2="516.99" y2="397.27" stroke="#1f7f3a" stroke-width="0.5" />
<circle cx="515.14" cy="423.66" r="1.02" fill="#14682c"/>
<circle cx="515.14" cy="388.75" r="1.02" fill="#14682c"/>
<circle cx="515.14" cy="397.27" r="1.02" fill="#14682c"/>
<circle cx="515.14" cy="402.38" r="1.02" fill="#14682c"/>
<circle cx="515.14" cy="393.86" r="1.02" fill="#14682c"/>
<text x="513.24" y="453" font-size="5.3" text-anchor="start" fill="#202020" stroke="#202020" stroke-width="0.11" transform="rotate(90 513.24 453)" >HT+RT+HSP90i</text>
<rect x="340.4" y="358.9" width="4.6" height="4.6" fill="#2b7fc4" fill-opacity="0.85" stroke="#1c5f9c" stroke-width="0.45"/>
<rect x="341.6" y="360.1" width="2.2" height="2.2" fill="none" stroke="#fff" stroke-opacity="0.7" stroke-width="0.4"/>
<text x="349.7" y="363" font-size="5.25" text-anchor="start" fill="#202020" stroke="#202020" stroke-width="0.1" >no extra modality</text>
<rect x="340.4" y="367" width="4.6" height="4.6" fill="#f0883a" fill-opacity="0.85" stroke="#c8641c" stroke-width="0.45"/>
<rect x="341.6" y="368.2" width="2.2" height="2.2" fill="none" stroke="#fff" stroke-opacity="0.7" stroke-width="0.4"/>
<text x="349.7" y="371.1" font-size="5.25" text-anchor="start" fill="#202020" stroke="#202020" stroke-width="0.1" >cisplatin</text>
<rect x="340.4" y="374.6" width="4.6" height="4.6" fill="#35a854" fill-opacity="0.85" stroke="#1f7f3a" stroke-width="0.45"/>
<rect x="341.6" y="375.8" width="2.2" height="2.2" fill="none" stroke="#fff" stroke-opacity="0.7" stroke-width="0.4"/>
<text x="349.7" y="378.7" font-size="5.25" text-anchor="start" fill="#202020" stroke="#202020" stroke-width="0.1" >radiotherapy</text>
<path d="M494.6 384.7 L494.6 349.2 L515.1 349.2 L515.1 356.6" fill="none" stroke="#333" stroke-width="0.5"/>
<path d="M504.7 384.1 L504.7 358.6 L515.1 358.6 L515.1 360.8" fill="none" stroke="#333" stroke-width="0.5"/>
<line x1="501.2" y1="384.1" x2="508.2" y2="384.1" stroke="#333" stroke-width="0.5" />
<text x="504.9" y="350.4" font-size="5" text-anchor="middle" fill="#202020" stroke="#202020" stroke-width="0.1" >*</text>
<text x="509.9" y="357.6" font-size="3.6" text-anchor="middle" fill="#202020" stroke="#202020" stroke-width="0.07" >n.s.</text>
</g>
</svg>
</body></html>
